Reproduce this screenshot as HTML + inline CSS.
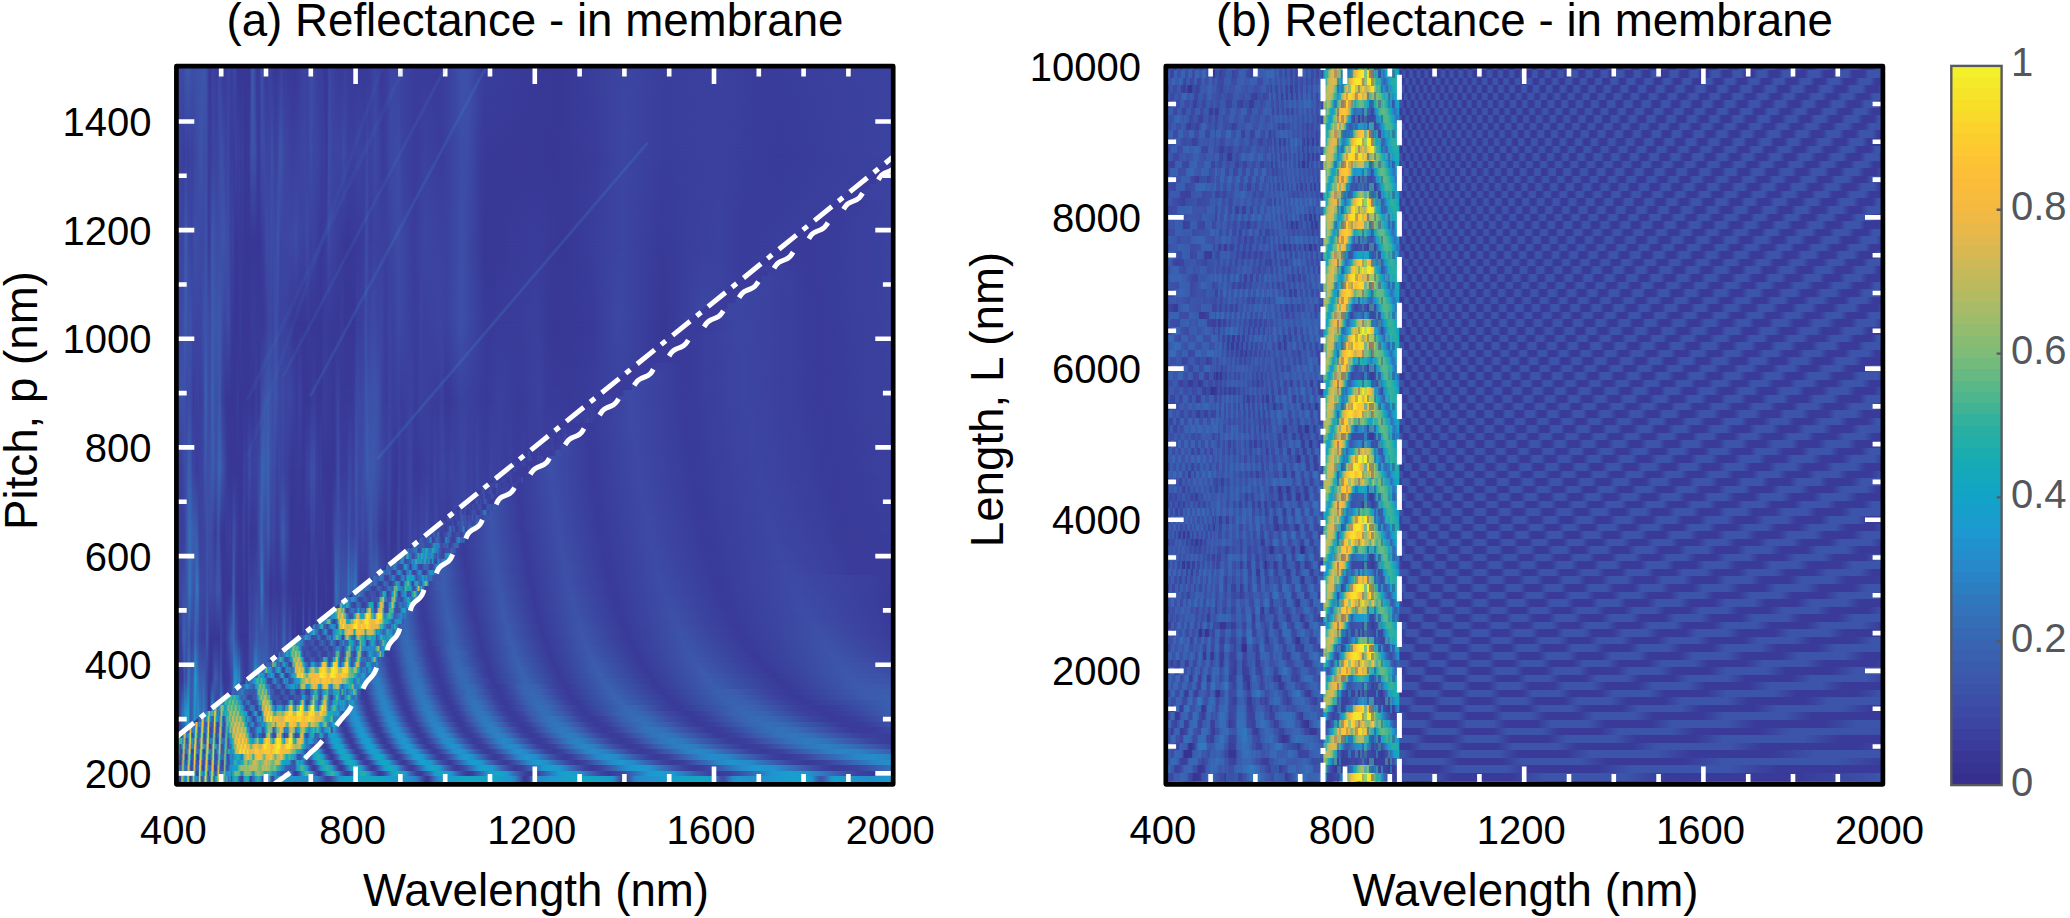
<!DOCTYPE html>
<html lang="en"><head><meta charset="utf-8"><title>Reflectance - in membrane</title>
<style>
html,body{margin:0;padding:0;background:#fff}
body{width:2070px;height:918px;position:relative;overflow:hidden;font-family:"Liberation Sans",Arial,sans-serif}
.hm{position:absolute;overflow:hidden}
.hm i{position:absolute;left:0;width:100%;display:block}
.hm b,.ov{position:absolute;left:0;top:0;display:block}
.ov{width:100%;height:100%}
svg{position:absolute;left:0;top:0}
text{font-family:"Liberation Sans",Arial,sans-serif;fill:#000}
.tk{font-size:40px}
.ti{font-size:45.7px}
.cb{font-size:40px;fill:#53575c}
</style></head>
<body>
<div class="hm" style="left:176.4px;top:66.2px;width:716.8px;height:718.1px;background:#3b3b9a">
<i style="top:0px;height:4.29px;background:linear-gradient(90deg,#3a3c9b 0%,#3a3c9b 100%)"></i>
<i style="top:3.69px;height:6.03px;background:linear-gradient(90deg,#3a3c9b 0%,#3a3c9b 100%)"></i>
<i style="top:9.12px;height:6.03px;background:linear-gradient(90deg,#3a3c9b 0%,#3a3c9b 100%)"></i>
<i style="top:14.56px;height:6.03px;background:linear-gradient(90deg,#3a3c9b 0%,#3a3c9b 100%)"></i>
<i style="top:19.99px;height:6.03px;background:linear-gradient(90deg,#3a3c9b 0%,#3a3c9b 100%)"></i>
<i style="top:25.42px;height:6.03px;background:linear-gradient(90deg,#3a3c9b 0%,#3a3c9b 100%)"></i>
<i style="top:30.85px;height:6.03px;background:linear-gradient(90deg,#3a3c9b 0%,#3a3c9b 100%)"></i>
<i style="top:36.29px;height:6.03px;background:linear-gradient(90deg,#3a3c9b 0%,#3a3c9b 100%)"></i>
<i style="top:41.72px;height:6.03px;background:linear-gradient(90deg,#3a3c9b 0%,#3a3c9b 100%)"></i>
<i style="top:47.15px;height:6.03px;background:linear-gradient(90deg,#3a3c9b 0%,#3a3c9b 100%)"></i>
<i style="top:52.58px;height:6.03px;background:linear-gradient(90deg,#3a3c9b 0%,#3a3c9b 100%)"></i>
<i style="top:58.02px;height:6.03px;background:linear-gradient(90deg,#3a3c9b 0%,#3a3c9b 100%)"></i>
<i style="top:63.45px;height:6.03px;background:linear-gradient(90deg,#3a3c9b 0%,#3a3c9b 100%)"></i>
<i style="top:68.88px;height:6.03px;background:linear-gradient(90deg,#3a3c9b 0%,#3a3c9b 100%)"></i>
<i style="top:74.31px;height:6.03px;background:linear-gradient(90deg,#3a3c9b 0%,#3a3c9b 100%)"></i>
<i style="top:79.75px;height:6.03px;background:linear-gradient(90deg,#3a3c9b 0%,#3a3c9b 100%)"></i>
<i style="top:85.18px;height:6.03px;background:linear-gradient(90deg,#3a3c9b 0%,#3a3c9b 100%)"></i>
<i style="top:90.61px;height:6.03px;background:linear-gradient(90deg,#3a3c9b 0%,#3a3b9a 100%)"></i>
<i style="top:96.04px;height:6.03px;background:linear-gradient(90deg,#3a3c9b 0%,#3a3b9a 100%)"></i>
<i style="top:101.48px;height:6.03px;background:linear-gradient(90deg,#3a3c9b 0%,#3a3b9a 99.4%,#3b43a0 99.6%,#3b43a0 100%)"></i>
<i style="top:106.91px;height:6.03px;background:linear-gradient(90deg,#3a3c9b 0%,#3a3b9a 98.5%,#3b43a0 98.6%,#3b43a0 100%)"></i>
<i style="top:112.34px;height:6.03px;background:linear-gradient(90deg,#3a3c9b 0%,#3a3b9a 97.6%,#3b42a0 97.8%,#3b43a0 100%)"></i>
<i style="top:117.77px;height:6.03px;background:linear-gradient(90deg,#3a3c9b 0%,#3a3b9a 96.7%,#3b429f 96.8%,#3b43a0 100%)"></i>
<i style="top:123.21px;height:6.03px;background:linear-gradient(90deg,#3a3c9b 0%,#3a3b9a 95.7%,#3b419f 96%,#3b43a0 100%)"></i>
<i style="top:128.64px;height:6.03px;background:linear-gradient(90deg,#3a3c9b 0%,#3a3b9a 95%,#3b409e 95.1%,#3b43a0 100%)"></i>
<i style="top:134.07px;height:6.03px;background:linear-gradient(90deg,#3a3c9b 0%,#3a3b9a 94%,#3b43a0 100%)"></i>
<i style="top:139.5px;height:6.03px;background:linear-gradient(90deg,#3a3c9b 0%,#3a3b9a 93.2%,#3b42a0 100%)"></i>
<i style="top:144.94px;height:6.03px;background:linear-gradient(90deg,#3a3c9b 0%,#3a3b9a 92.2%,#3b42a0 100%)"></i>
<i style="top:150.37px;height:6.03px;background:linear-gradient(90deg,#3a3c9b 0%,#3a3b9a 91.2%,#3b42a0 100%)"></i>
<i style="top:155.8px;height:6.03px;background:linear-gradient(90deg,#3a3c9b 0%,#3a3b9a 90.5%,#3b42a0 100%)"></i>
<i style="top:161.23px;height:6.03px;background:linear-gradient(90deg,#3a3c9b 0%,#393a99 89.7%,#3b42a0 100%)"></i>
<i style="top:166.67px;height:6.03px;background:linear-gradient(90deg,#3a3c9b 0%,#393a99 88.8%,#3b42a0 100%)"></i>
<i style="top:172.1px;height:6.03px;background:linear-gradient(90deg,#3a3c9b 0%,#393a99 88.6%,#3b42a0 100%)"></i>
<i style="top:177.53px;height:6.03px;background:linear-gradient(90deg,#3a3c9b 0%,#393a99 88.7%,#3b42a0 100%)"></i>
<i style="top:182.96px;height:6.03px;background:linear-gradient(90deg,#3a3c9b 0%,#393a99 88.7%,#3b42a0 100%)"></i>
<i style="top:188.4px;height:6.03px;background:linear-gradient(90deg,#3a3c9b 0%,#393a99 88.8%,#3b42a0 100%)"></i>
<i style="top:193.83px;height:6.03px;background:linear-gradient(90deg,#3a3c9b 0%,#393a99 88.8%,#3b429f 100%)"></i>
<i style="top:199.26px;height:6.03px;background:linear-gradient(90deg,#3a3c9b 0%,#3b3f9d 83.4%,#393a99 88.8%,#3b429f 100%)"></i>
<i style="top:204.69px;height:6.03px;background:linear-gradient(90deg,#3a3c9b 0%,#3a3b9a 82.4%,#3b419f 82.6%,#393a99 89%,#3b429f 100%)"></i>
<i style="top:210.13px;height:6.03px;background:linear-gradient(90deg,#3a3c9b 0%,#3a3b9a 81.6%,#3b43a0 81.7%,#393a99 89%,#3b429f 100%)"></i>
<i style="top:215.56px;height:6.03px;background:linear-gradient(90deg,#3a3c9b 0%,#3a3b9a 80.6%,#3c44a1 80.8%,#393a99 89.1%,#3b429f 100%)"></i>
<i style="top:220.99px;height:6.03px;background:linear-gradient(90deg,#3a3c9b 0%,#3a3b9a 79.8%,#3c45a2 79.9%,#393a99 89.1%,#3b429f 100%)"></i>
<i style="top:226.42px;height:6.03px;background:linear-gradient(90deg,#3a3c9b 0%,#3a3b9a 78.8%,#3c46a2 78.9%,#393a99 89.3%,#3b429f 100%)"></i>
<i style="top:231.86px;height:6.03px;background:linear-gradient(90deg,#3a3c9b 0%,#3a3b9a 78%,#3c46a3 78.1%,#3c46a3 78.4%,#393a99 89.4%,#3b429f 100%)"></i>
<i style="top:237.29px;height:6.03px;background:linear-gradient(90deg,#3a3c9b 0%,#3a3b9a 76.8%,#3c46a2 77.1%,#3c46a2 78.4%,#393a99 89.4%,#3b429f 100%)"></i>
<i style="top:242.72px;height:6.03px;background:linear-gradient(90deg,#3a3c9b 0%,#3a3b9a 76.2%,#3c44a1 76.3%,#3c46a2 78.5%,#393a99 89.5%,#3b429f 100%)"></i>
<i style="top:248.15px;height:6.03px;background:linear-gradient(90deg,#3a3c9b 0%,#3a3b9a 75.2%,#3b43a0 75.3%,#3c46a2 78.5%,#393a99 89.5%,#3b429f 100%)"></i>
<i style="top:253.59px;height:6.03px;background:linear-gradient(90deg,#3a3c9b 0%,#3a3b9a 74.1%,#3c46a2 78.7%,#393a99 89.7%,#3b429f 100%)"></i>
<i style="top:259.02px;height:6.03px;background:linear-gradient(90deg,#3a3c9b 0%,#3a3b9a 73.4%,#3c46a2 78.7%,#393a99 89.7%,#3b429f 100%)"></i>
<i style="top:264.45px;height:6.03px;background:linear-gradient(90deg,#3a3c9b 0%,#3a3b9a 71.8%,#3c46a2 78.8%,#393a99 89.8%,#3b429f 100%)"></i>
<i style="top:269.88px;height:6.03px;background:linear-gradient(90deg,#3a3c9b 0%,#3a3b9a 71.7%,#3c46a2 78.8%,#393a99 90%,#3b429f 100%)"></i>
<i style="top:275.32px;height:6.03px;background:linear-gradient(90deg,#3a3c9b 0%,#393a99 70.7%,#3c46a2 78.9%,#393a99 90%,#3b429f 100%)"></i>
<i style="top:280.75px;height:6.03px;background:linear-gradient(90deg,#3a3c9b 0%,#393a99 70.7%,#3c45a2 78.9%,#393a99 90.1%,#3b419f 100%)"></i>
<i style="top:286.18px;height:6.03px;background:linear-gradient(90deg,#3a3c9b 0%,#393a99 70.7%,#3c45a2 79.1%,#393a99 90.2%,#3b419f 100%)"></i>
<i style="top:291.61px;height:6.03px;background:linear-gradient(90deg,#3a3c9b 0%,#393a99 70.9%,#3c45a2 79.2%,#393a99 90.2%,#3b419f 100%)"></i>
<i style="top:297.05px;height:6.03px;background:linear-gradient(90deg,#3a3c9b 0%,#3a3b9a 66.1%,#3b409e 67.2%,#393a99 70.9%,#3c45a2 79.2%,#393a99 90.4%,#3b419f 100%)"></i>
<i style="top:302.48px;height:6.03px;background:linear-gradient(90deg,#3a3c9b 0%,#3a3b9a 65.3%,#3a3b9a 66%,#3c44a1 66.2%,#393a99 71%,#3c45a2 79.4%,#393a99 90.5%,#3b419f 100%)"></i>
<i style="top:307.91px;height:6.03px;background:linear-gradient(90deg,#3a3c9b 0%,#3a3b9a 64.3%,#3a3b9a 65.3%,#3c47a3 65.4%,#393a99 70.7%,#3c45a2 78.9%,#393a99 89.8%,#3b419f 100%)"></i>
<i style="top:313.34px;height:6.03px;background:linear-gradient(90deg,#3a3c9b 0%,#3a3b9a 64%,#3b3f9d 64.3%,#3d49a5 64.4%,#393a99 70.7%,#3c45a2 79.1%,#393a99 90%,#3b419f 100%)"></i>
<i style="top:318.78px;height:6.03px;background:linear-gradient(90deg,#3a3c9b 0%,#3a3b9a 63.5%,#3d4aa6 63.6%,#393a99 70.7%,#3c45a2 79.2%,#393a99 90%,#3b419f 100%)"></i>
<i style="top:324.21px;height:6.03px;background:linear-gradient(90deg,#3a3c9b 0%,#3a3b9a 61.5%,#3a3c9b 62.3%,#3d4aa5 62.6%,#3d4aa6 63.3%,#393a99 70.9%,#3c45a2 79.2%,#393a99 90.1%,#3b419f 100%)"></i>
<i style="top:329.64px;height:6.03px;background:linear-gradient(90deg,#3a3c9b 0%,#3a3b9a 59%,#3b409e 60%,#3a3b9a 61.6%,#3c48a4 61.8%,#3d4aa5 63.5%,#393a99 71%,#3c45a2 79.4%,#393a99 90.2%,#3b419f 100%)"></i>
<i style="top:335.07px;height:6.03px;background:linear-gradient(90deg,#3a3c9b 0%,#3a3b9a 58%,#3b429f 58.4%,#3a3b9a 59.6%,#3d4aa5 63.5%,#393a99 71%,#3c45a2 79.5%,#393a99 90.2%,#3b419f 100%)"></i>
<i style="top:340.51px;height:6.03px;background:linear-gradient(90deg,#3a3c9b 0%,#3a3b9a 56.5%,#3b429f 56.6%,#3a3b9a 57%,#3b42a0 57.7%,#3a3b9a 58.7%,#3d4aa5 63.6%,#393a99 71.1%,#3c45a2 79.6%,#393a99 90.4%,#3b419f 100%)"></i>
<i style="top:345.94px;height:6.03px;background:linear-gradient(90deg,#3a3c9b 0%,#3b409e 57.5%,#3a3b9a 57.6%,#3b42a0 57.9%,#3a3c9b 59%,#3d4aa5 63.6%,#393a99 71.1%,#3c45a2 79.8%,#393a99 90.5%,#3b419f 100%)"></i>
<i style="top:351.37px;height:6.03px;background:linear-gradient(90deg,#3a3c9b 0%,#3a3b9a 54.7%,#3b43a0 54.8%,#3a3b9a 55.2%,#3b43a0 56.2%,#3a3b9a 56.3%,#3a3b9a 56.6%,#3c46a2 57.5%,#3a3d9b 57.7%,#3b43a0 58%,#3a3b9a 58.3%,#3d4aa5 63.7%,#393a99 71.3%,#3c45a2 79.8%,#393a99 90.7%,#3b419e 100%)"></i>
<i style="top:356.8px;height:6.03px;background:linear-gradient(90deg,#3a3c9b 0%,#393a99 57.7%,#3d4aa5 63.7%,#393a99 71.4%,#3c45a2 79.9%,#393a99 90.8%,#3b419e 100%)"></i>
<i style="top:362.24px;height:6.03px;background:linear-gradient(90deg,#3a3c9b 0%,#3a3c9b 52.6%,#3c44a1 52.7%,#3a3b9a 53.7%,#3b43a0 54%,#3a3c9b 54.1%,#3c44a1 54.3%,#3a3b9a 54.4%,#3a3b9a 55%,#3a3d9c 56.2%,#3c44a1 56.3%,#3a3c9b 56.5%,#393a99 57.7%,#3d4aa5 63.9%,#393a99 71.4%,#3c45a2 80.1%,#393a99 90.8%,#3b419e 100%)"></i>
<i style="top:367.67px;height:6.03px;background:linear-gradient(90deg,#3a3c9b 0%,#3a3c9b 52.3%,#3b43a0 52.4%,#3a3b9a 52.7%,#3a3c9b 53.3%,#3c44a1 53.4%,#3a3b9a 53.6%,#3a3b9a 53.8%,#3c48a4 54.4%,#3a3e9d 54.5%,#3a3d9c 54.8%,#3c45a2 55%,#3a3d9c 55.1%,#393a99 57.9%,#3d49a5 63.9%,#393a99 71.5%,#3c45a2 80.2%,#393a99 90.9%,#3b409e 100%)"></i>
<i style="top:373.1px;height:6.03px;background:linear-gradient(90deg,#3a3c9b 0%,#3a3c9b 50.8%,#3c47a3 50.9%,#3a3e9c 51%,#3a3c9b 51.3%,#3a3c9b 52.3%,#3c44a1 52.4%,#3a3b9a 52.6%,#3a3b9a 53%,#3a3e9d 53.6%,#3c48a4 53.7%,#3a3c9b 53.8%,#3c45a2 54.3%,#3a3d9c 54.4%,#3c44a1 54.8%,#393a99 57.9%,#3d49a5 64%,#393a99 71.7%,#3c45a2 80.3%,#393a99 91.1%,#3b409e 100%)"></i>
<i style="top:378.53px;height:6.03px;background:linear-gradient(90deg,#3a3c9b 0%,#3a3c9b 49.8%,#3d4aa5 49.9%,#3a3e9d 50.1%,#3d4aa5 50.2%,#3a3c9b 50.3%,#3a3b9a 50.8%,#3c44a1 50.9%,#3a3c9b 51.2%,#3c45a2 51.3%,#3a3c9b 51.5%,#3c44a1 51.7%,#3a3b9a 51.9%,#3b43a0 52%,#3a3b9a 52.2%,#3c45a2 52.3%,#3a3c9b 52.4%,#3c48a4 52.6%,#3a3e9c 52.7%,#3a3c9b 53.1%,#3c45a2 53.3%,#3a3c9b 53.4%,#3a3e9d 53.6%,#3d4ba6 53.7%,#393a99 57.7%,#3d49a5 64%,#393a99 71.7%,#3c45a2 80.5%,#393a99 91.2%,#3b409e 100%)"></i>
<i style="top:383.97px;height:6.03px;background:linear-gradient(90deg,#3a3c9b 0%,#3a3c9b 49%,#3d4ca6 49.1%,#3d4ca6 49.2%,#3a3c9b 49.5%,#3a3d9c 50.5%,#3c45a1 50.6%,#3a3b9a 50.8%,#3a3b9a 51.2%,#3a3c9b 52.4%,#3b43a0 52.9%,#3d4ea7 53%,#393a99 57.9%,#3d49a5 64.2%,#393a99 71.8%,#3c45a2 80.6%,#393a99 91.4%,#3b409e 100%)"></i>
<i style="top:389.4px;height:6.03px;background:linear-gradient(90deg,#3a3c9b 0%,#3a3c9b 48%,#3b42a0 48.4%,#3a3c9b 48.7%,#3a3c9b 49%,#3d4aa5 49.1%,#3b3f9d 49.2%,#3d4aa5 49.4%,#3a3d9b 49.7%,#3a3b9a 50.2%,#3c48a4 50.6%,#3a3c9b 50.8%,#3c47a3 51%,#3a3c9b 51.2%,#3a3c9b 51.5%,#3b43a0 52%,#3d4fa8 52.2%,#393a99 57.9%,#3d49a5 64.3%,#393a99 72%,#3c45a2 80.8%,#393a99 91.5%,#3b409e 100%)"></i>
<i style="top:394.83px;height:6.03px;background:linear-gradient(90deg,#3a3c9b 0%,#3a3c9b 47%,#3d52a9 47.1%,#3b409e 47.3%,#3a3c9b 47.6%,#3b3f9d 48.3%,#3d4ca7 48.4%,#3a3d9c 48.5%,#3d4aa5 48.7%,#3a3c9b 48.8%,#3a3b9a 49.1%,#3a3b9a 50.5%,#3b3f9d 50.8%,#3d4da7 50.9%,#3b429f 51%,#3d4da7 51.2%,#3d4fa8 52.3%,#393a99 58%,#3d49a5 64.3%,#393a99 72%,#3c45a2 80.9%,#393a99 91.6%,#3b409e 100%)"></i>
<i style="top:400.26px;height:6.03px;background:linear-gradient(90deg,#3a3c9b 0%,#3a3c9b 46%,#3c54aa 46.2%,#3b429f 46.3%,#3b3f9d 46.4%,#3d49a5 46.6%,#3a3d9c 46.7%,#3a3c9b 47%,#3d4aa5 47.1%,#3b419e 47.4%,#3a3b9a 48.3%,#3a3c9b 49.1%,#3d49a4 49.2%,#3a3c9b 49.4%,#3a3b9a 49.7%,#3b409e 50.2%,#3c48a4 50.3%,#3d4fa8 52.3%,#393a99 58%,#3d49a5 64.4%,#393a99 72.1%,#3c45a2 81%,#393a99 91.6%,#3b409e 100%)"></i>
<i style="top:405.7px;height:6.03px;background:linear-gradient(90deg,#3a3c9b 0%,#3a3c9b 45.2%,#3c44a1 45.6%,#3a3c9b 45.7%,#3a3e9c 46%,#3d4ba6 46.2%,#3b43a0 46.3%,#3b42a0 46.9%,#3a3c9b 47%,#3a3b9a 48.7%,#3d4fa8 52.4%,#393a99 58.2%,#3d49a5 64.6%,#393a99 72.2%,#3c45a2 81.2%,#393a99 91.8%,#3b409e 100%)"></i>
<i style="top:411.13px;height:6.03px;background:linear-gradient(90deg,#3a3c9b 0%,#3a3c9b 44.2%,#3c47a3 44.4%,#3a3c9b 44.8%,#3c45a2 45.6%,#3a3b9a 46.4%,#3a3e9d 46.6%,#3d4ea7 46.7%,#3a3d9c 46.9%,#3a3c9b 47.6%,#3d4aa5 47.7%,#3b3f9d 47.8%,#3b3f9d 48.1%,#3c52aa 48.3%,#3b409e 48.4%,#3a3c9b 48.5%,#3d4ea8 52.4%,#393a99 58.2%,#3d49a5 64.7%,#393a99 72.4%,#3c45a2 81.3%,#393a99 91.9%,#3b3f9e 100%)"></i>
<i style="top:416.56px;height:6.03px;background:linear-gradient(90deg,#3a3c9b 0%,#3a3c9b 43.2%,#3c56ac 43.4%,#3c46a2 43.5%,#3a3d9c 43.8%,#3d4da7 43.9%,#3a3e9d 44.1%,#3d4fa8 44.2%,#3a3d9c 44.4%,#3b43a0 44.5%,#3c57ac 44.6%,#3c56ac 44.8%,#3a3d9c 45%,#3d4da7 45.2%,#3a3c9b 45.3%,#3c44a1 46%,#3a3b9a 46.7%,#3d4ba6 46.9%,#3b3f9d 47%,#3c44a1 47.4%,#393a99 47.6%,#393a99 47.7%,#3d4ea8 52.6%,#393a99 58.3%,#3d49a5 64.7%,#393a99 72.5%,#3c46a2 81.5%,#393a99 92.1%,#3b3f9d 100%)"></i>
<i style="top:421.99px;height:6.03px;background:linear-gradient(90deg,#3a3c9b 0%,#3a3c9b 42.4%,#3d4fa8 42.8%,#3d4fa8 43%,#3a3d9b 43.1%,#3a3e9d 43.4%,#3c48a4 43.5%,#3c44a1 43.8%,#3c58ac 43.9%,#3a3d9c 44.1%,#3a3c9b 44.6%,#3c53aa 44.8%,#3b409e 44.9%,#3c45a2 45.2%,#3b409e 45.6%,#3d4da7 45.7%,#3a3c9b 45.9%,#3d51a9 46%,#3b3f9d 46.2%,#3c46a2 46.3%,#3a3d9c 46.6%,#393a99 47.7%,#3d4ea8 52.6%,#393a99 58.4%,#3d49a5 64.9%,#393a99 72.7%,#3c46a2 81.7%,#393a99 92.2%,#3b3f9d 100%)"></i>
<i style="top:427.43px;height:6.03px;background:linear-gradient(90deg,#3a3c9b 0%,#3a3c9b 41.4%,#3c46a2 41.8%,#3a3d9c 42.1%,#3d51a9 42.3%,#3a3e9c 42.4%,#3c47a3 42.7%,#3b409e 42.8%,#3c59ad 43%,#3a3c9b 43.2%,#3b42a0 43.9%,#3b5cae 44.1%,#3c44a1 44.2%,#3a3c9b 44.8%,#3c48a4 45.6%,#393a99 47.8%,#3d4ea8 52.7%,#393a99 58.4%,#3d49a5 65%,#393a99 72.7%,#3c46a2 81.9%,#393a99 92.3%,#3b3f9d 100%)"></i>
<i style="top:432.86px;height:6.03px;background:linear-gradient(90deg,#3a3c9b 0%,#3a3c9b 40.4%,#3b419e 40.6%,#3b5bae 40.7%,#3c44a1 40.9%,#3a3d9c 41%,#3a3d9c 41.6%,#3c46a2 41.7%,#3b43a0 41.8%,#3b5bae 42%,#3a3d9c 42.3%,#3a3e9c 42.4%,#3d50a9 42.5%,#3a3c9b 42.7%,#3b429f 42.8%,#3c5aad 43%,#3c44a1 43.1%,#3962b1 43.2%,#3c45a2 43.4%,#3a3c9b 43.8%,#3a3d9c 44.4%,#3d4aa5 44.6%,#3960b0 44.8%,#3c47a3 44.9%,#3d4da7 45%,#393a99 47.8%,#3d4ea8 52.9%,#393a99 58.6%,#3d49a5 65.1%,#393a99 72.8%,#3c46a2 82%,#393a99 92.5%,#3b3f9d 100%)"></i>
<i style="top:438.29px;height:6.03px;background:linear-gradient(90deg,#3a3c9b 0%,#3a3c9b 39.5%,#3c59ad 39.6%,#3c46a2 39.7%,#3b409e 40%,#3b409e 40.3%,#3c55ab 40.4%,#3a3e9c 40.6%,#3c47a3 40.9%,#3a3d9c 41.3%,#3c54ab 41.4%,#3a3e9c 41.6%,#3d51a9 42.4%,#3a3c9b 42.8%,#3a3c9b 43%,#3b3f9d 43.2%,#3c55ab 43.4%,#3d50a8 43.7%,#3c57ac 43.9%,#3b42a0 44.1%,#3b5cae 44.2%,#3c52aa 44.4%,#393a99 48%,#3d4ea8 52.9%,#393a99 58.7%,#3d49a5 65.3%,#393a99 72.9%,#3c46a2 82.3%,#393a99 92.6%,#3b3f9d 100%)"></i>
<i style="top:443.72px;height:6.03px;background:linear-gradient(90deg,#3a3c9b 0%,#3a3c9b 38.6%,#3d4aa5 38.8%,#3a3e9d 39.5%,#3c57ac 39.6%,#3a5eaf 39.7%,#3c45a2 39.9%,#3c46a2 40.2%,#3a5fb0 40.3%,#3a3e9c 40.4%,#3a3c9b 40.9%,#3c46a2 41%,#3b429f 41.1%,#3d50a9 41.4%,#3d4da7 41.8%,#3b3f9d 42%,#3a3e9d 42.3%,#3b3f9d 42.4%,#3d4ea7 42.5%,#3d50a8 42.7%,#3b5daf 42.8%,#2e7abf 43%,#2f7abf 43.1%,#346db7 43.2%,#3d4fa8 43.4%,#3a3e9d 43.5%,#3c54ab 43.7%,#393a99 48.1%,#3d4ea8 53%,#393a99 58.9%,#3d49a5 65.4%,#393a99 73.1%,#3c46a2 82.4%,#393a99 92.7%,#3a3e9d 100%)"></i>
<i style="top:449.16px;height:6.03px;background:linear-gradient(90deg,#3a3c9b 0%,#3a3c9b 37.7%,#3d4da7 37.9%,#3b42a0 38.4%,#3c5aad 38.5%,#3a3e9d 38.6%,#3c45a2 39.2%,#3a3e9c 39.5%,#3c59ad 39.6%,#3d4aa5 39.7%,#3865b2 39.9%,#3d51a9 40%,#3d51a9 40.3%,#3b43a0 40.7%,#3c57ac 41%,#3a3d9c 41.1%,#3b5bae 41.3%,#3b5bae 41.4%,#3a3e9d 41.6%,#3c56ab 41.8%,#3c58ad 42.1%,#3d49a5 42.4%,#3d4fa8 42.5%,#3c45a1 42.8%,#3c52aa 43%,#3c54ab 43.9%,#393a99 48.1%,#3d4ea8 53.1%,#393a99 58.9%,#3d4aa5 65.6%,#393a99 73.2%,#3c46a3 82.6%,#393a99 93%,#3a3e9d 100%)"></i>
<i style="top:454.59px;height:6.03px;background:linear-gradient(90deg,#3a3c9b 0%,#3a3c9b 36.7%,#3c46a3 36.8%,#3d4ba6 37.4%,#3b419e 37.5%,#3c44a1 38.2%,#3a3e9c 38.5%,#3b5bae 38.6%,#3a3d9c 38.8%,#3a3d9c 39.1%,#3b419f 39.2%,#3961b1 39.3%,#3c48a3 39.5%,#3c47a3 39.6%,#3c58ac 39.7%,#3c58ad 39.9%,#356bb6 40%,#3d4da7 40.2%,#3d4ca6 40.3%,#3a5eaf 40.4%,#3b3f9d 40.6%,#3d51a9 40.7%,#3c53aa 41.1%,#3c44a1 41.3%,#3c52aa 41.8%,#2c7ec2 42%,#3d50a9 42.1%,#3d4ca7 42.3%,#3c54aa 44.2%,#393a99 48.1%,#3d4ea8 53.3%,#393a99 59%,#3d4aa5 65.7%,#393a99 73.4%,#3c47a3 82.8%,#393a99 93.2%,#3a3e9c 100%)"></i>
<i style="top:460.02px;height:6.03px;background:linear-gradient(90deg,#3a3c9b 0%,#3a3c9b 35.8%,#3d4ea7 36.1%,#3a3e9c 37.8%,#3d4ca6 37.9%,#3d4ca7 38.1%,#2b80c4 38.2%,#3b5cae 38.4%,#3c47a3 38.5%,#3d49a4 38.6%,#3865b2 38.8%,#3c45a2 38.9%,#3a3e9c 39.3%,#3c52aa 39.5%,#3d50a9 39.9%,#2d7dc1 40%,#2e7bc0 40.2%,#3c52aa 40.3%,#3c46a2 40.4%,#3b43a0 40.6%,#3767b3 40.7%,#3c48a4 40.9%,#2191cd 41%,#3865b2 41.1%,#346db7 41.3%,#3960b0 41.4%,#3c44a1 41.6%,#3c54ab 44.1%,#393a99 48.1%,#3d4ea8 53.3%,#393a99 59.1%,#3d4aa5 65.8%,#393a99 73.6%,#3c47a3 83.1%,#393a99 93.3%,#3a3e9c 100%)"></i>
<i style="top:465.45px;height:6.03px;background:linear-gradient(90deg,#3a3c9b 0%,#3a3c9b 34.9%,#3d52a9 35%,#3c55ab 35.3%,#3d4ca7 35.4%,#3c48a4 35.8%,#3176bc 36%,#3d4da7 36.1%,#3d4da7 36.4%,#3370b9 36.5%,#3962b1 36.7%,#3b409e 36.8%,#3a3e9c 37.1%,#3d4ca6 37.5%,#3d4ca6 37.8%,#3864b2 37.9%,#366ab5 38.1%,#3b5daf 38.2%,#3b5daf 38.4%,#3b409e 38.5%,#3b3f9d 38.6%,#3d52a9 39.3%,#3b42a0 39.5%,#3767b3 39.6%,#3b3f9d 39.7%,#3b3f9d 39.9%,#3c58ad 40%,#3d4ea7 40.2%,#2a82c5 40.3%,#2c7ec2 40.6%,#3864b2 40.7%,#3a60b0 40.9%,#3a3e9c 41%,#3c54ab 43.9%,#393a99 48.4%,#3d4ea8 53.4%,#393a99 59.3%,#3d4aa5 66%,#393a99 73.8%,#3c47a3 83.3%,#3a3a99 93.4%,#3a3d9c 100%)"></i>
<i style="top:470.89px;height:6.03px;background:linear-gradient(90deg,#3a3c9b 0%,#3a3c9b 33.9%,#3864b2 34%,#3d49a4 34.7%,#3d4ea8 35%,#3b5cae 35.1%,#3d4ea8 35.3%,#2a82c4 35.4%,#2a82c4 35.6%,#3b429f 35.7%,#3d4ea7 36.1%,#3768b4 36.3%,#356bb5 36.5%,#3c53aa 36.7%,#3c53aa 36.8%,#3b429f 37%,#3a3e9d 37.4%,#3a5faf 37.5%,#238ecc 37.7%,#3962b1 37.8%,#356bb6 37.9%,#3669b5 38.1%,#3d4ca7 38.2%,#3b429f 38.5%,#3a3e9d 38.9%,#3864b2 39.1%,#3273ba 39.2%,#3273bb 39.3%,#16a0cb 39.5%,#3669b4 39.6%,#3b5cae 39.7%,#3370b9 39.9%,#3d4ea7 40%,#2f78be 40.2%,#393a99 40.3%,#3c54ab 44.1%,#393a99 48.5%,#3d4fa8 53.6%,#393a99 59.4%,#3d4aa5 66.1%,#393a99 73.9%,#3c47a3 83.5%,#3a3a99 93.6%,#3a3d9c 100%)"></i>
<i style="top:476.32px;height:6.03px;background:linear-gradient(90deg,#3a3c9b 0%,#3a3c9b 32.9%,#2b80c4 33.1%,#3c58ac 33.3%,#2290cd 33.5%,#3d52a9 33.6%,#3c57ac 34.2%,#3a5fb0 34.3%,#3d52a9 34.4%,#3a5eaf 34.6%,#3d4ca6 34.7%,#3d4ba6 35.6%,#3865b2 35.7%,#3865b2 35.8%,#17abb3 36%,#2a83c6 36.1%,#2c7ec2 36.5%,#2788c9 36.7%,#3c59ad 36.8%,#3d4aa5 37%,#3c46a3 37.1%,#3c58ad 37.2%,#3c59ad 37.8%,#356bb6 37.9%,#3b419f 38.1%,#3b43a0 38.2%,#3d4ca7 38.5%,#3766b3 38.8%,#3669b5 39.3%,#3d4aa6 39.5%,#3a3c9b 39.6%,#393a99 40%,#3c55ab 44.1%,#393a99 48.7%,#3d4fa8 53.7%,#393a99 59.6%,#3d4aa6 66.2%,#393a99 74.1%,#3c48a3 83.8%,#3a3b9a 93.7%,#3a3d9b 100%)"></i>
<i style="top:481.75px;height:6.03px;background:linear-gradient(90deg,#3a3c9b 0%,#3a3c9b 32.1%,#3b5cae 32.2%,#2f78be 32.4%,#3c54aa 32.6%,#3864b2 32.8%,#3a5daf 32.9%,#3961b1 33.1%,#2985c7 33.2%,#3766b3 33.3%,#2d7cc1 33.5%,#366ab5 33.6%,#3d49a5 33.8%,#3c47a3 34%,#3a5faf 34.2%,#3a60b0 34.3%,#16abb5 34.4%,#2c7fc2 34.6%,#258bca 34.7%,#1fadab 34.9%,#13a6c1 35%,#13a6c1 35.1%,#3272ba 35.3%,#2e7bc0 35.4%,#2e7bc0 35.6%,#248dcb 35.7%,#26afa5 35.8%,#2290cd 36%,#1f96d0 36.1%,#2d7dc1 36.3%,#2c7ec2 36.5%,#3960b0 36.7%,#3b43a0 37.2%,#3b429f 37.4%,#3d4fa8 37.5%,#3d4ca6 38.1%,#3d52a9 38.2%,#3865b2 38.4%,#3c54ab 38.8%,#3960b0 38.9%,#3b42a0 39.1%,#393a99 40.2%,#3c55ab 44.2%,#393a99 48.7%,#3d4fa8 53.8%,#393a99 59.7%,#3d4ba6 66.5%,#393a99 74.2%,#3c48a4 84.1%,#3a3b9a 93.9%,#3a3c9b 100%)"></i>
<i style="top:487.18px;height:6.03px;background:linear-gradient(90deg,#3a3c9b 0%,#3a3c9b 31.1%,#248ccb 31.2%,#2b81c4 31.5%,#14a1ca 31.7%,#3767b3 31.8%,#3a60b0 32.1%,#4cb58f 32.2%,#1c99d1 32.4%,#2886c8 32.5%,#3767b3 32.6%,#2a82c5 32.8%,#3d4aa5 32.9%,#3d4aa6 33.1%,#3c59ad 33.2%,#3b5bae 33.3%,#3371b9 33.5%,#356bb5 33.6%,#2eb09e 33.8%,#2984c6 33.9%,#2985c7 34%,#1c9ad0 34.2%,#49b590 34.3%,#1e96d0 34.4%,#248dcc 34.7%,#33b19b 34.9%,#2a82c4 35%,#2789c9 35.1%,#2983c6 35.6%,#22aea8 35.7%,#2a83c6 35.8%,#366ab5 36%,#3767b3 36.1%,#3d4da7 36.3%,#3d4aa5 36.4%,#2b81c4 36.5%,#3c54ab 36.7%,#3c47a3 37.2%,#3d4ca6 37.4%,#336fb8 37.5%,#13a6c2 37.7%,#3c57ac 37.8%,#18acb2 37.9%,#1cacaf 38.1%,#3c54aa 38.2%,#3c44a1 39.1%,#393a99 40.2%,#3c55ab 44.4%,#393a99 48.8%,#3d4fa8 54%,#393a99 59.8%,#3d4ba6 66.7%,#393a99 74.5%,#3c48a4 84.2%,#3a3b9a 94.1%,#3a3c9b 100%)"></i>
<i style="top:492.62px;height:6.03px;background:linear-gradient(90deg,#3a3c9b 0%,#3a3c9b 30.1%,#3077bd 30.3%,#3669b4 30.4%,#23aea7 30.5%,#14a8bc 30.7%,#3c58ac 30.8%,#3c5aad 31%,#3669b4 31.1%,#3767b3 31.2%,#2788c9 31.4%,#258bcb 31.5%,#2788c9 31.7%,#346db7 31.8%,#3d49a4 31.9%,#3c54ab 32.2%,#3c54aa 32.5%,#356bb6 32.6%,#3c58ac 32.8%,#15a1ca 32.9%,#2e7bc0 33.1%,#258aca 33.2%,#2787c8 33.3%,#45b492 33.5%,#2094cf 33.6%,#1f95d0 33.8%,#258bca 34%,#1dadae 34.2%,#3273bb 34.3%,#2886c8 34.4%,#2788c9 34.6%,#30b19d 34.7%,#2984c6 34.9%,#3174bb 35%,#3078be 35.1%,#16abb4 35.3%,#3b5bae 35.4%,#3b5cae 35.7%,#13a5c4 35.8%,#3d4ea7 36%,#3c44a1 36.4%,#2c7fc2 36.5%,#2093cf 36.7%,#3c55ab 36.8%,#346db7 37%,#346db7 37.1%,#268aca 37.2%,#2b80c3 37.4%,#1f96d0 37.5%,#3d50a8 37.7%,#3c56ac 37.8%,#393a99 40.3%,#3c55ab 44.4%,#393a99 49%,#3d4fa8 54.1%,#393a99 60%,#3d4ba6 66.8%,#393a99 74.6%,#3c48a4 84.7%,#3a3b9a 94.3%,#3a3c9b 100%)"></i>
<i style="top:498.05px;height:6.03px;background:linear-gradient(90deg,#3a3c9b 0%,#3a3c9b 29.3%,#2a82c5 29.4%,#3c58ad 29.7%,#3962b1 29.8%,#3a5eaf 30.1%,#3766b2 30.3%,#2094cf 30.4%,#2d7dc1 30.5%,#3766b3 30.8%,#3d4ba6 31%,#3d50a9 31.1%,#3c45a1 31.5%,#3865b2 31.7%,#3767b3 31.8%,#18abb2 31.9%,#1e96d0 32.1%,#2b80c3 32.2%,#3766b3 32.5%,#3b43a0 32.6%,#3b43a0 32.8%,#3077bd 32.9%,#2f79be 33.1%,#1d97d1 33.3%,#2d7cc0 33.6%,#3d4ca7 33.8%,#3d50a8 34%,#3b419e 34.2%,#3b419e 34.3%,#3c59ad 34.4%,#3b5bae 34.6%,#346eb8 34.7%,#3961b0 35%,#356bb6 35.1%,#3c44a1 35.4%,#3c47a3 35.8%,#3a60b0 36%,#258bca 36.3%,#2689ca 36.4%,#2f79be 36.5%,#3076bc 36.7%,#2788c9 36.8%,#3d51a9 37%,#3b5cae 37.1%,#3b5bae 37.4%,#393a99 40.4%,#3c55ab 44.5%,#393a99 49.1%,#3d50a8 54.3%,#393a99 60.1%,#3d4ba6 67.1%,#393a99 74.9%,#3d49a4 84.9%,#3a3b9a 94.4%,#3a3b9a 100%)"></i>
<i style="top:503.48px;height:6.03px;background:linear-gradient(90deg,#3a3c9b 0%,#3a3c9b 28.3%,#346db7 28.5%,#3174bb 28.6%,#3669b4 28.7%,#3077bd 28.9%,#3b5cae 29.3%,#3271b9 29.4%,#3766b3 29.6%,#2e7abf 29.8%,#3d49a4 30.1%,#3b429f 30.5%,#3766b3 30.8%,#2290cd 31%,#3370b9 31.1%,#189dcd 31.2%,#3767b3 31.4%,#3272ba 31.5%,#3b43a0 31.7%,#3b42a0 31.8%,#3d4ba6 31.9%,#3c48a4 32.1%,#2192ce 32.2%,#3768b4 32.4%,#1a9bce 32.5%,#189ecd 32.6%,#258bca 32.8%,#3d4ea8 32.9%,#3c53aa 33.1%,#3b419f 33.2%,#3b419f 33.3%,#3b5bae 33.5%,#3c56ab 33.6%,#1b9ad0 33.9%,#2a82c4 34%,#2b80c3 34.2%,#346db7 34.3%,#3c45a2 34.4%,#3c44a1 34.9%,#3865b2 35%,#3961b0 35.1%,#2c7ec2 35.3%,#2887c8 35.4%,#13a6c3 35.6%,#356cb6 35.7%,#12a3c8 35.8%,#356cb6 36%,#3077bd 36.1%,#3c53aa 36.3%,#3b5bae 36.7%,#3b5bae 37.5%,#393a99 40.6%,#3c55ab 44.6%,#393a99 49.2%,#3d50a8 54.4%,#393a99 60.3%,#3d4ca6 67.2%,#393a99 75%,#3d49a5 85.2%,#3a3b9a 94.7%,#3a3b9a 100%)"></i>
<i style="top:508.91px;height:6.03px;background:linear-gradient(90deg,#3a3c9b 0%,#3a3c9b 27.3%,#3864b2 27.5%,#336fb8 27.6%,#3b5bae 28.2%,#3176bc 28.5%,#2e7abf 28.6%,#356cb6 28.7%,#3174bb 28.9%,#3c56ac 29%,#3c48a4 29.1%,#3b429f 29.6%,#3767b3 29.8%,#3c57ac 30%,#3176bc 30.1%,#2788c9 30.3%,#3c59ad 30.4%,#2f78be 30.5%,#3b43a0 30.7%,#3d4ca7 31%,#3d49a5 31.2%,#3371b9 31.4%,#3076bd 31.5%,#248ccb 31.7%,#268aca 31.8%,#3a5eaf 31.9%,#3a5eaf 32.1%,#1dadad 32.2%,#14a8bc 32.4%,#15a9b9 32.5%,#189ecd 32.6%,#12a4c7 32.8%,#1a9cce 32.9%,#12a5c6 33.1%,#2886c8 33.2%,#2b80c3 33.3%,#3c53aa 33.5%,#3c58ac 33.6%,#356db6 33.8%,#3768b3 34%,#2b80c4 34.2%,#2e7bc0 34.3%,#179ecc 34.4%,#189dcd 34.6%,#356cb6 34.7%,#1e97d1 34.9%,#258bca 35%,#346eb8 35.1%,#3768b3 35.6%,#2a82c5 35.7%,#3d51a9 35.8%,#3b5bae 37.5%,#393a99 40.6%,#3c56ab 44.8%,#393a99 49.4%,#3d50a9 54.5%,#393a99 60.4%,#3d4ca7 67.5%,#393a99 75.3%,#3d4aa5 85.5%,#3a3b9a 100%)"></i>
<i style="top:514.35px;height:6.03px;background:linear-gradient(90deg,#3a3c9b 0%,#3a3c9b 26.4%,#3864b2 26.5%,#3c56ac 26.6%,#3b5daf 26.8%,#2885c7 27.1%,#346db7 27.2%,#3b5bae 27.5%,#356bb6 27.6%,#346fb8 27.8%,#3962b1 28%,#3c47a3 28.2%,#3b429f 28.7%,#3b5bae 28.9%,#3d50a8 29%,#3273bb 29.1%,#3b5cae 29.4%,#3864b2 29.6%,#3b43a0 29.7%,#3b43a0 30%,#3d4ba6 30.3%,#3370b9 30.4%,#3a60b0 30.5%,#15a8bb 30.7%,#1bacaf 30.8%,#2787c9 31%,#2789c9 31.1%,#2a83c5 31.2%,#3b429f 31.4%,#3b429f 31.5%,#3864b2 31.7%,#3c57ac 31.8%,#15a1ca 31.9%,#26afa5 32.1%,#38b299 32.2%,#61b885 32.4%,#5db886 32.5%,#2887c8 32.6%,#2886c8 32.8%,#3c45a2 32.9%,#3c46a2 33.1%,#2f7abf 33.2%,#1f95cf 33.3%,#1a9bcf 33.5%,#2ab0a1 33.6%,#2985c7 33.8%,#3961b0 33.9%,#2e7abf 34%,#3c54ab 34.2%,#3963b1 34.3%,#15a1cb 34.4%,#12a5c6 34.6%,#59b788 34.7%,#96bc6e 34.9%,#20adaa 35%,#19acb1 35.1%,#3c46a3 35.3%,#3c58ac 36.4%,#3b5cae 37.4%,#393a99 40.7%,#3c56ab 44.9%,#393a99 49.5%,#3d50a9 54.7%,#393a99 60.7%,#3d4da7 67.6%,#393a99 75.5%,#3d4aa5 85.8%,#3a3b9a 100%)"></i>
<i style="top:519.78px;height:6.03px;background:linear-gradient(90deg,#3a3c9b 0%,#3a3c9b 25.5%,#3b5bae 25.7%,#3077bd 25.9%,#3b5cae 26.1%,#3a5fb0 26.2%,#3866b2 26.4%,#2984c6 26.5%,#3b5bae 26.6%,#3174bb 26.8%,#3d51a9 26.9%,#3b5daf 27.1%,#3c47a3 27.2%,#3b42a0 27.8%,#3d50a8 27.9%,#3d50a9 28%,#3669b4 28.2%,#366ab5 28.3%,#3c58ad 28.5%,#3d52a9 28.6%,#3c56ab 28.7%,#3b43a0 28.9%,#3b42a0 29%,#3d50a9 29.1%,#3d50a9 29.3%,#3272ba 29.6%,#3273ba 29.8%,#3c5aad 30.3%,#65b982 30.4%,#65b983 30.5%,#4eb68d 30.7%,#6fba7e 30.8%,#1a9bcf 31%,#3078bd 31.1%,#1a9cce 31.2%,#3370b8 31.4%,#238fcc 31.5%,#3962b1 31.7%,#3a5fb0 31.8%,#37b29a 31.9%,#4db68e 32.1%,#13a7c1 32.2%,#18abb2 32.6%,#16aab6 32.8%,#3767b3 32.9%,#3d50a8 33.2%,#3d4ea8 33.3%,#2886c8 33.5%,#258bcb 33.6%,#e7b849 33.8%,#ccb957 33.9%,#16a0cb 34%,#1d98d1 34.2%,#81bc76 34.3%,#3c58ad 34.4%,#3077bd 34.6%,#3a3d9c 34.7%,#3c57ac 36.4%,#3b5daf 37.4%,#393a99 41%,#3c56ac 45%,#393a99 49.7%,#3d51a9 54.8%,#393a99 60.8%,#3d4da7 67.9%,#393a99 75.7%,#3d4ba6 86.2%,#3a3a99 100%)"></i>
<i style="top:525.21px;height:6.03px;background:linear-gradient(90deg,#3a3c9b 0%,#3a3c9b 24.5%,#3a5faf 24.7%,#3076bd 24.8%,#3a5fb0 25%,#3963b1 25.1%,#3273ba 25.2%,#346db7 25.4%,#2788c9 25.5%,#3a5eaf 25.7%,#2b81c4 25.8%,#3961b0 25.9%,#3960b0 26.2%,#3c48a4 26.4%,#3b42a0 26.8%,#3d4ca7 26.9%,#3d4aa5 27.1%,#3b5aae 27.2%,#3d50a9 27.3%,#3c52aa 27.8%,#3b43a0 27.9%,#3b43a0 28%,#3c45a1 28.3%,#3961b1 28.5%,#3a5fb0 28.7%,#21aea9 28.9%,#22aea8 29%,#13a5c5 29.1%,#13a3c9 29.3%,#3b429f 29.4%,#3b429f 29.6%,#3c56ac 29.7%,#3d50a8 30%,#14a1ca 30.1%,#199cce 30.3%,#9abc6c 30.4%,#a0bc6a 30.5%,#14a8bc 30.7%,#1cacae 30.8%,#3c45a2 31%,#3c44a1 31.2%,#3a5fb0 31.4%,#2b80c3 31.5%,#2c7ec2 31.7%,#1d98d1 31.9%,#1d98d1 32.1%,#3d51a9 32.2%,#3d4fa8 32.5%,#3b5cae 32.6%,#3c55ab 32.8%,#13a6c2 32.9%,#14a8bc 33.1%,#66b982 33.2%,#6dba7f 33.3%,#13a6c2 33.5%,#2a82c5 33.6%,#3863b1 33.8%,#3c58ac 33.9%,#3b5daf 34%,#393a99 34.2%,#3a5daf 37.4%,#393a99 41.1%,#3c57ac 45.2%,#393a99 49.8%,#3d51a9 55.1%,#393a99 60.9%,#3d4da7 68.2%,#393a99 76%,#3d4ba6 86.5%,#393a99 100%)"></i>
<i style="top:530.64px;height:6.03px;background:linear-gradient(90deg,#3a3c9b 0%,#3a3c9b 23.6%,#2886c8 23.7%,#3174bb 23.8%,#2789c9 24%,#2885c7 24.1%,#3b5cae 24.3%,#2093ce 24.4%,#2689ca 24.8%,#3273ba 25.1%,#3273ba 25.2%,#3d4ca7 25.4%,#3b42a0 25.7%,#3c59ad 26.4%,#3c59ad 26.5%,#3d4ca7 26.6%,#3c53aa 26.8%,#3b43a0 26.9%,#3b43a0 27.1%,#3c57ac 27.2%,#3c59ad 27.3%,#3d4ea7 27.8%,#3b5daf 27.9%,#3c54aa 28%,#3c52aa 28.3%,#60b885 28.5%,#56b789 28.6%,#7cbc78 28.7%,#b6bb61 28.9%,#c3ba5c 29%,#2d7cc1 29.1%,#2f79be 29.3%,#3d4fa8 29.6%,#3a5faf 29.7%,#3b5cae 30%,#90bc70 30.1%,#6cba80 30.3%,#adbb65 30.4%,#a8bb67 30.5%,#3272ba 30.7%,#3370b8 30.8%,#3d4fa8 31%,#3a5fb0 31.1%,#3c59ad 31.2%,#3c48a4 31.4%,#3d49a5 31.5%,#3767b3 31.7%,#3767b3 31.8%,#2c7fc2 31.9%,#2192ce 32.2%,#1fadac 32.4%,#16aab6 32.5%,#2788c9 32.6%,#2a82c5 32.8%,#3865b2 32.9%,#248dcc 33.1%,#2e7abf 33.3%,#7bbc79 33.5%,#35b19b 33.6%,#3a3d9c 33.8%,#393a99 34.3%,#3a5eaf 37.5%,#393a99 41.1%,#3c57ac 45.3%,#393a99 49.9%,#3d52a9 55.2%,#393a99 61.2%,#3d4ea7 68.5%,#393a99 76.3%,#3d4ca6 86.9%,#393a99 100%)"></i>
<i style="top:536.08px;height:6.03px;background:linear-gradient(90deg,#3a3c9b 0%,#3a3c9b 22.7%,#1d98d1 22.9%,#a8bb67 23%,#2093cf 23.2%,#2885c7 23.3%,#199dce 23.4%,#238ecc 23.6%,#3078bd 23.7%,#2fb09e 23.8%,#18abb2 24%,#2a82c5 24.1%,#3174bb 24.3%,#3c52aa 24.4%,#3b43a0 25%,#3a5eaf 25.1%,#3a5eaf 25.2%,#3175bc 25.4%,#3865b2 25.5%,#3b5cae 25.8%,#3b43a0 25.9%,#3b43a0 26.2%,#3c45a1 26.5%,#3c59ad 26.6%,#3c59ad 26.8%,#1dadad 26.9%,#25aea6 27.1%,#16abb5 27.2%,#15aab8 27.5%,#3c48a4 27.6%,#3c45a2 27.8%,#3d4ca6 28%,#179ecc 28.2%,#14a1ca 28.3%,#d7b852 28.5%,#ecb846 28.6%,#f5b940 28.7%,#82bc76 28.9%,#49b590 29%,#3c47a3 29.1%,#3c54aa 29.6%,#1b9acf 29.7%,#14a2c9 30%,#cbb958 30.1%,#cdb957 30.3%,#14a7c0 30.4%,#14a8be 30.5%,#3c47a3 30.7%,#3d4da7 30.8%,#3864b2 31%,#3b5cae 31.1%,#3175bc 31.2%,#2f78be 31.4%,#3b5cae 31.7%,#3961b1 31.8%,#2b81c4 31.9%,#3863b1 32.1%,#268aca 32.2%,#13a6c4 32.4%,#12a4c8 32.5%,#43b493 32.6%,#74bb7c 32.8%,#1e97d0 32.9%,#3768b4 33.1%,#3d4aa5 33.2%,#393a99 34.3%,#3a5eaf 37.7%,#393a99 41.3%,#3c58ac 45.5%,#393a99 50.1%,#3c52aa 55.4%,#393a99 61.4%,#3d4ea8 68.8%,#393a99 76.6%,#3d4ca7 87.3%,#393a99 100%)"></i>
<i style="top:541.51px;height:6.03px;background:linear-gradient(90deg,#3a3c9b 0%,#3a3c9b 21.8%,#179fcc 21.9%,#2f7abf 22%,#15a1ca 22.2%,#a2bc69 22.3%,#50b68c 22.5%,#7bbc78 22.6%,#d9b851 22.7%,#dbb850 22.9%,#80bc76 23%,#50b68d 23.2%,#a4bc68 23.3%,#91bc6f 23.4%,#3962b1 23.6%,#366ab5 23.7%,#3c44a1 23.8%,#3b43a0 24%,#3a5eaf 24.1%,#3c5aae 24.3%,#2b81c4 24.4%,#346fb8 24.5%,#2f78be 24.7%,#3c5aae 25%,#3863b1 25.2%,#12a5c6 25.4%,#189dcd 25.5%,#3b5bae 25.7%,#2e7bc0 26.1%,#3076bd 26.2%,#3d51a9 26.4%,#3d4ea7 26.5%,#67b982 26.6%,#70ba7e 26.8%,#fbbc3a 26.9%,#fdbf37 27.1%,#1f95cf 27.2%,#189ecd 27.3%,#1f95cf 27.5%,#3b5cae 27.6%,#3c53aa 27.8%,#3c55ab 28%,#baba60 28.2%,#acbb65 28.3%,#f3b842 28.5%,#f6ba3f 28.6%,#f4b841 28.7%,#179ecc 28.9%,#1a9cce 29%,#3c48a4 29.1%,#3d4fa8 29.6%,#36b29a 29.7%,#4db68e 29.8%,#2db09e 30%,#66b982 30.1%,#4cb68e 30.3%,#3a5eaf 30.4%,#3a5eaf 30.5%,#3d4ba6 30.7%,#3c54aa 31.1%,#3d4fa8 31.2%,#2b81c4 31.4%,#2689ca 31.5%,#16aab6 31.7%,#2192ce 31.8%,#14a2ca 31.9%,#2886c8 32.1%,#3c59ad 32.2%,#356bb5 32.5%,#3c59ad 32.6%,#3c56ab 32.8%,#393a99 34.4%,#3a5faf 37.8%,#393a99 41.4%,#3c58ad 45.6%,#393a99 50.2%,#3c53aa 55.6%,#393a99 61.6%,#3d4fa8 69%,#393a99 77%,#3d4da7 87.7%,#393a99 100%)"></i>
<i style="top:546.94px;height:6.03px;background:linear-gradient(90deg,#3a3c9b 0%,#3a3c9b 20.8%,#12a5c6 20.9%,#346db7 21.1%,#3077bd 21.2%,#356cb6 21.3%,#1f96d0 21.8%,#14a1ca 21.9%,#258ccb 22%,#27afa4 22.2%,#199cce 22.3%,#4fb68d 22.5%,#f6b93f 22.6%,#dbb850 22.7%,#8bbc72 22.9%,#dfb84e 23%,#fbbc3a 23.2%,#d4b853 23.3%,#85bc74 23.4%,#4bb58f 23.6%,#6cba7f 23.7%,#3273ba 23.8%,#2886c8 24%,#3c53aa 24.1%,#3c55ab 24.7%,#13a6c3 24.8%,#16a0cb 25%,#aebb64 25.1%,#acbb65 25.2%,#f3b842 25.4%,#d2b955 25.5%,#16abb5 25.7%,#21adaa 25.8%,#199dcd 25.9%,#1a9bcf 26.2%,#ddb84f 26.4%,#bfba5e 26.5%,#f4ec2b 26.6%,#f3ef2b 26.8%,#fdc930 26.9%,#fccf2d 27.1%,#50b68c 27.2%,#5cb887 27.3%,#4ab590 27.5%,#1e97d0 27.6%,#1f95cf 27.8%,#d9b851 27.9%,#dfb84e 28%,#f3ee2b 28.2%,#f3ef2b 28.3%,#f9d62b 28.5%,#fbd02d 28.6%,#f6e028 28.7%,#1eadac 28.9%,#1cacae 29%,#2886c8 29.1%,#2a82c5 29.3%,#23aea7 29.4%,#2cb09f 29.6%,#54b78a 29.8%,#31b19c 30%,#1b9bcf 30.1%,#2192ce 30.3%,#3c57ac 30.4%,#3c55ab 30.5%,#356bb5 30.7%,#3962b1 30.8%,#3176bc 31%,#2c7ec2 31.1%,#3078bd 31.2%,#238ecc 31.4%,#2787c9 31.5%,#3962b1 31.7%,#2b81c4 31.9%,#3963b1 32.2%,#3b409e 33.9%,#393a99 34.6%,#3a5fb0 37.9%,#393a99 41.6%,#3c59ad 45.7%,#393a99 50.5%,#3c53aa 55.8%,#393a99 61.9%,#3d50a8 69.3%,#393a99 77.3%,#3d4da7 88.1%,#393a99 100%)"></i>
<i style="top:552.37px;height:6.03px;background:linear-gradient(90deg,#3a3c9b 0%,#3a3c9b 19.8%,#13a5c5 19.9%,#2d7ec2 20.1%,#1d98d1 20.2%,#346db7 20.4%,#3669b4 20.5%,#258ccb 20.6%,#2a82c5 20.8%,#1b9acf 20.9%,#47b591 21.1%,#8dbc71 21.2%,#5cb887 21.3%,#6dba7f 21.5%,#3864b2 21.6%,#3962b1 21.8%,#3c46a2 21.9%,#3c45a2 22.2%,#3a5eaf 22.3%,#3962b1 22.5%,#85bc75 22.6%,#50b68d 22.7%,#fdc533 22.9%,#fbd02d 23%,#deb84f 23.2%,#d4b853 23.3%,#fccf2d 23.4%,#f9bb3c 23.6%,#a7bc67 23.7%,#12a3c8 23.8%,#12a5c6 24%,#19acb1 24.1%,#1eadad 24.3%,#8abc72 24.4%,#8bbc72 24.5%,#6dba7f 24.7%,#fdc135 24.8%,#f7ba3e 25%,#fdcc2f 25.1%,#f4e92a 25.2%,#fdbd38 25.4%,#fdbe38 25.5%,#cdb957 25.8%,#dfb84e 25.9%,#fabc3b 26.1%,#fabc3b 26.2%,#f3ef2b 26.4%,#f7de28 26.5%,#f3ef2b 26.8%,#fdc036 26.9%,#fdc036 27.1%,#d3b954 27.2%,#f4b841 27.3%,#edb846 27.5%,#fbbc3a 27.8%,#fbd02d 28%,#fbd22d 28.2%,#fdc632 28.3%,#e0b84d 28.5%,#e0b84d 28.7%,#44b493 28.9%,#52b78b 29%,#15a8bb 29.1%,#16abb4 29.3%,#12a4c8 29.4%,#179fcc 29.6%,#2b80c3 29.7%,#3176bc 30%,#3b5daf 30.1%,#3a5eaf 30.4%,#2c7fc3 30.5%,#1f94cf 30.7%,#2788c9 30.8%,#14a7bf 31%,#248dcb 31.1%,#2092ce 31.4%,#356cb6 31.5%,#3d4fa8 31.7%,#3768b3 31.8%,#3766b3 32.1%,#3b409e 34%,#393a99 34.7%,#3a60b0 38.1%,#393a99 41.8%,#3c59ad 45.9%,#393a99 50.6%,#3c54ab 56.1%,#393a99 62.2%,#3d50a9 69.6%,#393a99 77.7%,#3d4ea8 88.6%,#393a99 100%)"></i>
<i style="top:557.81px;height:6.03px;background:linear-gradient(90deg,#3a3c9b 0%,#3a3c9b 19%,#2c7ec2 19.1%,#248dcc 19.2%,#3a5fb0 19.5%,#3962b1 19.7%,#2d7cc0 19.8%,#3864b2 19.9%,#15a0cb 20.1%,#12a5c7 20.2%,#47b591 20.4%,#199cce 20.5%,#3b5cae 20.6%,#3b5cae 20.9%,#3c47a3 21.1%,#3c44a1 21.2%,#366ab5 21.3%,#3175bb 21.5%,#1f95d0 21.6%,#248ecc 21.8%,#1f94cf 21.9%,#2788c9 22%,#1e96d0 22.2%,#3d4fa8 22.3%,#3d50a8 22.5%,#13a5c4 22.6%,#29afa2 22.7%,#fdc632 22.9%,#bdba5e 23%,#fdc036 23.2%,#f3ee2b 23.3%,#fdcc2e 23.4%,#c4ba5b 23.6%,#fdc831 23.7%,#ccb957 23.8%,#b5bb62 24%,#e5b84a 24.1%,#dbb850 24.3%,#f8bb3d 24.4%,#efb844 24.5%,#fdbd38 24.7%,#f5e629 24.8%,#f6e229 25%,#f4eb2a 25.1%,#f6e429 25.2%,#fdc533 25.4%,#f6b93f 25.5%,#ecb846 25.7%,#fdc334 25.8%,#f8db29 25.9%,#fdbd38 26.1%,#fdbd38 26.2%,#fdc831 26.4%,#fdc334 26.5%,#f6e429 26.6%,#fdcb2f 26.9%,#f9bb3c 27.1%,#f5b940 27.2%,#deb84e 27.3%,#f2b843 27.6%,#d6b852 27.9%,#f3b842 28%,#c7b95a 28.2%,#d9b851 28.3%,#2fb19d 28.5%,#4db68e 28.7%,#16a0cb 28.9%,#12a4c8 29%,#2e7bc0 29.1%,#2a82c5 29.3%,#3b5cae 29.4%,#3a5eaf 29.6%,#3370b9 29.7%,#3c58ad 29.8%,#3961b0 30%,#13a6c3 30.1%,#3272ba 30.3%,#16a0cb 30.4%,#2bb0a0 30.5%,#248dcc 30.7%,#3c56ab 31.1%,#3865b2 31.4%,#3768b3 32.1%,#3b409e 34.2%,#393a99 34.9%,#3961b0 38.2%,#393a99 42%,#3c5aad 46.2%,#393a99 50.9%,#3c55ab 56.3%,#393a99 62.5%,#3d51a9 69.9%,#393a99 78%,#3d4fa8 89%,#3a3b9a 100%)"></i>
<i style="top:563.24px;height:6.03px;background:linear-gradient(90deg,#3a3c9b 0%,#3a3c9b 18%,#346eb8 18.1%,#3a5fb0 18.4%,#2e7abf 18.7%,#1d98d1 18.8%,#2192ce 19%,#16a0cb 19.1%,#3db397 19.2%,#2093cf 19.4%,#3271ba 19.5%,#2a83c5 19.7%,#3a5eaf 19.8%,#3c47a3 20.1%,#3c46a2 20.2%,#3b5bae 20.4%,#3962b1 20.5%,#3176bc 20.6%,#2094cf 20.8%,#199cce 20.9%,#3864b2 21.1%,#3b5cae 21.2%,#3c45a2 21.3%,#3c45a2 21.5%,#3d4ea7 21.8%,#2290cd 21.9%,#2a82c5 22%,#238fcc 22.2%,#13a6c2 22.3%,#19acb1 22.5%,#21adaa 22.7%,#5ab887 22.9%,#50b68d 23%,#1d98d1 23.2%,#1e96d0 23.3%,#179fcc 23.4%,#dbb850 23.6%,#aebb64 23.7%,#d8b851 23.8%,#fabb3b 24.1%,#f3b842 24.3%,#bfba5e 24.4%,#d9b851 24.5%,#d9b851 24.7%,#14a7bf 24.8%,#19acb1 25%,#dcb84f 25.1%,#f4b941 25.2%,#f3b842 25.4%,#fdbf36 25.5%,#f5b940 25.8%,#cbb958 25.9%,#edb845 26.1%,#f0b844 26.2%,#14a7bf 26.4%,#15aab8 26.5%,#dab851 26.6%,#bfba5e 26.8%,#e4b84b 26.9%,#e1b84d 27.1%,#c2ba5c 27.2%,#dfb84e 27.3%,#c8b959 27.5%,#78bc7a 27.6%,#4cb58f 27.8%,#2d7cc1 27.9%,#228fcd 28%,#13a5c4 28.3%,#2b81c4 28.5%,#2886c7 28.7%,#3960b0 28.9%,#3077bd 29.3%,#14a7bf 29.4%,#29afa2 29.6%,#2984c6 29.7%,#1e96d0 30%,#2b80c4 30.1%,#3865b2 30.4%,#2093ce 30.7%,#1e96d0 30.8%,#3b5bae 31%,#3669b4 32.2%,#3b409e 34.3%,#393a99 35%,#3961b1 38.4%,#393a99 42.1%,#3b5bae 46.3%,#393a99 51%,#3c56ab 56.5%,#393a99 62.8%,#3d52a9 70.3%,#393a99 78.4%,#3d50a8 89.4%,#3a3b9a 100%)"></i>
<i style="top:568.67px;height:6.03px;background:linear-gradient(90deg,#3a3c9b 0%,#3a3c9b 17%,#3c58ad 17.2%,#3b5bae 17.3%,#346eb7 17.4%,#3960b0 17.6%,#356bb5 17.7%,#2788c9 18%,#14a2ca 18.1%,#2a83c5 18.3%,#14a2ca 18.4%,#346db7 18.5%,#1d98d1 18.7%,#3c54ab 18.8%,#3d4aa5 19.1%,#3d4fa8 19.4%,#3961b1 19.8%,#2985c7 19.9%,#3b5bae 20.1%,#3c56ac 20.2%,#3c44a1 20.4%,#3c44a1 20.5%,#3d4ca6 20.9%,#2c7fc2 21.1%,#3669b4 21.2%,#366ab5 21.3%,#189ecd 21.5%,#3a5eaf 21.6%,#3c56ab 21.8%,#2093cf 21.9%,#1d98d1 22%,#2290cd 22.2%,#4eb68d 22.3%,#6aba80 22.5%,#1dadad 22.6%,#28afa3 22.7%,#248ecc 22.9%,#199cce 23%,#3c48a4 23.2%,#3d4aa5 23.4%,#47b591 23.6%,#28afa3 23.7%,#c0ba5d 23.8%,#ccb957 24%,#34b19b 24.1%,#34b19b 24.3%,#2c7ec2 24.4%,#3370b9 24.7%,#3c57ac 24.8%,#3c57ac 25%,#55b78a 25.1%,#3fb395 25.2%,#d6b852 25.4%,#a7bb67 25.5%,#4cb58f 25.7%,#68b981 25.8%,#22aea9 25.9%,#1cacae 26.1%,#2ab0a1 26.2%,#346db7 26.4%,#356ab5 26.5%,#15a9ba 26.6%,#15a9b9 26.8%,#3bb397 26.9%,#3eb396 27.1%,#1a9cce 27.2%,#1a9cce 27.5%,#13a5c5 27.6%,#16abb4 27.8%,#3c55ab 27.9%,#3c5aad 28%,#2d7dc1 28.2%,#3174bb 28.3%,#199cce 28.5%,#5cb887 28.6%,#2bb0a0 28.7%,#238ecc 28.9%,#2192ce 29%,#1f94cf 29.1%,#3076bc 29.3%,#16aab6 29.4%,#2b80c3 29.6%,#35b29a 29.7%,#1c99d0 29.8%,#3cb397 30%,#2985c7 30.1%,#16a0cb 30.3%,#3b5daf 30.4%,#3d4da7 30.5%,#3865b2 31.5%,#366ab5 32.2%,#3b409e 34.4%,#393a99 35.1%,#3962b1 38.5%,#393a99 42.3%,#3b5cae 46.4%,#393a99 51.3%,#3c56ac 56.8%,#393a99 63%,#3c53aa 70.6%,#393a99 78.8%,#3d51a9 90%,#3a3c9b 100%)"></i>
<i style="top:574.1px;height:6.03px;background:linear-gradient(90deg,#3a3c9b 0%,#3a3c9b 16.2%,#3961b0 16.3%,#48b590 16.5%,#4eb68d 16.6%,#16abb4 16.7%,#2985c7 16.9%,#1a9bcf 17%,#1a9bcf 17.2%,#3175bc 17.4%,#2a83c6 17.6%,#3175bc 17.7%,#3c58ad 17.9%,#3a5daf 18%,#3d49a4 18.1%,#3d4aa5 18.4%,#3c52aa 18.5%,#3d4ca7 18.7%,#3c59ad 19%,#3d4ea7 19.1%,#3c56ab 19.2%,#3b43a0 19.4%,#3c45a1 19.9%,#3767b3 20.1%,#3c52aa 20.2%,#356cb6 20.4%,#3078bd 20.5%,#3d4ba6 20.6%,#3c54ab 20.8%,#3d51a9 20.9%,#3b429f 21.1%,#3b429f 21.2%,#3c55ab 21.3%,#3d51a9 21.5%,#268aca 21.6%,#3078bd 21.8%,#2e7abf 21.9%,#3b5bae 22%,#3865b2 22.2%,#3c48a4 22.3%,#3c44a1 22.7%,#2d7dc1 22.9%,#3962b1 23%,#346eb7 23.2%,#2093ce 23.3%,#2a83c5 23.4%,#3c55ab 23.6%,#3669b4 23.7%,#3c5aae 24%,#15aab7 24.1%,#28afa3 24.3%,#13a3c9 24.4%,#15a1ca 24.5%,#14a1ca 24.7%,#3371b9 24.8%,#2c7ec2 25%,#3d4ca6 25.1%,#3c53aa 25.2%,#3175bc 25.4%,#3371b9 25.5%,#6fba7e 25.7%,#70ba7e 25.8%,#14a8bc 25.9%,#29afa2 26.1%,#16abb5 26.2%,#248dcc 26.4%,#2e7bc0 26.5%,#3c44a1 26.6%,#3c45a2 26.8%,#346fb8 26.9%,#3371b9 27.1%,#12a5c6 27.2%,#16aab6 27.3%,#15a1ca 27.6%,#2d7dc1 27.8%,#3a5eaf 27.9%,#3c53aa 28.2%,#3078be 28.5%,#2a83c6 28.7%,#91bc70 28.9%,#15a9bb 29%,#2ab0a1 29.1%,#1b9acf 29.3%,#248dcb 29.4%,#356cb6 29.6%,#3c56ac 29.7%,#3c53aa 29.8%,#3a3d9c 30%,#3863b1 31.5%,#356bb6 32.2%,#3865b2 32.9%,#3d4ca7 34%,#393a99 35.3%,#3863b1 38.6%,#393a99 42.5%,#3b5daf 46.7%,#393a99 51.6%,#3c57ac 57%,#393a99 63.3%,#3c54aa 71%,#393a99 79.4%,#3d52a9 90.4%,#3a3e9c 100%)"></i>
<i style="top:579.54px;height:6.03px;background:linear-gradient(90deg,#3a3c9b 0%,#3a3c9b 15.2%,#3864b2 15.3%,#3271b9 15.5%,#356bb6 15.6%,#179ecc 15.8%,#169fcb 15.9%,#22aea8 16%,#27afa4 16.2%,#8fbc70 16.3%,#80bc76 16.5%,#23aea7 16.6%,#4cb58f 16.7%,#5fb885 16.9%,#3bb397 17%,#13a5c4 17.2%,#3078bd 17.3%,#2a83c5 17.4%,#3d4fa8 17.6%,#3c54aa 17.7%,#3d4ba6 18.1%,#3d51a9 18.4%,#3b43a0 18.5%,#3c44a1 19%,#3d51a9 19.1%,#3d4ca6 19.2%,#3c59ad 19.4%,#3c55ab 19.7%,#3c47a3 19.8%,#3d4ba6 19.9%,#3b429f 20.2%,#3c47a3 20.5%,#3b5bae 20.8%,#3d51a9 20.9%,#3960b0 21.1%,#3c46a3 21.3%,#3b43a0 21.8%,#3a5fb0 21.9%,#3962b1 22%,#3c58ad 22.2%,#3176bc 22.3%,#2985c7 22.6%,#2a83c6 22.7%,#356cb6 22.9%,#366ab5 23%,#3d4fa8 23.2%,#3d4aa5 23.4%,#3078bd 23.6%,#3a5daf 23.7%,#13a6c1 23.8%,#14a8bc 24%,#8fbc70 24.1%,#7cbc78 24.3%,#268aca 24.4%,#2788c9 24.7%,#3961b1 24.8%,#3b5daf 25%,#268aca 25.1%,#14a8be 25.2%,#20adaa 25.4%,#1aacb1 25.5%,#a8bb67 25.7%,#78bb7a 25.8%,#2290cd 25.9%,#2887c8 26.1%,#268aca 26.2%,#3076bd 26.4%,#1e96d0 26.5%,#2d7dc1 26.6%,#2093ce 26.8%,#2a83c5 27.1%,#248ccb 27.3%,#2b81c4 27.8%,#86bc74 27.9%,#2bb0a0 28%,#bdba5e 28.2%,#9bbc6c 28.3%,#3668b4 28.5%,#3175bc 28.6%,#1e97d1 28.7%,#2985c7 28.9%,#1f94cf 29%,#28afa3 29.1%,#16a0cb 29.3%,#30b19d 29.4%,#393a99 29.6%,#393a99 29.7%,#3d4ea7 30.8%,#3864b2 31.7%,#356cb6 32.4%,#3864b2 33.2%,#3b3f9d 34.9%,#393a99 35.6%,#3b3f9d 36.3%,#3a5fb0 38.1%,#3864b2 38.9%,#393a99 42.7%,#3a5daf 47%,#393a99 51.9%,#3c58ad 57.3%,#393a99 63.7%,#3c55ab 71.4%,#393a99 79.9%,#3c53aa 90.9%,#3b3f9d 100%)"></i>
<i style="top:584.97px;height:6.03px;background:linear-gradient(90deg,#3a3c9b 0%,#3a3c9b 14.2%,#258bca 14.4%,#3a60b0 14.5%,#3a60b0 14.8%,#366ab5 14.9%,#2b80c3 15.1%,#2f78be 15.2%,#248dcb 15.3%,#12a5c6 15.5%,#12a5c6 15.6%,#3078be 15.8%,#1f95d0 15.9%,#29afa2 16%,#89bc73 16.3%,#31b19c 16.5%,#9dbc6b 16.6%,#c0ba5d 16.7%,#72bb7d 16.9%,#3eb396 17%,#a3bc68 17.2%,#3cb397 17.3%,#14a8bd 17.4%,#3c55ab 17.6%,#3a5eaf 17.7%,#3c44a1 17.9%,#3b43a0 18%,#3c55ab 18.1%,#3d4fa8 18.4%,#3c56ac 18.5%,#3c48a4 18.8%,#3b429f 19.2%,#3c48a4 19.7%,#3b5cae 19.9%,#3c45a1 20.4%,#3b43a0 20.9%,#3c53aa 21.1%,#3d4da7 21.2%,#3960b0 21.3%,#3d4ba6 21.6%,#3d49a5 21.8%,#3b5bae 21.9%,#3b5daf 22.2%,#4cb58f 22.3%,#41b494 22.6%,#58b788 22.7%,#3b5bae 22.9%,#3d49a5 23.2%,#3c47a3 23.4%,#3176bc 23.6%,#3371b9 23.7%,#a5bc68 23.8%,#88bc73 24.1%,#69ba81 24.3%,#3865b2 24.4%,#3c5aad 24.7%,#3c44a1 24.8%,#3c44a1 25%,#3175bc 25.1%,#2f78be 25.2%,#89bc73 25.4%,#aebb64 25.5%,#6cba80 25.7%,#67b982 25.8%,#3c58ad 25.9%,#3b5cae 26.1%,#3b43a0 26.4%,#3c44a1 26.5%,#3766b3 26.6%,#3a5eaf 26.8%,#1b9ad0 26.9%,#15a1ca 27.1%,#18abb3 27.2%,#2a82c5 27.3%,#268aca 27.5%,#346eb8 27.6%,#2d7cc1 27.8%,#3767b3 27.9%,#2886c8 28%,#12a4c8 28.2%,#2689ca 28.3%,#bcba5f 28.5%,#1c99d1 28.6%,#1d98d1 28.7%,#258bca 28.9%,#1a9bcf 29%,#3b43a0 29.1%,#393a99 29.8%,#3b409e 30.4%,#3767b3 31.9%,#346db7 32.6%,#3865b2 33.3%,#3b3f9d 35%,#393a99 35.7%,#3b3f9d 36.4%,#3a5fb0 38.2%,#3865b2 39.1%,#3a5eaf 40%,#3a3e9d 42.1%,#393a99 43%,#3a5eaf 47.1%,#393a99 52.2%,#3c59ad 57.7%,#393a99 64.2%,#3c56ab 71.8%,#393a99 80.5%,#3c54aa 91.4%,#3b429f 100%)"></i>
<i style="top:590.4px;height:6.03px;background:linear-gradient(90deg,#3a3c9b 0%,#3a3c9b 13.4%,#1f95cf 13.5%,#2192ce 13.7%,#3b5bae 13.8%,#3c57ac 13.9%,#2788c9 14.1%,#3768b3 14.2%,#2886c8 14.4%,#50b68d 14.5%,#3ab298 14.6%,#2789c9 14.8%,#1bacaf 14.9%,#3962b1 15.1%,#3d51a9 15.3%,#3d52a9 15.6%,#3272ba 15.8%,#3b5bae 15.9%,#15a1ca 16%,#1b9acf 16.2%,#57b789 16.3%,#b5bb62 16.5%,#d9b851 16.6%,#7cbc78 16.7%,#95bc6e 16.9%,#e3b84c 17%,#cdb957 17.2%,#48b590 17.3%,#8abc72 17.4%,#14a8bd 17.6%,#15a1ca 17.7%,#3d51a9 17.9%,#3d52a9 18%,#3b429f 18.1%,#3b429f 18.4%,#3d4fa8 18.5%,#3d4aa5 18.7%,#3961b0 18.8%,#3d50a9 19.1%,#3961b0 19.2%,#3c45a2 19.4%,#3c44a1 19.7%,#3b42a0 19.9%,#3c56ab 20.1%,#3c5aad 20.5%,#38b299 20.6%,#1cacae 20.8%,#36b29a 20.9%,#2b81c4 21.1%,#2885c7 21.2%,#3c47a3 21.3%,#3c46a3 21.5%,#3c55ab 21.6%,#3c52aa 21.8%,#15a9ba 21.9%,#1bacaf 22%,#15a9b9 22.2%,#ceb956 22.3%,#d4b853 22.5%,#1cacae 22.6%,#15a9b9 22.7%,#3d4ea7 22.9%,#3d4ca7 23%,#3a60b0 23.2%,#3c54aa 23.3%,#3c55ab 23.4%,#1fadab 23.6%,#3fb395 23.7%,#d6b853 23.8%,#dcb84f 24%,#15a9ba 24.1%,#14a8bd 24.3%,#3c54ab 24.4%,#3963b1 24.8%,#3c56ab 25%,#26afa5 25.1%,#1bacaf 25.2%,#b6bb61 25.4%,#9dbc6b 25.5%,#1b9bcf 25.7%,#238fcc 25.8%,#3961b1 25.9%,#2f79be 26.1%,#3a5fb0 26.2%,#2c7ec2 26.4%,#3b5cae 26.6%,#3960b0 26.8%,#2e7bc0 26.9%,#3b5daf 27.1%,#248ccb 27.2%,#14a8be 27.3%,#15a8bb 27.5%,#9bbc6c 27.6%,#6aba80 27.8%,#2887c8 27.9%,#2b80c3 28%,#3c55ab 28.2%,#3865b2 28.5%,#3c55ab 28.6%,#393a99 30%,#3b3f9d 30.5%,#366ab5 32.2%,#346fb8 32.8%,#3c57ac 34.2%,#3b409e 35.1%,#393a99 35.8%,#3b409e 36.7%,#3961b1 38.5%,#3766b3 39.3%,#393a99 43.1%,#3a60b0 47.4%,#393a99 52.4%,#3b5bae 58%,#393a99 64.6%,#3c57ac 72.2%,#393a99 81%,#3c55ab 91.9%,#3c44a1 100%)"></i>
<i style="top:595.83px;height:6.03px;background:linear-gradient(90deg,#3a3c9b 0%,#3a3c9b 12.4%,#3766b3 12.6%,#3175bc 12.7%,#3864b2 12.8%,#3768b3 13.4%,#c5ba5b 13.5%,#1c99d0 13.7%,#81bc76 13.8%,#32b19c 13.9%,#3a5faf 14.1%,#2e7abf 14.4%,#3c54ab 14.5%,#3d4fa8 14.6%,#3176bc 14.8%,#2a82c5 14.9%,#1aacb0 15.1%,#199cce 15.2%,#356db7 15.3%,#3077bd 15.5%,#356cb6 15.6%,#3c45a2 15.8%,#3c46a2 15.9%,#3c58ad 16.2%,#79bc79 16.3%,#50b68c 16.5%,#76bb7b 16.6%,#d1b955 16.7%,#fcbc39 16.9%,#d3b954 17%,#8abc73 17.2%,#e8b849 17.3%,#f9bb3c 17.4%,#6bba80 17.6%,#47b591 17.7%,#1e96d0 17.9%,#2b81c4 18%,#2f79be 18.1%,#3b5bae 18.3%,#3176bc 18.4%,#3c47a3 18.5%,#3c48a3 18.7%,#238fcc 18.8%,#1d98d1 19%,#1bacaf 19.1%,#15aab7 19.2%,#3370b9 19.4%,#3175bc 19.5%,#346fb8 19.7%,#3d51a9 19.8%,#3b5bae 19.9%,#2a83c6 20.1%,#2789c9 20.2%,#e3b84b 20.4%,#fdc334 20.6%,#f9bb3c 20.8%,#fdc434 20.9%,#179ecc 21.1%,#1c9ad0 21.2%,#3c55ab 21.3%,#3c53aa 21.5%,#14a2c9 21.6%,#1b9ad0 21.8%,#f9d72b 21.9%,#fdcc2f 22%,#f8db29 22.2%,#fcce2e 22.3%,#fbd12d 22.5%,#14a2c9 22.6%,#199cce 22.7%,#3c53aa 22.9%,#3c56ac 23%,#1e97d1 23.2%,#1a9bcf 23.4%,#fdbe37 23.6%,#fbd22c 23.7%,#fdc831 23.8%,#f8dc29 24%,#189ecd 24.1%,#199dcd 24.3%,#3d51a9 24.4%,#3c52aa 24.7%,#258bca 24.8%,#238ecc 25%,#d4b954 25.1%,#e7b849 25.2%,#abbb65 25.4%,#b0bb63 25.5%,#356bb5 25.7%,#366ab5 25.8%,#3c57ac 25.9%,#3a5daf 26.1%,#3c55ab 26.2%,#3864b2 26.4%,#3962b1 26.5%,#14a8bd 26.6%,#1bacb0 26.8%,#2a83c5 26.9%,#15a9b9 27.1%,#3961b0 27.2%,#346fb8 27.3%,#3370b8 27.9%,#1f95d0 28%,#346db7 28.2%,#3b419f 29.6%,#393a99 30.1%,#3b3f9d 30.7%,#3c56ab 31.5%,#356bb5 32.4%,#3370b9 32.9%,#3669b4 33.6%,#3b3f9d 35.4%,#393a99 36.1%,#3b3f9e 36.8%,#3961b1 38.6%,#3767b3 39.5%,#393a99 43.4%,#3961b0 47.7%,#393a99 52.7%,#3b5cae 58.4%,#393a99 65%,#3c58ad 72.7%,#393a99 81.7%,#3c56ab 92.5%,#3c48a4 100%)"></i>
<i style="top:601.27px;height:6.03px;background:linear-gradient(90deg,#3a3c9b 0%,#3a3c9b 11.4%,#3078be 11.6%,#2984c6 11.7%,#199dcd 11.9%,#3766b3 12%,#3b5cae 12.1%,#248ccb 12.3%,#2291cd 12.4%,#a1bc69 12.6%,#3ab298 12.7%,#1e97d0 12.8%,#13a5c5 13%,#15aab7 13.1%,#258bcb 13.2%,#268aca 13.4%,#3c5aae 13.5%,#3c56ab 13.7%,#3a5eaf 13.8%,#2a82c4 13.9%,#248dcc 14.1%,#1cacae 14.2%,#27afa4 14.4%,#346db7 14.5%,#2290cd 14.6%,#3c47a3 14.8%,#3c45a2 14.9%,#3d4ea8 15.2%,#2b80c3 15.3%,#2191ce 15.5%,#2d7ec2 15.6%,#3077bd 15.8%,#34b19b 15.9%,#366ab5 16%,#3767b3 16.2%,#2689ca 16.3%,#2c7fc3 16.5%,#dab851 16.6%,#e4b84b 16.7%,#cdb957 16.9%,#cbb958 17%,#fdc731 17.2%,#fdc334 17.3%,#bbba5f 17.4%,#d0b955 17.6%,#fdc234 17.7%,#58b789 17.9%,#15a9b9 18%,#2e7abf 18.1%,#3175bc 18.3%,#2e7bc0 18.4%,#22aea8 18.5%,#3eb396 18.7%,#b9ba60 18.8%,#b7ba61 19%,#dab851 19.1%,#e0b84d 19.2%,#44b493 19.4%,#63b984 19.5%,#42b494 19.7%,#4cb58f 19.8%,#76bb7b 19.9%,#fbd22d 20.1%,#fdc831 20.2%,#fad52b 20.4%,#f3ef2b 20.5%,#f5e429 20.6%,#fccf2e 20.8%,#fdc930 20.9%,#b3bb62 21.1%,#aebb64 21.2%,#8abc72 21.3%,#8ebc71 21.5%,#fdca30 21.6%,#f7df28 21.8%,#f3ef2b 21.9%,#f3ef2b 22%,#fbd32c 22.3%,#f9d62b 22.5%,#a1bc69 22.6%,#b9ba60 22.7%,#aabb66 22.9%,#81bc76 23%,#fdc135 23.2%,#fad52b 23.3%,#f6e028 23.7%,#fcce2e 23.8%,#f9d72b 24%,#72bb7d 24.1%,#84bc75 24.3%,#29afa2 24.4%,#52b78b 24.5%,#37b299 24.7%,#93bc6f 24.8%,#c1ba5d 25%,#90bc70 25.1%,#70ba7e 25.2%,#16abb4 25.4%,#1fadab 25.5%,#3370b9 25.7%,#3272ba 25.8%,#3865b2 25.9%,#248ccb 26.1%,#346eb8 26.2%,#1f94cf 26.4%,#356cb6 26.5%,#3865b2 26.6%,#3273ba 26.8%,#15a1cb 26.9%,#1d98d1 27.1%,#2886c8 27.2%,#248dcb 27.3%,#3865b2 27.5%,#3b5cae 27.6%,#2e7bc0 27.8%,#2e7abf 27.9%,#3c59ad 29%,#3b429f 29.7%,#393a99 30.3%,#3a3e9d 30.8%,#3768b3 32.4%,#3371b9 33.1%,#346db7 33.6%,#3c57ac 34.6%,#3b409e 35.6%,#393a99 36.3%,#3b419e 37.1%,#3963b1 38.9%,#3669b4 39.7%,#3961b0 40.7%,#3b3f9d 42.8%,#393a99 43.7%,#3962b1 48%,#393a99 53.1%,#3b5daf 58.7%,#393a99 65.6%,#3c59ad 73.2%,#393a99 82.4%,#3c57ac 93%,#3d4ba6 100%)"></i>
<i style="top:606.7px;height:6.03px;background:linear-gradient(90deg,#3a3c9b 0%,#3a3c9b 10.5%,#346db7 10.6%,#3865b2 10.7%,#346fb8 10.9%,#346db7 11.2%,#3963b1 11.3%,#2789c9 11.4%,#5db886 11.6%,#258bca 11.7%,#228fcd 11.9%,#14a7c0 12%,#179ecc 12.1%,#248dcc 12.3%,#3a5eaf 12.4%,#3c5aae 12.6%,#3a5daf 12.7%,#258ccb 12.8%,#2985c7 13%,#3767b3 13.1%,#14a8be 13.2%,#1c99d0 13.4%,#248ccb 13.5%,#258ccb 13.7%,#3c46a2 13.8%,#3c44a1 13.9%,#3d4da7 14.1%,#3d4da7 14.4%,#179fcc 14.5%,#2e7cc0 14.6%,#2cb09f 14.8%,#17abb4 14.9%,#3766b3 15.1%,#3960b0 15.2%,#3b429f 15.3%,#3b429f 15.6%,#356ab5 15.8%,#3c56ab 15.9%,#2d7dc1 16%,#1b9acf 16.2%,#12a5c6 16.5%,#5cb887 16.6%,#15aab7 16.7%,#f4b941 16.9%,#fad62b 17%,#fabb3b 17.2%,#c2ba5c 17.3%,#fdc831 17.4%,#f5e629 17.6%,#fabc3b 17.7%,#9cbc6b 17.9%,#f6ba3f 18%,#5eb886 18.1%,#5eb886 18.3%,#65b982 18.4%,#d3b954 18.5%,#f4b941 18.7%,#fdbf37 18.8%,#f4b941 19%,#f8bb3d 19.9%,#f6e229 20.1%,#f3ef2b 20.2%,#f5e72a 20.4%,#f3ef2b 20.5%,#fad42c 20.6%,#f7dd29 20.9%,#f9bb3c 21.1%,#f4b941 21.2%,#fcbc39 21.5%,#f3ef2b 21.6%,#f3ef2b 21.8%,#f3ed2b 21.9%,#f8db29 22%,#f5e82a 22.2%,#fbbc3a 22.3%,#fdc831 22.5%,#deb84e 22.6%,#f6ba3f 22.7%,#fcbc39 22.9%,#f4b941 23%,#fad62b 23.2%,#fdc533 23.3%,#fdc036 23.4%,#fdca30 23.6%,#fbbc3a 23.7%,#e5b84a 24%,#62b984 24.1%,#9cbc6b 24.3%,#52b68c 24.4%,#58b789 24.5%,#73bb7c 24.7%,#2cb09f 24.8%,#27afa4 25%,#179ecc 25.1%,#189ecd 25.2%,#2c7ec2 25.4%,#3076bd 25.5%,#2985c7 25.7%,#346fb8 25.8%,#16a0cb 25.9%,#1d98d1 26.1%,#13a5c4 26.2%,#3078bd 26.4%,#13a3c9 26.5%,#3b5daf 26.6%,#346eb7 26.8%,#3c54ab 27.1%,#3273bb 27.3%,#2d7cc0 28%,#3b5bae 29.1%,#3b43a0 29.8%,#393a99 30.5%,#3b409e 31.1%,#3c58ac 31.9%,#346db7 32.8%,#3272ba 33.3%,#356bb5 34%,#3b3f9d 35.8%,#393a99 36.5%,#3b3f9d 37.2%,#3864b2 39.2%,#366ab5 40%,#3962b1 41%,#3b3f9d 43.1%,#393a99 43.9%,#3863b1 48.4%,#393a99 53.4%,#3a5eaf 59.1%,#393a99 66%,#3b5bae 73.8%,#393a99 83.3%,#3c58ac 93.6%,#3d4fa8 100%)"></i>
<i style="top:612.13px;height:6.03px;background:linear-gradient(90deg,#3a3c9b 0%,#3a3c9b 9.6%,#3078bd 9.8%,#3961b0 9.9%,#3c56ac 10.2%,#2e7cc0 10.3%,#356cb6 10.5%,#2984c6 10.6%,#2b81c4 10.7%,#179fcc 11%,#24aea7 11.2%,#46b591 11.3%,#4db68e 11.4%,#16aab6 11.6%,#17abb3 11.7%,#57b789 11.9%,#43b493 12%,#14a7c0 12.1%,#13a3c9 12.3%,#1dadad 12.4%,#3767b3 12.6%,#3076bc 12.7%,#3c45a2 12.8%,#3c48a4 13.4%,#2d7cc0 13.5%,#3272ba 13.7%,#189dcd 13.8%,#3a5eaf 14.1%,#3c57ac 14.4%,#3b429f 14.5%,#3b429f 14.6%,#3c56ab 14.8%,#3d51a9 14.9%,#1a9bce 15.1%,#16abb5 15.2%,#356bb5 15.3%,#2093ce 15.5%,#3d4ea8 15.8%,#3d4ea8 15.9%,#3b5daf 16%,#3c5aad 16.2%,#2e7bc0 16.5%,#12a4c7 16.6%,#2094cf 16.7%,#189ecd 17.2%,#3bb397 17.3%,#47b591 17.4%,#8bbc72 17.6%,#88bc73 17.7%,#9bbc6c 17.9%,#9fbc6a 18%,#f5b940 18.1%,#e6b849 18.3%,#fbbc3a 18.4%,#a0bc6a 18.5%,#a1bc69 18.7%,#e9b848 18.8%,#fbbc3a 19%,#f9bb3c 19.2%,#efb845 19.4%,#fdc234 19.5%,#f4b941 19.7%,#fdca30 19.8%,#fdbf37 19.9%,#d6b852 20.1%,#f6ba3f 20.4%,#fad42c 20.5%,#fdc632 20.6%,#fdc732 20.9%,#f4b841 21.1%,#fdc135 21.2%,#fdca30 21.5%,#bbba5f 21.6%,#ceb956 21.8%,#f6b93f 21.9%,#fabc3b 22.2%,#eeb845 22.7%,#fbbc3a 23%,#9abc6c 23.2%,#91bc70 23.3%,#a7bb67 23.4%,#95bc6e 23.6%,#bcba5f 23.7%,#59b888 23.8%,#6dba7f 24%,#1cacae 24.1%,#28afa3 24.3%,#13a5c5 24.4%,#15a1ca 24.7%,#3273bb 24.8%,#3273ba 25%,#12a4c7 25.1%,#2886c8 25.2%,#29afa2 25.4%,#2eb09e 25.5%,#3176bc 25.7%,#1e97d0 25.8%,#2984c6 25.9%,#2689ca 26.2%,#366ab5 26.4%,#2291cd 26.5%,#3c57ac 26.8%,#3077bd 27.6%,#2c7ec2 28.2%,#3272ba 28.7%,#3c58ac 29.4%,#3b419f 30.1%,#393a99 30.7%,#3b3f9d 31.2%,#3c56ac 32.1%,#346db7 32.9%,#3174bb 33.5%,#346eb7 34.2%,#3b419f 36%,#393a99 36.8%,#3b409e 37.5%,#3863b1 39.3%,#356bb6 40.3%,#3d4da7 42.5%,#393a99 44.2%,#3864b2 48.7%,#393a99 53.8%,#3a5fb0 59.7%,#393a99 66.5%,#3b5cae 74.3%,#393a99 84.1%,#3c59ad 94.3%,#3c53aa 100%)"></i>
<i style="top:617.56px;height:6.03px;background:linear-gradient(90deg,#3a3c9b 0%,#3a3c9b 8.6%,#3c56ac 8.8%,#3a5daf 8.9%,#3c58ac 9.1%,#3669b4 9.2%,#3962b1 9.3%,#3669b4 9.5%,#3077bd 9.6%,#2093ce 9.8%,#179fcc 9.9%,#2f78be 10.2%,#2b81c4 10.3%,#3863b1 10.5%,#2e7abf 10.6%,#3961b0 10.7%,#3c53aa 10.9%,#2984c6 11%,#1f95d0 11.2%,#43b493 11.3%,#13a6c1 11.4%,#53b78b 11.6%,#8dbc71 11.7%,#58b789 11.9%,#17abb3 12%,#66b982 12.1%,#7abc79 12.3%,#32b19c 12.4%,#238fcc 12.6%,#12a5c7 12.7%,#356db7 12.8%,#3175bc 13%,#3272ba 13.1%,#3d4fa8 13.2%,#3c58ac 13.4%,#3b429f 13.5%,#3b429f 13.7%,#3c55ab 13.8%,#3c52aa 13.9%,#3766b2 14.1%,#2e7abf 14.4%,#3961b0 14.5%,#3865b2 14.6%,#3d4aa5 14.8%,#3c44a1 15.2%,#3077bd 15.3%,#3076bc 15.6%,#2093cf 15.8%,#3272ba 15.9%,#1b9acf 16%,#2290cd 16.2%,#14a8bd 16.3%,#13a6c2 16.5%,#3272ba 16.6%,#2d7cc1 16.7%,#1d97d1 16.9%,#356cb6 17%,#3767b3 17.2%,#4eb68d 17.3%,#5bb887 17.4%,#cfb956 17.6%,#beba5e 17.7%,#bbba5f 17.9%,#d1b955 18%,#1c9ad0 18.1%,#1e96d0 18.3%,#15a1cb 18.4%,#14a7c0 18.7%,#96bc6e 18.8%,#a5bc68 19%,#f5b940 19.1%,#f0b844 19.4%,#ceb956 19.5%,#f3b842 19.7%,#13a3c9 19.8%,#13a3c8 19.9%,#1f95cf 20.1%,#2e7bc0 20.2%,#8dbc71 20.4%,#a5bc67 20.5%,#f3b842 20.6%,#fdbd38 20.9%,#f4b841 21.1%,#d8b851 21.2%,#13a3c9 21.3%,#1c99d0 21.5%,#2d7cc0 21.6%,#2b81c4 21.8%,#83bc75 21.9%,#85bc74 22%,#95bc6e 22.2%,#c2ba5c 22.3%,#dab851 22.5%,#beba5e 22.6%,#beba5e 22.7%,#248dcb 22.9%,#1d98d1 23%,#3962b1 23.2%,#3175bc 23.3%,#2e7cc0 23.4%,#15a1cb 23.6%,#12a4c8 23.7%,#179ecc 24%,#38b299 24.1%,#35b29a 24.3%,#13a6c4 24.4%,#51b68c 24.5%,#b3bb62 24.7%,#1f94cf 24.8%,#2a82c5 25%,#3865b2 25.1%,#268aca 25.2%,#2e7bc0 25.5%,#13a6c1 25.7%,#26afa5 25.8%,#14a2c9 25.9%,#356cb6 26.1%,#3175bc 26.2%,#3b409e 26.4%,#3b5bae 27.1%,#3077bd 27.8%,#2c7fc3 28.3%,#3175bc 28.9%,#3c56ab 29.7%,#3b409e 30.4%,#393a99 31%,#3b409e 31.5%,#3c59ad 32.4%,#336fb8 33.2%,#3175bc 33.8%,#3371b9 34.3%,#3c59ad 35.3%,#3b419f 36.3%,#393a99 37%,#3a3e9c 37.7%,#3864b2 39.6%,#346db7 40.6%,#3864b2 41.6%,#3b409e 43.7%,#393a99 44.6%,#3b3f9d 45.6%,#3a60b0 48%,#3766b2 49.1%,#3a60b0 50.3%,#3b3f9d 53.1%,#393a99 54.4%,#3961b0 60.1%,#393a99 67.2%,#3a5daf 74.9%,#393a99 84.9%,#3c5aad 94.8%,#3c58ac 100%)"></i>
<i style="top:623px;height:6.03px;background:linear-gradient(90deg,#3a3c9b 0%,#3a3c9b 7.7%,#3371b9 7.8%,#3b5daf 8.1%,#3865b2 8.4%,#3a5fb0 8.5%,#3962b1 8.6%,#3370b9 8.8%,#3669b4 8.9%,#2c7fc3 9.2%,#2c7ec2 9.3%,#3a60b0 9.5%,#3a60b0 9.8%,#3d52a9 9.9%,#3a5fb0 10%,#3c53aa 10.2%,#3c58ad 10.3%,#3c53aa 10.5%,#3b5bae 10.6%,#3d4ea8 10.9%,#3960b0 11%,#3c59ad 11.2%,#179ecc 11.3%,#21adaa 11.4%,#a4bc68 11.6%,#50b68c 11.7%,#3eb396 11.9%,#a9bb66 12%,#a8bb67 12.1%,#46b492 12.3%,#7ebc77 12.6%,#67b982 12.7%,#3077bd 12.8%,#2093cf 13.1%,#3c59ad 13.2%,#3a5fb0 13.5%,#3c46a2 13.8%,#3b43a0 14.4%,#3a5eaf 14.8%,#3c5aad 15.1%,#3b42a0 15.3%,#3b42a0 15.6%,#3d4ba6 15.9%,#3272ba 16%,#3865b2 16.2%,#3370b9 16.5%,#3d4ba6 16.6%,#3d50a8 16.7%,#3b42a0 16.9%,#3b42a0 17.2%,#3b5bae 17.3%,#3c57ac 17.4%,#2a82c5 17.6%,#3864b2 18%,#3c46a2 18.1%,#3c45a2 18.7%,#258ccb 18.8%,#3767b3 19%,#1f94cf 19.1%,#1e96d0 19.2%,#35b19b 19.4%,#39b298 19.5%,#1cacae 19.7%,#346eb7 19.8%,#336fb8 19.9%,#3c53aa 20.2%,#2984c6 20.4%,#2d7cc1 20.5%,#15a9ba 20.6%,#1fadac 20.8%,#1eadad 20.9%,#4cb58f 21.1%,#45b492 21.2%,#3371b9 21.3%,#3077bd 21.6%,#366ab5 21.8%,#2a83c5 21.9%,#20adaa 22%,#1c99d0 22.2%,#15a9b9 22.3%,#13a5c4 22.5%,#41b494 22.6%,#22aea8 22.7%,#3766b2 22.9%,#3669b4 23%,#5ab888 23.2%,#14a2ca 23.3%,#2c7ec2 23.4%,#2191cd 23.6%,#199cce 23.7%,#3768b3 23.8%,#3865b2 24%,#2094cf 24.1%,#3175bc 24.3%,#4bb58f 24.4%,#238fcc 24.5%,#169fcb 24.7%,#cab958 24.8%,#14a7c0 25%,#6cba80 25.1%,#238fcd 25.2%,#3c57ac 25.4%,#3a5eaf 25.5%,#3c57ac 25.7%,#3a3d9c 25.8%,#393a99 26.1%,#3b3f9d 26.5%,#3c59ad 27.2%,#3076bd 27.9%,#2b81c4 28.5%,#2f79be 29%,#3c5aad 29.8%,#3b429f 30.5%,#393a99 31.1%,#3a3e9d 31.7%,#3c56ab 32.5%,#3371b9 33.5%,#3077bd 34%,#336fb8 34.7%,#3b419f 36.5%,#393a99 37.4%,#3b409e 38.1%,#3c57ac 39.2%,#346eb8 40.9%,#3766b3 41.8%,#3b409e 44.1%,#393a99 45%,#3b409e 46%,#3961b1 48.4%,#3767b3 49.5%,#3961b0 50.8%,#3b409e 53.6%,#393a99 54.8%,#3962b1 60.7%,#393a99 67.9%,#3a5fb0 75.6%,#3b5cae 78%,#3b409e 83.3%,#393a99 85.9%,#3b5aae 95.5%,#3b5cae 100%)"></i>
<i style="top:628.43px;height:6.03px;background:linear-gradient(90deg,#3a3c9b 0%,#3a3c9b 6.8%,#3961b0 7%,#56b789 7.1%,#26afa5 7.3%,#13a6c1 7.4%,#42b493 7.5%,#5bb887 7.7%,#1cacae 7.8%,#15a9ba 7.9%,#4eb68e 8.1%,#40b395 8.2%,#14a7bf 8.4%,#179fcc 8.5%,#19acb1 8.6%,#2788c9 8.8%,#3273ba 8.9%,#3864b2 9.3%,#3174bb 9.5%,#3c53aa 9.8%,#3a5eaf 9.9%,#3c45a2 10%,#3c44a1 10.6%,#3c56ab 10.7%,#3c5aae 11%,#3d50a9 11.2%,#2192ce 11.3%,#238ecc 11.4%,#27afa4 11.6%,#59b888 11.7%,#9fbc6a 11.9%,#b1bb63 12%,#4cb58f 12.1%,#abbb65 12.3%,#dbb850 12.4%,#98bc6d 12.6%,#4bb58f 12.7%,#46b492 12.8%,#64b983 13%,#22aea9 13.1%,#3a5eaf 13.2%,#366ab5 13.4%,#3d4ca6 13.5%,#3c54ab 13.8%,#3d50a8 14.4%,#3b42a0 14.5%,#3b42a0 14.6%,#3c44a1 14.9%,#3b5cae 15.1%,#3c54aa 15.2%,#3c59ad 15.6%,#3c46a2 15.8%,#3d4fa8 16.5%,#3766b2 16.6%,#3d50a8 16.9%,#3b5cae 17.2%,#3d4da7 17.3%,#3d4ca7 17.4%,#1b9bcf 17.6%,#2192ce 17.7%,#1f95d0 18%,#3961b0 18.1%,#3865b2 18.4%,#3d50a8 18.5%,#3d4fa8 18.7%,#2a83c5 18.8%,#2c7fc3 19%,#93bc6f 19.1%,#8abc72 19.2%,#2ab0a1 19.4%,#45b492 19.7%,#2f78be 19.8%,#356cb6 19.9%,#3c48a4 20.1%,#3d49a4 20.2%,#2a83c5 20.4%,#2a83c5 20.5%,#92bc6f 20.6%,#7fbc77 20.8%,#b4bb62 20.9%,#46b492 21.1%,#39b298 21.2%,#3a5eaf 21.3%,#3c57ac 21.5%,#3c44a1 21.6%,#3b43a0 21.8%,#3076bd 21.9%,#2d7dc1 22.2%,#3fb395 22.3%,#6cba7f 22.5%,#1d98d1 22.6%,#16a0cb 22.7%,#2b81c4 22.9%,#3960b0 23%,#3b5cae 23.2%,#3766b3 23.3%,#3b5bae 23.4%,#16a0cb 23.6%,#2a82c5 23.7%,#14a7be 23.8%,#21aea9 24%,#66b982 24.1%,#2ab0a1 24.3%,#2c7fc3 24.4%,#366ab5 24.7%,#3176bc 25%,#2191ce 25.1%,#2d7cc0 25.2%,#3c56ab 25.4%,#3b3f9d 25.9%,#393a99 26.4%,#3b419e 26.8%,#3c56ac 27.3%,#2f7abf 28.2%,#2a83c5 28.7%,#2f79bf 29.3%,#3c59ad 30.1%,#3b419f 30.8%,#393a99 31.4%,#3b3f9d 31.9%,#3c57ac 32.8%,#3370b9 33.6%,#2f79be 34.3%,#3371b9 35%,#3c57ac 36%,#3b3f9d 37%,#393a99 37.7%,#3b429f 38.5%,#366ab5 40.4%,#3370b9 41.3%,#3c58ac 43.1%,#3b419f 44.4%,#393a99 45.3%,#3b3f9d 46.3%,#3961b0 48.7%,#3669b4 49.9%,#3962b1 51.3%,#3b3f9d 54.1%,#393a99 55.4%,#3864b2 61.2%,#393a99 68.6%,#3961b0 76.4%,#3a5eaf 78.8%,#3b3f9e 84.4%,#393a99 87%,#3b5bae 96.4%,#3a5fb0 100%)"></i>
<i style="top:633.86px;height:6.03px;background:linear-gradient(90deg,#3a3c9b 0%,#3a3c9b 5.9%,#2e7bc0 6%,#238fcc 6.1%,#2b80c3 6.3%,#12a5c6 6.4%,#3076bc 6.6%,#1b9bcf 6.7%,#17abb3 6.8%,#5ab888 7%,#17abb3 7.1%,#26afa5 7.3%,#77bb7b 7.4%,#6bba80 7.5%,#1aacb0 7.7%,#38b299 7.8%,#80bc76 7.9%,#5cb887 8.1%,#15a9b9 8.2%,#46b492 8.4%,#5cb887 8.5%,#29afa2 8.6%,#2290cd 8.8%,#13a6c4 8.9%,#2e7cc0 9.1%,#3767b3 9.3%,#3d4aa5 9.5%,#3d4aa5 9.6%,#336fb8 9.8%,#366ab5 10%,#2788c9 10.2%,#3c53aa 10.3%,#3b429f 10.9%,#3d4ea7 11%,#3d4fa8 11.2%,#356cb6 11.3%,#3b5cae 11.4%,#25aea6 11.6%,#3eb396 11.7%,#15aab7 11.9%,#70ba7e 12%,#d2b954 12.1%,#f1b843 12.3%,#9fbc6a 12.4%,#9cbc6b 12.6%,#f0b844 12.7%,#cbb958 12.8%,#69ba81 13%,#91bc6f 13.1%,#21adaa 13.2%,#15aab7 13.4%,#3c46a2 13.5%,#3c46a2 13.9%,#3960b0 14.1%,#3c52aa 14.2%,#3a5eaf 14.6%,#3d49a4 14.8%,#3b429f 15.1%,#3d4ea8 15.6%,#2789c9 15.8%,#258bcb 15.9%,#58b788 16%,#4fb68d 16.2%,#3866b2 16.3%,#3863b1 16.5%,#3b43a0 16.6%,#3c44a1 16.7%,#3c56ac 16.9%,#3c56ab 17.2%,#16aab6 17.3%,#15a9bb 17.4%,#d0b955 17.6%,#d4b954 17.7%,#1d98d1 17.9%,#1f95d0 18%,#3c47a3 18.1%,#3c47a3 18.4%,#3a60b0 18.7%,#31b19d 18.8%,#39b298 19%,#d4b853 19.1%,#ecb846 19.2%,#1d97d1 19.4%,#169fcb 19.7%,#3c54aa 19.8%,#3c54aa 19.9%,#3865b2 20.1%,#356bb5 20.2%,#61b984 20.4%,#37b299 20.5%,#eab847 20.6%,#d2b955 20.9%,#199dce 21.1%,#1d98d1 21.2%,#336fb8 21.3%,#3c58ad 21.6%,#3668b4 21.8%,#12a3c8 21.9%,#14a7bf 22%,#13a5c4 22.2%,#25aea5 22.3%,#2eb09e 22.5%,#2689ca 22.6%,#2788c9 22.7%,#13a6c2 22.9%,#15a1ca 23%,#2886c7 23.2%,#27afa4 23.3%,#13a6c1 23.4%,#2b81c4 23.6%,#3176bc 23.7%,#2f78be 23.8%,#3961b0 24%,#15aab8 24.1%,#2b80c3 24.3%,#13a6c3 24.4%,#1d98d1 24.5%,#14a8bc 24.7%,#2a82c5 24.8%,#3b5bae 25.5%,#3c47a3 25.9%,#393a99 26.5%,#3a3e9d 26.9%,#3c59ad 27.6%,#2d7cc1 28.5%,#2985c7 29%,#2e7abf 29.6%,#3c59ad 30.4%,#3b419f 31.1%,#393a99 31.7%,#3b3f9d 32.2%,#3c57ac 33.1%,#3371b9 33.9%,#2e7bc0 34.6%,#3174bb 35.3%,#3c59ad 36.3%,#3b419e 37.2%,#393a99 37.9%,#3b3f9d 38.6%,#3c56ab 39.7%,#356db6 40.9%,#3272ba 41.6%,#346db7 42.4%,#3c59ad 43.5%,#3b419f 44.8%,#393a99 45.7%,#3b3f9d 46.7%,#3962b1 49.1%,#356bb6 50.5%,#3963b1 51.9%,#3b3f9d 54.7%,#393a99 55.9%,#3766b3 61.9%,#393a99 69.3%,#3963b1 77.3%,#3a5fb0 79.8%,#3b409e 85.4%,#393a99 88.1%,#3961b1 100%)"></i>
<i style="top:639.29px;height:6.03px;background:linear-gradient(90deg,#3a3c9b 0%,#3a3c9b 4.9%,#16a0cb 5%,#2094cf 5.2%,#2a83c5 5.3%,#9dbc6b 5.4%,#baba5f 5.6%,#3371b9 5.7%,#3076bd 5.9%,#1a9bcf 6%,#238ecc 6.1%,#9cbc6b 6.3%,#97bc6d 6.4%,#76bb7b 6.6%,#13a3c8 6.7%,#199dcd 6.8%,#13a5c4 7%,#28afa3 7.1%,#93bc6f 7.3%,#5fb885 7.4%,#44b493 7.5%,#79bc79 7.7%,#9fbc6a 7.8%,#59b788 7.9%,#28afa3 8.1%,#89bc73 8.2%,#99bc6c 8.4%,#37b29a 8.5%,#2cb09f 8.6%,#53b78b 8.8%,#4eb68e 8.9%,#199cce 9.1%,#1b9ad0 9.2%,#12a4c7 9.3%,#3864b2 9.5%,#3766b2 9.6%,#3b429f 9.8%,#3b429f 9.9%,#3c53aa 10%,#3d52a9 10.2%,#3370b9 10.3%,#3077bd 10.5%,#14a2c9 10.6%,#3962b1 10.7%,#2887c8 10.9%,#3d4ca6 11%,#3b43a0 11.4%,#2886c7 11.6%,#3272ba 11.7%,#3078be 11.9%,#beba5e 12%,#a5bc68 12.1%,#95bc6e 12.3%,#dab850 12.4%,#fdc434 12.6%,#ecb846 12.7%,#8dbc71 12.8%,#ecb846 13%,#fdc135 13.1%,#8ebc71 13.2%,#4fb68d 13.4%,#238ecc 13.5%,#2093cf 13.7%,#3a5eaf 13.8%,#3a5daf 13.9%,#1d98d1 14.1%,#1a9bcf 14.4%,#1fadac 14.5%,#19acb2 14.6%,#2a82c5 14.8%,#2b80c3 14.9%,#3963b1 15.1%,#3864b2 15.2%,#20adaa 15.3%,#19acb1 15.6%,#f0b844 15.8%,#fcbd39 15.9%,#fcbd39 16%,#fbd12d 16.2%,#16aab6 16.3%,#1cacaf 16.5%,#2f7abf 16.6%,#2e7bc0 16.7%,#92bc6f 16.9%,#67b982 17%,#7cbc78 17.2%,#f3ef2b 17.3%,#f3ee2b 17.4%,#fbd02d 17.6%,#fad42c 17.7%,#26afa5 17.9%,#16abb5 18%,#3175bc 18.1%,#2c7fc3 18.3%,#2d7cc0 18.4%,#82bc76 18.5%,#8cbc71 18.7%,#fad52b 18.8%,#f3ef2b 19%,#f3ef2b 19.1%,#f6e129 19.2%,#1dadad 19.4%,#22aea9 19.7%,#3076bd 19.8%,#2e7abf 19.9%,#90bc70 20.1%,#7bbc78 20.2%,#f4ea2a 20.4%,#fad42c 20.5%,#f9bb3c 20.6%,#f7ba3e 20.8%,#fdc433 20.9%,#13a5c5 21.1%,#15a1ca 21.2%,#356cb6 21.3%,#3766b3 21.5%,#15a9b9 21.6%,#12a4c7 21.8%,#57b789 21.9%,#58b788 22%,#58b789 22.2%,#14a7c0 22.3%,#14a7bf 22.5%,#346eb7 22.6%,#346fb8 22.7%,#1e97d0 22.9%,#2689ca 23.2%,#16a0cb 23.4%,#2e7abf 23.6%,#356cb6 24%,#3d4aa6 24.1%,#238ecc 24.3%,#2191ce 24.5%,#2788c9 25%,#3c5aad 25.8%,#3b419e 26.4%,#393a99 26.8%,#3b3f9d 27.2%,#3c5aad 27.9%,#2c7fc2 28.7%,#2787c8 29.3%,#2d7cc1 29.8%,#3c5aae 30.7%,#3b429f 31.4%,#393a99 31.9%,#3b3f9d 32.5%,#3c57ac 33.3%,#3175bc 34.3%,#2d7dc1 35%,#3174bb 35.7%,#3c58ad 36.7%,#3b409e 37.7%,#393a99 38.4%,#3b3f9d 39.1%,#3c57ac 40.2%,#346fb8 41.3%,#3175bb 42%,#336fb8 42.8%,#3c57ac 44.1%,#3b409e 45.3%,#393a99 46.3%,#3d4ca7 48.1%,#3864b2 49.7%,#346eb7 50.9%,#3669b4 52%,#3d4ca6 54.3%,#393a99 56.5%,#3668b4 62.6%,#3863b1 64.3%,#3b419f 68.2%,#393a99 70.2%,#3865b2 78.4%,#3962b1 80.8%,#3b419e 86.5%,#393a99 89.3%,#3a3e9d 91.9%,#3961b1 100%)"></i>
<i style="top:644.73px;height:6.03px;background:linear-gradient(90deg,#3a3c9b 0%,#3a3c9b 3.9%,#12a4c7 4%,#3174bb 4.2%,#1e97d0 4.3%,#16a0cb 4.5%,#f4ea2a 4.6%,#5eb886 4.7%,#2689ca 4.9%,#8cbc72 5%,#179fcc 5.2%,#4eb68e 5.3%,#fcd02d 5.4%,#99bc6c 5.6%,#3864b2 5.7%,#179fcc 5.9%,#3371b9 6%,#3766b3 6.1%,#d6b852 6.3%,#8fbc70 6.4%,#1d98d1 6.6%,#28afa3 6.7%,#14a7be 6.8%,#22aea9 7%,#3eb396 7.3%,#2cb09f 7.4%,#aabb66 7.5%,#a9bb66 7.7%,#49b590 7.8%,#66b982 7.9%,#b8ba60 8.1%,#a3bc69 8.2%,#3cb397 8.4%,#79bc79 8.5%,#b9ba60 8.6%,#78bb7a 8.8%,#20adaa 8.9%,#28afa3 9.1%,#51b68c 9.2%,#20adaa 9.3%,#15a9b9 9.5%,#179fcc 9.6%,#15a1ca 9.8%,#1c99d1 9.9%,#3d51a9 10%,#3b43a0 10.3%,#3c45a2 10.6%,#3174bb 10.7%,#3175bc 10.9%,#1e97d0 11%,#24aea6 11.2%,#3a60b0 11.3%,#3865b2 11.4%,#3c44a1 11.6%,#3d4da7 11.9%,#16aab6 12%,#169fcc 12.1%,#f3b842 12.3%,#fdbd38 12.4%,#cbb958 12.7%,#fdcc2f 12.8%,#fccf2d 13%,#d3b954 13.1%,#ceb956 13.2%,#fdc732 13.4%,#7fbc77 13.5%,#23aea8 13.7%,#46b492 13.8%,#33b19b 13.9%,#a9bb66 14.1%,#85bc74 14.2%,#95bc6e 14.4%,#b2bb63 14.5%,#afbb64 14.6%,#5cb887 14.8%,#80bc76 14.9%,#97bc6d 15.1%,#bfba5e 15.2%,#f9bb3c 15.3%,#fdc036 15.5%,#f8bb3d 15.6%,#f4e92a 15.8%,#f9d62b 15.9%,#fad42c 16%,#f6e329 16.2%,#b9ba60 16.3%,#cfb956 16.5%,#c1ba5d 16.7%,#f5e82a 16.9%,#f8dc29 17%,#f3ef2b 17.3%,#fdca30 17.7%,#c0ba5d 17.9%,#cfb956 18%,#bfba5d 18.1%,#bdba5f 18.3%,#bfba5d 18.4%,#fcce2e 18.5%,#fad42c 18.7%,#f3ef2b 18.8%,#fdc831 19.1%,#f5e529 19.2%,#c9b959 19.4%,#dbb850 19.5%,#bbba5f 19.7%,#dbb850 19.8%,#b2bb62 19.9%,#fdca30 20.1%,#fdcc2f 20.2%,#f5b940 20.4%,#f6b93f 20.5%,#c9b959 20.6%,#e0b84d 20.8%,#b7ba61 20.9%,#3bb397 21.1%,#15a9ba 21.3%,#14a8bc 21.5%,#15a9bb 21.6%,#22aea8 21.8%,#16a0cb 21.9%,#1a9bcf 22%,#15a1ca 22.2%,#2291cd 22.3%,#14a7be 22.5%,#16a0cb 22.6%,#14a2c9 22.7%,#3766b3 22.9%,#3961b1 23%,#3c52aa 23.2%,#3b5cae 23.3%,#3c56ab 23.4%,#248dcc 24.4%,#2093cf 24.8%,#2689ca 25.2%,#3c5aad 26.1%,#3b419e 26.6%,#393a99 27.1%,#3b3f9d 27.5%,#3b5bae 28.2%,#2b80c4 29%,#2689ca 29.6%,#2b80c3 30.1%,#3c57ac 31.1%,#3b409e 31.8%,#393a99 32.4%,#3b409e 32.9%,#3c5aad 33.8%,#3175bc 34.6%,#2b80c3 35.3%,#2f78be 36%,#3c58ad 37.1%,#3b409e 38.1%,#393a99 38.8%,#3b3f9e 39.5%,#3c58ad 40.6%,#3370b9 41.7%,#3077bd 42.5%,#346eb7 43.5%,#3b429f 45.7%,#393a99 46.9%,#3b409e 47.8%,#3c59ad 49.4%,#3370b9 51.6%,#3c58ac 54.1%,#3b409e 55.9%,#393a99 57.2%,#3d4ca6 59.7%,#3963b1 61.8%,#356bb6 63.5%,#3864b2 65.3%,#3d4ca6 67.9%,#393a99 71%,#3a3e9d 72.8%,#3a5fb0 77.3%,#3768b3 79.5%,#3863b1 82%,#3b419f 87.7%,#393a99 90.5%,#3b3f9d 93.4%,#3a5fb0 100%)"></i>
<i style="top:650.16px;height:6.03px;background:linear-gradient(90deg,#3a3c9b 0%,#3a3c9b 3.1%,#3370b8 3.2%,#3c59ad 3.5%,#95bc6e 3.6%,#f6e129 3.8%,#258bca 3.9%,#3962b1 4%,#2789c9 4.2%,#22aea9 4.3%,#6fba7e 4.5%,#f5e82a 4.6%,#1a9cce 4.7%,#356bb5 4.9%,#336fb8 5%,#3c55ab 5.2%,#1fadac 5.3%,#f6e229 5.4%,#15aab7 5.6%,#12a4c7 5.7%,#3371b9 5.9%,#238ecc 6%,#2093ce 6.1%,#f9bb3c 6.3%,#1aacb0 6.4%,#3d4aa5 6.6%,#3962b1 6.8%,#15a1ca 7%,#6cba7f 7.1%,#3ab298 7.3%,#80bc76 7.4%,#9dbc6b 7.5%,#37b299 7.7%,#93bc6f 7.8%,#d5b853 7.9%,#9dbc6b 8.1%,#51b68c 8.2%,#b8ba61 8.4%,#d4b853 8.5%,#8abc73 8.6%,#5bb887 8.8%,#bdba5e 8.9%,#9ebc6a 9.1%,#42b494 9.2%,#47b591 9.3%,#2ab0a1 9.5%,#24aea7 9.6%,#366ab5 9.8%,#2a83c6 9.9%,#22aea9 10%,#2c7ec2 10.2%,#2886c7 10.3%,#3960b0 10.5%,#2985c7 10.6%,#3b43a0 10.7%,#3b43a0 10.9%,#3c57ac 11%,#3c53aa 11.2%,#2093cf 11.3%,#1c99d0 11.4%,#2f7abf 11.6%,#1cacae 11.7%,#238fcc 11.9%,#3669b4 12%,#3078bd 12.1%,#bdba5e 12.3%,#59b888 12.4%,#f7ba3e 12.6%,#f6e429 12.7%,#fbd32c 12.8%,#ceb956 13%,#fdc632 13.1%,#f3ee2b 13.2%,#fdc533 13.4%,#9cbc6b 13.5%,#f6ba3f 13.7%,#dab850 13.8%,#f7ba3e 14.1%,#f4b841 14.2%,#d0b956 14.5%,#e2b84c 14.6%,#ceb956 14.9%,#f6ba3f 15.1%,#fdc930 15.2%,#fccd2e 15.3%,#f7e028 15.5%,#fdca30 15.6%,#fcce2e 15.8%,#f5e82a 15.9%,#fabb3b 16%,#fad52b 16.2%,#fdc235 16.3%,#fdc632 16.5%,#fdbe37 16.7%,#f9d82a 16.9%,#fad32c 17.2%,#f8da2a 17.3%,#f9d92a 17.4%,#fdbf37 17.6%,#fdc036 17.7%,#efb844 17.9%,#f9bb3c 18%,#fbd32c 18.1%,#fdc036 18.3%,#fdc135 18.4%,#f5e72a 18.5%,#fdc831 18.7%,#fdc235 19.2%,#eeb845 19.4%,#d9b851 19.5%,#e6b84a 19.7%,#ddb84f 19.8%,#e8b849 19.9%,#d0b955 20.1%,#cbb958 20.2%,#97bc6d 20.4%,#b8ba60 20.5%,#60b885 20.6%,#37b299 20.8%,#34b19b 20.9%,#12a4c8 21.1%,#12a4c7 21.3%,#25aea6 21.5%,#51b68c 21.6%,#62b984 21.8%,#248dcc 21.9%,#356cb6 22%,#2985c7 22.2%,#2f79be 22.3%,#2c7ec2 22.6%,#336fb8 22.7%,#258bcb 22.9%,#346eb7 23%,#3a3c9b 23.2%,#3b5daf 23.8%,#268aca 24.5%,#1e96d0 25.1%,#258ccb 25.5%,#3b5bae 26.4%,#3b419f 26.9%,#393a99 27.3%,#3a3e9d 27.8%,#3c5aad 28.5%,#2b81c4 29.3%,#258ccb 29.8%,#2984c6 30.4%,#3b5bae 31.4%,#3b42a0 32.1%,#393a99 32.6%,#3b3f9d 33.2%,#3c57ac 34%,#3078be 35%,#2a82c5 35.7%,#2e7bc0 36.4%,#3c5aad 37.5%,#3b419e 38.5%,#393a99 39.2%,#3b3f9d 39.9%,#3c58ac 41%,#3371b9 42.1%,#2f7abf 43%,#3174bb 43.8%,#3c58ad 45.2%,#3b409e 46.4%,#393a99 47.4%,#3b409e 48.4%,#3c59ad 49.9%,#346eb7 51.3%,#3273bb 52.3%,#346eb7 53.3%,#3c57ac 55%,#3b419e 56.6%,#393a99 57.9%,#3b3f9d 59.3%,#3863b1 62.5%,#346eb7 64.3%,#3669b4 65.8%,#3d4fa8 68.6%,#393a99 72%,#3a3e9c 73.8%,#3961b0 78.4%,#356bb5 80.9%,#3865b2 83.4%,#3b43a0 89%,#393a99 91.6%,#3a3e9d 94.7%,#3c59ad 100%)"></i>
<i style="top:655.59px;height:6.03px;background:linear-gradient(90deg,#3a3c9b 0%,#3a3c9b 2.1%,#3271b9 2.2%,#3c59ad 2.4%,#3961b1 2.6%,#f3b842 2.8%,#f9bb3c 2.9%,#3273ba 3.1%,#2788c9 3.2%,#248ccb 3.3%,#2983c6 3.5%,#fabb3b 3.6%,#f6ba3f 3.8%,#2d7dc1 3.9%,#3a5fb0 4%,#3a5eaf 4.3%,#edb845 4.5%,#fdc135 4.6%,#356bb6 4.7%,#3c54ab 5%,#3c58ad 5.2%,#aebb64 5.3%,#fdcc2f 5.4%,#2c7fc2 5.6%,#3c48a4 5.7%,#3c46a3 5.9%,#3c55ab 6%,#33b19c 6.1%,#f9bb3c 6.3%,#2787c9 6.4%,#3d4da7 6.7%,#3d4ba6 6.8%,#2192ce 7%,#7abc79 7.1%,#41b494 7.3%,#16aab6 7.4%,#45b492 7.5%,#a9bb66 7.7%,#b6bb61 7.8%,#89bc73 7.9%,#86bc74 8.1%,#e4b84b 8.2%,#ddb84f 8.4%,#7ebc77 8.5%,#a4bc68 8.6%,#e9b848 8.8%,#ceb956 8.9%,#58b789 9.1%,#a6bc67 9.2%,#deb84e 9.3%,#6cba80 9.5%,#1fadab 9.6%,#12a5c6 9.8%,#15aab7 9.9%,#3a5fb0 10%,#3c5aad 10.2%,#3077bd 10.3%,#3370b8 10.5%,#238fcc 10.6%,#1f94cf 10.7%,#3865b2 10.9%,#3d4da7 11%,#3d4da7 11.2%,#3961b0 11.3%,#3a60b0 11.4%,#3174bb 11.6%,#2d7cc1 11.7%,#3076bd 11.9%,#2290cd 12%,#14a7bf 12.1%,#2886c8 12.3%,#2984c6 12.4%,#3bb397 12.6%,#29afa2 12.7%,#97bc6d 12.8%,#79bc79 13%,#6eba7e 13.1%,#c6b95a 13.5%,#d4b853 13.7%,#47b591 13.8%,#37b299 13.9%,#f8ba3d 14.1%,#e0b84d 14.2%,#f7ba3e 14.4%,#fdbd38 14.5%,#e0b84d 14.6%,#f4b841 14.8%,#efb845 15.1%,#fdc433 15.2%,#66b982 15.3%,#5ab888 15.5%,#3cb397 15.6%,#ebb847 15.8%,#fdbd38 15.9%,#fdc930 16.2%,#f5b940 16.3%,#f5b940 16.7%,#74bb7c 16.9%,#48b590 17%,#59b888 17.2%,#e5b84a 17.3%,#f0b843 17.4%,#ebb847 17.6%,#fdc334 17.7%,#f8bb3d 17.9%,#e7b849 18%,#f3b842 18.1%,#dfb84e 18.3%,#ebb847 18.4%,#5ab888 18.5%,#2eb09e 18.7%,#dbb850 18.8%,#eab847 19%,#a9bb66 19.1%,#d9b851 19.2%,#9fbc6a 19.4%,#8ebc71 19.5%,#9abc6c 19.7%,#68b981 19.8%,#58b789 19.9%,#2094cf 20.1%,#228fcd 20.2%,#14a2ca 20.4%,#46b492 20.5%,#7bbc79 20.8%,#a8bb67 20.9%,#2a83c5 21.1%,#13a6c4 21.2%,#2f7abf 21.3%,#3a5faf 21.5%,#2c7ec2 21.6%,#2192ce 21.8%,#13a3c9 21.9%,#1eadad 22%,#15a9ba 22.2%,#2f7abf 22.3%,#1d98d1 22.5%,#3d50a9 22.6%,#3a3d9c 23%,#393a99 23.3%,#3c45a2 23.7%,#3b5daf 24.1%,#258bca 24.8%,#1d98d1 25.4%,#2689ca 25.9%,#3c57ac 26.8%,#3b3f9d 27.3%,#393a99 27.8%,#3b419e 28.2%,#3c57ac 28.7%,#2885c7 29.7%,#238fcc 30.3%,#2885c7 30.8%,#3b5bae 31.8%,#3b429f 32.5%,#393a99 33.1%,#3b3f9d 33.6%,#3c58ad 34.4%,#2d7dc2 35.6%,#2885c7 36.3%,#2e7bc0 37%,#3c59ad 38.1%,#3b409e 39.1%,#393a99 39.7%,#3b409e 40.4%,#3c59ad 41.6%,#3076bd 42.8%,#2d7dc1 43.7%,#3175bc 44.5%,#3c57ac 45.9%,#3b429f 47%,#393a99 48%,#3b3f9d 49%,#3c58ad 50.5%,#346fb8 51.9%,#3076bc 53%,#3370b9 54.1%,#3c58ad 55.8%,#3b419f 57.5%,#393a99 58.7%,#3b3f9d 60.1%,#3c58ac 62.2%,#3271b9 65.4%,#3c59ad 68.9%,#3b419f 71.4%,#393a99 73.1%,#3b3f9d 75%,#3864b2 79.8%,#346eb7 82.3%,#3669b4 84.7%,#3a3b9a 92.9%,#3a3d9c 96%,#3d51a9 100%)"></i>
<i style="top:661.02px;height:6.03px;background:linear-gradient(90deg,#3a3c9b 0%,#3a3c9b 1.1%,#fabb3b 1.3%,#356cb6 1.4%,#3c55ab 1.7%,#3961b0 1.8%,#fbbc3a 2%,#d4b853 2.1%,#3371b9 2.2%,#238fcc 2.5%,#2b81c4 2.6%,#f7de28 2.8%,#94bc6e 2.9%,#3a60b0 3.1%,#3961b0 3.2%,#3c54ab 3.3%,#238ecc 3.5%,#f6e429 3.6%,#87bc74 3.8%,#3a5faf 3.9%,#3272ba 4%,#3b5daf 4.2%,#2985c7 4.3%,#f8db29 4.5%,#afbb64 4.6%,#3d51a9 4.7%,#3c44a1 4.9%,#3d50a8 5%,#346eb7 5.2%,#fdbe37 5.3%,#dcb850 5.4%,#3b5cae 5.6%,#3c46a3 5.7%,#3c59ad 6%,#b6bb61 6.1%,#d1b955 6.3%,#3a60b0 6.4%,#3c46a3 6.6%,#3c58ac 6.8%,#1dadad 7%,#53b78b 7.1%,#248ccb 7.3%,#2094cf 7.4%,#97bc6d 7.5%,#7dbc78 7.7%,#21aea9 7.8%,#b0bb63 7.9%,#eab847 8.1%,#d7b852 8.2%,#79bc79 8.4%,#ddb84f 8.5%,#f9bb3c 8.6%,#c7b95a 8.8%,#8abc72 8.9%,#e6b849 9.1%,#f6b93f 9.2%,#aebb64 9.3%,#79bc79 9.5%,#d6b852 9.6%,#76bb7b 9.8%,#22aea9 9.9%,#2887c8 10%,#1b9acf 10.2%,#3c52aa 10.3%,#3d4ba6 10.5%,#3c58ac 10.9%,#3077bd 11.2%,#1a9cce 11.3%,#1f95cf 11.4%,#16a0cb 11.7%,#179fcc 11.9%,#3d4fa8 12%,#3d4fa8 12.1%,#3174bb 12.4%,#25aea5 12.6%,#19acb1 12.7%,#93bc6f 12.8%,#92bc6f 13%,#b7ba61 13.1%,#71bb7d 13.2%,#8ebc71 13.4%,#3b5cae 13.5%,#3b5cae 13.7%,#2a82c5 13.8%,#2886c8 13.9%,#7dbc77 14.1%,#7cbc78 14.4%,#efb845 14.5%,#e8b849 14.6%,#b6bb61 14.8%,#c4ba5b 14.9%,#2e7cc0 15.1%,#3962b1 15.2%,#248ccb 15.3%,#2e7abf 15.6%,#6fba7e 15.8%,#84bc75 15.9%,#dbb850 16%,#e6b84a 16.2%,#8dbc71 16.3%,#b9ba60 16.5%,#268aca 16.6%,#2d7dc1 16.7%,#2f7abf 16.9%,#15a9bb 17%,#179ecc 17.2%,#66b982 17.3%,#73bb7c 17.4%,#cbb958 17.6%,#c7b95a 17.7%,#8ebc71 17.9%,#90bc70 18%,#29afa2 18.1%,#12a4c7 18.3%,#1fadab 18.4%,#2b80c3 18.5%,#258ccb 18.7%,#14a7c0 18.8%,#18acb2 19%,#21adaa 19.1%,#49b590 19.2%,#179fcc 19.4%,#179fcc 19.5%,#31b19c 19.7%,#89bc73 19.8%,#179ecc 19.9%,#14a8bc 20.1%,#2d7ec2 20.2%,#3961b0 20.4%,#3864b2 20.5%,#2a83c5 20.6%,#2689ca 20.8%,#179fcc 20.9%,#13a5c4 21.1%,#1bacaf 21.2%,#16a0cb 21.3%,#55b78a 21.5%,#3c54ab 21.6%,#3d51a9 21.8%,#1a9cce 21.9%,#258bcb 22.2%,#3b5cae 22.7%,#3b43a0 23.2%,#393a99 23.6%,#3c44a1 24%,#3b5bae 24.4%,#268aca 25.1%,#1b9acf 25.7%,#238fcc 26.2%,#3b5cae 27.1%,#3b429f 27.6%,#393a99 28%,#3a3e9c 28.5%,#3c59ad 29.1%,#2788c9 30.1%,#2191ce 30.7%,#2788c9 31.2%,#3c57ac 32.4%,#3b43a0 32.9%,#393a99 33.5%,#3a3e9d 34%,#3c57ac 34.9%,#2c7ec2 36%,#2788c9 36.7%,#2b81c4 37.4%,#3c59ad 38.6%,#3b409e 39.6%,#393a99 40.3%,#3b409e 41%,#3c5aad 42.1%,#2f78be 43.4%,#2b80c4 44.2%,#2f7abf 45%,#3c58ad 46.6%,#3b429f 47.7%,#393a99 48.7%,#3b3f9d 49.7%,#3c58ad 51.2%,#3272ba 52.7%,#2f7abf 53.8%,#3273bb 55%,#3c58ad 56.8%,#3b419e 58.4%,#393a99 59.7%,#3b409e 61.1%,#3c59ad 63.2%,#346fb8 65.1%,#3175bc 66.5%,#346fb8 68.1%,#3c59ad 70.3%,#393a99 74.2%,#3a3e9d 76.3%,#3669b5 81.7%,#3272ba 84.1%,#356cb6 86.5%,#3c58ad 89.4%,#3a3c9b 94.1%,#3a3b9a 97.1%,#3c46a2 100%)"></i>
<i style="top:666.46px;height:6.03px;background:linear-gradient(90deg,#3a3c9b 0%,#3a3c9b .3%,#b1bb63 .4%,#346db7 .6%,#3d4da7 .7%,#3b5bae 1%,#cfb956 1.1%,#b7ba61 1.3%,#2e7abf 1.4%,#258ccb 1.7%,#16abb4 1.8%,#f7df28 2%,#48b590 2.1%,#3d4fa8 2.2%,#3d52a9 2.4%,#3a5fb0 2.5%,#19acb1 2.6%,#f3ee2b 2.8%,#14a8bd 2.9%,#346db7 3.1%,#3a60b0 3.2%,#3962b1 3.3%,#33b19c 3.5%,#f3ee2b 3.6%,#13a6c4 3.8%,#3c48a4 3.9%,#3c48a4 4%,#3b5cae 4.2%,#1fadac 4.3%,#f3ee2b 4.5%,#1eadad 4.6%,#3d51a9 4.7%,#3c52aa 4.9%,#3b429f 5%,#189ecd 5.2%,#f6e129 5.3%,#57b789 5.4%,#3c48a4 5.6%,#2e7bc0 6%,#f7ba3e 6.1%,#68b981 6.3%,#3d4ba6 6.4%,#3b43a0 6.7%,#3b5daf 6.8%,#6eba7e 7%,#16aab6 7.1%,#3273bb 7.3%,#2d7cc1 7.4%,#1dadad 7.5%,#13a3c9 7.7%,#2db09e 7.8%,#d8b852 7.9%,#8bbc72 8.1%,#a3bc69 8.2%,#f7ba3e 8.4%,#fdbe37 8.5%,#b8ba60 8.6%,#c4ba5b 8.8%,#fdc135 8.9%,#f9bb3c 9.1%,#a4bc68 9.2%,#d8b851 9.3%,#fdbd38 9.5%,#e9b848 9.6%,#54b78b 9.8%,#adbb65 9.9%,#52b78b 10%,#23aea8 10.2%,#3767b3 10.3%,#2f79be 10.5%,#2c7fc3 10.6%,#3b43a0 10.7%,#3b43a0 10.9%,#3865b2 11%,#3766b3 11.2%,#1f96d0 11.3%,#2093cf 11.4%,#3b5cae 11.6%,#3b5bae 11.9%,#3c48a4 12%,#3c46a2 12.4%,#57b789 12.6%,#54b78b 12.7%,#d0b955 12.8%,#e4b84b 13%,#c3ba5c 13.1%,#2d7cc1 13.2%,#2b81c4 13.4%,#3c46a2 13.5%,#3d4da7 13.9%,#cfb956 14.1%,#dcb84f 14.2%,#aebb64 14.4%,#f3b842 14.5%,#f8bb3d 14.6%,#2886c7 14.8%,#2983c6 14.9%,#3b42a0 15.1%,#3b42a0 15.2%,#3c56ab 15.3%,#3d52a9 15.6%,#bcba5f 15.8%,#baba60 15.9%,#fdc632 16%,#fcce2e 16.2%,#2a81c4 16.3%,#2689ca 16.5%,#3b42a0 16.6%,#3b42a0 16.7%,#3c56ac 16.9%,#3d51a9 17%,#3b5cae 17.2%,#9abc6c 17.3%,#afbb64 17.4%,#f0b844 17.6%,#edb846 17.7%,#2e7bc0 17.9%,#2e7bc0 18%,#3d4aa5 18.1%,#3d4ea8 18.4%,#356cb6 18.5%,#2093ce 18.7%,#15aab7 18.8%,#19acb1 19.2%,#3c57ac 19.4%,#3767b3 19.7%,#3960b0 19.8%,#3865b2 19.9%,#15a9b9 20.1%,#16aab6 20.2%,#2689ca 20.4%,#15a8bb 20.5%,#3c59ad 20.6%,#3b5cae 20.8%,#3d4da7 21.1%,#2788c9 21.2%,#1a9cce 21.5%,#12a4c8 21.9%,#2191ce 22.5%,#3c58ac 23.2%,#3b409e 23.6%,#393a99 23.8%,#3b419e 24.3%,#3c56ac 24.7%,#238fcc 25.5%,#199dce 26.1%,#2290cd 26.6%,#3b5cae 27.5%,#3b429f 28%,#393a99 28.5%,#3a3e9c 28.9%,#3c59ad 29.6%,#268aca 30.5%,#1f94cf 31.1%,#2788c9 31.8%,#3b5bae 32.8%,#3b429f 33.5%,#393a99 34%,#3b3f9d 34.6%,#3c59ad 35.4%,#2b81c4 36.5%,#258ccb 37.2%,#2b81c4 38.1%,#3c58ac 39.3%,#3b419f 40.2%,#393a99 40.9%,#3b419e 41.7%,#3c58ac 42.7%,#2e7bc0 44.1%,#2984c6 44.9%,#2e7bc0 45.9%,#3c58ad 47.4%,#3b429f 48.5%,#393a99 49.5%,#3b3f9d 50.5%,#3c59ad 52%,#3174bb 53.6%,#2d7ec2 54.8%,#3175bc 56.1%,#3c58ac 57.9%,#3b429f 59.4%,#393a99 60.7%,#3b3f9d 62.1%,#3c58ac 64.2%,#3371b9 66.2%,#2f79be 67.8%,#3272ba 69.5%,#3c59ad 71.8%,#3a3a99 75.6%,#3b3f9d 77.8%,#3c59ad 81%,#346eb7 83.5%,#3076bc 86.1%,#346fb8 88.4%,#3c58ad 91.6%,#3b3f9d 95.7%,#3a3d9b 100%)"></i>
<i style="top:671.89px;height:6.03px;background:linear-gradient(90deg,#3c57ac 0%,#3766b2 .1%,#21adaa .3%,#78bc7a .4%,#2cb09f .6%,#5cb887 .7%,#35b29a .8%,#3174bb 1%,#fcbc39 1.1%,#2eb09e 1.3%,#3c54aa 1.4%,#3d4ba6 1.5%,#3864b2 1.7%,#28afa3 1.8%,#f6e229 2%,#1e97d0 2.1%,#1b9ad0 2.2%,#268aca 2.4%,#3d4da7 2.5%,#a8bb66 2.6%,#f9d72b 2.8%,#2f7abf 2.9%,#3c48a4 3.1%,#2192ce 3.2%,#2e7abf 3.3%,#c8b959 3.5%,#fccf2d 3.6%,#3176bc 3.8%,#3c52aa 4%,#3d51a9 4.2%,#b1bb63 4.3%,#f8da29 4.5%,#2984c6 4.6%,#3272ba 4.7%,#189dcd 4.9%,#3960b0 5%,#66b982 5.2%,#f6e128 5.3%,#1b9bcf 5.4%,#3d4ba6 5.6%,#3c44a1 5.9%,#14a7bf 6%,#fdc334 6.1%,#13a3c8 6.3%,#2c7fc3 6.4%,#3864b2 6.7%,#2b80c3 6.8%,#9abc6c 7%,#238ecc 7.1%,#3c56ab 7.3%,#3d4ea8 7.4%,#248dcb 7.5%,#15a0cb 7.7%,#189ecd 7.8%,#32b19c 7.9%,#5fb885 8.1%,#fbbc3a 8.2%,#e9b848 8.4%,#a8bb67 8.5%,#f4b841 8.6%,#fad42c 8.8%,#f6ba3f 8.9%,#acbb65 9.1%,#fdbd38 9.2%,#fbd22c 9.3%,#e7b849 9.5%,#baba60 9.6%,#f8bb3d 9.8%,#fdbe37 9.9%,#6dba7f 10%,#66b982 10.2%,#16abb4 10.3%,#15aab7 10.5%,#1c99d0 10.6%,#1d98d1 10.9%,#53b78b 11%,#55b78a 11.2%,#b2bb63 11.3%,#baba5f 11.4%,#15a9b9 11.6%,#16aab6 11.7%,#12a4c7 11.9%,#2093cf 12%,#1a9cce 12.1%,#e3b84c 12.3%,#c1ba5d 12.4%,#f9d72b 12.6%,#f5e629 12.7%,#fdc632 12.8%,#fdc036 13%,#fdcc2f 13.1%,#62b984 13.2%,#6eba7e 13.4%,#14a8bd 13.5%,#15a9ba 13.7%,#f5b940 13.8%,#eeb845 13.9%,#f6e429 14.1%,#f3ef2b 14.2%,#fbd12d 14.5%,#f8dc29 14.6%,#47b591 14.8%,#6cba7f 14.9%,#13a5c4 15.1%,#12a4c8 15.2%,#dcb84f 15.3%,#f4b941 15.5%,#e0b84d 15.6%,#f3ef2b 15.8%,#f7e028 16.2%,#41b494 16.3%,#3db396 16.5%,#16a0cb 16.6%,#15a1ca 16.7%,#c6b95a 16.9%,#c6b95a 17%,#f4b941 17.3%,#f9bb3c 17.4%,#baba60 17.6%,#e4b84b 17.7%,#12a5c6 17.9%,#15a1ca 18%,#3274bb 18.1%,#2f7abf 18.3%,#3370b9 18.4%,#15a1cb 18.5%,#189dcd 18.8%,#1c99d0 19%,#2b80c4 19.1%,#3962b1 19.4%,#3175bc 19.5%,#3a5daf 19.7%,#3d4da7 19.9%,#3d4ba6 20.2%,#3b5bae 20.4%,#3a3b9a 20.5%,#3b5cae 21.1%,#2290cd 21.6%,#16a0cb 21.9%,#13a5c4 22.2%,#12a4c8 22.5%,#2290cd 22.9%,#356bb6 23.3%,#3d4da7 23.7%,#393a99 24.3%,#3b419f 24.7%,#3c58ac 25.1%,#2191ce 25.9%,#179fcc 26.5%,#1f94cf 27.1%,#3c58ac 28%,#3b3f9e 28.6%,#393a99 29%,#3b409e 29.4%,#3c57ac 30%,#2689ca 31%,#1d98d1 31.7%,#268aca 32.4%,#3b5cae 33.3%,#3b42a0 34%,#393a99 34.6%,#3b3f9d 35.1%,#3c58ad 36%,#2886c8 37.2%,#228fcd 37.9%,#2887c8 38.6%,#3c59ad 40%,#3b429f 40.9%,#393a99 41.6%,#3b409e 42.4%,#3c57ac 43.4%,#2d7dc1 44.8%,#2788c9 45.7%,#2c7fc3 46.7%,#3c57ac 48.4%,#3b419f 49.5%,#393a99 50.3%,#3b409e 51.5%,#3c58ac 52.9%,#2f79bf 54.7%,#2a82c5 55.9%,#2e7abf 57%,#3c58ac 59.1%,#3b429f 60.7%,#393a99 61.9%,#3b3f9d 63.3%,#3c59ad 65.4%,#3175bc 67.6%,#2d7dc1 69.3%,#3175bc 71%,#3c59ad 73.5%,#3a3b9a 77.3%,#3b3f9d 79.6%,#3c59ad 82.7%,#3371b9 85.5%,#2e7bc0 88.1%,#3273bb 90.5%,#3c58ad 94.1%,#3b429f 97.5%,#393a99 100%)"></i>
<i style="top:677.32px;height:6.03px;background:linear-gradient(90deg,#3768b4 0%,#3865b2 .1%,#73bb7c .3%,#1bacaf .4%,#3d4ba6 .6%,#2b80c3 .8%,#50b68d 1%,#fdc235 1.1%,#1c99d0 1.3%,#3766b3 1.4%,#2b81c4 1.5%,#3d4fa8 1.7%,#baba60 1.8%,#fdc136 2%,#3767b3 2.1%,#12a4c8 2.2%,#3175bc 2.4%,#14a1ca 2.5%,#fdbf37 2.6%,#e5b84a 2.8%,#3b5bae 2.9%,#3272ba 3.1%,#3b429f 3.2%,#3370b9 3.3%,#fdca30 3.5%,#d5b853 3.6%,#2bb0a0 3.8%,#19acb1 3.9%,#2983c6 4%,#2c7ec2 4.2%,#fdc235 4.3%,#ecb846 4.5%,#3b5daf 4.6%,#3c45a1 4.7%,#3c44a1 4.9%,#2984c6 5%,#e6b84a 5.2%,#fdbd38 5.3%,#16abb5 5.4%,#14a7c0 5.6%,#2d7dc1 5.7%,#356cb6 5.9%,#84bc75 6%,#f7ba3e 6.1%,#3176bc 6.3%,#3d4aa6 6.4%,#3c54aa 6.6%,#3176bc 6.7%,#13a6c1 6.8%,#92bc6f 7%,#2c7fc3 7.1%,#3c55ab 7.3%,#3b5bae 7.4%,#3174bb 7.5%,#3272ba 7.7%,#2094cf 7.8%,#26afa5 7.9%,#46b492 8.1%,#aebb64 8.2%,#76bb7b 8.4%,#fdc434 8.5%,#fccf2d 8.6%,#ebb847 8.8%,#deb84e 8.9%,#f8da29 9.1%,#f9d82a 9.2%,#dab850 9.3%,#f2b843 9.5%,#f6e128 9.6%,#fdc831 9.8%,#c0ba5d 9.9%,#dab851 10%,#fdc135 10.2%,#77bb7a 10.3%,#5db886 10.5%,#78bb7a 10.6%,#ccb957 10.7%,#dbb850 10.9%,#f7ba3e 11%,#fdc036 11.2%,#f2b843 11.3%,#f6b93f 11.4%,#bbba5f 11.6%,#b1bb63 11.7%,#c5ba5b 11.9%,#f3b842 12%,#f4b941 12.1%,#f4ec2a 12.3%,#f8dc29 12.4%,#f8da29 12.7%,#fdc533 12.8%,#fdbf37 13%,#f7df28 13.1%,#f5b940 13.2%,#f1b843 13.4%,#fdc433 13.7%,#f3ef2b 13.8%,#fdcb2f 13.9%,#f3ef2b 14.1%,#f3ef2b 14.4%,#f7de28 14.5%,#fdc930 14.6%,#ceb956 14.8%,#f3b842 14.9%,#ebb847 15.1%,#f9bb3c 15.2%,#f8da29 15.3%,#f4e92a 15.9%,#fdc731 16%,#fdc334 16.2%,#c8b959 16.3%,#b2bb63 16.5%,#cbb958 16.6%,#93bc6f 16.7%,#c6b95a 16.9%,#a9bb66 17%,#dfb84d 17.2%,#b5bb62 17.3%,#a5bc68 17.4%,#31b19c 17.6%,#2eb09e 17.7%,#1b9ad0 17.9%,#1b9ad0 18%,#2c7fc2 18.1%,#3076bc 18.3%,#2f79bf 18.4%,#366ab5 18.7%,#3c59ad 18.8%,#3c55ab 19%,#3c48a4 19.1%,#3d52a9 19.4%,#3d4aa5 19.5%,#258bcb 19.7%,#3d50a9 20.2%,#3b3f9d 20.5%,#393a99 20.8%,#3b419f 21.1%,#3a5faf 21.5%,#2094cf 22%,#13a3c9 22.3%,#14a7c0 22.6%,#14a2c9 23%,#2094cf 23.3%,#3c58ad 24%,#3b419e 24.4%,#393a99 24.7%,#3c46a2 25.2%,#3768b4 25.8%,#1d98d1 26.5%,#14a2ca 27.1%,#1f95cf 27.6%,#3c57ac 28.6%,#3b3f9d 29.1%,#393a99 29.6%,#3b419e 30%,#3c58ac 30.5%,#258ccb 31.5%,#1b9bcf 32.2%,#228fcd 32.9%,#3b5bae 34%,#3b419f 34.7%,#393a99 35.3%,#3b3f9d 35.8%,#3c5aad 36.7%,#2885c7 37.8%,#2093cf 38.6%,#2789c9 39.5%,#3c58ad 40.9%,#3b429f 41.7%,#393a99 42.4%,#3b409e 43.2%,#3c58ac 44.2%,#2a82c5 45.7%,#248ccb 46.7%,#2a83c5 47.7%,#3c59ad 49.4%,#3b42a0 50.5%,#393a99 51.5%,#3b409e 52.6%,#3c59ad 54%,#2d7cc1 55.8%,#2887c8 57%,#2c7ec2 58.3%,#3c58ad 60.5%,#3b429f 62.1%,#393a99 63.3%,#3b409e 64.9%,#3c59ad 66.8%,#2e7abf 69.3%,#2a82c5 71%,#2e7abf 72.7%,#3c58ad 75.6%,#3a3b9a 79.2%,#3b409e 81.7%,#3c59ad 84.7%,#3174bb 87.6%,#2b80c3 90.4%,#3077bd 93%,#3c59ad 97.1%,#3c44a1 100%)"></i>
<i style="top:682.75px;height:6.03px;background:linear-gradient(90deg,#2689ca 0%,#2c7ec2 .1%,#9cbc6b .3%,#238ecc .4%,#3c44a1 .7%,#3c46a3 .8%,#62b984 1%,#efb844 1.1%,#3864b2 1.3%,#3077bd 1.5%,#2290cd 1.7%,#fdc135 1.8%,#b5bb62 2%,#3a60b0 2.1%,#3b429f 2.2%,#3b429f 2.4%,#2291cd 2.5%,#f5e72a 2.6%,#60b885 2.8%,#3273ba 2.9%,#336fb8 3.2%,#15a1ca 3.3%,#f4ec2b 3.5%,#45b492 3.6%,#3c47a3 3.8%,#3c44a1 4%,#1a9bce 4.2%,#f4e92a 4.3%,#6dba7f 4.5%,#14a8bc 4.6%,#2b81c4 4.7%,#3370b9 4.9%,#2984c6 5%,#fad42c 5.2%,#a9bb66 5.3%,#3d51a9 5.4%,#3d51a9 5.6%,#2e7bc0 5.7%,#1f95d0 5.9%,#e9b848 6%,#b6bb61 6.1%,#3b5daf 6.3%,#3a5eaf 6.6%,#3c52aa 6.7%,#5ab887 6.8%,#55b78a 7%,#3a5fb0 7.1%,#26afa5 7.3%,#2ab0a1 7.4%,#238fcd 7.5%,#2886c7 7.8%,#12a5c6 7.9%,#2290cd 8.1%,#72bb7d 8.2%,#c4ba5b 8.4%,#fdc036 8.5%,#b2bb63 8.6%,#fcbc39 8.8%,#f4ea2a 8.9%,#fcce2e 9.1%,#cab958 9.2%,#fdca30 9.3%,#f3ef2b 9.5%,#fdc234 9.6%,#d0b955 9.8%,#fad52b 9.9%,#f9d82a 10%,#eab847 10.2%,#e8b848 10.3%,#f5b940 10.7%,#ecb846 10.9%,#fdc732 11%,#fbd22d 11.2%,#f7ba3e 11.3%,#fdcb2f 11.4%,#fcbd39 11.6%,#eeb845 11.7%,#f0b844 11.9%,#f8dc29 12%,#fabc3b 12.1%,#fdc036 12.3%,#fad42c 12.4%,#fdc235 12.6%,#fcce2e 12.7%,#fdc533 13%,#fbd12d 13.1%,#eab848 13.2%,#fbbc3a 13.4%,#fbd22c 13.5%,#fccd2e 13.8%,#f6e229 13.9%,#f5e92a 14.1%,#f9d72b 14.2%,#fad62b 14.4%,#fabb3b 14.6%,#f9bb3c 15.3%,#e9b848 15.5%,#fdc731 15.6%,#d9b851 15.8%,#f5b940 15.9%,#b7ba61 16%,#a0bc6a 16.2%,#60b885 16.3%,#88bc73 16.5%,#44b493 16.7%,#14a8bc 16.9%,#17abb3 17.2%,#1d98d1 17.3%,#1e96d0 17.4%,#2c7ec2 17.6%,#2e7bc0 17.7%,#3b5aae 17.9%,#3a5eaf 18%,#3d4ca7 18.1%,#3d4ea8 18.4%,#3b5cae 18.5%,#3c56ab 18.7%,#2b80c3 18.8%,#13a5c4 19%,#1aacb0 19.2%,#1cacae 19.4%,#15a9ba 19.7%,#12a5c6 19.8%,#1a9bcf 19.9%,#248dcc 20.1%,#3d52a9 20.6%,#3b409e 20.9%,#393a99 21.2%,#3b409e 21.5%,#3d52a9 21.8%,#2093ce 22.5%,#13a3c9 22.7%,#15a9bb 23.2%,#14a2ca 23.6%,#2191cd 23.8%,#356ab5 24.3%,#3d4da7 24.7%,#393a99 25.2%,#3c48a4 25.8%,#3961b0 26.2%,#1f94cf 26.9%,#12a4c7 27.6%,#2192ce 28.3%,#3963b1 29%,#3d4ca7 29.4%,#393a99 30.1%,#3b3f9d 30.5%,#3b5bae 31.2%,#2290cd 32.2%,#189ecd 32.9%,#2093cf 33.6%,#3c57ac 34.9%,#3b409e 35.6%,#393a99 36.1%,#3b419f 36.7%,#3c57ac 37.4%,#2689ca 38.6%,#1d98d1 39.5%,#268aca 40.4%,#3c58ac 41.8%,#3b419f 42.7%,#393a99 43.4%,#3b419e 44.2%,#3c58ad 45.2%,#2788c9 46.9%,#2191cd 47.8%,#2887c8 48.8%,#3c59ad 50.6%,#3b429f 51.7%,#393a99 52.7%,#3b419e 53.8%,#3c5aad 55.2%,#2b81c4 57.2%,#258bcb 58.4%,#2a82c5 59.8%,#3c58ac 62.2%,#3b419f 63.7%,#393a99 65%,#3b409e 66.5%,#3c59ad 68.5%,#2c7ec2 71.1%,#2788c9 72.8%,#2b80c3 74.6%,#3c59ad 77.8%,#3b429f 80.1%,#393a99 81.7%,#3b429f 84.4%,#3c59ad 87%,#2f79bf 90.4%,#2985c7 92.6%,#2c7fc3 95.5%,#3b5daf 100%)"></i>
<i style="top:688.19px;height:6.03px;background:linear-gradient(90deg,#3c44a1 0%,#2291cd .1%,#90bc70 .3%,#3865b2 .4%,#3d51a9 .6%,#3c58ad .8%,#ceb956 1%,#99bc6c 1.1%,#3d4da7 1.3%,#3b429f 1.4%,#3b429f 1.5%,#1f95d0 1.7%,#f6e028 1.8%,#24aea7 2%,#3960b0 2.1%,#3c54ab 2.2%,#3c57ac 2.4%,#3ab298 2.5%,#f4eb2a 2.6%,#199cce 2.8%,#3b42a0 2.9%,#3b42a0 3.1%,#3d4da7 3.2%,#73bb7c 3.3%,#f5e72a 3.5%,#1f94cf 3.6%,#3c55ab 3.8%,#3c58ad 4%,#5eb886 4.2%,#f4eb2a 4.3%,#169fcc 4.5%,#3d4aa5 4.6%,#346eb8 4.9%,#1eadad 5%,#f5e92a 5.2%,#1bacaf 5.3%,#3d4ba6 5.4%,#3d51a9 5.6%,#3b429f 5.7%,#1f95d0 5.9%,#fdc632 6%,#33b19c 6.1%,#3766b3 6.3%,#346db7 6.7%,#a5bc68 6.8%,#14a7be 7%,#3d49a4 7.1%,#3d50a8 7.4%,#346fb8 7.5%,#189ecd 7.7%,#336fb8 7.8%,#2f78be 7.9%,#179ecc 8.2%,#15a1ca 8.4%,#27afa4 8.5%,#23aea8 8.6%,#15aab7 8.8%,#16abb4 8.9%,#2b81c4 9.1%,#2887c8 9.3%,#78bb7a 9.5%,#abbb65 9.6%,#c9b959 9.8%,#c8b959 9.9%,#fabb3b 10%,#edb845 10.2%,#a5bc67 10.3%,#c7b95a 10.5%,#bcba5f 10.6%,#1aacb0 10.7%,#3db396 10.9%,#e5b84a 11%,#e6b84a 11.2%,#fcbd39 11.3%,#fdc533 11.6%,#f3b842 11.7%,#fdc434 11.9%,#afbb64 12%,#acbb65 12.1%,#57b789 12.3%,#73bb7c 12.4%,#f0b844 12.6%,#d2b954 12.7%,#f5b940 12.8%,#f1b843 13.1%,#fdc632 13.2%,#fdc334 13.4%,#b5bb61 13.5%,#acbb65 13.7%,#46b492 13.8%,#5db886 13.9%,#c1ba5c 14.1%,#cfb956 14.2%,#bcba5f 14.4%,#e5b84a 14.5%,#f0b844 14.6%,#e9b848 14.8%,#b9ba60 14.9%,#65b983 15.1%,#6cba7f 15.2%,#1cacae 15.3%,#15a9ba 15.5%,#1bacaf 15.6%,#4bb58f 15.8%,#4db68e 15.9%,#1dadad 16%,#15aab8 16.2%,#26afa5 16.3%,#1d98d1 16.5%,#248ccb 16.6%,#1a9bcf 16.7%,#3c53aa 16.9%,#3d4fa8 17.3%,#3c52aa 17.4%,#2f78be 17.6%,#3864b2 17.7%,#179fcc 17.9%,#15a9b9 18%,#356bb5 18.1%,#3a3b9a 18.3%,#3c59ad 18.7%,#248ccb 19.1%,#1a9bce 19.2%,#13a5c4 19.4%,#1dadad 19.7%,#22aea9 19.8%,#20adaa 19.9%,#14a8bc 20.2%,#14a2c9 20.4%,#1e97d0 20.5%,#3766b2 20.9%,#3d4ea7 21.2%,#3a3e9c 21.5%,#393a99 21.8%,#3b43a0 22%,#3961b0 22.5%,#1d98d1 23%,#13a6c3 23.3%,#16aab6 23.7%,#12a4c7 24.1%,#1f95cf 24.4%,#3c58ac 25.1%,#3b419e 25.5%,#393a99 25.8%,#3a3c9b 26.1%,#3d4da7 26.5%,#3768b3 26.9%,#2093ce 27.5%,#12a4c8 27.9%,#13a6c2 28.2%,#12a4c8 28.6%,#1f94cf 29%,#3b5cae 29.8%,#3b429f 30.4%,#393a99 30.8%,#3b429f 31.4%,#3c5aad 31.9%,#1e96d0 33.1%,#15a1ca 33.8%,#1e97d0 34.4%,#3c59ad 35.7%,#3b419e 36.4%,#393a99 37%,#3b409e 37.5%,#3c5aae 38.4%,#238ecc 39.6%,#1a9bcf 40.4%,#228fcd 41.4%,#3c58ac 43%,#3b419f 43.8%,#393a99 44.5%,#3b419e 45.3%,#3c58ad 46.3%,#2887c8 47.8%,#1e96d0 49%,#268aca 50.2%,#3c5aad 52%,#3b419e 53.3%,#393a99 54.3%,#3b409e 55.2%,#3c58ad 56.6%,#2985c7 58.7%,#2191cd 60.1%,#2788c9 61.5%,#3c5aad 64%,#3b419f 65.7%,#393a99 67.1%,#3b409e 68.5%,#3c59ad 70.4%,#2a82c5 73.2%,#248dcc 74.9%,#2885c7 77%,#3c58ad 80.6%,#3b419e 83%,#393a99 84.8%,#3b409e 86.9%,#3c59ad 89.8%,#2788c9 95%,#258bca 97.5%,#2c7fc3 100%)"></i>
<i style="top:693.62px;height:6.03px;background:linear-gradient(90deg,#3d4ca7 0%,#17abb3 .1%,#50b68c .3%,#3d4ea7 .4%,#3b429f .6%,#3c47a3 .7%,#3077bd .8%,#f8bb3d 1%,#1aacb0 1.1%,#3c57ac 1.3%,#3d51a9 1.4%,#3a5eaf 1.5%,#43b493 1.7%,#f8da29 1.8%,#2788c9 2%,#3b43a0 2.1%,#3c52aa 2.4%,#ccb957 2.5%,#fdc731 2.6%,#356cb6 2.8%,#3d50a8 2.9%,#3d50a9 3.1%,#3b5cae 3.2%,#efb844 3.3%,#fdbd38 3.5%,#3766b2 3.6%,#3d51a9 3.8%,#3d4ba6 3.9%,#3c5aad 4%,#e4b84b 4.2%,#fdc633 4.3%,#346fb8 4.5%,#3c47a3 4.6%,#3b429f 4.7%,#3d51a9 4.9%,#aebb64 5%,#fad42c 5.2%,#2a83c6 5.3%,#3d50a9 5.4%,#3c59ad 5.6%,#3d51a9 5.7%,#3fb395 5.9%,#fdc732 6%,#2093ce 6.1%,#3c45a1 6.3%,#3c44a1 6.6%,#1c99d0 6.7%,#baba60 6.8%,#2984c7 7%,#3a5fb0 7.1%,#3d4ba6 7.3%,#3d49a4 7.4%,#3669b4 7.5%,#13a3c9 7.7%,#3c5aad 7.8%,#248dcb 7.9%,#2094cf 8.1%,#40b395 8.2%,#28afa3 8.4%,#13a3c9 8.5%,#12a3c8 8.6%,#1d98d1 8.8%,#258bcb 8.9%,#22aea9 9.1%,#21aea9 9.2%,#16abb5 9.3%,#5cb887 9.5%,#87bc74 9.6%,#8ebc71 9.8%,#beba5e 9.9%,#2cb09f 10%,#3fb395 10.2%,#80bc76 10.3%,#69ba81 10.5%,#60b885 10.6%,#c0ba5d 10.7%,#d4b853 11%,#a1bc69 11.4%,#82bc76 11.6%,#4bb58f 11.7%,#76bb7b 11.9%,#8abc72 12%,#71bb7d 12.1%,#bdba5e 12.3%,#bdba5e 12.4%,#dab851 12.6%,#d7b852 12.7%,#9bbc6b 12.8%,#bdba5e 13%,#c5ba5b 13.1%,#7cbc78 13.2%,#80bc77 13.4%,#5eb886 13.5%,#65b983 13.7%,#c7b95a 13.8%,#c4ba5b 14.1%,#d1b955 14.4%,#5fb885 14.5%,#6eba7e 14.6%,#14a7c0 14.8%,#13a6c1 15.1%,#1a9bce 15.3%,#179fcc 15.6%,#1f95d0 15.9%,#3963b1 16%,#3669b4 16.2%,#3d4aa5 16.3%,#3d4ca7 16.5%,#3077bd 16.6%,#3961b1 16.7%,#2db09f 16.9%,#15a9b9 17%,#15a1ca 17.2%,#3078be 17.3%,#16abb5 17.4%,#13a3c9 17.6%,#2093ce 17.7%,#3669b4 18%,#3d4ba6 18.3%,#393a99 18.7%,#3d50a9 19.1%,#346eb7 19.4%,#2092ce 19.7%,#16a0cb 19.8%,#14a8bd 19.9%,#24aea7 20.2%,#28afa3 20.4%,#1eadac 20.6%,#12a4c7 20.9%,#1b9ad0 21.1%,#3669b4 21.5%,#3d50a8 21.8%,#3b3f9d 22%,#393a99 22.3%,#3b419f 22.6%,#3c53aa 22.9%,#366ab5 23.2%,#1f95d0 23.6%,#13a5c4 23.8%,#1aacb0 24.3%,#16abb4 24.5%,#13a5c5 24.8%,#1f95d0 25.1%,#346eb7 25.5%,#3d4fa8 25.9%,#3a3c9b 26.4%,#393a99 26.6%,#3c45a2 27.1%,#3a5daf 27.5%,#2093ce 28.2%,#12a5c6 28.6%,#14a8bc 29%,#13a5c5 29.4%,#1f95d0 29.8%,#3b5cae 30.7%,#3b429f 31.2%,#393a99 31.7%,#3a3e9c 32.1%,#3d4ca6 32.5%,#3767b3 33.1%,#1d97d1 33.9%,#12a4c7 34.6%,#1f95d0 35.6%,#3669b4 36.4%,#3d4ba6 37.1%,#393a99 38.1%,#3b419f 38.6%,#3c57ac 39.3%,#1e96d0 40.9%,#169fcb 41.7%,#1e96d0 42.5%,#3c59ad 44.2%,#3b409e 45.2%,#393a99 45.9%,#3b429f 46.7%,#3c5aad 47.7%,#248dcc 49.4%,#1b9bcf 50.5%,#238fcd 51.7%,#3b5aae 53.7%,#3b419f 55%,#393a99 55.9%,#3b419e 57%,#3c5aad 58.4%,#2788c9 60.5%,#1e97d0 62.1%,#258bca 63.7%,#3c58ad 66.4%,#3b419e 68.1%,#393a99 69.5%,#3b409e 70.9%,#3c59ad 72.8%,#2886c8 75.7%,#2093ce 77.4%,#258bca 79.9%,#3c59ad 83.8%,#3b409e 86.3%,#393a99 88.3%,#3b409e 90.4%,#3c58ad 93.2%,#2985c7 97.5%,#2191ce 100%)"></i>
<i style="top:699.05px;height:6.03px;background:linear-gradient(90deg,#3273bb 0%,#57b789 .1%,#13a6c1 .3%,#3174bb .4%,#3767b3 .6%,#3d4ea8 .7%,#12a4c8 .8%,#fabb3b 1%,#2985c7 1.1%,#3271b9 1.3%,#3272ba 1.4%,#3865b2 1.5%,#cdb957 1.7%,#f7ba3e 1.8%,#3a5fb0 2%,#3a5eaf 2.1%,#3b43a0 2.2%,#346eb7 2.4%,#fdcb2f 2.5%,#c2ba5c 2.6%,#3d51a9 2.8%,#3a5fb0 2.9%,#3c5aad 3.1%,#2b81c4 3.2%,#f8dc29 3.3%,#a4bc68 3.5%,#3d4ea8 3.6%,#3b429f 3.8%,#3b429f 3.9%,#2c7ec2 4%,#f9d72b 4.2%,#bcba5f 4.3%,#2c7ec2 4.5%,#3766b2 4.7%,#356cb6 4.9%,#fdc036 5%,#e6b84a 5.2%,#3b5daf 5.3%,#3c45a2 5.4%,#3c44a1 5.6%,#3a5eaf 5.7%,#c5b95a 5.9%,#edb845 6%,#3766b3 6.1%,#3c52aa 6.3%,#3d49a5 6.4%,#3d50a8 6.6%,#33b19b 6.7%,#9dbc6b 6.8%,#3960b0 7%,#3d4aa5 7.1%,#3a5fb0 7.3%,#3a5eaf 7.4%,#2788c9 7.5%,#189dcd 7.7%,#3077bd 7.8%,#179fcc 7.9%,#12a4c7 8.4%,#16abb5 8.6%,#6fba7e 8.8%,#6aba80 8.9%,#9fbc6a 9.1%,#8cbc72 9.2%,#9abc6c 9.3%,#90bc70 9.5%,#96bc6e 9.6%,#a6bc67 9.8%,#83bc75 10%,#98bc6d 10.2%,#bdba5e 10.3%,#aabb66 10.6%,#cfb956 10.7%,#aabb66 10.9%,#acbb65 11%,#d6b852 11.2%,#82bc76 11.3%,#9bbc6c 11.4%,#6dba7f 11.6%,#77bb7a 11.9%,#c4ba5b 12.1%,#a8bb67 12.3%,#a9bb66 12.4%,#b7ba61 12.6%,#d4b954 12.7%,#94bc6e 12.8%,#acbb65 13%,#94bc6e 13.1%,#69ba81 13.2%,#56b78a 13.4%,#64b983 13.5%,#8dbc71 13.7%,#70ba7e 13.8%,#64b983 13.9%,#24aea6 14.2%,#21aea9 14.4%,#13a5c4 14.5%,#12a4c7 14.6%,#2a82c4 14.8%,#2887c8 14.9%,#3272ba 15.1%,#3371b9 15.2%,#3c59ad 15.3%,#3a5faf 15.5%,#3c54ab 15.9%,#3b5bae 16.3%,#3c57ac 16.5%,#3b43a0 16.6%,#2f79bf 16.7%,#2291cd 16.9%,#13a3c9 17%,#17abb3 17.2%,#41b494 17.4%,#4ab590 17.6%,#44b493 17.7%,#1bacaf 18%,#13a5c4 18.1%,#1d98d1 18.3%,#346db7 18.5%,#3d4ea8 18.8%,#393a99 19.2%,#3b42a0 19.5%,#3c59ad 19.8%,#248dcb 20.2%,#199dce 20.4%,#13a6c1 20.5%,#25aea5 20.8%,#30b19d 21.1%,#16aab6 21.5%,#12a5c6 21.6%,#1b9ad0 21.8%,#3669b4 22.2%,#3d50a8 22.5%,#3b3f9d 22.7%,#393a99 23%,#3b419e 23.3%,#3d52a9 23.6%,#3669b4 23.8%,#1f94cf 24.3%,#13a6c3 24.5%,#1bacb0 24.8%,#21aea9 25.1%,#19acb1 25.4%,#13a5c4 25.7%,#1f95cf 25.9%,#346db7 26.4%,#3d4ea8 26.8%,#3a3c9b 27.2%,#393a99 27.5%,#3c45a2 27.9%,#3b5daf 28.3%,#2093ce 29%,#14a2ca 29.3%,#16aab5 29.8%,#15aab7 30.1%,#12a4c8 30.5%,#1d98d1 30.8%,#3766b2 31.5%,#3d4fa8 31.9%,#3b3f9d 32.4%,#393a99 32.8%,#3b409e 33.2%,#3a5daf 33.9%,#1e96d0 34.9%,#13a3c9 35.3%,#14a7bf 35.8%,#14a2c9 36.4%,#1f95d0 36.8%,#3b5bae 37.9%,#3b42a0 38.6%,#393a99 39.2%,#3d49a4 40.2%,#3768b3 41%,#1d97d1 42.1%,#12a4c8 43.1%,#1f95cf 44.2%,#3c5aae 45.7%,#3b419e 46.7%,#393a99 47.4%,#3b419e 48.3%,#3c58ac 49.2%,#1e97d0 51.3%,#169fcc 52.3%,#1e96d0 53.6%,#3c59ad 55.8%,#3b419e 57%,#393a99 58%,#3b419e 59.1%,#3c59ad 60.5%,#238fcc 62.9%,#199cce 64.4%,#2291cd 66.2%,#3c58ad 69.2%,#3b419f 70.9%,#393a99 72.1%,#3b3f9d 73.6%,#3c59ad 75.7%,#268aca 78.8%,#1c99d0 80.9%,#2191ce 83.4%,#3c5aad 87.7%,#3b43a0 90%,#3a3a99 91.8%,#3b43a0 95%,#3c59ad 97.5%,#3174bb 100%)"></i>
<i style="top:704.48px;height:6.03px;background:linear-gradient(90deg,#3768b3 0%,#7cbc78 .1%,#2a82c5 .3%,#2689c9 .4%,#3962b1 .6%,#1a9cce .7%,#64b983 .8%,#dab851 1%,#258bcb 1.1%,#3b43a0 1.3%,#3c44a1 1.4%,#346db7 1.5%,#fdc632 1.7%,#93bc6f 1.8%,#13a7c1 2%,#2290cd 2.1%,#2a83c5 2.2%,#16abb5 2.4%,#f4eb2a 2.5%,#2bb0a0 2.6%,#3c55ab 2.8%,#3b42a0 2.9%,#3b43a0 3.1%,#19acb1 3.2%,#f3ef2b 3.3%,#19acb1 3.5%,#14a8bc 3.6%,#2f79be 3.8%,#346eb7 3.9%,#16aab6 4%,#f3ef2b 4.2%,#26afa4 4.3%,#3c48a4 4.5%,#3c47a3 4.6%,#1c99d0 4.7%,#199dce 4.9%,#f5e529 5%,#66b982 5.2%,#14a8be 5.3%,#3c58ad 5.4%,#3c54ab 5.6%,#2d7cc1 5.7%,#fdbf36 5.9%,#8cbc72 6%,#3c56ac 6.1%,#189dcd 6.3%,#3370b8 6.4%,#238ecc 6.6%,#9cbc6b 6.7%,#49b590 6.8%,#238ecc 7%,#1d98d1 7.3%,#2093cf 7.4%,#15a0cb 7.5%,#258bcb 7.7%,#346eb8 7.8%,#24aea7 7.9%,#1aacb0 8.1%,#73bb7c 8.2%,#6fba7e 8.4%,#82bc76 8.5%,#5fb885 8.6%,#6eba7f 8.8%,#3bb397 8.9%,#268aca 9.1%,#238fcc 9.2%,#2689ca 9.3%,#6dba7f 9.5%,#93bc6f 9.8%,#75bb7b 9.9%,#88bc73 10%,#88bc73 10.2%,#4db68e 10.5%,#44b493 10.6%,#2093cf 10.7%,#2192ce 10.9%,#74bb7c 11%,#6eba7f 11.2%,#93bc6f 11.3%,#9dbc6b 11.4%,#75bb7b 11.9%,#5cb887 12%,#66b982 12.1%,#38b299 12.3%,#18acb2 12.4%,#23aea8 12.6%,#42b494 12.7%,#27afa4 13%,#77bb7a 13.1%,#1eadac 13.2%,#15a9bb 13.4%,#238ecc 13.5%,#2191cd 13.8%,#15a1ca 13.9%,#346db7 14.1%,#346db7 14.4%,#3c59ad 14.5%,#3d4ea7 14.9%,#3d50a9 15.1%,#3863b1 15.2%,#3d4fa8 15.3%,#3d4ba6 15.5%,#3d4ea7 15.6%,#12a4c8 15.8%,#238fcc 15.9%,#3a5faf 16.2%,#3d4ea7 16.3%,#3a3b9a 16.6%,#3a3b9a 16.7%,#3b409e 16.9%,#3b5bae 17.2%,#1a9bcf 17.6%,#14a8bd 17.7%,#23aea7 17.9%,#3db396 18%,#51b68c 18.1%,#56b78a 18.3%,#4cb68e 18.4%,#1eadac 18.7%,#13a6c2 18.8%,#1c99d0 19%,#346fb8 19.2%,#3d50a8 19.5%,#393a99 19.9%,#3b419e 20.2%,#3c56ac 20.5%,#1b9ad0 21.1%,#13a5c5 21.2%,#17abb3 21.3%,#3db396 21.8%,#30b19d 22%,#16abb5 22.3%,#12a5c6 22.5%,#1c9ad0 22.6%,#3668b4 23%,#3d50a8 23.3%,#3b3f9d 23.6%,#393a99 23.8%,#3b409e 24.1%,#3d50a9 24.4%,#3767b3 24.7%,#2093ce 25.1%,#13a6c4 25.4%,#24aea6 25.8%,#28afa3 26.1%,#1eadad 26.4%,#13a6c1 26.6%,#1e97d0 26.9%,#346fb8 27.3%,#3d50a8 27.8%,#3a3d9c 28.2%,#393a99 28.5%,#3b43a0 28.9%,#3c5aad 29.3%,#1c99d0 30.1%,#13a5c4 30.4%,#1aacb1 30.8%,#1cacae 31.1%,#13a3c9 31.8%,#1f95cf 32.1%,#356cb6 32.6%,#3c53aa 33.1%,#3b429f 33.5%,#393a99 33.9%,#3a3d9c 34.3%,#3d4ba6 34.7%,#3865b2 35.3%,#1d98d1 36.1%,#12a5c6 36.5%,#15aab8 37.2%,#13a3c9 37.9%,#1f94cf 38.4%,#3c54ab 39.6%,#3b429f 40.2%,#393a99 40.7%,#3a3e9c 41.3%,#3d4da7 41.8%,#3767b3 42.5%,#1d98d1 43.7%,#12a4c8 44.2%,#14a7c0 44.8%,#12a4c8 45.5%,#1f94cf 46.2%,#3767b3 47.3%,#3d51a9 48%,#3b409e 48.7%,#393a99 49.4%,#3b409e 50.2%,#3b5bae 51.3%,#1d98d1 53.3%,#12a4c7 54.5%,#1e97d1 56.1%,#3c59ad 58.3%,#3b43a0 59.4%,#393a99 60.4%,#3c48a3 62.2%,#3766b3 63.7%,#1d98d1 66%,#14a1ca 67.6%,#1d98d1 69.3%,#3c5aad 72.5%,#3a3b9a 75.3%,#3b3f9d 77.1%,#3c59ad 79.4%,#2093cf 83.1%,#16a0cb 85.6%,#1d98d1 87.9%,#3c59ad 92.7%,#3b429f 95.3%,#393a99 97.6%,#3b419f 100%)"></i>
<i style="top:709.92px;height:6.03px;background:linear-gradient(90deg,#258bcb 0%,#6aba80 .1%,#346eb7 .3%,#3b43a0 .4%,#3b43a0 .6%,#3c58ad .7%,#c9b959 .8%,#77bb7a 1%,#248dcc 1.1%,#248dcb 1.3%,#3768b3 1.4%,#179ecc 1.5%,#f7de28 1.7%,#15a8bb 1.8%,#3b429f 2%,#3b429f 2.1%,#3668b4 2.2%,#68b981 2.4%,#f6e429 2.5%,#2092ce 2.6%,#1f95cf 2.9%,#3863b1 3.1%,#a9bb66 3.2%,#f8da29 3.3%,#2c7fc3 3.5%,#3c46a2 3.6%,#336fb8 3.8%,#3766b3 3.9%,#a1bc69 4%,#f7df28 4.2%,#258ccb 4.3%,#3767b3 4.5%,#3a5fb0 4.6%,#3d49a5 4.7%,#62b984 4.9%,#f5e629 5%,#189ecd 5.2%,#3d50a9 5.3%,#2e7abf 5.4%,#2cb09f 5.6%,#15a9bb 5.7%,#fbd22d 5.9%,#15a9ba 6%,#3d50a9 6.1%,#2d7cc1 6.3%,#3273ba 6.4%,#2985c7 6.6%,#cdb957 6.7%,#14a2c9 6.8%,#1a9bcf 7%,#5cb887 7.1%,#366ab5 7.3%,#2c7ec2 7.4%,#15a9b9 7.5%,#3370b9 7.7%,#3b43a0 7.8%,#14a1ca 7.9%,#1c99d0 8.1%,#2ab0a1 8.2%,#26afa5 8.4%,#12a4c8 8.5%,#14a7bf 8.6%,#3a5eaf 8.8%,#3b429f 9.1%,#3b429f 9.3%,#14a2ca 9.5%,#12a4c8 9.6%,#28afa3 9.8%,#33b19b 9.9%,#14a8be 10%,#13a3c9 10.2%,#3c46a2 10.3%,#3d49a5 10.6%,#2c7fc3 10.7%,#3a60b0 10.9%,#16a0cb 11%,#199cce 11.2%,#31b19c 11.3%,#28afa3 11.4%,#30b19d 11.6%,#1b9acf 11.7%,#2092ce 11.9%,#3b43a0 12%,#3767b3 12.1%,#71bb7d 12.3%,#1f94cf 12.4%,#3273ba 12.6%,#2788c9 12.7%,#3274bb 12.8%,#16a0cb 13%,#60b885 13.1%,#3a60b0 13.2%,#3c44a1 13.5%,#3d51a9 13.7%,#13a6c3 13.8%,#238fcc 13.9%,#346db7 14.1%,#14a2ca 14.2%,#15a9bb 14.4%,#3766b3 14.5%,#346db7 14.6%,#1b9acf 14.8%,#248dcb 19.1%,#2c7fc3 19.8%,#3c5aad 20.5%,#3c45a1 20.9%,#3b409e 21.2%,#3c46a2 21.5%,#3a5daf 21.9%,#248dcb 22.6%,#1a9bce 23%,#12a4c8 23.8%,#14a7c0 26.5%,#12a4c8 28.5%,#1d98d1 31%,#248ccb 32.9%,#2c7fc3 33.5%,#3c59ad 34.2%,#3b419e 34.6%,#393897 35%,#3b3f9d 35.3%,#3c58ac 35.7%,#2984c6 36.4%,#2192ce 36.8%,#199cce 37.8%,#13a6c3 40.3%,#14a7c0 42.1%,#12a4c8 44.1%,#1e96d0 46.6%,#2a83c5 47.3%,#3c58ac 48%,#3b3f9d 48.4%,#393897 48.7%,#3b409e 49.1%,#3c58ad 49.5%,#2f79be 50.1%,#258aca 50.6%,#1d98d1 52.6%,#13a5c5 55.6%,#14a7c0 58%,#189dcd 60.5%,#248ccb 61.1%,#3b5daf 61.8%,#3c45a2 62.2%,#3b3f9d 62.5%,#3c44a1 62.8%,#3c58ad 63.2%,#2c7ec2 63.9%,#258bca 64.4%,#1d98d1 68.2%,#12a4c8 70.9%,#14a7c0 73.1%,#13a3c9 74.3%,#2094cf 74.9%,#3b5bae 75.7%,#3d4aa5 76.3%,#3a5eaf 76.8%,#258bca 77.7%,#1f94cf 78.4%,#238fcd 81.7%,#1d98d1 84%,#12a4c7 88%,#1f94cf 88.7%,#3a5eaf 89.5%,#3c52aa 90%,#3b5cae 90.4%,#1f94cf 91.4%,#189ecd 91.9%,#238ecc 96.5%,#1b9ad0 100%)"></i>
<i style="top:715.35px;height:3.35px;background:linear-gradient(90deg,#14a7be 0%,#29afa2 .1%,#3b5bae .3%,#3d4fa8 .4%,#3c52aa .6%,#2f79be .7%,#f4b841 .8%,#13a6c1 1%,#3b429f 1.1%,#3d4ca6 1.3%,#3d4ba6 1.4%,#5db886 1.5%,#fccf2e 1.7%,#2e7bc0 1.8%,#3d4da7 2%,#3c5aad 2.1%,#3c58ac 2.2%,#e9b848 2.4%,#fbbc3a 2.5%,#3961b0 2.6%,#3c44a1 2.8%,#3766b2 3.1%,#fdbf37 3.2%,#ebb847 3.3%,#3b5bae 3.5%,#3c55ab 3.6%,#3b429f 3.8%,#3766b3 3.9%,#fdbd38 4%,#f4b941 4.2%,#3a5fb0 4.3%,#3766b3 4.6%,#3076bc 4.7%,#e5b84a 4.9%,#fdc235 5%,#346eb7 5.2%,#3c47a3 5.3%,#3b43a0 5.4%,#3d4fa8 5.6%,#90bc70 5.7%,#fdc334 5.9%,#2a82c5 6%,#3d52a9 6.4%,#16aab6 6.6%,#ccb957 6.7%,#2f78be 6.8%,#3d4da7 7%,#3d49a4 7.1%,#3a5eaf 7.3%,#2d7dc1 7.4%,#15aab7 7.5%,#2b80c4 7.7%,#1b9acf 7.8%,#3c56ab 7.9%,#3d52a9 8.2%,#3a5eaf 8.4%,#3766b3 8.6%,#14a7bf 8.8%,#258bca 8.9%,#3767b3 9.1%,#3963b1 9.2%,#3669b4 9.3%,#3c45a2 9.5%,#3c45a2 9.9%,#336fb8 10%,#2788c9 10.2%,#169fcb 10.3%,#2f79bf 10.5%,#3076bd 10.6%,#2c7ec2 10.7%,#3a5fb0 10.9%,#3b429f 11%,#3b429f 11.2%,#3c5aad 11.3%,#23aea8 11.4%,#13a5c5 11.6%,#14a8bd 11.7%,#2a83c6 11.9%,#2f79be 12%,#2788c9 12.1%,#79bc79 12.3%,#3370b9 12.4%,#3c44a1 12.6%,#3c44a1 12.7%,#2d7ec2 12.8%,#27afa4 13%,#23aea7 13.1%,#179fcc 13.2%,#2eb09e 13.4%,#2b80c3 13.5%,#336fb8 13.7%,#3c59ad 15.3%,#3c53aa 16.5%,#3c56ab 17.2%,#13a6c3 17.3%,#18abb2 18.4%,#3bb298 19.8%,#4cb68e 20.8%,#47b591 21.6%,#16abb5 23.7%,#12a4c8 25.4%,#13a5c5 26.2%,#16abb4 27.3%,#3cb397 28.9%,#4cb68e 29.8%,#47b591 30.7%,#29afa2 31.8%,#356cb6 31.9%,#3c53aa 34.4%,#3c58ad 35.6%,#14a7bf 35.7%,#17abb3 36.4%,#38b299 37.8%,#4cb58f 38.8%,#46b492 39.7%,#16abb4 41.7%,#12a4c8 43.4%,#13a5c4 44.4%,#17abb3 45.5%,#3db396 47%,#4db68e 48%,#45b492 48.8%,#1fadac 50.3%,#3865b2 50.5%,#3c53aa 52.6%,#3a5daf 54.1%,#15aab7 54.3%,#4bb58f 56.8%,#47b591 57.7%,#16abb5 59.8%,#12a4c8 61.4%,#13a5c5 62.3%,#16abb4 63.5%,#46b492 65.4%,#4db68e 66.1%,#44b493 66.9%,#17abb3 68.8%,#3960b0 68.9%,#3c53aa 70.6%,#3962b1 72.5%,#19acb1 72.7%,#46b492 74.5%,#4ab58f 75.6%,#16abb4 77.8%,#13a5c4 78.9%,#12a4c8 79.8%,#17abb3 81.6%,#47b591 83.5%,#4cb68e 84.4%,#3bb397 85.4%,#2ab0a1 85.9%,#15a9b9 87.2%,#3b5cae 87.3%,#3c53aa 88.7%,#3766b3 90.9%,#21adaa 91.1%,#45b492 92.5%,#4db68e 93.3%,#3ab298 94.4%,#16abb5 96%,#12a4c8 97.5%,#13a6c3 98.6%,#16abb4 99.6%,#1fadac 100%)"></i>
<div class="ov" style="clip-path:polygon(0 0,716.8px 0,716.8px 89.1px,0 669.3px)">
<b style="top:1.0px;height:87.4px;width:716.8px;background:linear-gradient(90deg,#3d49a5 0%,#3d4fa8 .1%,#3d49a5 .3%,#3d4da7 .4%,#3d49a4 1%,#3d50a9 1.1%,#3b5cae 1.8%,#3d4da7 2.1%,#3c52aa 2.2%,#3d4ea7 2.4%,#3c57ac 4%,#3d4ea7 4.3%,#3b3f9d 4.5%,#393897 4.7%,#393998 4.9%,#3c45a2 5%,#3a3c9b 5.7%,#3d4aa5 6%,#3c47a3 6.3%,#393a99 6.4%,#3a3c9b 7.1%,#3c45a2 7.3%,#3a3c9b 7.7%,#3c47a3 8.2%,#383796 8.6%,#383796 10.3%,#3c5aad 10.6%,#3b5bae 10.7%,#3d4ea8 10.9%,#3d4ba6 11%,#393a99 11.2%,#3a3c9b 11.7%,#3d52a9 11.9%,#3c53aa 12%,#3a3c9b 12.4%,#393a99 12.6%,#3b42a0 13.1%,#383796 13.7%,#3a3c9b 13.8%,#393796 13.9%,#3a3b9a 14.4%,#3c45a2 14.8%,#3a3d9b 14.9%,#393897 16.7%,#3c44a1 18%,#3b419f 18.5%,#3d4ca7 18.8%,#3d4aa5 19.2%,#3b42a0 19.4%,#3a3d9c 20.1%,#3b419f 20.2%,#383796 20.8%,#393897 21.1%,#3c46a2 21.3%,#3c48a4 21.6%,#3b3f9d 21.8%,#3c44a1 21.9%,#3a3e9c 22.2%,#3a3a99 23.2%,#3b409e 23.7%,#3a3b9a 24%,#393a99 26.8%,#3c46a2 27.8%,#393998 28.6%,#3b3f9d 29.6%,#3c48a4 30%,#3a3d9c 33.2%,#3a3b9a 36.4%,#3b3f9d 37.7%,#3c52aa 39.9%,#3d50a9 40.9%,#3a3e9d 42.8%,#383796 53.4%,#3c46a2 62.8%,#3a3e9c 67.9%,#3b419f 76%,#3a3c9b 80.9%,#3b43a0 100%)"></b>
<b style="top:1.0px;height:174.3px;width:716.8px;background:linear-gradient(90deg,#3d52a9 0%,#3c56ac .1%,#3c48a4 .3%,#3c45a1 .4%,#3a3d9b 1.1%,#3b43a0 1.4%,#3a3d9c 1.8%,#3c47a3 2%,#3b3f9d 2.1%,#3c55ab 3.6%,#3d4aa5 3.9%,#3d51a9 4.2%,#3b3f9d 4.5%,#3a3b9a 4.7%,#3c47a3 5.3%,#3b429f 5.6%,#3d52a9 6.4%,#3c45a2 6.8%,#3c44a1 7.1%,#3d49a5 7.3%,#3b429f 7.4%,#3a3c9b 7.8%,#3a3c9b 8.2%,#3c45a2 8.5%,#3a3d9c 8.6%,#3b409e 8.9%,#393897 9.2%,#3c44a1 9.3%,#383796 9.5%,#383796 9.6%,#393998 10.2%,#3d51a9 10.5%,#3c55ab 10.6%,#3d50a9 10.7%,#3c53aa 11%,#3a3b9a 11.4%,#3a3c9b 11.7%,#3d4aa5 11.9%,#3d4ba6 12.4%,#3b419e 12.7%,#3c47a3 12.8%,#3b419f 13%,#3d51a9 13.4%,#3b43a0 13.7%,#3b42a0 14.1%,#3d52a9 14.4%,#3c55ab 14.6%,#3c54ab 14.8%,#3d49a4 14.9%,#3b3f9d 16.3%,#3c47a3 18%,#3b429f 18.4%,#3d4fa8 18.8%,#3c47a3 19.1%,#3c44a1 19.9%,#3a3c9b 20.4%,#3b409e 20.6%,#393998 20.9%,#393a99 21.1%,#3d4fa8 21.3%,#3c44a1 21.9%,#3c44a1 23%,#3d4ca7 23.4%,#3b409e 24%,#3b3f9d 24.7%,#3c44a1 25.4%,#3b409e 26.4%,#3d4aa5 26.6%,#3b429f 26.9%,#3b43a0 27.3%,#3d49a5 27.8%,#3a3b9a 28.9%,#3b3f9d 29.4%,#3c47a3 29.7%,#3d4ca7 31.1%,#3b43a0 31.5%,#3a3b9a 33.5%,#3b42a0 34.7%,#3a3c9b 37.1%,#3d4da7 39.9%,#3d4ba6 40.9%,#3a3d9b 42.3%,#393998 43.2%,#383796 52.7%,#3a3b9a 58.3%,#3c46a3 62.3%,#3a3d9c 68.1%,#3b409e 75.7%,#393a99 84%,#3b43a0 100%);-webkit-mask-image:linear-gradient(180deg,transparent,#000 49.9%);mask-image:linear-gradient(180deg,transparent,#000 49.9%)"></b>
<b style="top:87.9px;height:168.9px;width:716.8px;background:linear-gradient(90deg,#3b409e 0%,#3d4aa5 .1%,#3c44a1 1%,#3b5bae 1.3%,#3c58ac 1.5%,#3c45a1 1.8%,#3d4aa6 2%,#3b3f9d 2.1%,#3d50a8 2.6%,#3c47a3 3.8%,#3c53aa 4.2%,#3d4fa8 4.3%,#3a3b9a 4.5%,#3a3c9b 4.6%,#3c47a3 4.9%,#3b5cae 5%,#3d4ca7 5.6%,#3d4fa8 6.3%,#3c56ac 6.6%,#3d4ea7 6.7%,#3c56ab 6.8%,#3d4ca7 7%,#3d50a8 7.3%,#3b429f 7.4%,#3c46a2 7.5%,#3a3e9c 7.8%,#3c45a2 7.9%,#3a3b9a 8.1%,#383796 8.4%,#3a3b9a 8.9%,#383796 9.2%,#3a3b9a 9.3%,#383796 9.5%,#383796 11.7%,#3b409e 12.3%,#3d4ca7 12.6%,#3c47a3 12.7%,#3d4ea8 12.8%,#3c47a3 13%,#3d50a9 13.4%,#3c48a4 13.5%,#3d4ea8 13.8%,#3c47a3 13.9%,#3c57ac 14.2%,#3c45a1 14.6%,#3d49a5 16.6%,#3d4fa8 16.7%,#3c45a2 17.2%,#3b429f 17.9%,#3d4ca6 18.3%,#3b409e 18.7%,#3b43a0 19.2%,#393897 20.2%,#3a3b9a 20.9%,#3d4ba6 21.3%,#3c44a1 21.6%,#383796 23.7%,#3a3c9b 26.2%,#3d50a8 26.6%,#3b3f9d 26.9%,#3a3c9b 27.2%,#3b429f 27.5%,#3b3f9d 29.4%,#3d4ca6 31%,#3a3c9b 33.2%,#3c46a2 34.6%,#3b419f 37.7%,#3d4fa8 39.9%,#383796 43.1%,#3a3c9b 50.3%,#383796 54%,#3c45a2 62.3%,#393a99 67.6%,#3b429f 75.7%,#3a3c9b 78.8%,#3b419f 92.1%,#3a3d9c 100%);-webkit-mask-image:linear-gradient(180deg,transparent,#000 51.5%);mask-image:linear-gradient(180deg,transparent,#000 51.5%)"></b>
<b style="top:174.8px;height:158.0px;width:617.8px;background:linear-gradient(90deg,#3c59ad 0%,#3c56ac .2%,#3d49a4 .3%,#3d4ba6 1.1%,#3a5eaf 1.5%,#3c52aa 1.8%,#3c55ab 1.9%,#3d4ea7 2.1%,#3c53aa 2.3%,#3c46a2 2.8%,#3c45a1 4%,#3c52aa 4.5%,#3c54aa 5%,#3d4aa5 5.2%,#3d50a9 5.3%,#3d4aa5 5.5%,#3d50a8 5.7%,#3960b0 5.8%,#3c57ac 6%,#3b5cae 6.1%,#3c55ab 6.3%,#3c56ac 7%,#3b5daf 7.1%,#3d52a9 7.3%,#3c45a2 7.8%,#3d4da7 8.6%,#3a3c9b 8.9%,#383796 9.4%,#383796 10.2%,#3a3e9d 10.4%,#383796 10.7%,#383796 12%,#3a3c9b 12.1%,#383796 14.2%,#3d49a4 15.2%,#3b43a0 15.7%,#3d50a9 16%,#3d4aa6 16.2%,#3d51a9 16.3%,#3b43a0 16.7%,#3b429f 17.8%,#383796 19.1%,#383796 21.2%,#3a3c9b 21.4%,#383796 21.7%,#383796 23.6%,#3a3c9b 23.9%,#383796 26.2%,#3a3d9b 26.9%,#383796 27.3%,#383796 29%,#3b43a0 29.3%,#3a3e9d 29.4%,#3b409e 30.3%,#3d4fa8 30.7%,#3c44a1 31.1%,#3d4ba6 32%,#3c44a1 32.7%,#3c46a2 33.3%,#3a3d9c 33.8%,#3a3d9c 34.1%,#3c45a2 34.5%,#3b409e 35.1%,#3d4aa5 36.1%,#3a3d9c 38.5%,#3a3d9c 39.3%,#3c44a1 39.6%,#3b3f9d 40.1%,#3c45a2 42.7%,#3b419e 43.7%,#3d50a9 46.1%,#393a99 50.2%,#3b3f9d 58.4%,#383796 61%,#393a99 67.3%,#3c48a4 71.5%,#383796 79%,#3c47a3 85%,#3a3e9d 91.6%,#3b409e 100%);-webkit-mask-image:linear-gradient(180deg,transparent,#000 51.6%);mask-image:linear-gradient(180deg,transparent,#000 51.6%)"></b>
<b style="top:256.3px;height:147.2px;width:516.9px;background:linear-gradient(90deg,#3c56ac 0%,#3d51a9 .2%,#3d51a9 1.7%,#3c47a3 2.1%,#3d4ea8 2.5%,#3d49a5 2.9%,#3a3c9b 3.3%,#3a3c9b 3.5%,#3c44a1 3.7%,#3a3b9a 3.9%,#3c47a3 4.3%,#3a3d9b 4.4%,#3b43a0 5.2%,#3d4aa5 5.4%,#3668b4 5.8%,#3c56ab 6%,#3d4ba6 6.2%,#3d4ca6 6.6%,#3d52a9 6.8%,#3865b2 7%,#3d4ca7 7.7%,#3c59ad 8.5%,#3b419f 8.9%,#383796 9.7%,#383796 11.6%,#3a3e9c 12%,#383796 12.2%,#383796 15.1%,#3b419e 15.5%,#383796 15.9%,#3a3b9a 16.2%,#3d4fa8 16.6%,#3c48a4 16.8%,#3c59ad 17%,#3d51a9 17.4%,#3b5cae 17.6%,#3d4da7 18.8%,#3d4da7 19%,#3c58ac 19.1%,#3c45a1 20.1%,#3d4ba6 20.7%,#3c44a1 21.1%,#3c47a3 22.1%,#393a99 23.4%,#3c44a1 23.8%,#3a3c9b 24%,#3c45a1 24.2%,#393897 24.4%,#383796 24.6%,#383796 25.7%,#3a3e9d 26.7%,#383796 27.3%,#383796 28.2%,#3a3e9c 28.6%,#383796 30.6%,#3c45a2 31.3%,#393998 31.9%,#393998 34%,#3a3b9a 34.4%,#3d4da7 35%,#3c45a2 35.2%,#3d4ba6 35.4%,#3c46a2 35.8%,#3d4aa5 36.4%,#3c59ad 36.8%,#3d50a9 37.3%,#3c54ab 38.7%,#3d4ba6 39.5%,#3b43a0 39.7%,#3a3c9b 40.6%,#3a3d9c 41%,#3c44a1 41.2%,#3a3e9c 42%,#3b43a0 43.1%,#3a3c9b 43.5%,#3b429f 45.5%,#393a99 46.4%,#3b429f 47.2%,#3a3b9a 50.7%,#3b429f 51.5%,#393897 52%,#393897 52.8%,#3b43a0 55.1%,#393a99 60%,#3b409e 62.7%,#3a3a99 66.5%,#3b429f 70.4%,#3a3c9b 71.6%,#393998 76.4%,#3b43a0 86.8%,#383796 93.6%,#3a3e9c 100%);-webkit-mask-image:linear-gradient(180deg,transparent,#000 51.7%);mask-image:linear-gradient(180deg,transparent,#000 51.7%)"></b>
<b style="top:332.4px;height:136.3px;width:422.9px;background:linear-gradient(90deg,#3a3c9b 0%,#3b43a0 1.7%,#3d4fa8 1.9%,#3d49a5 2.1%,#3c52aa 2.6%,#3766b2 3.1%,#3b5bae 3.3%,#3c59ad 3.5%,#3b419f 4%,#3c46a2 4.3%,#3a3c9b 4.7%,#3c45a2 6.4%,#3c58ac 6.9%,#3c57ac 7.1%,#3d4da7 7.3%,#3d52a9 8.3%,#3a5faf 8.5%,#3a5fb0 8.7%,#3d51a9 9.2%,#3d51a9 9.7%,#366ab5 10.2%,#3961b1 10.4%,#3962b1 10.6%,#3d4ba6 11.1%,#3d51a9 11.3%,#3b43a0 11.6%,#383796 12.5%,#393796 15.8%,#3c47a3 16.1%,#3a3d9c 16.3%,#3b419f 17%,#3d4fa8 17.3%,#3b419f 18%,#3b42a0 19.1%,#3d4fa8 19.9%,#3c57ac 20.1%,#3768b3 20.3%,#3b5bae 21.3%,#3865b2 21.7%,#3c55ab 22.2%,#3d4aa5 22.9%,#3d4fa8 23.2%,#3b409e 23.9%,#3d4aa5 24.6%,#3b419e 24.8%,#3c47a3 25.3%,#3a3d9c 26%,#3c44a1 26.2%,#393a99 26.5%,#3b3f9d 26.7%,#383796 27.2%,#3a3b9a 29.1%,#383796 30.3%,#3b429f 30.7%,#3a3e9c 31%,#3c48a3 31.2%,#3b419e 31.4%,#3c46a2 31.7%,#3c54ab 31.9%,#3d4ba6 32.2%,#3c54aa 32.6%,#3c47a3 32.9%,#3a3b9a 33.8%,#3b43a0 34.3%,#393897 34.5%,#383796 37.6%,#3d50a8 38.3%,#3a3b9a 39%,#3a3d9c 40.4%,#3d4ba6 41.1%,#3b3f9d 41.8%,#3b419e 42.1%,#3d4da7 42.3%,#3c59ad 42.8%,#3d49a5 43%,#3c48a4 43.5%,#3d4ea8 44.4%,#3962b1 45.4%,#3c56ac 45.6%,#3c58ad 46.8%,#3b419f 49.6%,#3c48a3 50.6%,#3a3b9a 51.1%,#383796 52%,#393998 52.5%,#3b43a0 52.7%,#393a99 53.9%,#3c46a2 55.3%,#393998 56.3%,#393998 57.4%,#3b409e 59.6%,#3a3b9a 60.5%,#3c45a1 61.2%,#3a3e9c 61.9%,#3c48a4 62.9%,#3b3f9d 64.3%,#3c45a2 65%,#3b419f 66.2%,#3c48a4 68.1%,#3b3f9d 69%,#3b43a0 70%,#3a3d9c 70.4%,#3c48a4 71.2%,#3b419f 71.6%,#3a3d9c 73%,#3a3e9c 74%,#3c44a1 74.2%,#3b3f9d 76.1%,#3c45a2 76.4%,#3b3f9d 76.6%,#3a3c9b 78%,#3b419f 79.2%,#3a3c9b 79.7%,#3a3c9b 81.3%,#3b419e 81.8%,#3a3b9a 83.2%,#3b43a0 83.7%,#3a3c9b 83.9%,#3b42a0 92%,#3a3d9c 93.6%,#3a3e9c 100%);-webkit-mask-image:linear-gradient(180deg,transparent,#000 51.8%);mask-image:linear-gradient(180deg,transparent,#000 51.8%)"></b>
<b style="top:403.0px;height:120.0px;width:335.9px;background:linear-gradient(90deg,#3d52a9 0%,#3b409e .6%,#3c47a3 .9%,#3a3e9c 1.2%,#3a3e9c 2.1%,#3c44a1 2.7%,#3b5bae 3.3%,#3a5fb0 3.6%,#336fb8 3.9%,#3b5bae 5.4%,#3a5eaf 6%,#3c54aa 6.5%,#3c44a1 6.8%,#3b429f 7.1%,#3c44a1 8.6%,#3c48a4 8.9%,#3c56ac 9.2%,#3d4ea7 9.5%,#3d4da7 10.4%,#393998 11.9%,#3d49a4 12.2%,#3d50a8 12.5%,#3d4fa8 12.8%,#383796 13.4%,#383796 14.6%,#3a3e9d 15.2%,#3a3b9a 15.8%,#3c45a1 16.1%,#383796 16.4%,#3a3d9c 16.7%,#3d4fa8 17%,#3d4ca6 17.6%,#3a3d9c 17.9%,#3b419f 18.2%,#393897 18.5%,#383796 19.6%,#3c47a3 20.2%,#393998 20.5%,#393897 21.4%,#3c45a2 21.7%,#383796 22%,#393897 23.5%,#3b3f9d 24.4%,#3c55ab 24.7%,#3d4da7 25%,#3767b3 25.3%,#3d4da7 26.2%,#3d4da7 26.8%,#3b5bae 27.4%,#3b5bae 27.7%,#3b409e 28.3%,#3d4aa5 28.6%,#3c44a1 29.2%,#3c48a4 29.5%,#3a3b9a 29.8%,#3b419e 30.7%,#3a5eaf 31.8%,#3d50a8 32.4%,#383796 34.2%,#383796 38.4%,#3a3c9b 38.7%,#383796 39%,#393796 39.9%,#3c48a4 40.2%,#3b419f 40.5%,#3c46a2 41.1%,#3a3b9a 41.4%,#3a3b9a 43.8%,#3c45a1 44%,#393897 44.3%,#383796 46.1%,#3d50a9 47.6%,#3d4ca7 47.9%,#3c53aa 48.5%,#3d4aa5 48.8%,#3b43a0 50.9%,#3c53aa 51.2%,#3c58ad 51.5%,#3d49a5 51.8%,#3c46a2 52.1%,#3c45a1 53%,#3c55ab 53.9%,#3c47a3 54.2%,#3c44a1 55.1%,#3d4da7 55.4%,#3d4ea7 55.7%,#3b43a0 56.2%,#3c44a1 56.8%,#3c5aad 58%,#3c48a3 58.9%,#3d4da7 59.5%,#3c46a2 59.8%,#3c48a4 60.1%,#3a3d9b 60.4%,#383796 62.5%,#3c45a1 63.1%,#3b43a0 63.7%,#383796 64%,#383796 65.5%,#3a3c9b 65.8%,#3d4aa5 66.1%,#3c48a4 66.4%,#383796 67%,#393a99 67.6%,#3b42a0 67.9%,#3a3c9b 68.2%,#3b43a0 69.3%,#3d50a9 69.6%,#3c46a3 69.9%,#3b429f 70.8%,#3c47a3 71.4%,#3b419e 71.7%,#3b429f 72.6%,#3d4ca6 72.9%,#3c44a1 73.2%,#3d49a5 73.5%,#3c44a1 73.8%,#3c46a3 74.1%,#3d52a9 74.4%,#3d4ba6 74.7%,#3d4ea7 75%,#3b429f 75.3%,#3a3e9d 76.8%,#3c48a3 77.1%,#3c48a4 77.4%,#3a3b9a 78.6%,#3a3b9a 82.1%,#3c47a3 83%,#3c44a1 87.5%,#3d4da7 88.1%,#3b3f9d 88.7%,#3b3f9d 89.3%,#3c48a4 89.9%,#3a3e9d 92.6%,#3b43a0 95.5%,#3a3e9c 100%);-webkit-mask-image:linear-gradient(180deg,transparent,#000 54.3%);mask-image:linear-gradient(180deg,transparent,#000 54.3%)"></b>
<b style="top:468.2px;height:103.7px;width:254.9px;background:linear-gradient(90deg,#3b5cae 0%,#3d4da7 .4%,#3c53aa .8%,#3c48a4 1.2%,#3c47a3 1.6%,#3d52a9 3.9%,#3a5eaf 4.7%,#3272ba 5.1%,#2f7abf 5.5%,#3865b2 5.9%,#3d51a9 7.1%,#3b5bae 7.5%,#3371b9 7.8%,#3371b9 8.2%,#2e7bc0 8.6%,#3c56ac 9%,#3d49a4 9.4%,#3c46a3 11.4%,#3d4ba6 11.8%,#3c58ad 12.2%,#3c48a4 12.5%,#3d4da7 13.7%,#3c48a4 15.3%,#3d4da7 15.7%,#3c5aad 16.1%,#3d52a9 16.5%,#3b5aae 16.9%,#3d4ca6 17.3%,#3d51a9 17.6%,#383796 18%,#383796 21.6%,#3b429f 22%,#3962b1 22.4%,#3b5cae 22.7%,#3d4ba6 23.1%,#383796 23.5%,#383796 26.3%,#3b419f 26.7%,#383796 27.1%,#383796 28.2%,#3c48a4 28.6%,#3b409e 29.4%,#3d4aa5 32.9%,#356bb5 33.3%,#2c7ec2 33.7%,#3669b5 34.1%,#3d4ca6 34.5%,#3b3f9e 35.7%,#3c44a1 36.1%,#383796 36.9%,#3a3b9a 38.8%,#383796 40.4%,#3b409e 40.8%,#383796 41.2%,#3c47a3 42%,#383796 44.3%,#383796 49.4%,#3b42a0 50.2%,#383796 50.6%,#383796 52.5%,#3b419e 52.9%,#383796 53.3%,#3a3c9b 54.1%,#383796 54.5%,#3d4ea7 54.9%,#383796 55.7%,#383796 58.4%,#3b409e 58.8%,#383796 59.2%,#383796 61.6%,#3b5cae 62.4%,#3078be 62.7%,#3766b2 63.1%,#3961b1 63.9%,#3d4ea7 64.7%,#3b5bae 65.1%,#3c53aa 65.5%,#3c57ac 67.1%,#3077bd 67.5%,#2c7fc3 67.8%,#3b5cae 68.2%,#3174bb 69%,#3b5bae 69.4%,#3176bc 69.8%,#2e7bc0 70.2%,#3962b1 71%,#3c44a1 71.4%,#393a99 72.9%,#3b42a0 75.3%,#3c53aa 75.7%,#3d4fa8 76.1%,#3a5faf 76.9%,#3a5eaf 77.6%,#3864b2 78.4%,#336fb8 78.8%,#3766b3 79.2%,#3c54aa 79.6%,#3d4ca6 81.2%,#393998 83.1%,#3b3f9d 83.5%,#383796 83.9%,#383796 85.1%,#3d4ba6 85.5%,#3a3b9a 86.3%,#3d4ba6 87.1%,#3b3f9d 87.5%,#3d4aa5 87.8%,#393897 88.6%,#3c47a3 89%,#393a99 89.4%,#3a3e9d 91%,#3d52a9 91.8%,#3b419e 92.5%,#3d4da7 92.9%,#3b3f9d 93.3%,#3c46a2 94.1%,#3a3e9d 94.9%,#3c48a4 95.3%,#3b409e 95.7%,#3b3f9d 96.5%,#3b429f 97.3%,#3c55ab 98%,#3c58ad 98.4%,#3c58ad 98.8%,#3c45a2 99.2%,#3d4ba6 99.6%,#3a3c9b 100%);-webkit-mask-image:linear-gradient(180deg,transparent,#000 52.4%);mask-image:linear-gradient(180deg,transparent,#000 52.4%)"></b>
<b style="top:522.5px;height:90.1px;width:187.9px;background:linear-gradient(90deg,#3c57ac 0%,#3a3e9d .5%,#393a99 2.1%,#3a3c9b 2.7%,#3c46a2 3.2%,#3c5aae 3.7%,#3865b2 4.3%,#3d4ca6 5.9%,#3865b2 6.9%,#3b43a0 8%,#3d4aa5 9.6%,#3370b9 10.1%,#3d50a8 11.2%,#3b5bae 11.7%,#3b419f 12.2%,#3c48a3 12.8%,#3b409e 13.3%,#3a3e9c 15.4%,#3a5eaf 16.5%,#3d52a9 17%,#3a3b9a 17.6%,#383796 18.1%,#383796 23.4%,#3c48a4 23.9%,#3a3b9a 24.5%,#383796 26.1%,#3c53aa 28.7%,#3863b1 29.3%,#3b5bae 29.8%,#356db6 30.3%,#3767b3 30.9%,#3c54aa 31.4%,#3d49a5 31.9%,#3d4ca7 32.4%,#3a3e9d 33%,#383796 34%,#383796 37.8%,#393a99 38.3%,#3d50a8 39.4%,#3c48a4 39.9%,#3d4fa8 42%,#3b5daf 42.6%,#3b5daf 43.1%,#3c52aa 43.6%,#3c55ab 47.9%,#3b5bae 48.4%,#3d51a9 48.9%,#3b43a0 50.5%,#3c54aa 51.6%,#3c44a1 52.1%,#3d4ea7 52.7%,#3c45a1 53.2%,#3a5eaf 53.7%,#3b409e 54.3%,#3d4aa5 56.4%,#3768b3 56.9%,#3a5eaf 57.4%,#3a60b0 58%,#3d4aa5 58.5%,#3b42a0 59.6%,#3c52aa 60.1%,#3d4fa8 61.2%,#3a3a99 61.7%,#383796 62.8%,#3c48a4 63.3%,#383796 63.8%,#383796 67%,#366ab5 67.6%,#3b409e 68.1%,#383796 68.6%,#383796 70.2%,#3d51a9 70.7%,#3c48a4 71.3%,#383796 71.8%,#383796 73.4%,#3a3c9b 73.9%,#3c54ab 74.5%,#3d51a9 75%,#383796 75.5%,#383796 76.6%,#3c48a4 77.1%,#383796 77.7%,#383796 83%,#3c53aa 83.5%,#3c53aa 84%,#3c48a4 84.6%,#3766b3 85.1%,#366ab5 85.6%,#3a5fb0 86.2%,#3766b3 86.7%,#3d4fa8 87.2%,#3b419f 87.8%,#3c57ac 88.3%,#3d49a4 88.8%,#3d4ba6 89.4%,#3d51a9 89.9%,#3961b1 90.4%,#3863b1 91%,#3d50a9 92%,#3962b1 92.6%,#3d4ea7 93.1%,#3669b4 93.6%,#3b5cae 94.1%,#366ab5 95.2%,#3c54aa 95.7%,#3a5fb0 96.3%,#3c47a3 96.8%,#3c47a3 99.5%,#3c53aa 100%);-webkit-mask-image:linear-gradient(180deg,transparent,#000 54.2%);mask-image:linear-gradient(180deg,transparent,#000 54.2%)"></b>
<b style="top:571.4px;height:76.6px;width:128.0px;background:linear-gradient(90deg,#383796 0%,#383796 5.5%,#3c53aa 6.2%,#3a5eaf 7%,#3b3f9d 7.8%,#3c55ab 8.6%,#2f7abf 9.4%,#3768b4 10.2%,#356db6 10.9%,#3c56ab 11.7%,#3c59ad 13.3%,#3076bd 14.1%,#15a1ca 14.8%,#1f95cf 15.6%,#3a5faf 18%,#3c5aae 21.1%,#3865b2 21.9%,#3d52a9 22.7%,#3c53aa 23.4%,#3a3d9c 25%,#383796 26.6%,#383796 28.1%,#3c48a4 28.9%,#3b5daf 30.5%,#3c57ac 32%,#3c45a2 33.6%,#3a5daf 35.2%,#3c46a2 35.9%,#383796 36.7%,#393a99 41.4%,#3c56ab 44.5%,#248dcb 45.3%,#1f94cf 46.9%,#258bca 47.7%,#3175bc 48.4%,#2788c9 49.2%,#2c7fc3 50%,#3c47a3 50.8%,#3c59ad 51.6%,#3a3d9c 52.3%,#3b409e 53.9%,#393897 54.7%,#393a99 55.5%,#3c48a4 57%,#3b5bae 60.2%,#2c7ec2 60.9%,#14a1ca 61.7%,#1f94cf 62.5%,#2984c6 63.3%,#3669b4 64.1%,#2b81c4 64.8%,#3768b4 65.6%,#3767b3 69.5%,#3b5bae 71.9%,#3b5daf 74.2%,#3d4ba6 75%,#3c45a1 76.6%,#3d51a9 80.5%,#3d50a8 82.8%,#3865b2 83.6%,#3d4da7 84.4%,#3c59ad 85.2%,#3a3d9c 86.7%,#393998 87.5%,#3a3b9a 89.1%,#3b5bae 89.8%,#3a3a99 90.6%,#393897 91.4%,#383796 96.1%,#3b3f9e 97.7%,#383796 98.4%,#3d4fa8 99.2%,#393998 100%);-webkit-mask-image:linear-gradient(180deg,transparent,#000 53.2%);mask-image:linear-gradient(180deg,transparent,#000 53.2%)"></b>
<b style="top:612.1px;height:65.7px;width:77.0px;background:linear-gradient(90deg,#3b409e 0%,#393998 1.3%,#3b409e 3.9%,#3d4da7 5.2%,#3d4da7 6.5%,#3175bc 7.8%,#3078bd 10.4%,#13a6c4 11.7%,#1d98d1 13%,#199cce 14.3%,#15aab7 15.6%,#1a9bcf 16.9%,#3c53aa 18.2%,#3766b2 22.1%,#248dcb 23.4%,#189ecd 24.7%,#3272ba 26%,#2d7dc1 27.3%,#2094cf 28.6%,#3077bd 29.9%,#2d7cc1 31.2%,#346db7 32.5%,#3866b2 33.8%,#2b81c4 35.1%,#3370b8 37.7%,#3c56ab 39%,#3768b4 40.3%,#383796 41.6%,#383796 42.9%,#3a3b9a 44.2%,#2b81c4 45.5%,#1b9bcf 46.8%,#2887c8 48.1%,#3a5faf 49.4%,#383796 51.9%,#3a3e9c 53.2%,#3c53aa 54.5%,#383796 55.8%,#356bb5 57.1%,#2a83c6 58.4%,#3076bc 59.7%,#2b80c3 61%,#3b3f9d 62.3%,#3b409e 63.6%,#3b5bae 72.7%,#2192ce 74%,#7abc79 75.3%,#16a0cb 76.6%,#13a5c5 77.9%,#2983c6 79.2%,#3c44a1 80.5%,#2f7abf 81.8%,#3a5faf 83.1%,#393897 84.4%,#3b43a0 85.7%,#383796 87%,#393998 96.1%,#3a5daf 97.4%,#3d4ba6 98.7%,#3c57ac 100%);-webkit-mask-image:linear-gradient(180deg,transparent,#000 53.8%);mask-image:linear-gradient(180deg,transparent,#000 53.8%)"></b>
<b style="top:647.4px;height:71.1px;width:34.0px;background:linear-gradient(90deg,#383796 0%,#383796 26.5%,#3c52aa 29.4%,#258bcb 32.4%,#14a2c9 35.3%,#2689c9 38.2%,#3c56ab 41.2%,#3c58ad 44.1%,#2a82c5 47.1%,#248dcb 50%,#12a5c6 52.9%,#2cb09f 55.9%,#2cb09f 58.8%,#199cce 61.8%,#1fadab 64.7%,#2f79bf 67.6%,#366ab5 76.5%,#268aca 79.4%,#366ab5 82.4%,#3669b4 85.3%,#3272ba 88.2%,#268aca 91.2%,#1f95d0 94.1%,#2290cd 97.1%,#2093cf 100%);-webkit-mask-image:linear-gradient(180deg,transparent,#000 42.0%);mask-image:linear-gradient(180deg,transparent,#000 42.0%)"></b>
<b style="top:677.3px;height:41.2px;width:7.0px;background:linear-gradient(90deg,#3d50a8 0%,#268aca 14.3%,#3c52aa 28.6%,#383796 42.9%,#383796 100%);-webkit-mask-image:linear-gradient(180deg,transparent,#000 98.8%);mask-image:linear-gradient(180deg,transparent,#000 98.8%)"></b>
</div>
</div>
<div class="hm" style="left:1165.8px;top:66.2px;width:717.1px;height:718.1px;background:#3b3b9a">
<i style="top:0px;height:4.38px;background:repeating-linear-gradient(90deg,transparent 0 3.4px,rgba(52,118,190,.31) 3.4px 6.8px,transparent 6.8px 6.8px) 0px 0/49.3px 100% no-repeat,repeating-linear-gradient(90deg,rgba(52,118,190,.49) 0 5px,transparent 5px 12.3px,rgba(52,118,190,.49) 12.3px 14.6px) 49.3px 0/53.8px 100% no-repeat,repeating-linear-gradient(90deg,transparent 0 1.6px,rgba(52,118,190,.31) 1.6px 4.3px,transparent 4.3px 5.3px) 103px 0/52.9px 100% no-repeat,linear-gradient(90deg,#3c47a3 0%,#3b409e .4%,#3b419f 1.3%,#3c59ad 3.2%,#3d4aa5 4.3%,#3c47a3 6.3%,#3c53aa 7.4%,#3d4fa8 8.6%,#3c57ac 9.9%,#3c46a2 11.7%,#3c58ad 15.1%,#3d4ea7 16.3%,#3c54ab 18%,#3c45a2 21.9%,#43b493 22%,#20adaa 22.2%,#13a5c4 22.3%,#1d98d1 22.5%,#13a6c2 22.6%,#24aea7 22.7%,#85bc74 23%,#c9b959 23.3%,#ecb846 23.6%,#f7ba3e 24%,#f0b844 24.3%,#ddb84f 24.4%,#bbba5f 24.5%,#8abc73 24.7%,#46b492 24.8%,#15a9b9 25%,#1e96d0 25.1%,#3863b1 25.4%,#3a5fb0 25.5%,#1c99d0 26.2%,#12a4c8 26.4%,#15aab7 26.5%,#24aea6 26.6%,#56b78a 26.9%,#67b982 27.1%,#6fba7e 27.2%,#66b982 27.3%,#41b494 27.5%,#30b19d 27.6%,#60b885 27.8%,#6eba7e 27.9%,#6aba80 28%,#5bb887 28.2%,#29afa2 28.5%,#17abb3 28.6%,#13a5c4 28.7%,#199cce 28.9%,#2290cd 29%,#3865b2 29.1%,#3d52a9 29.7%,#346db7 30%,#2093ce 30.3%,#14a2ca 30.4%,#15a9b8 30.5%,#31b19d 30.8%,#43b493 31.1%,#34b19b 31.5%,#15aab7 31.9%,#199dce 32.2%,#2191cd 32.4%,#2a83c6 32.5%,#3c55ab 32.6%,#3c55ab 32.9%,#3b409e 33.1%,#393a99 33.2%,#3b409e 33.5%,#3c55ab 33.6%,#3c55ab 33.9%,#393a99 34.2%,#393a99 34.4%,#3c53aa 34.6%,#3c55ab 34.9%,#3d4ea8 35%,#393a99 35.1%,#393a99 35.4%,#3c55ab 35.7%,#3c55ab 36%,#393a99 36.3%,#393a99 36.5%,#3c55ab 36.8%,#3c55ab 37.1%,#393a99 37.4%,#393a99 37.7%,#3c55ab 37.9%,#3c55ab 38.2%,#393a99 38.5%,#393a99 38.8%,#3b419f 38.9%,#3c55ab 39.1%,#3c54ab 39.5%,#3b3f9d 39.6%,#393a99 39.7%,#393a99 40%,#3c55ab 40.3%,#3d51a9 40.7%,#3a3c9b 40.9%,#393a99 41%,#393a99 41.3%,#3c55ab 41.6%,#3c55ab 42%,#3b419f 42.1%,#393a99 42.3%,#393a99 42.5%,#3b409e 42.7%,#3c53aa 42.8%,#3c55ab 43%,#3c55ab 43.2%,#393a99 43.5%,#393a99 43.9%,#3c55ab 44.2%,#3c55ab 44.6%,#393a99 44.9%,#393a99 45.3%,#3b429f 45.5%,#3c54aa 45.6%,#3c55ab 46%,#3d52a9 46.2%,#3b409e 46.3%,#393a99 46.6%,#393a99 46.9%,#3c55ab 47.1%,#3c55ab 47.6%,#3d4ea8 47.7%,#3a3d9c 47.8%,#393a99 48%,#393a99 48.4%,#3c55ab 48.7%,#3c55ab 49.1%,#3c52aa 49.2%,#393a99 49.5%,#393a99 49.9%,#3c55ab 50.3%,#3c55ab 50.8%,#3b3f9d 51%,#393a99 51.3%,#393a99 51.6%,#3c55ab 52%,#3c53aa 52.6%,#393a99 52.9%,#393a99 53.1%,#393a99 53.4%,#3c54ab 53.7%,#3c55ab 54.3%,#393a99 54.7%,#393a99 55.2%,#3d52a9 55.5%,#3c55ab 56.2%,#3a3c9b 56.5%,#393a99 56.6%,#393a99 57.2%,#3c54aa 57.5%,#3c55ab 57.6%,#3c55ab 58.2%,#3a3e9c 58.4%,#393a99 58.6%,#393a99 59.1%,#3c55ab 59.6%,#3c55ab 59.7%,#3c55ab 60.3%,#3a3c9b 60.5%,#393a99 60.7%,#393a99 61.2%,#3a3e9c 61.4%,#3c55ab 61.6%,#3c55ab 62.3%,#393a99 62.8%,#393a99 63.5%,#3c55ab 63.9%,#3c55ab 64%,#3c54aa 64.7%,#393a99 65.1%,#393a99 65.7%,#3b419e 66%,#3c55ab 66.2%,#3c55ab 67.1%,#393a99 67.5%,#393a99 67.8%,#393a99 68.3%,#3c55ab 68.8%,#3c55ab 69.6%,#3a3b9a 70%,#393a99 70.4%,#3a3c9b 71%,#3c55ab 71.4%,#3c55ab 72.2%,#3a3e9c 72.7%,#393a99 73.2%,#393a99 73.6%,#3c55ab 74.2%,#3c54aa 75.2%,#393a99 75.6%,#393a99 75.7%,#393a99 76.6%,#3c55ab 77.1%,#3c55ab 78.1%,#393a99 78.7%,#393a99 78.9%,#393a99 79.6%,#3c55ab 80.2%,#3c55ab 80.3%,#3c55ab 81.3%,#393a99 81.9%,#393a99 82.8%,#393a99 83%,#3c55ab 83.5%,#3c55ab 84.7%,#3a3c9b 85.2%,#393a99 85.6%,#393a99 86.5%,#3c55ab 87.2%,#3c55ab 88.3%,#393a99 89%,#393a99 90.2%,#3c55ab 90.9%,#3c55ab 92.2%,#393a99 92.9%,#3a3b9a 94.3%,#3c54aa 94.8%,#3c55ab 95.3%,#3c55ab 96.4%,#393a99 97.1%,#393a99 98.5%,#3c54aa 99.2%,#3c55ab 100%)"></i>
<i style="top:3.78px;height:8.16px;background:repeating-linear-gradient(90deg,transparent 0 .9px,rgba(52,118,190,.5) .9px 4.4px,transparent 4.4px 7.1px) 0px 0/49.3px 100% no-repeat,repeating-linear-gradient(90deg,rgba(52,118,190,.38) 0 3.7px,transparent 3.7px 10.6px,rgba(52,118,190,.38) 10.6px 13.8px) 49.3px 0/53.8px 100% no-repeat,repeating-linear-gradient(90deg,transparent 0 2.3px,rgba(52,118,190,.42) 2.3px 4.9px,transparent 4.9px 5.3px) 103px 0/52.9px 100% no-repeat,linear-gradient(90deg,#3d50a8 0%,#3c44a1 .6%,#3d51a9 1.8%,#3d4ba6 3.8%,#3b5bae 5.3%,#383493 6.8%,#3d4ca6 8.1%,#3b42a0 9.3%,#3c55ab 10.3%,#3b43a0 11.9%,#3c56ac 12.8%,#3766b2 14.5%,#3c44a1 16.5%,#3c45a2 18.1%,#3d4fa8 19.1%,#3b43a0 21.9%,#12a5c6 22%,#1b9acf 22.2%,#14a7bf 22.3%,#27afa3 22.5%,#86bc74 22.7%,#c4ba5b 23%,#e3b84b 23.3%,#f0b844 23.7%,#ddb84f 24%,#c3ba5c 24.1%,#9bbc6b 24.3%,#62b984 24.4%,#23aea8 24.5%,#14a1ca 24.7%,#2789c9 24.8%,#346fb8 25%,#3371b9 25.1%,#2290cd 25.4%,#16a0cb 25.5%,#15aab7 25.7%,#32b19c 25.8%,#96bc6e 26.1%,#beba5e 26.2%,#dfb84e 26.4%,#f6b93f 26.5%,#fdc036 26.6%,#f9d72a 26.9%,#f4ed2b 27.5%,#f6e229 28%,#fdc334 28.5%,#f8ba3d 28.6%,#e6b84a 28.7%,#a1bc69 29%,#16a0cb 29.1%,#1e96d0 29.3%,#3766b3 29.8%,#3c58ad 30.1%,#1b9ad0 30.7%,#13a5c5 30.8%,#16abb4 31%,#2cb09f 31.2%,#35b19b 31.5%,#25aea6 31.9%,#15aab8 32.2%,#189dcd 32.5%,#393a99 32.6%,#393a99 32.8%,#3c55ab 33.1%,#3c55ab 33.3%,#3a3e9d 33.5%,#393a99 33.6%,#3b419e 33.9%,#3c55ab 34%,#3c55ab 34.3%,#393a99 34.6%,#393a99 34.9%,#3d4fa8 35%,#3c55ab 35.1%,#3c54ab 35.4%,#3a3c9b 35.6%,#393a99 35.7%,#3a3d9c 36%,#3c55ab 36.1%,#3c55ab 36.3%,#3d51a9 36.5%,#393a99 36.7%,#3a3e9c 37.1%,#3c55ab 37.2%,#3c55ab 37.4%,#3c53aa 37.7%,#3a3d9c 37.8%,#393a99 37.9%,#393a99 38.2%,#3d4ea8 38.4%,#3c55ab 38.5%,#3c55ab 38.8%,#393a99 39.1%,#393a99 39.3%,#3b419f 39.5%,#3c55ab 39.6%,#3c55ab 40%,#3b42a0 40.2%,#393a99 40.3%,#393a99 40.6%,#3b42a0 40.7%,#3c55ab 40.9%,#3c55ab 41.3%,#393a99 41.6%,#3a3d9c 42%,#3d51a9 42.1%,#3c55ab 42.3%,#3c55ab 42.5%,#3d4ea8 42.7%,#3a3b9a 42.8%,#393a99 43%,#393a99 43.2%,#3c55ab 43.5%,#3c55ab 43.9%,#393a99 44.2%,#393a99 44.6%,#3c55ab 44.9%,#3c55ab 45%,#3d50a8 45.5%,#3a3e9c 45.6%,#393a99 45.7%,#3a3b9a 46.2%,#3c55ab 46.4%,#3c55ab 46.9%,#393a99 47.1%,#3a3c9b 47.7%,#3c55ab 48%,#3c55ab 48.4%,#3a3c9b 48.7%,#393a99 48.8%,#393a99 49.2%,#3c55ab 49.5%,#3c55ab 50.1%,#393a99 50.3%,#393a99 50.9%,#3c55ab 51.2%,#3c55ab 51.7%,#3a3b9a 52%,#393a99 52.2%,#393a99 52.6%,#3c55ab 53%,#3c55ab 53.6%,#393a99 53.8%,#393a99 54.4%,#3c55ab 54.8%,#3c55ab 55.4%,#3a3e9c 55.6%,#393a99 55.8%,#393a99 56.3%,#3c52aa 56.6%,#3c55ab 56.8%,#3c55ab 57.3%,#393a99 57.7%,#393a99 58.3%,#3c55ab 58.7%,#3c54aa 59.4%,#3a3b9a 59.7%,#393a99 59.8%,#393a99 60.4%,#3c55ab 60.8%,#3c55ab 61.5%,#393a99 61.9%,#393a99 62.6%,#3c55ab 63%,#3c55ab 63.7%,#393a99 64.2%,#3a3b9a 65%,#3c55ab 65.4%,#3c55ab 66.1%,#3a3b9a 66.5%,#393a99 66.7%,#393a99 67.4%,#3c55ab 67.8%,#3c55ab 67.9%,#3c55ab 68.6%,#393a99 69.2%,#3a3b9a 70%,#3c55ab 70.4%,#3c55ab 71.3%,#393a99 71.8%,#393a99 72.7%,#3c55ab 73.2%,#3c55ab 74.1%,#393a99 74.6%,#393a99 75.6%,#3c55ab 76.2%,#3c55ab 77.1%,#393a99 77.7%,#393a99 78.7%,#3c55ab 79.2%,#3c55ab 80.2%,#393a99 80.9%,#393a99 81.9%,#3c55ab 82.6%,#3c53aa 83.7%,#393a99 84.2%,#393a99 85.4%,#3c55ab 86.1%,#3c55ab 87.2%,#393a99 87.9%,#3a3b9a 89.1%,#3c55ab 89.7%,#3c54ab 91.1%,#393a99 91.8%,#393a99 93%,#3c55ab 93.7%,#3c55ab 95.1%,#393a99 95.8%,#3a3c9b 97.4%,#3c55ab 98%,#3c55ab 99.4%,#3b43a0 100%)"></i>
<i style="top:11.34px;height:8.16px;background:repeating-linear-gradient(90deg,rgba(52,118,190,.46) 0 1.9px,transparent 1.9px 5.6px,rgba(52,118,190,.46) 5.6px 7.4px) 0px 0/49.3px 100% no-repeat,repeating-linear-gradient(90deg,rgba(52,118,190,.39) 0 2.4px,transparent 2.4px 9px,rgba(52,118,190,.39) 9px 13.1px) 49.3px 0/53.8px 100% no-repeat,repeating-linear-gradient(90deg,rgba(52,118,190,.33) 0 .3px,transparent .3px 2.9px,rgba(52,118,190,.33) 2.9px 5.2px) 103px 0/52.9px 100% no-repeat,linear-gradient(90deg,#3c54aa 0%,#3b5bae 1.7%,#3b419f 2.9%,#3d4ba6 3.8%,#3c44a1 5%,#3c54ab 5.9%,#3c47a3 7.8%,#3d4fa8 10.3%,#3c5aae 11.2%,#3d4aa6 13.2%,#3c55ab 14.8%,#3d4ea7 15.6%,#3d52a9 16.9%,#3c46a3 17.9%,#3d4da7 18.8%,#3c45a2 20.1%,#3c58ad 21.9%,#14a8bd 22%,#28afa3 22.2%,#82bc76 22.5%,#bcba5f 22.7%,#d8b851 23%,#e3b84b 23.3%,#dab850 23.6%,#c8b959 23.7%,#aabb66 23.8%,#7ebc77 24%,#40b395 24.1%,#15a9b9 24.3%,#1d99d1 24.4%,#2c7ec2 24.5%,#2d7dc2 24.7%,#2290cd 24.8%,#15a0cb 25%,#17abb3 25.1%,#3eb396 25.2%,#a9bb66 25.5%,#f2b843 25.8%,#fdbe37 25.9%,#f9d92a 26.2%,#f5e82a 26.5%,#f4eb2a 26.8%,#f6e429 27.1%,#fdc334 27.3%,#ebb846 27.5%,#dfb84e 27.6%,#fdbe37 27.8%,#f6e129 28%,#f4eb2a 28.3%,#f6e429 28.7%,#fccf2e 29%,#59b888 29.1%,#25aea6 29.4%,#15aab7 29.6%,#12a4c8 29.7%,#1c99d0 29.8%,#3370b9 30.3%,#3960b0 30.5%,#2192ce 31%,#169fcb 31.1%,#14a7be 31.2%,#23aea8 31.5%,#2aafa1 31.8%,#20adab 32.2%,#15a9bb 32.5%,#3c55ab 32.6%,#3c52aa 32.8%,#393a99 32.9%,#393a99 33.2%,#3c55ab 33.5%,#3c55ab 33.8%,#3b3f9d 33.9%,#393a99 34.2%,#3a3e9d 34.3%,#3c55ab 34.4%,#3c55ab 34.7%,#393a99 35%,#393a99 35.3%,#3c55ab 35.6%,#3c55ab 35.8%,#393a99 36.1%,#393a99 36.4%,#3c55ab 36.7%,#3c55ab 37%,#393a99 37.2%,#393a99 37.5%,#3c55ab 37.8%,#3d4fa8 38.2%,#393a99 38.4%,#393a99 38.8%,#3d4fa8 38.9%,#3c55ab 39.3%,#393a99 39.6%,#3a3d9c 40%,#3c52aa 40.2%,#3c55ab 40.3%,#3c55ab 40.6%,#393a99 40.9%,#393a99 41.3%,#3d4ea8 41.4%,#3c55ab 41.6%,#3d50a9 42%,#3a3c9b 42.1%,#393a99 42.5%,#3c55ab 42.8%,#3c55ab 43.2%,#393a99 43.5%,#393a99 43.9%,#3c55ab 44.2%,#3c55ab 44.6%,#3d4ea8 44.8%,#3a3c9b 44.9%,#393a99 45%,#3a3d9c 45.5%,#3d4fa8 45.6%,#3c55ab 45.7%,#3c55ab 46.2%,#393a99 46.4%,#393a99 46.9%,#3b419e 47%,#3d52a9 47.1%,#3c55ab 47.3%,#3c55ab 47.7%,#393a99 48%,#3a3c9b 48.5%,#3c55ab 48.8%,#3c55ab 49.2%,#3d50a9 49.4%,#3b409e 49.5%,#393a99 49.8%,#393a99 50.1%,#3c55ab 50.5%,#3d51a9 51%,#393a99 51.3%,#3a3b9a 51.9%,#3c55ab 52.2%,#3c55ab 52.6%,#3c55ab 52.7%,#3a3c9b 53%,#393a99 53.1%,#3a3d9c 53.7%,#3c55ab 54%,#3c55ab 54.1%,#3c55ab 54.5%,#393a99 55%,#393a99 55.5%,#3d51a9 55.8%,#3c55ab 55.9%,#3c55ab 56.5%,#393a99 56.9%,#393a99 57.5%,#3c55ab 57.9%,#3c55ab 58.2%,#3c52aa 58.6%,#393a99 58.9%,#393a99 59.6%,#3c55ab 60%,#3c55ab 60.7%,#3a3d9c 60.9%,#393a99 61.2%,#3a3b9a 61.8%,#3c52aa 62.1%,#3c55ab 62.2%,#3c55ab 62.9%,#393a99 63.3%,#393a99 64%,#3c55ab 64.4%,#3c54ab 65.3%,#3b3f9d 65.6%,#393a99 66%,#3a3d9c 66.5%,#3c55ab 66.9%,#3c55ab 67.5%,#3c52aa 67.8%,#393a99 68.2%,#393a99 69%,#3c55ab 69.5%,#3c55ab 70.3%,#393a99 70.9%,#393a99 71.7%,#3c55ab 72.2%,#3c55ab 73.1%,#393a99 73.6%,#3a3b9a 74.6%,#3c55ab 75%,#3c55ab 75.5%,#3c55ab 76%,#393a99 76.6%,#393a99 77.5%,#3c55ab 78.1%,#3c55ab 79.2%,#393a99 79.8%,#3a3c9b 80.9%,#3c55ab 81.5%,#3c54ab 82.6%,#393a99 83.1%,#393a99 84.2%,#3c55ab 84.9%,#3c55ab 86.1%,#3a3b9a 86.6%,#393a99 87.2%,#3a3c9b 88%,#3c55ab 88.6%,#3c55ab 89.8%,#393a99 90.5%,#393a99 91.4%,#3a3c9b 91.9%,#3c55ab 92.5%,#3c55ab 93.9%,#393a99 94.6%,#393a99 96%,#3c55ab 96.8%,#3c55ab 98.2%,#393a99 99%,#393a99 100%)"></i>
<i style="top:18.9px;height:8.16px;background:repeating-linear-gradient(90deg,transparent 0 2.9px,rgba(52,118,190,.3) 2.9px 6.8px,transparent 6.8px 7.8px) 0px 0/49.3px 100% no-repeat,repeating-linear-gradient(90deg,rgba(52,118,190,.27) 0 1.3px,transparent 1.3px 7.6px,rgba(52,118,190,.27) 7.6px 12.5px) 49.3px 0/53.8px 100% no-repeat,repeating-linear-gradient(90deg,rgba(52,118,190,.45) 0 .9px,transparent .9px 3.5px,rgba(52,118,190,.45) 3.5px 5.1px) 103px 0/52.9px 100% no-repeat,linear-gradient(90deg,#3d49a4 0%,#3d4aa5 1.8%,#383493 2.9%,#373291 3.5%,#3c5aae 5.7%,#3c58ac 6.6%,#3b43a0 7.8%,#3d51a9 8.9%,#3c56ab 10.6%,#3d4ba6 12%,#3c52aa 13.8%,#3b43a0 14.9%,#3d4fa8 16.2%,#3a3d9b 17.4%,#3d4ba6 18.7%,#3d4aa6 20.1%,#3c5aad 21.2%,#3c59ad 21.9%,#52b78b 22%,#7cbc78 22.2%,#b2bb63 22.5%,#ccb957 22.7%,#d6b852 23%,#c9b959 23.3%,#b4bb62 23.4%,#93bc6f 23.6%,#62b984 23.7%,#27afa3 23.8%,#13a5c5 24%,#2290cd 24.1%,#2984c6 24.3%,#1e97d0 24.4%,#13a6c3 24.5%,#25aea6 24.7%,#5bb887 24.8%,#c0ba5d 25.1%,#e4b84b 25.2%,#f9bb3c 25.4%,#f8db29 25.8%,#f6e429 26.2%,#f6e129 26.4%,#fdc036 26.8%,#fcce2e 27.2%,#fdbe37 27.6%,#f6ba3f 27.8%,#e5b84a 27.9%,#c8b959 28%,#b9ba60 28.2%,#f0b843 28.3%,#fdc334 28.5%,#f7df28 28.7%,#f6e429 29%,#86bc74 29.1%,#75bb7b 29.4%,#64b983 29.6%,#31b19d 29.8%,#1dadae 30%,#14a7bf 30.1%,#179ecc 30.3%,#2192ce 30.4%,#3669b4 30.8%,#366ab5 31%,#1b9acf 31.4%,#12a4c7 31.5%,#21adaa 31.9%,#1aacb0 32.5%,#393a99 32.6%,#3d4fa8 32.8%,#3c55ab 32.9%,#3d51a9 33.2%,#393a99 33.3%,#393a99 33.6%,#3c55ab 33.9%,#3c55ab 34.2%,#3b429f 34.3%,#393a99 34.4%,#393a99 34.7%,#3d52a9 34.9%,#3c55ab 35%,#3c53aa 35.3%,#3a3b9a 35.4%,#393a99 35.6%,#3a3e9c 35.8%,#3c55ab 36%,#3c55ab 36.1%,#3d52a9 36.4%,#3a3b9a 36.5%,#393a99 36.7%,#3a3b9a 37%,#3c52aa 37.1%,#3c55ab 37.2%,#3c55ab 37.5%,#3b419f 37.7%,#393a99 37.8%,#393a99 38.1%,#3c55ab 38.4%,#3d4fa8 38.8%,#393a99 38.9%,#393a99 39.3%,#3d4ea7 39.5%,#3c55ab 39.6%,#3c55ab 39.9%,#3d4da7 40%,#393a99 40.2%,#393a99 40.6%,#3c55ab 40.9%,#3d52a9 41.3%,#3a3e9d 41.4%,#393a99 41.6%,#393a99 41.8%,#3b429f 42%,#3c55ab 42.1%,#3c55ab 42.3%,#3c55ab 42.5%,#393a99 42.8%,#393a99 43.2%,#3c55ab 43.5%,#3c55ab 43.9%,#393a99 44.2%,#393a99 44.4%,#393a99 44.6%,#3b409e 44.8%,#3d52a9 44.9%,#3c55ab 45%,#3c54ab 45.5%,#393a99 45.7%,#393a99 46.2%,#3c55ab 46.4%,#3c53aa 47%,#393a99 47.3%,#393a99 47.7%,#3c53aa 48%,#3c55ab 48.1%,#3c55ab 48.5%,#393a99 48.8%,#393a99 49.4%,#3c55ab 49.7%,#3c55ab 50.2%,#393a99 50.5%,#393a99 51%,#3c53aa 51.3%,#3c55ab 51.5%,#3c55ab 51.9%,#393a99 52.3%,#393a99 52.9%,#3c55ab 53.1%,#3c55ab 53.7%,#393a99 54.1%,#393a99 54.7%,#3c55ab 55.1%,#3c55ab 55.6%,#393a99 56.1%,#393a99 56.6%,#3c55ab 57%,#3c55ab 57.6%,#393a99 58%,#393a99 58.7%,#3d52a9 59%,#3c55ab 59.1%,#3c52aa 59.8%,#393a99 60.1%,#393a99 60.3%,#393a99 60.8%,#3c55ab 61.2%,#3c55ab 61.9%,#393a99 62.3%,#393a99 62.5%,#3a3c9b 63.2%,#3c52aa 63.5%,#3c55ab 63.6%,#3c55ab 64.3%,#393a99 64.7%,#393a99 65.6%,#3c55ab 66%,#3c54ab 66.8%,#393a99 67.2%,#393a99 68.1%,#3c55ab 68.5%,#3c55ab 69.3%,#393a99 69.9%,#393a99 70.7%,#3c55ab 71.3%,#3c55ab 72.1%,#393a99 72.7%,#393a99 73.5%,#3c55ab 74.1%,#3c55ab 75%,#393a99 75.6%,#393a99 76.6%,#3c55ab 77.1%,#3c55ab 78.1%,#393a99 78.7%,#393a99 79.8%,#3c55ab 80.3%,#3c55ab 81.5%,#393a99 82%,#393a99 83.1%,#3c55ab 83.8%,#3c55ab 84.9%,#393a99 85.5%,#393a99 85.6%,#393a99 86.8%,#3c55ab 87.4%,#3c55ab 88.7%,#393a99 89.4%,#393a99 90.7%,#3c55ab 91.4%,#3c54ab 92.7%,#393a99 93.4%,#393a99 94.8%,#3c55ab 95.5%,#3c54aa 97.1%,#393a99 97.8%,#393a99 99.3%,#3c55ab 100%)"></i>
<i style="top:26.46px;height:8.16px;background:repeating-linear-gradient(90deg,transparent 0 0px,rgba(52,118,190,.37) 0px 4.1px,transparent 4.1px 8.1px) 0px 0/49.3px 100% no-repeat,repeating-linear-gradient(90deg,rgba(52,118,190,.29) 0 .4px,transparent .4px 6.3px,rgba(52,118,190,.29) 6.3px 12px) 49.3px 0/53.8px 100% no-repeat,repeating-linear-gradient(90deg,rgba(52,118,190,.49) 0 1.6px,transparent 1.6px 4.1px,rgba(52,118,190,.49) 4.1px 5px) 103px 0/52.9px 100% no-repeat,linear-gradient(90deg,#3d52a9 0%,#3c44a1 1.3%,#3962b1 2.6%,#3b429f 4.3%,#3c57ac 6.4%,#3c44a1 8.1%,#3d52a9 10.5%,#3a3b9a 12.7%,#3d50a8 14.5%,#3a3e9c 16.3%,#3b419f 18%,#3c55ab 19.5%,#3c46a3 20.8%,#3c44a1 21.9%,#91bc70 22%,#b5bb61 22.3%,#c8b959 22.7%,#b8ba60 23%,#a2bc69 23.2%,#7ebc77 23.3%,#1bacaf 23.6%,#16a0cb 23.7%,#2689ca 23.8%,#1e97d1 24%,#13a6c2 24.1%,#26afa5 24.3%,#94bc6e 24.5%,#c1ba5c 24.7%,#e4b84a 24.8%,#f8bb3d 25%,#fdcc2f 25.2%,#f8db29 25.7%,#fad42c 25.9%,#f8bb3d 26.2%,#d8b851 26.4%,#fdbd38 26.8%,#fdca30 27.2%,#fcbc39 27.6%,#f4b941 27.8%,#c3ba5c 28%,#a0bc69 28.2%,#47b591 28.5%,#86bc74 28.6%,#cab958 28.7%,#f5b940 28.9%,#fdc334 29%,#71bb7d 29.1%,#7fbc77 29.4%,#6eba7e 29.8%,#4bb58f 30.1%,#1dadad 30.4%,#14a7bf 30.5%,#179fcc 30.7%,#2192ce 30.8%,#3669b4 31.2%,#1f95d0 31.7%,#13a6c1 31.9%,#19acb1 32.2%,#1bacaf 32.5%,#3d49a5 32.6%,#393a99 32.8%,#393a99 33.1%,#3d50a8 33.2%,#3c55ab 33.3%,#3d51a9 33.6%,#393a99 33.8%,#393a99 34%,#3c55ab 34.3%,#3c55ab 34.6%,#393a99 34.9%,#393a99 35%,#393a99 35.1%,#3c55ab 35.4%,#3c55ab 35.7%,#393a99 36%,#393a99 36.3%,#3c55ab 36.5%,#3c55ab 36.8%,#393a99 37.1%,#393a99 37.4%,#3b419f 37.5%,#3c55ab 37.7%,#3c55ab 37.8%,#3c54ab 38.1%,#3b3f9d 38.2%,#393a99 38.4%,#393a99 38.6%,#3c55ab 38.9%,#3d51a9 39.3%,#3a3c9b 39.5%,#393a99 39.9%,#3c55ab 40.2%,#3c54aa 40.6%,#3b409e 40.7%,#393a99 40.9%,#393a99 41.1%,#3b419e 41.3%,#3c54ab 41.4%,#3c55ab 41.8%,#393a99 42.1%,#393a99 42.4%,#393a99 42.5%,#3c55ab 42.8%,#3c55ab 43.2%,#393a99 43.5%,#393a99 43.9%,#3c55ab 44.2%,#3c55ab 44.4%,#3d51a9 44.8%,#3b3f9d 44.9%,#393a99 45%,#393a99 45.5%,#3c55ab 45.7%,#3c55ab 46.2%,#3a3c9b 46.4%,#393a99 47%,#3c55ab 47.3%,#3c52aa 47.8%,#393a99 48.1%,#393a99 48.5%,#3c55ab 49%,#3c55ab 49.4%,#393a99 49.8%,#393a99 50.2%,#3c55ab 50.6%,#3c54aa 51.2%,#393a99 51.5%,#393a99 52%,#3c53aa 52.3%,#3c55ab 52.4%,#3c53aa 53%,#393a99 53.3%,#393a99 53.7%,#393a99 53.8%,#3c55ab 54.3%,#3c55ab 54.8%,#393a99 55.2%,#393a99 55.8%,#3c55ab 56.2%,#3c55ab 56.8%,#393a99 57.2%,#3a3b9a 57.9%,#3c54ab 58.2%,#3c55ab 58.3%,#3c55ab 58.9%,#393a99 59.3%,#393a99 59.7%,#393a99 60%,#3c55ab 60.4%,#3c55ab 61.1%,#393a99 61.5%,#393a99 62.2%,#3c55ab 62.6%,#3c55ab 63.3%,#393a99 63.9%,#393a99 64.6%,#3c55ab 65%,#3c55ab 65.8%,#393a99 66.2%,#393a99 67.1%,#3c55ab 67.5%,#3c55ab 68.3%,#393a99 68.9%,#393a99 69.7%,#3c54ab 70.2%,#3c55ab 71.1%,#3a3b9a 71.5%,#393a99 71.7%,#393a99 72.5%,#3c55ab 73.1%,#3c53aa 74.1%,#393a99 74.5%,#393a99 75.5%,#3c55ab 76%,#3c53aa 77.1%,#3a3b9a 77.5%,#393a99 77.7%,#393a99 78.7%,#3c55ab 79.2%,#3c55ab 80.3%,#393a99 80.9%,#393a99 81.2%,#393a99 82%,#3c55ab 82.7%,#3c55ab 83.8%,#393a99 84.4%,#393a99 85.6%,#3c55ab 86.3%,#3c55ab 87.4%,#393a99 88.1%,#393a99 88.6%,#3a3c9b 89.5%,#3c55ab 90.1%,#3c55ab 91.5%,#393a99 92.2%,#393a99 93.6%,#3c55ab 94.3%,#3c55ab 95.7%,#3a3c9b 96.4%,#393a99 96.7%,#3a3b9a 98%,#3c55ab 98.7%,#3c55ab 100%)"></i>
<i style="top:34.02px;height:8.16px;background:repeating-linear-gradient(90deg,rgba(52,118,190,.32) 0 1.1px,transparent 1.1px 5.3px,rgba(52,118,190,.32) 5.3px 8.6px) 0px 0/49.3px 100% no-repeat,repeating-linear-gradient(90deg,transparent 0 5.2px,rgba(52,118,190,.36) 5.2px 10.9px,transparent 10.9px 11.4px) 49.3px 0/53.8px 100% no-repeat,repeating-linear-gradient(90deg,rgba(52,118,190,.33) 0 2.2px,transparent 2.2px 4.7px,rgba(52,118,190,.33) 4.7px 5px) 103px 0/52.9px 100% no-repeat,linear-gradient(90deg,#3c46a2 0%,#3d4fa8 2.6%,#3a3e9d 3.9%,#3d52a9 6.8%,#3b43a0 8.4%,#3c47a3 9.8%,#3a3b9a 11%,#3a3b9a 12%,#3c53aa 13.8%,#3d4ca6 16%,#3b5bae 17.3%,#3c58ac 18.5%,#3668b4 19.8%,#3d4aa5 21.2%,#3c48a4 21.9%,#a9bb66 22%,#baba60 22.5%,#a8bb66 22.7%,#90bc70 22.9%,#6aba80 23%,#37b299 23.2%,#15aab8 23.3%,#1a9bcf 23.4%,#2192ce 23.6%,#12a4c8 23.7%,#1eadac 23.8%,#87bc74 24.1%,#b5bb61 24.3%,#dab850 24.4%,#f4b841 24.5%,#fcbd39 24.7%,#fbd12d 25.2%,#fdbe38 25.7%,#efb844 25.8%,#c3ba5b 25.9%,#83bc75 26.1%,#2bb0a0 26.2%,#1eadad 26.4%,#55b78a 26.8%,#6bba80 27.1%,#6dba7f 27.2%,#6aba80 27.3%,#53b78b 27.6%,#2ab0a1 27.9%,#14a8bd 28.2%,#1c99d1 28.5%,#248dcc 28.6%,#1b9ad0 28.7%,#1fadac 28.9%,#6fba7e 29%,#16aab6 29.1%,#2bb0a0 29.3%,#4cb68e 29.4%,#62b984 29.6%,#72bb7d 29.8%,#62b984 30.3%,#40b395 30.5%,#18abb2 30.8%,#13a6c3 31%,#199cce 31.1%,#238fcc 31.2%,#3272ba 31.5%,#3272ba 31.7%,#2290cd 31.9%,#199cce 32.1%,#12a4c7 32.2%,#15aab7 32.5%,#3c55ab 32.6%,#3c55ab 32.9%,#393a99 33.2%,#393a99 33.5%,#3d4ea8 33.6%,#3c55ab 33.8%,#3c55ab 34%,#3a3c9b 34.2%,#393a99 34.3%,#3a3e9c 34.6%,#3c55ab 34.7%,#3c55ab 34.9%,#3d50a9 35.1%,#393a99 35.3%,#3b3f9d 35.7%,#3c55ab 35.8%,#3c52aa 36.3%,#3a3b9a 36.4%,#393a99 36.8%,#3d50a9 37%,#3c55ab 37.1%,#3c55ab 37.4%,#393a99 37.7%,#393a99 37.9%,#3c55ab 38.2%,#3c55ab 38.4%,#3c54ab 38.6%,#3b409e 38.8%,#393a99 38.9%,#393a99 39.2%,#3c55ab 39.5%,#3c55ab 39.9%,#3b429f 40%,#393a99 40.2%,#393a99 40.4%,#3b409e 40.6%,#3c54aa 40.7%,#3c55ab 40.9%,#3c55ab 41.1%,#393a99 41.4%,#393a99 41.8%,#3c55ab 42.1%,#3c55ab 42.5%,#393a99 42.8%,#393a99 43.2%,#3c55ab 43.5%,#3c55ab 43.9%,#3a3b9a 44.2%,#393a99 44.4%,#3a3d9c 44.8%,#3d4fa8 44.9%,#3c55ab 45%,#3c55ab 45.5%,#393a99 45.7%,#3a3e9d 46.3%,#3d4fa8 46.4%,#3c55ab 46.6%,#3c55ab 47%,#3a3b9a 47.3%,#393a99 47.8%,#3c55ab 48.1%,#3c55ab 48.4%,#3c55ab 48.7%,#393a99 49%,#393a99 49.5%,#3c55ab 49.8%,#3c55ab 49.9%,#3c55ab 50.3%,#3a3b9a 50.6%,#393a99 51.2%,#3c55ab 51.6%,#3c55ab 52%,#3c55ab 52.2%,#393a99 52.4%,#393a99 53%,#3c55ab 53.4%,#3c55ab 54%,#393a99 54.4%,#393a99 55%,#3d51a9 55.2%,#3c55ab 55.5%,#3c55ab 55.9%,#393a99 56.3%,#393a99 56.9%,#3a3d9c 57%,#3c55ab 57.3%,#3c55ab 57.6%,#3c55ab 58%,#393a99 58.4%,#3a3c9b 59.1%,#3c54aa 59.4%,#3c55ab 59.6%,#3c52aa 60.3%,#3a3b9a 60.5%,#393a99 61.2%,#3a3c9b 61.4%,#3c53aa 61.6%,#3c55ab 61.9%,#3c55ab 62.5%,#393a99 62.9%,#393a99 63.6%,#3c54aa 64%,#3c55ab 64.3%,#3c55ab 64.9%,#393a99 65.3%,#393a99 65.4%,#393a99 66.1%,#3c55ab 66.5%,#3c55ab 66.7%,#3c55ab 67.4%,#393a99 67.9%,#393a99 68.8%,#3c55ab 69.2%,#3c54ab 70.2%,#393a99 70.6%,#393a99 70.9%,#393a99 71.5%,#3c55ab 72%,#3c55ab 72.1%,#3c55ab 72.9%,#393a99 73.5%,#393a99 74.5%,#3c55ab 75%,#3c55ab 76%,#393a99 76.6%,#393a99 77.5%,#3c55ab 78.1%,#3c55ab 79.2%,#393a99 79.8%,#393a99 80.2%,#393a99 80.9%,#3c55ab 81.5%,#3c55ab 81.6%,#3c54ab 82.7%,#3b3f9d 83.1%,#393a99 83.4%,#3a3b9a 84.5%,#3c55ab 85.1%,#3c55ab 86.3%,#3a3c9b 86.9%,#393a99 87.6%,#393a99 88.3%,#3c55ab 89%,#3c55ab 90.2%,#393a99 90.9%,#393a99 91.6%,#393a99 92.3%,#3c55ab 93%,#3c55ab 94.4%,#3a3c9b 95.1%,#393a99 95.8%,#3a3c9b 96.8%,#3c55ab 97.5%,#3c55ab 99%,#3a3b9a 99.7%,#393a99 100%)"></i>
<i style="top:41.57px;height:8.16px;background:repeating-linear-gradient(90deg,transparent 0 2.3px,rgba(52,118,190,.42) 2.3px 6.8px,transparent 6.8px 9px) 0px 0/49.3px 100% no-repeat,repeating-linear-gradient(90deg,transparent 0 4.1px,rgba(52,118,190,.41) 4.1px 9.6px,transparent 9.6px 11px) 49.3px 0/53.8px 100% no-repeat,repeating-linear-gradient(90deg,transparent 0 .3px,rgba(52,118,190,.41) .3px 2.8px,transparent 2.8px 4.9px) 103px 0/52.9px 100% no-repeat,linear-gradient(90deg,#3c57ac 0%,#3c46a3 1.3%,#3b43a0 2.2%,#3d4ba6 5.2%,#393a99 6.4%,#393a99 7%,#3d4ea8 8.2%,#3d4ba6 9.3%,#3c56ab 10.6%,#3c45a1 11.9%,#3c54aa 13.9%,#3c44a1 15.2%,#3d4aa5 16.5%,#3c46a2 17.4%,#3c58ad 18.8%,#3c46a2 21.9%,#abbb66 22%,#acbb65 22.2%,#9abc6c 22.5%,#81bc76 22.6%,#5ab888 22.7%,#2aafa1 22.9%,#14a7be 23%,#1d98d1 23.2%,#199dce 23.3%,#15a9b9 23.4%,#34b19b 23.6%,#a0bc6a 23.8%,#e4b84b 24.1%,#f6b93f 24.3%,#fcbd39 24.4%,#fdc831 24.8%,#fdc235 25.1%,#f9bb3c 25.2%,#e7b849 25.4%,#bcba5f 25.5%,#7fbc77 25.7%,#2cb09f 25.8%,#14a2c9 25.9%,#2985c7 26.1%,#3668b4 26.2%,#2f79be 26.9%,#2e7abf 27.3%,#3c57ac 28.7%,#3863b1 28.9%,#2d7dc1 29%,#3176bc 29.1%,#258ccb 29.3%,#179fcc 29.4%,#15a9b9 29.6%,#42b494 29.8%,#57b789 30%,#65b983 30.3%,#53b78b 30.7%,#2fb09e 31%,#15a9bb 31.2%,#14a2ca 31.4%,#1e97d0 31.5%,#346fb8 31.9%,#1c99d0 32.4%,#15a1ca 32.5%,#393a99 32.6%,#3b3f9e 32.9%,#3c55ab 33.1%,#3c55ab 33.2%,#3c55ab 33.3%,#393a99 33.6%,#393a99 33.9%,#3c55ab 34.2%,#3c55ab 34.4%,#393a99 34.7%,#393a99 35%,#3d4da7 35.1%,#3c55ab 35.3%,#3c55ab 35.6%,#393a99 35.8%,#393a99 36.1%,#3c55ab 36.4%,#3c55ab 36.5%,#3c55ab 36.7%,#393a99 37%,#3a3e9c 37.4%,#3c54aa 37.5%,#3c55ab 37.7%,#3c55ab 37.9%,#393a99 38.2%,#393a99 38.5%,#3b429f 38.6%,#3c55ab 38.8%,#3c55ab 39.2%,#393a99 39.5%,#3b3f9d 39.9%,#3c53aa 40%,#3c55ab 40.2%,#3c55ab 40.4%,#393a99 40.7%,#393a99 41.1%,#3c55ab 41.4%,#3c55ab 41.8%,#393a99 42.1%,#393a99 42.5%,#3c55ab 42.8%,#3c55ab 43.2%,#393a99 43.5%,#393a99 43.9%,#3c53aa 44.2%,#3c55ab 44.4%,#3c53aa 44.8%,#393a99 45%,#393a99 45.5%,#3c55ab 45.7%,#3c54aa 46.3%,#393a99 46.6%,#393a99 47%,#3c55ab 47.4%,#3c55ab 47.8%,#3a3d9c 48.1%,#393a99 48.3%,#393a99 48.7%,#3c52aa 49%,#3c55ab 49.5%,#393a99 49.9%,#393a99 50.3%,#3a3d9c 50.5%,#3c55ab 50.8%,#3c55ab 50.9%,#3c55ab 51.3%,#3a3b9a 51.6%,#393a99 51.7%,#3a3e9c 52.3%,#3c55ab 52.6%,#3c55ab 53.1%,#393a99 53.6%,#393a99 54.1%,#3d51a9 54.4%,#3c55ab 54.5%,#3c55ab 55.1%,#393a99 55.5%,#393a99 56.1%,#3c55ab 56.5%,#3c54ab 57.2%,#3a3b9a 57.5%,#393a99 58.2%,#3c55ab 58.6%,#3c55ab 58.7%,#3c55ab 59.3%,#393a99 59.7%,#393a99 60.4%,#3c55ab 60.8%,#3c55ab 61.5%,#393a99 61.9%,#3a3b9a 62.8%,#3c55ab 63.2%,#3c55ab 63.7%,#3d51a9 64%,#3a3c9b 64.3%,#393a99 64.4%,#393a99 65.1%,#3c54aa 65.6%,#3c55ab 66.2%,#3d52a9 66.5%,#393a99 66.9%,#393a99 67.8%,#3c55ab 68.2%,#3c53aa 69.2%,#393a99 69.6%,#3a3c9b 70.6%,#3c55ab 71%,#3c55ab 72%,#3a3b9a 72.4%,#393a99 73.4%,#3c55ab 73.9%,#3c55ab 74.6%,#3d51a9 75%,#393a99 75.5%,#3a3c9b 76.6%,#3c54ab 77%,#3c55ab 77.1%,#3c55ab 78.1%,#393a99 78.7%,#393a99 79.8%,#3c55ab 80.3%,#3c55ab 80.5%,#3c54aa 81.6%,#393a99 82.1%,#393a99 83.3%,#3c55ab 84%,#3c55ab 84.5%,#3c54ab 85.2%,#393a99 85.8%,#393a99 87%,#3c55ab 87.9%,#3c54aa 89.1%,#393a99 89.7%,#393a99 91.1%,#3c55ab 91.8%,#3c55ab 93.2%,#3a3b9a 93.9%,#393a99 94.4%,#393a99 95.4%,#3c55ab 96.2%,#3c55ab 97.6%,#393a99 98.5%,#393a99 100%)"></i>
<i style="top:49.13px;height:8.16px;background:repeating-linear-gradient(90deg,rgba(52,118,190,.32) 0 3.6px,transparent 3.6px 8.3px,rgba(52,118,190,.32) 8.3px 9.5px) 0px 0/49.3px 100% no-repeat,repeating-linear-gradient(90deg,transparent 0 3.1px,rgba(52,118,190,.33) 3.1px 8.4px,transparent 8.4px 10.5px) 49.3px 0/53.8px 100% no-repeat,repeating-linear-gradient(90deg,transparent 0 .9px,rgba(52,118,190,.32) .9px 3.4px,transparent 3.4px 4.9px) 103px 0/52.9px 100% no-repeat,linear-gradient(90deg,#3b43a0 0%,#3863b1 1.8%,#3c48a4 3.2%,#3b419f 5%,#3d4aa5 6%,#3c46a2 7.1%,#3c54ab 9.2%,#3d49a5 12%,#3d50a9 12.7%,#3d4ca6 13.9%,#3b5daf 15.6%,#3d4ea7 19.1%,#3c54ab 20.2%,#3c44a1 21.3%,#3c45a2 21.9%,#9abc6c 22%,#8cbc72 22.2%,#73bb7c 22.3%,#23aea8 22.6%,#13a6c3 22.7%,#1f95d0 22.9%,#13a3c8 23%,#1dadad 23.2%,#80bc76 23.4%,#acbb65 23.6%,#e6b849 23.8%,#f5b940 24%,#fdbf36 24.4%,#f7ba3e 24.8%,#e4b84b 25%,#beba5e 25.1%,#86bc74 25.2%,#3ab298 25.4%,#13a6c2 25.5%,#248dcc 25.7%,#3b5cae 25.9%,#3c48a3 26.2%,#3c48a4 28.9%,#3d4ea7 29.1%,#3c59ad 29.3%,#2290cd 29.7%,#15a0cb 29.8%,#15aab8 30%,#3cb397 30.3%,#4eb68e 30.4%,#57b789 30.7%,#40b395 31.1%,#16aab6 31.5%,#12a5c6 31.7%,#1a9bcf 31.8%,#3272ba 32.2%,#268aca 32.5%,#3c55ab 32.6%,#3c55ab 32.8%,#3a3e9d 32.9%,#393a99 33.1%,#3a3d9c 33.3%,#3c55ab 33.5%,#3c55ab 33.8%,#3d4ea8 33.9%,#393a99 34%,#393a99 34.3%,#3c55ab 34.6%,#3c55ab 34.9%,#3d4da7 35%,#393a99 35.1%,#393a99 35.4%,#3b419f 35.6%,#3c55ab 35.7%,#3d52a9 36.1%,#3a3b9a 36.3%,#393a99 36.5%,#393a99 36.7%,#3d4fa8 36.8%,#3c55ab 37%,#3c55ab 37.2%,#393a99 37.5%,#393a99 37.8%,#3b3f9d 37.9%,#3c54aa 38.1%,#3c55ab 38.2%,#3c55ab 38.5%,#393a99 38.8%,#3a3e9c 39.2%,#3c52aa 39.3%,#3c55ab 39.5%,#3c55ab 39.7%,#393a99 40%,#393a99 40.4%,#3c55ab 40.7%,#3c55ab 41.1%,#393a99 41.4%,#393a99 41.8%,#3c55ab 42.1%,#3c55ab 42.5%,#393a99 42.8%,#393a99 43%,#393a99 43.2%,#3c55ab 43.5%,#3c55ab 43.9%,#3d4ea8 44.1%,#3a3c9b 44.2%,#393a99 44.6%,#3a3b9a 44.8%,#3c55ab 45%,#3c55ab 45.5%,#3a3c9b 45.7%,#393a99 45.9%,#393a99 46.3%,#3c55ab 46.6%,#3c54aa 47.1%,#393a99 47.4%,#3a3d9c 48%,#3c55ab 48.3%,#3c53aa 48.8%,#393a99 49.1%,#393a99 49.7%,#3c55ab 49.9%,#3c55ab 50.1%,#3c55ab 50.5%,#3a3d9c 50.8%,#393a99 50.9%,#3a3d9b 51.5%,#3c55ab 51.7%,#3c55ab 52.3%,#393a99 52.7%,#393a99 53.3%,#3d52a9 53.6%,#3c55ab 53.7%,#3c55ab 54.3%,#3a3d9c 54.5%,#393a99 54.7%,#393a99 55.2%,#3c55ab 55.6%,#3c55ab 56.2%,#393a99 56.6%,#393a99 56.9%,#393a99 57.3%,#3c55ab 57.7%,#3c54aa 58.4%,#3a3c9b 58.7%,#393a99 58.9%,#3a3d9b 59.6%,#3c54aa 59.8%,#3c55ab 60%,#3c54aa 60.7%,#3a3d9c 60.9%,#393a99 61.1%,#393a99 61.8%,#3c55ab 62.2%,#3c55ab 62.3%,#3c53aa 63%,#393a99 63.5%,#393a99 64.2%,#3c55ab 64.7%,#3c55ab 65.4%,#393a99 66%,#393a99 66.7%,#3a3a99 66.8%,#3c55ab 67.2%,#3c55ab 68.1%,#393a99 68.6%,#393a99 69.5%,#3c55ab 70%,#3c55ab 70.9%,#393a99 71.4%,#393a99 72.4%,#3c53aa 72.8%,#3c55ab 73.8%,#393a99 74.5%,#393a99 75.5%,#3c52aa 75.9%,#3c55ab 76.4%,#3c55ab 77%,#393a99 77.5%,#393a99 78.7%,#3c55ab 79.2%,#3c55ab 80.3%,#393a99 81%,#393a99 82.1%,#3c54ab 82.7%,#3c55ab 84%,#3a3c9b 84.5%,#393a99 84.9%,#393a99 85.9%,#3c55ab 86.6%,#3c55ab 87.9%,#3a3c9b 88.4%,#393a99 88.8%,#393a99 89.8%,#3c55ab 90.5%,#3c55ab 91.9%,#3a3b9a 92.6%,#393a99 93.2%,#393a99 94.1%,#3c55ab 94.8%,#3c55ab 96.4%,#393a99 97.2%,#393a99 98.7%,#3c53aa 99.4%,#3c55ab 100%)"></i>
<i style="top:56.69px;height:8.16px;background:repeating-linear-gradient(90deg,transparent 0 5px,rgba(52,118,190,.34) 5px 10.1px,transparent 10.1px 10.1px) 0px 0/49.3px 100% no-repeat,repeating-linear-gradient(90deg,transparent 0 2.2px,rgba(52,118,190,.29) 2.2px 7.2px,transparent 7.2px 10.1px) 49.3px 0/53.8px 100% no-repeat,repeating-linear-gradient(90deg,transparent 0 1.5px,rgba(52,118,190,.29) 1.5px 3.9px,transparent 3.9px 4.8px) 103px 0/52.9px 100% no-repeat,linear-gradient(90deg,#3c53aa 0%,#3d4da7 .6%,#3d50a8 2.1%,#383695 3.8%,#393a99 4.2%,#3c54ab 4.9%,#3b5daf 5.4%,#3b419f 6.7%,#3c54ab 7.9%,#3a3b9a 9.1%,#3c59ad 11.2%,#3d50a8 12.6%,#3c57ac 14.8%,#3b419e 16%,#3c55ab 17.9%,#3c45a1 19.9%,#3d4fa8 20.9%,#3d4ca7 21.9%,#66b982 22%,#1eadac 22.3%,#12a4c7 22.5%,#1d98d1 22.6%,#13a6c1 22.7%,#26afa5 22.9%,#89bc73 23.2%,#ceb956 23.4%,#f1b843 23.7%,#fabb3b 24.1%,#f4b941 24.4%,#e3b84b 24.5%,#c3ba5c 24.7%,#93bc6f 24.8%,#50b68c 25%,#16abb5 25.1%,#1d99d1 25.2%,#3864b2 25.5%,#3c55ab 25.7%,#1b9acf 26.9%,#1c99d0 27.2%,#2290cd 27.3%,#2e7cc0 27.5%,#3174bb 27.6%,#248ccb 27.8%,#1a9bce 28%,#2290cd 28.5%,#356cb6 29%,#3c55ab 29.1%,#3d4da7 29.4%,#3a5faf 29.7%,#1f95d0 30.1%,#12a4c8 30.3%,#16abb5 30.4%,#44b492 30.8%,#47b591 31.1%,#39b298 31.4%,#16abb5 31.8%,#189dcd 32.1%,#2192ce 32.2%,#3076bc 32.5%,#393a99 32.6%,#3c55ab 32.9%,#3c55ab 33.2%,#3b419f 33.3%,#393a99 33.5%,#393a99 33.8%,#3d51a9 33.9%,#3c55ab 34%,#3c55ab 34.3%,#3a3e9c 34.4%,#393a99 34.6%,#393a99 34.9%,#3d51a9 35%,#3c55ab 35.1%,#3c55ab 35.4%,#3b419f 35.6%,#393a99 35.7%,#393a99 36%,#3c55ab 36.3%,#3c55ab 36.5%,#393a99 36.8%,#3a3c9b 37.2%,#3d51a9 37.4%,#3c55ab 37.5%,#3c55ab 37.8%,#393a99 38.1%,#3a3d9b 38.5%,#3d51a9 38.6%,#3c55ab 38.8%,#3c55ab 39.1%,#393a99 39.3%,#393a99 39.7%,#3c55ab 40%,#3c55ab 40.4%,#3b429f 40.6%,#393a99 40.7%,#3a3c9b 41.1%,#3d4fa8 41.3%,#3c55ab 41.4%,#3c53aa 41.8%,#3b419f 42%,#393a99 42.1%,#393a99 42.5%,#3c55ab 42.8%,#3c55ab 43.2%,#393a99 43.5%,#393a99 43.9%,#3b419f 44.1%,#3c52aa 44.2%,#3c55ab 44.4%,#3c55ab 44.8%,#393a99 45%,#393a99 45.5%,#3c55ab 45.9%,#3c55ab 46.3%,#3a3b9a 46.6%,#393a99 46.7%,#393a99 47.1%,#3c55ab 47.4%,#3c55ab 48%,#393a99 48.3%,#393a99 48.8%,#3c54ab 49.1%,#3c55ab 49.2%,#3c55ab 49.7%,#393a99 50.1%,#3a3b9a 50.6%,#3c55ab 50.9%,#3c55ab 51.5%,#393a99 51.9%,#393a99 52.4%,#3c53aa 52.7%,#3c55ab 52.9%,#3c55ab 53.4%,#3a3c9b 53.7%,#393a99 53.8%,#393a99 54.4%,#3c52aa 54.7%,#3c55ab 54.8%,#3c55ab 55.4%,#393a99 55.8%,#3a3c9b 56.5%,#3c55ab 56.8%,#3c55ab 56.9%,#3c55ab 57.5%,#393a99 57.9%,#393a99 58.6%,#3c55ab 59%,#3c55ab 59.7%,#393a99 60.1%,#393a99 60.8%,#3c55ab 61.2%,#3c55ab 61.4%,#3c55ab 62.1%,#393a99 62.5%,#3a3d9c 63.3%,#3c55ab 63.7%,#3c55ab 64.4%,#393a99 65%,#3a3b9a 65.8%,#3c55ab 66.2%,#3c55ab 67.1%,#393a99 67.6%,#393a99 68.5%,#3c55ab 68.9%,#3c55ab 69%,#3c55ab 69.9%,#393a99 70.4%,#393a99 71.3%,#3c55ab 71.8%,#3c55ab 72.8%,#393a99 73.4%,#393a99 74.3%,#3c55ab 74.9%,#3c55ab 75.9%,#393a99 76.6%,#393a99 77.5%,#3c55ab 78.1%,#3c55ab 79.2%,#393a99 79.9%,#393a99 81%,#3c55ab 81.6%,#3c55ab 82.8%,#393a99 83.4%,#393a99 84.7%,#3c55ab 85.4%,#3c55ab 86.6%,#393a99 87.3%,#3a3c9b 88.7%,#3c55ab 89.4%,#3c55ab 90.7%,#393a99 91.5%,#393a99 92.9%,#3c55ab 93.6%,#3c55ab 95.1%,#393a99 96%,#3a3b9a 97.5%,#3c55ab 98.2%,#3d51a9 100%)"></i>
<i style="top:64.25px;height:8.16px;background:repeating-linear-gradient(90deg,transparent 0 1.3px,rgba(52,118,190,.51) 1.3px 6.7px,transparent 6.7px 10.7px) 0px 0/49.3px 100% no-repeat,repeating-linear-gradient(90deg,transparent 0 1.3px,rgba(52,118,190,.51) 1.3px 6.2px,transparent 6.2px 9.7px) 49.3px 0/53.8px 100% no-repeat,repeating-linear-gradient(90deg,transparent 0 2.1px,rgba(52,118,190,.3) 2.1px 4.5px,transparent 4.5px 4.7px) 103px 0/52.9px 100% no-repeat,linear-gradient(90deg,#3d4fa8 0%,#3d4aa5 1.3%,#3c54ab 2.5%,#3c46a3 6.1%,#3c58ac 8.8%,#3a3d9b 11.3%,#3d51a9 13.2%,#3b3f9d 14.5%,#3b5bae 15.8%,#3a5fb0 16.5%,#3d4ca7 18.5%,#3d49a5 20.5%,#3a3e9c 21.8%,#3b3f9d 21.9%,#1aacb0 22%,#13a3c8 22.2%,#1a9bce 22.3%,#14a8bc 22.5%,#2ab0a1 22.6%,#8cbc72 22.9%,#cab958 23.2%,#e8b848 23.4%,#f4b841 23.8%,#e2b84c 24.1%,#c9b959 24.3%,#a2bc69 24.4%,#6aba80 24.5%,#27afa4 24.7%,#13a3c9 24.8%,#268aca 25%,#3370b8 25.1%,#3766b3 25.2%,#2290cd 25.7%,#179fcc 25.8%,#15a9bb 25.9%,#28afa3 26.1%,#a7bb67 26.5%,#e1b84d 26.8%,#f4b841 26.9%,#fdc533 27.3%,#fdc235 27.9%,#f5b940 28.2%,#ceb956 28.5%,#8bbc72 28.7%,#31b19d 29%,#2887c8 29.1%,#3c58ac 29.8%,#3c59ad 30%,#3766b3 30.1%,#1a9bcf 30.5%,#13a6c2 30.7%,#27afa4 31%,#3ab298 31.2%,#3ab298 31.4%,#28afa3 31.8%,#13a6c3 32.2%,#2094cf 32.5%,#3d4ca7 32.6%,#393a99 32.8%,#393a99 33.1%,#3c55ab 33.3%,#3c55ab 33.6%,#393a99 33.9%,#393a99 34.2%,#3c55ab 34.4%,#3c55ab 34.7%,#393a99 35%,#393a99 35.3%,#3c55ab 35.6%,#3d50a9 36%,#393a99 36.1%,#393a99 36.5%,#3d4ea8 36.7%,#3c55ab 37%,#3c55ab 37.1%,#393a99 37.4%,#3a3c9b 37.8%,#3d51a9 37.9%,#3c55ab 38.1%,#3c55ab 38.4%,#393a99 38.6%,#393a99 38.8%,#393a99 39.1%,#3c55ab 39.3%,#3c53aa 39.7%,#3b409e 39.9%,#393a99 40%,#3b3f9d 40.4%,#3d52a9 40.6%,#3c55ab 41%,#3d50a8 41.1%,#3a3d9c 41.3%,#393a99 41.4%,#3a3e9d 41.8%,#3d51a9 42%,#3c55ab 42.1%,#3c54aa 42.5%,#3b429f 42.7%,#393a99 43%,#393a99 43.2%,#3c55ab 43.5%,#3c55ab 43.9%,#3d4fa8 44.1%,#3a3d9c 44.2%,#393a99 44.8%,#3c55ab 45%,#3d52a9 45.6%,#393a99 45.9%,#393a99 46.3%,#3d51a9 46.6%,#3c55ab 46.7%,#3c55ab 47.1%,#3a3d9c 47.4%,#393a99 48%,#3d51a9 48.3%,#3c55ab 48.7%,#3d51a9 49%,#393a99 49.2%,#393a99 49.8%,#3c55ab 50.1%,#3c55ab 50.3%,#3c55ab 50.6%,#393a99 51%,#393a99 51.6%,#3c53aa 51.9%,#3c55ab 52%,#3c55ab 52.6%,#393a99 52.9%,#3a3b9a 53.6%,#3c55ab 53.8%,#3c55ab 54.5%,#3a3d9c 54.8%,#393a99 55.5%,#3c55ab 55.9%,#3c55ab 56.2%,#3c55ab 56.6%,#3a3d9c 56.9%,#393a99 57%,#3a3d9c 57.7%,#3c55ab 58%,#3c55ab 58.7%,#3d52a9 58.9%,#3a3b9a 59.1%,#393a99 59.3%,#3a3c9b 60%,#3c52aa 60.3%,#3c55ab 60.7%,#3c55ab 61.1%,#393a99 61.5%,#3a3c9b 62.3%,#3c55ab 62.8%,#3c55ab 63.5%,#393a99 64%,#393a99 64.7%,#3a3c9b 64.9%,#3c55ab 65.3%,#3c55ab 65.7%,#3c55ab 66.1%,#393a99 66.5%,#393a99 66.7%,#3a3b9a 67.5%,#3c55ab 67.9%,#3c55ab 68.3%,#3c54aa 68.9%,#393a99 69.3%,#393a99 70.3%,#3c54ab 70.7%,#3c55ab 71.5%,#3c52aa 71.8%,#393a99 72.2%,#393a99 73.2%,#3c55ab 73.8%,#3c55ab 73.9%,#3c54aa 74.9%,#3a3b9a 75.3%,#393a99 75.5%,#393a99 76.4%,#3c55ab 77%,#3c55ab 77.3%,#3c55ab 78.1%,#393a99 78.7%,#393a99 79.8%,#3c55ab 80.5%,#3c55ab 81.6%,#393a99 82.3%,#393a99 83.4%,#3c55ab 84.1%,#3c55ab 84.5%,#3c55ab 85.4%,#393a99 86.1%,#3a3b9a 87.4%,#3c55ab 88.1%,#3c55ab 89.4%,#3a3a99 90.1%,#393a99 90.5%,#3a3b9a 91.6%,#3c55ab 92.3%,#3c54ab 93.9%,#393a99 94.6%,#393a99 96.1%,#3c54aa 96.8%,#3c55ab 98.5%,#393a99 99.3%,#393a99 100%)"></i>
<i style="top:71.81px;height:8.16px;background:repeating-linear-gradient(90deg,rgba(52,118,190,.26) 0 2.9px,transparent 2.9px 8.6px,rgba(52,118,190,.26) 8.6px 11.5px) 0px 0/49.3px 100% no-repeat,repeating-linear-gradient(90deg,transparent 0 .6px,rgba(52,118,190,.31) .6px 5.3px,transparent 5.3px 9.4px) 49.3px 0/53.8px 100% no-repeat,repeating-linear-gradient(90deg,rgba(52,118,190,.44) 0 .3px,transparent .3px 2.7px,rgba(52,118,190,.44) 2.7px 4.7px) 103px 0/52.9px 100% no-repeat,linear-gradient(90deg,#3c57ac 0%,#3d50a8 .7%,#3c56ac 1.8%,#3b43a0 3.1%,#3b3f9d 4%,#3c57ac 5.4%,#3c47a3 7.4%,#3c57ac 9.6%,#3b43a0 13.7%,#3d4ba6 14.5%,#3a3e9c 15.8%,#3b43a0 16.6%,#3962b1 18%,#3c5aad 18.5%,#3a3d9c 19.4%,#393897 20.2%,#3d4ea8 21.9%,#189dcd 22%,#15a9ba 22.2%,#2cb09f 22.3%,#89bc73 22.6%,#c3ba5c 22.9%,#deb84e 23.2%,#e8b848 23.4%,#e0b84d 23.7%,#ceb957 23.8%,#afbb64 24%,#83bc75 24.1%,#44b492 24.3%,#15aab7 24.4%,#1c99d0 24.5%,#2c7fc2 24.7%,#3174bb 24.8%,#1e97d0 25.1%,#13a5c5 25.2%,#21adaa 25.4%,#86bc74 25.7%,#dab850 25.9%,#f5b940 26.1%,#fdc036 26.2%,#f8db29 26.5%,#f4ea2a 26.8%,#f3ed2b 27.2%,#f6e128 27.6%,#f3ee2b 28%,#f5e629 28.5%,#fbd12d 28.7%,#f7ba3e 29%,#29afa2 29.1%,#17abb3 29.3%,#13a5c4 29.4%,#199cce 29.6%,#2290cd 29.7%,#3669b4 30.1%,#3960b0 30.4%,#2093cf 30.8%,#15a0cb 31%,#14a8bc 31.1%,#26afa5 31.4%,#2db09e 31.7%,#23aea8 32.1%,#15aab8 32.4%,#13a6c4 32.5%,#3c55ab 32.6%,#3d4fa8 33.1%,#393a99 33.2%,#393a99 33.5%,#3b419f 33.6%,#3c55ab 33.8%,#3d4fa8 34.2%,#393a99 34.3%,#3b3f9d 34.7%,#3c55ab 34.9%,#3c55ab 35%,#3c54ab 35.3%,#3a3e9d 35.4%,#393a99 35.6%,#393a99 35.8%,#3c55ab 36.1%,#3c55ab 36.4%,#393a99 36.7%,#3a3b9a 37.1%,#3d50a8 37.2%,#3c55ab 37.4%,#3c55ab 37.7%,#393a99 37.9%,#393a99 38.4%,#3c55ab 38.6%,#3d51a9 39.1%,#3a3d9c 39.2%,#393a99 39.3%,#393a99 39.6%,#3b429f 39.7%,#3c55ab 39.9%,#3c55ab 40%,#3c55ab 40.3%,#393a99 40.6%,#393a99 41%,#3c55ab 41.3%,#3c55ab 41.7%,#3d4ea8 41.8%,#3a3c9b 42%,#393a99 42.1%,#3a3d9c 42.5%,#3d4fa8 42.7%,#3c55ab 42.8%,#3c55ab 43.2%,#393a99 43.5%,#393a99 43.9%,#3c55ab 44.4%,#3c55ab 44.8%,#393a99 45%,#3a3b9a 45.6%,#3c55ab 45.9%,#3d52a9 46.4%,#393a99 46.7%,#3a3e9c 47.3%,#3c55ab 47.6%,#3c53aa 48.1%,#393a99 48.4%,#393a99 49%,#3c55ab 49.2%,#3c55ab 49.4%,#3c55ab 49.8%,#393a99 50.2%,#393a99 50.8%,#3c54ab 51%,#3c55ab 51.2%,#3c53aa 51.7%,#393a99 52%,#3a3d9c 52.7%,#3c55ab 53%,#3c53aa 53.7%,#393a99 54%,#393a99 54.7%,#3d52a9 55%,#3c55ab 55.1%,#3c55ab 55.6%,#393a99 56.1%,#393a99 56.8%,#3c55ab 57.2%,#3c55ab 57.9%,#393a99 58.3%,#393a99 59%,#3c55ab 59.4%,#3c55ab 60.1%,#393a99 60.5%,#3a3b9a 61.4%,#3c55ab 61.8%,#3c52aa 62.6%,#393a99 63%,#3a3c9b 63.9%,#3c55ab 64.3%,#3c55ab 65.1%,#393a99 65.6%,#393a99 66.4%,#3c55ab 66.9%,#3c55ab 67.8%,#393a99 68.3%,#393a99 69.2%,#3c55ab 69.7%,#3c55ab 70.7%,#3a3b9a 71.1%,#393a99 71.3%,#3a3c9b 72.2%,#3c55ab 72.7%,#3c55ab 72.8%,#3c54ab 73.8%,#393a99 74.3%,#393a99 75.3%,#3c55ab 75.9%,#3c55ab 77%,#393a99 77.5%,#393a99 78.7%,#3c55ab 79.4%,#3c55ab 80.5%,#393a99 81%,#393a99 81.2%,#393a99 82.3%,#3c55ab 83%,#3c55ab 84.2%,#393a99 84.8%,#393a99 84.9%,#393a99 86.2%,#3c55ab 86.9%,#3c55ab 88.1%,#393a99 88.8%,#3a3c9b 90.4%,#3c55ab 91.1%,#3c55ab 92.5%,#393a99 93.3%,#3a3b9a 94.8%,#3c55ab 95.5%,#3c55ab 97.1%,#393a99 97.9%,#393a99 99.6%,#3c48a4 100%)"></i>
<i style="top:79.37px;height:8.16px;background:repeating-linear-gradient(90deg,transparent 0 4.6px,rgba(52,118,190,.46) 4.6px 10.8px,transparent 10.8px 12.3px) 0px 0/49.3px 100% no-repeat,repeating-linear-gradient(90deg,rgba(52,118,190,.26) 0 4.4px,transparent 4.4px 8.9px,rgba(52,118,190,.26) 8.9px 9.1px) 49.3px 0/53.8px 100% no-repeat,repeating-linear-gradient(90deg,rgba(52,118,190,.41) 0 .9px,transparent .9px 3.2px,rgba(52,118,190,.41) 3.2px 4.6px) 103px 0/52.9px 100% no-repeat,linear-gradient(90deg,#3d50a9 0%,#3d4da7 2%,#3a60b0 3.8%,#3c44a1 5.2%,#3c48a3 6.7%,#3a3d9c 7.9%,#3d4da7 9.8%,#3c47a3 11%,#3c57ac 12.3%,#3d4ba6 13.4%,#3d4fa8 14.6%,#3d49a4 15.9%,#3c59ad 17.9%,#3b409e 19.4%,#3d52a9 20.4%,#3c58ad 21.9%,#2bb0a0 22%,#84bc75 22.3%,#b9ba60 22.6%,#d2b954 22.9%,#dcb84f 23.2%,#ceb956 23.4%,#b9ba60 23.6%,#97bc6d 23.7%,#65b982 23.8%,#28afa2 24%,#13a5c5 24.1%,#2290cd 24.3%,#2d7cc1 24.4%,#238fcd 24.5%,#15a0cb 24.7%,#17abb3 24.8%,#41b494 25%,#adbb65 25.2%,#d6b853 25.4%,#f4b841 25.5%,#fdbf36 25.7%,#f9d92a 25.9%,#f5e72a 26.4%,#f6e329 26.6%,#fdc632 26.9%,#f3b842 27.1%,#e9b848 27.5%,#ddb84f 27.6%,#b2bb63 27.9%,#e9b848 28%,#fdc136 28.2%,#f6e128 28.5%,#f5e629 28.6%,#f6e229 29%,#7ebc77 29.1%,#5cb887 29.4%,#27afa4 29.7%,#16aab5 29.8%,#12a4c7 30%,#1c99d0 30.1%,#3865b2 30.7%,#3669b5 30.8%,#1a9bcf 31.2%,#12a5c6 31.4%,#23aea7 31.8%,#25aea6 32.1%,#17abb3 32.5%,#393a99 32.6%,#393a99 32.9%,#3d51a9 33.1%,#3c55ab 33.2%,#3c55ab 33.5%,#3a3e9c 33.6%,#393a99 34%,#3d50a9 34.2%,#3c55ab 34.3%,#3c55ab 34.6%,#3b42a0 34.7%,#393a99 34.9%,#393a99 35.1%,#3c55ab 35.4%,#3c55ab 35.7%,#3d4ea7 35.8%,#393a99 36%,#393a99 36.4%,#3d4fa8 36.5%,#3c55ab 36.7%,#3c55ab 37%,#393a99 37.2%,#393a99 37.7%,#3d4ea7 37.8%,#3c55ab 37.9%,#3c55ab 38.2%,#3d4fa8 38.4%,#3a3b9a 38.5%,#393a99 38.6%,#393a99 38.9%,#3c55ab 39.2%,#3c55ab 39.6%,#393a99 39.9%,#393a99 40.3%,#3c55ab 40.6%,#3c55ab 41%,#393a99 41.3%,#393a99 41.7%,#3c55ab 42%,#3c55ab 42.1%,#3d51a9 42.5%,#3b3f9d 42.7%,#393a99 42.8%,#393a99 43.2%,#3c55ab 43.5%,#3c55ab 43.7%,#3c55ab 43.9%,#393a99 44.4%,#393a99 44.8%,#3c55ab 45%,#3c55ab 45.6%,#393a99 45.9%,#393a99 46.3%,#393a99 46.4%,#3c55ab 46.7%,#3c55ab 47.3%,#393a99 47.6%,#393a99 48.1%,#3c54ab 48.4%,#3c55ab 49%,#3b419e 49.2%,#393a99 49.5%,#393a99 49.9%,#3c55ab 50.2%,#3c55ab 50.3%,#3d52a9 50.9%,#393a99 51.2%,#393a99 51.7%,#3c55ab 52.2%,#3c55ab 52.7%,#393a99 53.1%,#393a99 53.4%,#3a3d9c 53.8%,#3c55ab 54.1%,#3c55ab 54.8%,#3a3e9c 55.1%,#393a99 55.2%,#3a3d9c 55.9%,#3c55ab 56.2%,#3c55ab 56.9%,#393a99 57.3%,#393a99 58%,#3c55ab 58.4%,#3c55ab 59.1%,#3a3b9a 59.6%,#393a99 59.7%,#393a99 60.4%,#3c55ab 60.8%,#3c55ab 61.5%,#3c53aa 61.6%,#3a3d9c 61.9%,#393a99 62.3%,#3a3d9c 62.9%,#3c55ab 63.3%,#3c54aa 64.2%,#393a99 64.6%,#393a99 65%,#393a99 65.4%,#3c54ab 65.8%,#3c55ab 66%,#3c55ab 66.8%,#393a99 67.2%,#393a99 67.4%,#393a99 68.2%,#3c55ab 68.6%,#3c55ab 69.6%,#3a3e9c 70%,#393a99 70.3%,#393a99 71.1%,#3c55ab 71.7%,#3c55ab 72.7%,#393a99 73.2%,#393a99 74.2%,#3c55ab 74.8%,#3c55ab 75%,#3c55ab 75.9%,#393a99 76.4%,#393a99 77.5%,#3c55ab 78.1%,#3c54aa 79.4%,#3a3e9c 79.8%,#393a99 80.2%,#3a3b9a 81.2%,#3c55ab 81.7%,#3c55ab 83%,#3a3c9b 83.5%,#393a99 83.8%,#393a99 84.9%,#3c53aa 85.5%,#3c55ab 86.6%,#3c53aa 87%,#393a99 87.6%,#393a99 89%,#3c55ab 89.8%,#3c55ab 91.2%,#393a99 91.9%,#393a99 93.4%,#3c55ab 94.3%,#3c55ab 95.8%,#393a99 96.5%,#393a99 98.2%,#3c55ab 99%,#3c55ab 100%)"></i>
<i style="top:86.93px;height:8.16px;background:repeating-linear-gradient(90deg,transparent 0 0px,rgba(52,118,190,.25) 0px 6.6px,transparent 6.6px 13.3px) 0px 0/49.3px 100% no-repeat,repeating-linear-gradient(90deg,rgba(52,118,190,.39) 0 3.5px,transparent 3.5px 7.9px,rgba(52,118,190,.39) 7.9px 8.8px) 49.3px 0/53.8px 100% no-repeat,repeating-linear-gradient(90deg,rgba(52,118,190,.42) 0 1.5px,transparent 1.5px 3.8px,rgba(52,118,190,.42) 3.8px 4.6px) 103px 0/52.9px 100% no-repeat,linear-gradient(90deg,#3c55ab 0%,#3c47a3 1.3%,#3c59ad 4.2%,#3d4ea8 5.6%,#3c55ab 6.8%,#393796 8.9%,#3b419e 9.6%,#3c58ac 10.5%,#3b5daf 11.3%,#3c46a2 16.5%,#3c53aa 17.7%,#3c44a1 19%,#3a3d9c 20.6%,#3d49a4 21.9%,#7cbc78 22%,#99bc6c 22.2%,#bdba5f 22.5%,#ceb956 22.9%,#bdba5e 23.2%,#a5bc68 23.3%,#81bc76 23.4%,#1bacaf 23.7%,#169fcb 23.8%,#2788c9 24%,#13a3c9 24.3%,#1dadad 24.4%,#87bc74 24.7%,#b6ba61 24.8%,#ddb84f 25%,#f6b93f 25.1%,#fdc136 25.2%,#fad62b 25.5%,#f7df28 25.9%,#f8dc29 26.1%,#fdc235 26.4%,#f5b940 26.5%,#fdc036 26.6%,#fad62b 26.9%,#f7de28 27.2%,#fad42c 27.5%,#fdbe37 27.8%,#f4b941 27.9%,#dbb850 28%,#8fbc70 28.3%,#aebb64 28.5%,#e7b849 28.6%,#fdbe38 28.7%,#f8da2a 29%,#83bc75 29.1%,#80bc76 29.4%,#6eba7e 29.7%,#5db886 29.8%,#2ab0a0 30.1%,#19acb2 30.3%,#13a6c3 30.4%,#1a9cce 30.5%,#238ecc 30.7%,#3766b3 31.1%,#1f95d0 31.5%,#15a1cb 31.7%,#1cacaf 32.1%,#1cacaf 32.5%,#3c55ab 32.6%,#3c55ab 32.8%,#393a99 33.1%,#393a99 33.3%,#3c55ab 33.6%,#3c55ab 33.9%,#393a99 34.2%,#393a99 34.4%,#3c55ab 34.7%,#3d50a9 35.1%,#393a99 35.3%,#393a99 35.4%,#393a99 35.7%,#3d4ea7 35.8%,#3c55ab 36%,#3c55ab 36.3%,#393a99 36.5%,#393a99 37%,#3d4fa8 37.1%,#3c55ab 37.2%,#3c55ab 37.5%,#3d4da7 37.7%,#393a99 37.8%,#393a99 38.2%,#3c55ab 38.5%,#3c55ab 38.9%,#393a99 39.2%,#3a3b9a 39.6%,#3d4ea7 39.7%,#3c55ab 39.9%,#3c54ab 40.3%,#3b42a0 40.4%,#393a99 40.6%,#393a99 41%,#3c55ab 41.3%,#3c55ab 41.7%,#393a99 42%,#393a99 42.4%,#3b409e 42.5%,#3d52a9 42.7%,#3c55ab 42.8%,#3c55ab 43.2%,#393a99 43.5%,#393a99 43.9%,#3c55ab 44.4%,#3c55ab 44.8%,#3a3b9a 45%,#393a99 45.2%,#393a99 45.6%,#3c55ab 45.9%,#3c55ab 46.4%,#393a99 46.7%,#393a99 46.9%,#393a99 47.3%,#3c53aa 47.6%,#3c55ab 47.7%,#3c55ab 48.1%,#393a99 48.5%,#393a99 49.1%,#3c55ab 49.4%,#3c55ab 49.9%,#393a99 50.3%,#393a99 50.9%,#3c55ab 51.3%,#3c55ab 51.9%,#393a99 52.3%,#393a99 52.9%,#3c55ab 53.3%,#3d52a9 54%,#393a99 54.3%,#393a99 55%,#3c55ab 55.4%,#3c54aa 56.1%,#3a3c9b 56.3%,#393a99 56.5%,#3a3d9b 57.2%,#3c54aa 57.5%,#3c55ab 57.6%,#3c54aa 58.3%,#3a3d9c 58.6%,#393a99 58.7%,#393a99 59.4%,#3c55ab 59.8%,#3c53aa 60.7%,#393a99 61.1%,#393a99 61.8%,#3c55ab 62.3%,#3c55ab 63%,#393a99 63.6%,#393a99 64.4%,#3c55ab 64.9%,#3c55ab 65.7%,#393a99 66.2%,#393a99 67.1%,#3c55ab 67.6%,#3c53aa 68.6%,#393a99 69%,#393a99 70%,#3c55ab 70.6%,#3c55ab 71.5%,#393a99 72.1%,#393a99 73.1%,#3c55ab 73.6%,#3c55ab 74.8%,#393a99 75.3%,#393a99 76.4%,#3c55ab 77%,#3c55ab 78.1%,#393a99 78.8%,#393a99 79.9%,#3c55ab 80.6%,#3c55ab 81.7%,#393a99 82.4%,#393a99 83.7%,#3c55ab 84.4%,#3c55ab 85.6%,#393a99 86.3%,#393a99 87.7%,#3c55ab 88.4%,#3c55ab 89.8%,#393a99 90.7%,#393a99 92.1%,#3c55ab 92.9%,#3c55ab 94.4%,#3a3b9a 95.1%,#393a99 95.4%,#393a99 96.8%,#3c55ab 97.6%,#3c55ab 99.3%,#3a3e9d 100%)"></i>
<i style="top:94.49px;height:8.16px;background:repeating-linear-gradient(90deg,rgba(52,118,190,.52) 0 1.8px,transparent 1.8px 9px,rgba(52,118,190,.52) 9px 14.4px) 0px 0/49.3px 100% no-repeat,repeating-linear-gradient(90deg,rgba(52,118,190,.32) 0 2.7px,transparent 2.7px 7px,rgba(52,118,190,.32) 7px 8.5px) 49.3px 0/53.8px 100% no-repeat,repeating-linear-gradient(90deg,rgba(52,118,190,.47) 0 2px,transparent 2px 4.3px,rgba(52,118,190,.47) 4.3px 4.5px) 103px 0/52.9px 100% no-repeat,linear-gradient(90deg,#3d4ea8 0%,#3b409e .7%,#3d49a4 2%,#3c46a2 3.2%,#3c56ac 4.6%,#3c44a1 6.6%,#3d4ea8 8.5%,#3b419e 10.3%,#3d4da7 12.6%,#3a3b9a 14.4%,#3c53aa 16.2%,#3d51a9 17.9%,#383594 19.1%,#393796 19.5%,#3c53aa 20.6%,#3d4ea8 21.9%,#a3bc69 22%,#b8ba60 22.3%,#c0ba5d 22.6%,#acbb65 22.9%,#93bc6f 23%,#6cba7f 23.2%,#37b29a 23.3%,#15a9b9 23.4%,#1b9acf 23.6%,#238fcd 23.7%,#15a1ca 23.8%,#19acb1 24%,#45b492 24.1%,#80bc77 24.3%,#afbb64 24.4%,#d6b852 24.5%,#f3b842 24.7%,#fcbd39 24.8%,#fad52b 25.4%,#fad52b 25.5%,#fdc533 25.8%,#f8ba3d 25.9%,#d9b851 26.1%,#9fbc6a 26.2%,#74bb7c 26.4%,#92bc6f 26.5%,#bcba5f 26.8%,#d0b955 27.1%,#d0b955 27.3%,#baba60 27.6%,#8ebc71 27.9%,#28afa3 28.3%,#15aab7 28.5%,#13a2c9 28.6%,#34b19b 28.7%,#8dbc71 28.9%,#cdb957 29%,#3cb397 29.1%,#5ab888 29.3%,#6dba7f 29.4%,#76bb7b 29.6%,#75bb7b 29.8%,#64b983 30.1%,#55b78a 30.3%,#16abb4 30.7%,#12a5c6 30.8%,#1b9acf 31%,#3370b9 31.4%,#3371b9 31.5%,#2290cd 31.8%,#199dce 31.9%,#12a5c6 32.1%,#18abb2 32.5%,#393a99 32.6%,#3c55ab 32.9%,#3c55ab 33.2%,#393a99 33.5%,#393a99 33.8%,#3b429f 33.9%,#3c55ab 34%,#3c52aa 34.4%,#3a3c9b 34.6%,#393a99 34.7%,#393a99 35%,#3d4da7 35.1%,#3c55ab 35.4%,#3c55ab 35.6%,#393a99 35.8%,#3a3b9a 36.3%,#3d50a9 36.4%,#3c55ab 36.5%,#3c55ab 36.8%,#393a99 37.1%,#393a99 37.5%,#3c55ab 37.8%,#3c53aa 38.2%,#3b3f9d 38.4%,#393a99 38.5%,#393a99 38.8%,#3b409e 38.9%,#3c53aa 39.1%,#3c55ab 39.2%,#3c55ab 39.5%,#3d4fa8 39.6%,#3a3c9b 39.7%,#393a99 39.9%,#393a99 40.2%,#3b3f9d 40.3%,#3d52a9 40.4%,#3c55ab 40.7%,#3c53aa 41%,#3b419f 41.1%,#393a99 41.3%,#393a99 41.7%,#3c55ab 42%,#3c55ab 42.1%,#3c55ab 42.4%,#3a3c9b 42.7%,#393a99 42.8%,#393a99 43.2%,#3c55ab 43.5%,#3c55ab 43.9%,#393a99 44.4%,#393a99 44.8%,#3c52aa 45%,#3c55ab 45.3%,#3c55ab 45.6%,#3a3c9b 45.9%,#393a99 46%,#393a99 46.4%,#3d52a9 46.7%,#3c55ab 47.3%,#393a99 47.7%,#393a99 48.3%,#3c55ab 48.5%,#3c55ab 48.7%,#3c55ab 49.1%,#393a99 49.5%,#393a99 50.1%,#3c53aa 50.3%,#3c55ab 50.5%,#3c55ab 51%,#3a3b9a 51.3%,#393a99 51.5%,#393a99 52%,#3c53aa 52.3%,#3c55ab 52.4%,#3c55ab 53%,#393a99 53.4%,#393a99 54%,#3a3e9c 54.1%,#3c55ab 54.4%,#3c55ab 55.1%,#393a99 55.5%,#393a99 56.2%,#3d51a9 56.5%,#3c55ab 56.9%,#3c55ab 57.3%,#393a99 57.7%,#393a99 58.4%,#3c55ab 58.9%,#3c55ab 59%,#3c53aa 59.7%,#393a99 60.1%,#393a99 60.8%,#3c54ab 61.2%,#3c55ab 61.4%,#3c55ab 62.1%,#3a3c9b 62.5%,#393a99 63.3%,#3c55ab 63.9%,#3c55ab 64.2%,#3c55ab 64.7%,#3a3b9a 65.1%,#393a99 65.3%,#393a99 66.1%,#3c55ab 66.5%,#3c55ab 66.8%,#3c55ab 67.5%,#3a3b9a 67.9%,#393a99 68.9%,#3c55ab 69.5%,#3c55ab 69.7%,#3c55ab 70.4%,#393a99 71%,#393a99 72%,#3c55ab 72.5%,#3c54ab 73.6%,#393a99 74.2%,#393a99 75.2%,#3c53aa 75.7%,#3c55ab 76.3%,#3c55ab 77%,#393a99 77.5%,#393a99 78.7%,#3c55ab 79.4%,#3c54aa 80.6%,#393a99 81.2%,#393a99 82.4%,#3d52a9 83%,#3c55ab 83.3%,#3c55ab 84.4%,#393a99 85.1%,#393a99 86.5%,#3d52a9 87%,#3c55ab 87.3%,#3c55ab 88.6%,#393a99 89.3%,#393a99 90.8%,#3c55ab 91.5%,#3c55ab 93%,#3a3c9b 93.7%,#393a99 94%,#393a99 95.4%,#3c55ab 96.2%,#3c55ab 97.9%,#393a99 98.7%,#393a99 100%)"></i>
<i style="top:102.05px;height:8.16px;background:repeating-linear-gradient(90deg,transparent 0 3.9px,rgba(52,118,190,.49) 3.9px 11.8px,transparent 11.8px 15.7px) 0px 0/49.3px 100% no-repeat,repeating-linear-gradient(90deg,rgba(52,118,190,.5) 0 2px,transparent 2px 6.1px,rgba(52,118,190,.5) 6.1px 8.2px) 49.3px 0/53.8px 100% no-repeat,repeating-linear-gradient(90deg,transparent 0 .4px,rgba(52,118,190,.25) .4px 2.6px,transparent 2.6px 4.5px) 103px 0/52.9px 100% no-repeat,linear-gradient(90deg,#3d4ba6 0%,#3d4ea7 2.8%,#3b5cae 4%,#3d4aa5 5.7%,#3c57ac 7.4%,#3c45a2 8.9%,#3c55ab 13.7%,#3c44a1 15.1%,#3c58ad 17.3%,#3d4ba6 20.8%,#3d50a8 21.9%,#abbb65 22%,#b2bb63 22.3%,#9ebc6b 22.6%,#83bc75 22.7%,#5ab887 22.9%,#29afa2 23%,#14a7c0 23.2%,#1e96d0 23.3%,#1a9bcf 23.4%,#15a8bb 23.6%,#2fb19d 23.7%,#9ebc6b 24%,#e5b84a 24.3%,#f6ba3f 24.4%,#fdbe38 24.5%,#fdcb2f 25.1%,#fdbe38 25.4%,#f3b842 25.5%,#cdb957 25.7%,#93bc6f 25.8%,#43b493 25.9%,#13a7c1 26.1%,#258ccb 26.2%,#1d98d1 26.6%,#169fcc 27.1%,#1a9bcf 27.6%,#258bca 28%,#3767b3 28.7%,#2984c6 28.9%,#14a2ca 29%,#2191ce 29.1%,#13a3c9 29.3%,#18acb2 29.4%,#4db68e 29.7%,#60b885 29.8%,#6aba80 30.1%,#56b789 30.5%,#1fadab 31%,#14a8bc 31.1%,#1e96d0 31.4%,#346eb7 31.8%,#1c99d0 32.2%,#13a6c2 32.5%,#3d50a8 32.6%,#393a99 32.8%,#3a3e9d 33.2%,#3c55ab 33.3%,#3c55ab 33.5%,#3c54ab 33.8%,#3a3e9c 33.9%,#393a99 34%,#393a99 34.3%,#3c55ab 34.6%,#3c55ab 34.9%,#393a99 35.1%,#393a99 35.4%,#3a3c9b 35.6%,#3d51a9 35.7%,#3c55ab 35.8%,#3c55ab 36.1%,#393a99 36.4%,#3a3b9a 36.8%,#3d4fa8 37%,#3c55ab 37.1%,#3c55ab 37.4%,#3d4fa8 37.5%,#3a3b9a 37.7%,#393a99 37.8%,#393a99 38.1%,#3c55ab 38.4%,#3c55ab 38.8%,#393a99 39.1%,#393a99 39.5%,#3c55ab 39.7%,#3c55ab 40.2%,#393a99 40.4%,#393a99 40.9%,#3b409e 41%,#3c52aa 41.1%,#3c55ab 41.3%,#3c55ab 41.7%,#393a99 42%,#393a99 42.4%,#3c54ab 42.7%,#3c55ab 43.2%,#393a99 43.5%,#3a3e9d 44.1%,#3c55ab 44.4%,#3c55ab 44.8%,#393a99 45.2%,#393a99 45.6%,#3c55ab 46%,#3d51a9 46.6%,#393a99 46.9%,#3a3b9a 47.4%,#3c55ab 47.7%,#3c55ab 48.3%,#3a3e9d 48.5%,#393a99 48.8%,#393a99 49.2%,#3c55ab 49.5%,#3c52aa 50.2%,#393a99 50.5%,#393a99 51%,#3a3e9c 51.2%,#3c55ab 51.5%,#3c55ab 52%,#3c53aa 52.2%,#393a99 52.4%,#393a99 52.9%,#393a99 53.1%,#3d51a9 53.4%,#3c55ab 53.6%,#3c55ab 54.1%,#3d51a9 54.3%,#393a99 54.5%,#393a99 54.8%,#393a99 55.2%,#3c55ab 55.6%,#3c55ab 56.3%,#393a99 56.8%,#393a99 57%,#393a99 57.5%,#3c55ab 57.9%,#3c53aa 58.7%,#3a3d9c 59%,#393a99 59.1%,#393a99 59.8%,#3c55ab 60.3%,#3c55ab 61.1%,#393a99 61.5%,#393a99 62.1%,#393a99 62.3%,#3c54aa 62.8%,#3c55ab 62.9%,#3c54aa 63.7%,#393a99 64.2%,#393a99 64.4%,#393a99 65%,#3c55ab 65.6%,#3c55ab 66.4%,#393a99 66.9%,#393a99 67.5%,#3a3c9b 67.9%,#3c55ab 68.3%,#3c55ab 69.3%,#393a99 69.9%,#393a99 70.2%,#393a99 70.9%,#3c55ab 71.4%,#3c53aa 72.5%,#3a3b9a 72.9%,#393a99 73.1%,#393a99 74.1%,#3c55ab 74.6%,#3c55ab 75.7%,#3a3c9b 76.3%,#393a99 76.7%,#393a99 77.5%,#3c55ab 78.1%,#3c55ab 78.7%,#3c55ab 79.4%,#393a99 79.9%,#393a99 80.1%,#393a99 81.2%,#3c55ab 81.9%,#3c55ab 82.8%,#3c52aa 83.3%,#393a99 83.8%,#393a99 85.2%,#3c53aa 85.8%,#3c55ab 87%,#3c55ab 87.3%,#393a99 88%,#393a99 89.4%,#3c54aa 90.1%,#3c55ab 91.4%,#3c54aa 91.8%,#393a99 92.5%,#393a99 94%,#3c55ab 94.8%,#3c55ab 96.5%,#393a99 97.4%,#393a99 99%,#3c55ab 100%)"></i>
<i style="top:109.6px;height:8.16px;background:repeating-linear-gradient(90deg,rgba(52,118,190,.38) 0 6.5px,transparent 6.5px 15.2px,rgba(52,118,190,.38) 15.2px 17.4px) 0px 0/49.3px 100% no-repeat,repeating-linear-gradient(90deg,rgba(52,118,190,.51) 0 1.3px,transparent 1.3px 5.3px,rgba(52,118,190,.51) 5.3px 8px) 49.3px 0/53.8px 100% no-repeat,repeating-linear-gradient(90deg,transparent 0 .9px,rgba(52,118,190,.36) .9px 3.2px,transparent 3.2px 4.5px) 103px 0/52.9px 100% no-repeat,linear-gradient(90deg,#3c54ab 0%,#3d50a9 3.3%,#383594 4.9%,#3a3b9a 5.6%,#3c54aa 6.6%,#3d4da7 7.8%,#3c58ad 8.6%,#3d4ba6 11.7%,#3c53aa 15.1%,#3d4da7 16.2%,#3c56ac 17.4%,#3d4da7 18.8%,#3d50a9 20.2%,#3c44a1 21.9%,#a5bc68 22%,#9fbc6a 22.2%,#8fbc70 22.3%,#74bb7c 22.5%,#22aea9 22.7%,#13a5c5 22.9%,#2093ce 23%,#13a3c9 23.2%,#1dadad 23.3%,#81bc76 23.6%,#adbb65 23.7%,#e9b848 24%,#fcbc39 24.3%,#fdc036 24.8%,#edb845 25.1%,#cab958 25.2%,#95bc6e 25.4%,#4bb58f 25.5%,#15a9bb 25.7%,#2192ce 25.8%,#3a5eaf 26.1%,#3d52a9 26.2%,#3c59ad 27.3%,#3d49a5 28.7%,#3b5bae 29.1%,#2094cf 29.6%,#12a4c8 29.7%,#18abb2 29.8%,#45b492 30.1%,#55b78a 30.3%,#5cb887 30.5%,#51b68c 30.8%,#33b19b 31.1%,#16aab6 31.4%,#12a5c6 31.5%,#1a9bcf 31.7%,#3272ba 32.1%,#1e96d0 32.5%,#3d52a9 32.6%,#3c55ab 33.1%,#3b409e 33.2%,#393a99 33.3%,#393a99 33.6%,#3c55ab 33.9%,#3c55ab 34.2%,#393a99 34.4%,#393a99 34.7%,#3a3d9c 34.9%,#3c52aa 35%,#3c55ab 35.1%,#3c55ab 35.4%,#393a99 35.7%,#3a3e9c 36.1%,#3c52aa 36.3%,#3c55ab 36.4%,#3c55ab 36.7%,#393a99 37%,#393a99 37.4%,#3c55ab 37.7%,#3c55ab 37.9%,#3c55ab 38.1%,#3b42a0 38.2%,#393a99 38.4%,#3a3b9a 38.8%,#3d4ea8 38.9%,#3c55ab 39.1%,#3c55ab 39.5%,#393a99 39.7%,#393a99 40.2%,#3c55ab 40.4%,#3c55ab 40.6%,#3c55ab 40.9%,#393a99 41.1%,#3a3d9c 41.7%,#3d4fa8 41.8%,#3c55ab 42%,#3c55ab 42.4%,#393a99 42.7%,#3a3b9a 43.2%,#3c55ab 43.5%,#3d51a9 44.1%,#393a99 44.4%,#393a99 44.8%,#3c55ab 45.2%,#3d51a9 45.7%,#393a99 46%,#3a3b9a 46.6%,#3c55ab 46.9%,#3c55ab 47%,#3c55ab 47.4%,#3a3d9b 47.7%,#393a99 47.8%,#3a3c9b 48.4%,#3c55ab 48.7%,#3c55ab 49.2%,#393a99 49.7%,#393a99 50.1%,#393a99 50.2%,#3c55ab 50.6%,#3c55ab 51.2%,#393a99 51.6%,#393a99 52%,#3a3e9d 52.3%,#3c55ab 52.6%,#3c55ab 53.3%,#3a3d9c 53.6%,#393a99 53.7%,#3a3e9c 54.4%,#3c55ab 54.7%,#3c55ab 55.4%,#393a99 55.8%,#393a99 56.1%,#393a99 56.5%,#3c55ab 56.9%,#3c53aa 57.7%,#3a3d9c 58%,#393a99 58.3%,#393a99 58.9%,#3c55ab 59.3%,#3c55ab 60.1%,#393a99 60.5%,#393a99 60.9%,#393a99 61.4%,#3c55ab 61.8%,#3c55ab 62.6%,#393a99 63.2%,#393a99 64%,#3c55ab 64.4%,#3c54ab 65.4%,#393a99 65.8%,#393a99 66.2%,#393a99 66.8%,#3c54ab 67.2%,#3c55ab 68.2%,#393a99 68.8%,#393a99 69%,#393a99 69.7%,#3c55ab 70.3%,#3c55ab 71.3%,#393a99 71.8%,#393a99 72.5%,#393a99 72.9%,#3c55ab 73.5%,#3c55ab 74.6%,#393a99 75.2%,#393a99 76.3%,#3c55ab 77%,#3c55ab 78.1%,#393a99 78.8%,#3a3c9b 80.1%,#3c55ab 80.6%,#3c55ab 81.9%,#393a99 82.6%,#393a99 83.5%,#3a3b9a 84%,#3c55ab 84.7%,#3c55ab 85.9%,#3a3b9a 86.6%,#393a99 87%,#393a99 88.1%,#3c55ab 88.8%,#3c55ab 90.4%,#393a99 91.1%,#3a3c9b 92.7%,#3c55ab 93.4%,#3c55ab 95.1%,#393a99 96%,#393a99 97.6%,#3c55ab 98.5%,#3c55ab 100%)"></i>
<i style="top:117.16px;height:8.16px;background:repeating-linear-gradient(90deg,transparent 0 9.7px,rgba(52,118,190,.47) 9.7px 19.3px,transparent 19.3px 19.3px) 0px 0/49.3px 100% no-repeat,repeating-linear-gradient(90deg,rgba(52,118,190,.4) 0 .7px,transparent .7px 4.6px,rgba(52,118,190,.4) 4.6px 7.8px) 49.3px 0/53.8px 100% no-repeat,repeating-linear-gradient(90deg,transparent 0 1.5px,rgba(52,118,190,.46) 1.5px 3.8px,transparent 3.8px 4.6px) 103px 0/52.9px 100% no-repeat,linear-gradient(90deg,#3d50a9 0%,#3c47a3 1%,#3c48a4 2.8%,#3962b1 5.9%,#3d50a8 7.3%,#3d50a9 9.9%,#3c44a1 11.2%,#3c44a1 12.1%,#3c53aa 13.4%,#3c45a2 16.3%,#3d51a9 17.6%,#3b429f 18.8%,#3c46a2 19.8%,#3a3c9b 21.1%,#3c48a4 21.9%,#82bc76 22%,#67b982 22.2%,#1cacae 22.5%,#13a3c9 22.6%,#1c99d0 22.7%,#14a7c0 22.9%,#27afa4 23%,#8dbc71 23.3%,#d2b954 23.6%,#f4b941 23.8%,#fcbc39 24.3%,#f7ba3e 24.5%,#ebb847 24.7%,#ccb957 24.8%,#9ebc6a 25%,#5cb887 25.1%,#1bacaf 25.2%,#1a9bcf 25.4%,#3766b2 25.7%,#3c55ab 25.8%,#3d51a9 25.9%,#366ab5 26.9%,#3864b2 27.2%,#3d4ca6 27.6%,#3962b1 27.9%,#366ab5 28.2%,#3863b1 28.6%,#3c56ac 29%,#3d4aa5 29.1%,#3d4aa5 29.3%,#3960b0 29.6%,#1d98d1 30%,#13a5c5 30.1%,#19acb1 30.3%,#3fb395 30.5%,#4fb68d 30.8%,#3eb396 31.2%,#17abb3 31.7%,#179ecc 31.9%,#2192ce 32.1%,#3076bd 32.4%,#2f78be 32.5%,#393a99 32.6%,#393a99 32.9%,#3c55ab 33.2%,#3c55ab 33.5%,#393a99 33.8%,#3a3e9d 34.2%,#3c54aa 34.3%,#3c55ab 34.4%,#3c55ab 34.7%,#393a99 35%,#393a99 35.1%,#3b419f 35.4%,#3c55ab 35.6%,#3c55ab 36%,#393a99 36.3%,#3a3c9b 36.7%,#3d50a8 36.8%,#3c55ab 37.2%,#3d4fa8 37.4%,#3a3c9b 37.5%,#393a99 37.7%,#393a99 37.9%,#3b42a0 38.1%,#3c55ab 38.2%,#3c55ab 38.6%,#3d4da7 38.8%,#3a3b9a 38.9%,#393a99 39.3%,#3b409e 39.5%,#3c53aa 39.6%,#3c55ab 40%,#3c53aa 40.2%,#3b419f 40.3%,#393a99 40.4%,#393a99 40.9%,#3c55ab 41.1%,#3c55ab 41.6%,#393a99 42%,#393a99 42.4%,#3c55ab 42.7%,#3c54aa 43.2%,#393a99 43.5%,#3a3d9c 44.1%,#3c55ab 44.4%,#3d52a9 44.9%,#393a99 45.2%,#3a3b9a 45.7%,#3c55ab 46%,#3c55ab 46.6%,#3a3b9a 46.9%,#393a99 47.4%,#3c55ab 47.8%,#3c55ab 48.1%,#3c55ab 48.4%,#3a3d9c 48.7%,#393a99 48.8%,#393a99 49.4%,#3c55ab 49.7%,#3c55ab 49.8%,#3c55ab 50.3%,#3a3b9a 50.6%,#393a99 51.3%,#3c52aa 51.6%,#3c55ab 52.3%,#393a99 52.7%,#393a99 53.4%,#3c53aa 53.7%,#3c55ab 54%,#3c52aa 54.5%,#3a3b9a 54.8%,#393a99 55%,#393a99 55.5%,#3a3e9c 55.6%,#3c55ab 55.9%,#3c55ab 56.1%,#3c54aa 56.8%,#3a3d9c 57%,#393a99 57.2%,#393a99 57.9%,#3c55ab 58.3%,#3c55ab 58.4%,#3c54ab 59.1%,#393a99 59.6%,#393a99 60.3%,#3a3b9a 60.4%,#3c55ab 60.8%,#3c55ab 61.2%,#3c55ab 61.6%,#393a99 62.1%,#393a99 62.9%,#3c52aa 63.3%,#3c55ab 63.9%,#3c55ab 64.3%,#3a3c9b 64.7%,#393a99 64.9%,#393a99 65.7%,#3c52aa 66.1%,#3c55ab 66.5%,#3c53aa 67.2%,#393a99 67.6%,#393a99 68.6%,#3c55ab 69.2%,#3c55ab 69.7%,#3c55ab 70.2%,#393a99 70.7%,#3a3b9a 71.8%,#3c55ab 72.4%,#3c54aa 73.5%,#393a99 74.1%,#393a99 75.2%,#3c55ab 75.7%,#3c55ab 76.8%,#393a99 77.5%,#3a3b9a 78.8%,#3c55ab 79.4%,#3c55ab 80.6%,#393a99 81.3%,#393a99 82.3%,#3a3c9b 82.7%,#3c55ab 83.3%,#3c55ab 84.7%,#393a99 85.4%,#393a99 85.6%,#393a99 86.8%,#3c55ab 87.4%,#3c55ab 89%,#3a3b9a 89.7%,#393a99 90.1%,#3a3b9a 91.4%,#3c55ab 92.1%,#3c55ab 93.7%,#3a3b9a 94.4%,#393a99 94.7%,#3a3b9a 96.2%,#3c55ab 97.1%,#3c55ab 98.7%,#393a99 99.6%,#393a99 100%)"></i>
<i style="top:124.72px;height:8.16px;background:repeating-linear-gradient(90deg,transparent 0 2.7px,rgba(52,118,190,.38) 2.7px 13.7px,transparent 13.7px 21.8px) 0px 0/49.3px 100% no-repeat,repeating-linear-gradient(90deg,rgba(52,118,190,.26) 0 .1px,transparent .1px 3.8px,rgba(52,118,190,.26) 3.8px 7.5px) 49.3px 0/53.8px 100% no-repeat,repeating-linear-gradient(90deg,transparent 0 2.1px,rgba(52,118,190,.27) 2.1px 4.5px,transparent 4.5px 4.7px) 103px 0/52.9px 100% no-repeat,linear-gradient(90deg,#3b419e 0%,#3d4ca6 1%,#3b3f9d 2.9%,#3d4da7 6.1%,#3b419e 7.5%,#3c44a1 8.4%,#3766b3 10.7%,#3d4aa5 12.1%,#3c47a3 13.1%,#3c54aa 14.4%,#3c58ac 16.5%,#3d49a4 17.7%,#3d49a4 18.7%,#3c55ab 19.9%,#3c45a2 21.8%,#3c46a3 21.9%,#36b29a 22%,#18abb2 22.2%,#14a2ca 22.3%,#199cce 22.5%,#15a9ba 22.6%,#2eb09e 22.7%,#63b983 22.9%,#91bc70 23%,#cfb956 23.3%,#eeb845 23.6%,#f6ba3f 24%,#e8b848 24.3%,#d0b955 24.4%,#aabb66 24.5%,#72bb7c 24.7%,#2bb0a0 24.8%,#12a4c7 25%,#258ccb 25.1%,#3a5daf 25.4%,#3370b9 25.7%,#1c99d0 26.1%,#12a4c8 26.2%,#16abb5 26.4%,#2ab0a1 26.5%,#6dba7f 26.8%,#9bbc6c 27.1%,#a5bc68 27.2%,#a3bc68 27.3%,#8bbc72 27.5%,#7fbc77 27.6%,#a0bc6a 27.8%,#a6bc67 27.9%,#9ebc6a 28%,#75bb7b 28.3%,#31b19c 28.6%,#1aacb0 28.7%,#13a6c3 28.9%,#1a9cce 29%,#356cb6 29.1%,#3d52a9 29.7%,#3767b3 30%,#248ccb 30.3%,#199dcd 30.4%,#14a7bf 30.5%,#2ab0a1 30.8%,#40b395 31.1%,#40b395 31.2%,#2bb0a0 31.7%,#16abb4 31.9%,#169fcb 32.2%,#1f95cf 32.4%,#2788c9 32.5%,#3c55ab 32.6%,#3c55ab 32.8%,#393a99 33.1%,#3b3f9d 33.5%,#3c55ab 33.6%,#3c55ab 33.8%,#3c55ab 34%,#3b429f 34.2%,#393a99 34.3%,#393a99 34.6%,#3c55ab 34.9%,#3c55ab 35.3%,#3b419f 35.4%,#393a99 35.6%,#393a99 35.8%,#3b419f 36%,#3c55ab 36.1%,#3c55ab 36.3%,#3c55ab 36.5%,#393a99 36.8%,#393a99 37.2%,#3c55ab 37.5%,#3c55ab 37.9%,#393a99 38.2%,#393a99 38.6%,#3c55ab 38.9%,#3c55ab 39.3%,#393a99 39.6%,#393a99 40%,#3c53aa 40.3%,#3c55ab 40.4%,#3c54ab 40.9%,#393a99 41.1%,#393a99 41.6%,#3c54aa 41.8%,#3c55ab 42%,#3c55ab 42.4%,#393a99 42.7%,#3a3c9b 43.2%,#3c55ab 43.5%,#3c52aa 44.1%,#393a99 44.4%,#3a3c9b 44.9%,#3c55ab 45.2%,#3c55ab 45.7%,#393a99 46%,#393a99 46.6%,#3c55ab 47%,#3c55ab 47.6%,#393a99 47.8%,#393a99 48.4%,#3c55ab 48.8%,#3c55ab 49.4%,#393a99 49.8%,#393a99 50.3%,#3c55ab 50.8%,#3c53aa 51.5%,#393a99 51.7%,#393a99 51.9%,#393a99 52.4%,#3c55ab 52.9%,#3c54ab 53.6%,#3a3c9b 53.8%,#393a99 54%,#3a3c9b 54.7%,#3c54aa 55%,#3c55ab 55.1%,#3c54aa 55.8%,#3a3d9c 56.1%,#393a99 56.2%,#393a99 56.9%,#3c55ab 57.3%,#3c53aa 58.2%,#3a3d9c 58.4%,#393a99 58.6%,#393a99 59.3%,#3c55ab 59.8%,#3c55ab 60.5%,#393a99 61.1%,#393a99 61.9%,#3c55ab 62.3%,#3c55ab 63.2%,#393a99 63.7%,#393a99 64.6%,#3c55ab 65.1%,#3c54aa 66.1%,#393a99 66.5%,#393a99 67.5%,#3c55ab 68.1%,#3c55ab 69%,#393a99 69.6%,#393a99 70.6%,#3c55ab 71.3%,#3c55ab 72.2%,#393a99 72.8%,#393a99 73.9%,#3c55ab 74.6%,#3c55ab 75.7%,#393a99 76.3%,#393a99 77.5%,#3c55ab 78.1%,#3c55ab 79.4%,#393a99 80.1%,#393a99 81.3%,#3c55ab 82%,#3c54ab 83.4%,#393a99 84.1%,#3a3b9a 85.5%,#3c55ab 86.2%,#3c55ab 87.6%,#393a99 88.4%,#3a3b9a 90%,#3c55ab 90.7%,#3c54ab 92.3%,#393a99 93%,#393a99 94.7%,#3c55ab 95.5%,#3c54ab 97.4%,#393a99 98.2%,#393a99 100%)"></i>
<i style="top:132.28px;height:8.16px;background:repeating-linear-gradient(90deg,rgba(52,118,190,.28) 0 6.3px,transparent 6.3px 18.8px,rgba(52,118,190,.28) 18.8px 25.1px) 0px 0/49.3px 100% no-repeat,repeating-linear-gradient(90deg,transparent 0 3.2px,rgba(52,118,190,.32) 3.2px 6.8px,transparent 6.8px 7.3px) 49.3px 0/53.8px 100% no-repeat,repeating-linear-gradient(90deg,rgba(52,118,190,.51) 0 .4px,transparent .4px 2.8px,rgba(52,118,190,.51) 2.8px 4.7px) 103px 0/52.9px 100% no-repeat,linear-gradient(90deg,#3c48a4 0%,#3d4fa8 1.1%,#3a3e9c 2.6%,#3c56ab 7.3%,#3c46a2 8.8%,#3c58ac 10%,#3d4fa8 12.7%,#3c52aa 13.7%,#3c44a1 15.3%,#3c58ac 17.3%,#3b5bae 20.4%,#3d4ca6 21.9%,#15a1ca 22%,#179fcc 22.2%,#15aab7 22.3%,#33b19c 22.5%,#90bc70 22.7%,#c9b959 23%,#e4b84b 23.3%,#eeb845 23.6%,#e5b84a 23.8%,#d4b954 24%,#b5bb61 24.1%,#89bc73 24.3%,#4ab590 24.4%,#16abb5 24.5%,#1b9ad0 24.7%,#356bb5 25%,#1b9bcf 25.4%,#14a7c0 25.5%,#25aea5 25.7%,#88bc73 25.9%,#b3bb62 26.1%,#f3b842 26.4%,#fdbe38 26.5%,#f9d72b 26.8%,#f5e82a 27.1%,#f3ef2b 27.5%,#f4e92a 28%,#f8da2a 28.3%,#fdc135 28.6%,#f6ba3f 28.7%,#e0b84d 28.9%,#bdba5e 29%,#13a6c3 29.1%,#2191ce 29.4%,#3b5bae 30.1%,#3961b0 30.3%,#1f94cf 30.7%,#14a2ca 30.8%,#15a9ba 31%,#29afa2 31.2%,#33b19b 31.5%,#26afa5 31.9%,#13a6c1 32.4%,#16a0cb 32.5%,#393a99 32.6%,#3b409e 32.8%,#3c55ab 32.9%,#3c55ab 33.3%,#3b3f9d 33.5%,#393a99 33.6%,#393a99 33.9%,#3c55ab 34.2%,#3d52a9 34.6%,#3a3d9c 34.7%,#393a99 35.1%,#3c55ab 35.4%,#3c55ab 35.8%,#3b42a0 36%,#393a99 36.1%,#3a3e9c 36.5%,#3d51a9 36.7%,#3c55ab 36.8%,#3d4fa8 37.2%,#3a3c9b 37.4%,#393a99 37.8%,#3b409e 37.9%,#3c53aa 38.1%,#3c55ab 38.2%,#3d51a9 38.6%,#3a3e9d 38.8%,#393a99 38.9%,#3a3b9a 39.3%,#3c55ab 39.6%,#3c55ab 40%,#393a99 40.3%,#393a99 40.7%,#3c55ab 41.1%,#3c55ab 41.6%,#393a99 41.8%,#393a99 42.1%,#3a3a99 42.4%,#3c55ab 42.7%,#3c53aa 43.2%,#393a99 43.5%,#393a99 43.7%,#3a3d9b 44.1%,#3c55ab 44.4%,#3c55ab 44.9%,#393a99 45.2%,#393a99 45.5%,#393a99 45.7%,#3c53aa 46%,#3c55ab 46.2%,#3d51a9 46.7%,#393a99 47%,#393a99 47.6%,#3d51a9 47.8%,#3c55ab 48%,#3c55ab 48.5%,#3a3c9b 48.8%,#393a99 49.4%,#393a99 49.5%,#3c53aa 49.8%,#3c55ab 49.9%,#3c55ab 50.5%,#3b3f9d 50.8%,#393a99 51.2%,#3b3f9d 51.6%,#3c55ab 51.9%,#3c55ab 52.6%,#393a99 53%,#3a3b9a 53.7%,#3c53aa 54%,#3c55ab 54.1%,#3c54ab 54.8%,#3a3d9c 55.1%,#393a99 55.2%,#393a99 55.9%,#3d4fa8 56.2%,#3c55ab 56.5%,#3c55ab 57%,#3a3b9a 57.5%,#393a99 58.3%,#3c55ab 58.7%,#3c55ab 59.6%,#393a99 60%,#393a99 60.8%,#3c55ab 61.4%,#3c55ab 62.2%,#393a99 62.6%,#393a99 63%,#3a3b9a 63.6%,#3c55ab 64%,#3c55ab 65%,#393a99 65.4%,#393a99 65.6%,#393a99 66.4%,#3c55ab 66.9%,#3c55ab 67.9%,#3a3e9c 68.3%,#393a99 68.8%,#393a99 69.5%,#3c55ab 70%,#3c55ab 71.1%,#393a99 71.7%,#393a99 72.7%,#3c55ab 73.4%,#3c55ab 74.5%,#393a99 75%,#393a99 75.3%,#393a99 76.3%,#3c55ab 76.8%,#3c55ab 78%,#3d51a9 78.2%,#393a99 78.8%,#393a99 80.1%,#3c55ab 80.8%,#3c55ab 82%,#393a99 82.7%,#393a99 84.1%,#3c55ab 84.9%,#3c54ab 86.3%,#393a99 87%,#3a3b9a 88.6%,#3c55ab 89.4%,#3c55ab 90.8%,#393a99 91.6%,#393a99 93.3%,#3c55ab 94.1%,#3c55ab 95.8%,#393a99 96.7%,#393a99 98.5%,#3c55ab 99.3%,#3c55ab 100%)"></i>
<i style="top:139.84px;height:8.16px;background:repeating-linear-gradient(90deg,transparent 0 11.1px,rgba(52,118,190,.42) 11.1px 25.8px,transparent 25.8px 29.5px) 0px 0/49.3px 100% no-repeat,repeating-linear-gradient(90deg,transparent 0 2.5px,rgba(52,118,190,.47) 2.5px 6.1px,transparent 6.1px 7.1px) 49.3px 0/53.8px 100% no-repeat,repeating-linear-gradient(90deg,rgba(52,118,190,.4) 0 1px,transparent 1px 3.4px,rgba(52,118,190,.4) 3.4px 4.8px) 103px 0/52.9px 100% no-repeat,linear-gradient(90deg,#3c47a3 0%,#3c54aa 3.6%,#3c54ab 5%,#3d49a4 6.6%,#3d52a9 8.2%,#3a3d9b 10.2%,#3c57ac 14.6%,#3c58ac 16.2%,#3d50a8 17%,#3b5daf 18.3%,#3b5bae 19.2%,#3d4aa5 20.5%,#3768b3 21.9%,#16aab6 22%,#33b19b 22.2%,#63b983 22.3%,#aabb66 22.6%,#cfb956 22.9%,#e1b84c 23.3%,#d4b954 23.6%,#beba5e 23.7%,#9cbc6b 23.8%,#69ba81 24%,#2ab0a1 24.1%,#13a5c4 24.3%,#2290cd 24.4%,#3076bc 24.5%,#1c99d0 24.8%,#13a7c1 25%,#27afa4 25.1%,#93bc6f 25.4%,#e4b84b 25.7%,#f9bb3c 25.8%,#fdc533 25.9%,#f7de28 26.2%,#f4ea2a 26.6%,#f5e529 26.9%,#fdc831 27.2%,#f5b940 27.3%,#bcba5f 27.5%,#a8bb67 27.6%,#ebb847 27.8%,#fdc334 27.9%,#f6e329 28.2%,#f4e92a 28.3%,#f5e629 28.7%,#f9d62b 29%,#66b982 29.1%,#31b19d 29.4%,#1dadae 29.6%,#14a7bf 29.7%,#179fcc 29.8%,#2192ce 30%,#3961b0 30.5%,#366ab5 30.7%,#248ccb 31%,#1a9bce 31.1%,#13a5c4 31.2%,#1fadab 31.5%,#29afa2 31.8%,#21adaa 32.2%,#15a9b8 32.5%,#3c53aa 32.6%,#3a3d9c 32.8%,#393a99 32.9%,#393a99 33.2%,#3c55ab 33.5%,#3c55ab 33.8%,#3d4ea7 33.9%,#393a99 34%,#393a99 34.4%,#3c55ab 34.7%,#3d50a8 35.1%,#3a3c9b 35.3%,#393a99 35.4%,#393a99 35.7%,#3c55ab 36%,#3c55ab 36.4%,#393a99 36.7%,#393a99 37.1%,#3c55ab 37.4%,#3c55ab 37.8%,#393a99 38.1%,#393a99 38.5%,#3c55ab 38.8%,#3c55ab 39.2%,#3d4ea7 39.3%,#3a3c9b 39.5%,#393a99 39.6%,#3a3b9a 40%,#3c55ab 40.3%,#3c55ab 40.7%,#3a3b9a 41%,#393a99 41.1%,#393a99 41.6%,#3c55ab 41.8%,#3c53aa 42.4%,#393a99 42.7%,#3a3d9c 43.2%,#3c55ab 43.5%,#3c53aa 44.1%,#393a99 44.4%,#393a99 44.9%,#3c55ab 45.2%,#3c55ab 45.7%,#393a99 46.2%,#3a3a99 46.7%,#3c55ab 47%,#3c55ab 47.6%,#393a99 48%,#393a99 48.5%,#3c55ab 49%,#3c55ab 49.5%,#393a99 49.9%,#3a3b9a 50.6%,#3c54ab 50.9%,#3c55ab 51%,#3c55ab 51.6%,#393a99 52%,#393a99 52.7%,#3d51a9 53%,#3c55ab 53.1%,#3c54ab 53.8%,#3a3d9c 54.1%,#393a99 54.3%,#393a99 55%,#3c55ab 55.4%,#3c55ab 56.1%,#393a99 56.5%,#393a99 57.3%,#3c55ab 57.7%,#3c54aa 58.6%,#393a99 59%,#3a3a99 59.8%,#3c55ab 60.3%,#3c55ab 61.1%,#393a99 61.6%,#393a99 62.5%,#3c55ab 62.9%,#3c55ab 63%,#3c55ab 63.9%,#3a3b9a 64.3%,#393a99 64.4%,#393a99 65.3%,#3c55ab 65.8%,#3c55ab 66.8%,#393a99 67.4%,#393a99 68.3%,#3c55ab 68.9%,#3c55ab 69.9%,#393a99 70.4%,#393a99 70.6%,#393a99 71.5%,#3c55ab 72.1%,#3c55ab 73.2%,#393a99 73.9%,#393a99 75%,#3c55ab 75.7%,#3c55ab 76.8%,#393a99 77.5%,#393a99 78.8%,#3c55ab 79.5%,#3c55ab 80.8%,#393a99 81.5%,#3a3b9a 82.8%,#3c55ab 83.5%,#3c55ab 84.9%,#393a99 85.6%,#393a99 87.2%,#3c55ab 87.9%,#3c55ab 89.4%,#393a99 90.2%,#3a3b9a 91.9%,#3c55ab 92.6%,#3c55ab 94.3%,#393a99 95.3%,#393a99 96.9%,#3c55ab 97.9%,#3c55ab 99.7%,#3d4da7 100%)"></i>
<i style="top:147.4px;height:8.16px;background:repeating-linear-gradient(90deg,transparent 0 0px,rgba(52,118,190,.42) 0px 17.9px,transparent 17.9px 35.7px) 0px 0/49.3px 100% no-repeat,repeating-linear-gradient(90deg,transparent 0 1.9px,rgba(52,118,190,.47) 1.9px 5.4px,transparent 5.4px 6.9px) 49.3px 0/53.8px 100% no-repeat,repeating-linear-gradient(90deg,rgba(52,118,190,.5) 0 1.6px,transparent 1.6px 4.1px,rgba(52,118,190,.5) 4.1px 4.8px) 103px 0/52.9px 100% no-repeat,linear-gradient(90deg,#3c45a1 0%,#3b3f9d .8%,#3c55ab 3.2%,#3c55ab 4%,#3b419e 6.7%,#3c55ab 8.1%,#3d4ea7 9.2%,#3c56ab 10.3%,#3d4da7 11.3%,#3b5daf 12.7%,#3d50a9 13.9%,#3c55ab 15.2%,#3d4ea8 16.5%,#3c57ac 18%,#383796 20.4%,#3d4da7 21.9%,#5eb886 22%,#84bc75 22.2%,#b5bb61 22.5%,#ccb957 22.7%,#d4b853 23%,#c2ba5c 23.3%,#a9bb66 23.4%,#84bc75 23.6%,#1cacaf 23.8%,#169fcc 24%,#2788c9 24.1%,#258ccb 24.3%,#189ecd 24.4%,#15aab7 24.5%,#39b298 24.7%,#a8bb67 25%,#d2b955 25.1%,#f1b843 25.2%,#fdbd38 25.4%,#f7dd28 25.8%,#f6e329 26.1%,#f8dc29 26.4%,#fdbd38 26.6%,#f9d72b 27.2%,#fabc3b 27.8%,#eeb845 27.9%,#afbb64 28.2%,#f9bb3c 28.5%,#fdca30 28.6%,#f9d92a 28.7%,#f6e329 29%,#86bc74 29.1%,#7abc79 29.4%,#58b789 29.7%,#25aea6 30%,#15aab7 30.1%,#13a3c9 30.3%,#1d98d1 30.4%,#3865b2 31%,#1e96d0 31.4%,#15a1ca 31.5%,#1eadac 31.9%,#1bacaf 32.5%,#3d4fa8 32.6%,#3c55ab 33.1%,#393a99 33.3%,#3a3d9c 33.8%,#3d52a9 33.9%,#3c55ab 34%,#3c55ab 34.3%,#393a99 34.6%,#393a99 35%,#3d4da7 35.1%,#3c55ab 35.3%,#3d51a9 35.7%,#3a3e9c 35.8%,#393a99 36.3%,#3b419e 36.4%,#3c54aa 36.5%,#3c55ab 36.7%,#3c55ab 37%,#3d4ea8 37.1%,#3a3b9a 37.2%,#393a99 37.4%,#393a99 37.7%,#3b409e 37.8%,#3d52a9 37.9%,#3c55ab 38.2%,#3c53aa 38.5%,#3b419f 38.6%,#393a99 38.8%,#393a99 39.2%,#3c55ab 39.5%,#3c55ab 39.9%,#3d4fa8 40%,#3a3e9c 40.2%,#393a99 40.3%,#393a99 40.7%,#3c55ab 41%,#3c54aa 41.6%,#393a99 41.8%,#3a3e9c 42.4%,#3c55ab 42.7%,#3d51a9 43.2%,#393a99 43.5%,#3a3c9b 44.1%,#3c55ab 44.4%,#3c55ab 44.5%,#3c55ab 44.9%,#3a3b9a 45.2%,#393a99 45.7%,#3c55ab 46.2%,#3c55ab 46.7%,#3a3d9c 47%,#393a99 47.7%,#3c54ab 48%,#3c55ab 48.3%,#3c55ab 48.7%,#3a3c9b 49%,#393a99 49.1%,#393a99 49.7%,#3c55ab 50.1%,#3c55ab 50.6%,#393a99 51%,#393a99 51.7%,#3c55ab 52.2%,#3c55ab 52.9%,#3a3d9c 53.1%,#393a99 53.3%,#3a3b9a 54%,#3c55ab 54.4%,#3c55ab 55.1%,#393a99 55.5%,#393a99 56.2%,#3c55ab 56.8%,#3c55ab 57.5%,#3a3b9a 57.9%,#393a99 58.7%,#3c54aa 59.1%,#3c55ab 59.7%,#3c53aa 60.1%,#393a99 60.5%,#393a99 61.4%,#3c53aa 61.8%,#3c55ab 62.1%,#3c55ab 62.8%,#3a3c9b 63.2%,#393a99 63.3%,#393a99 64.2%,#3c55ab 64.7%,#3c55ab 65.7%,#3a3b9a 66.1%,#393a99 67.1%,#3a3b9a 67.2%,#3c54aa 67.6%,#3c55ab 68.3%,#3c55ab 68.8%,#393a99 69.3%,#3a3b9a 70.4%,#3c53aa 70.9%,#3c55ab 71.5%,#3c54ab 72.1%,#393a99 72.7%,#393a99 73.8%,#3c54aa 74.3%,#3c55ab 75%,#3c55ab 75.6%,#393a99 76.3%,#3a3b9a 77.5%,#3c55ab 78.1%,#3c55ab 78.2%,#3c54aa 79.5%,#393a99 80.2%,#393a99 81.5%,#3c55ab 82.1%,#3c55ab 83.5%,#393a99 84.2%,#393a99 85.8%,#3c55ab 86.5%,#3c55ab 88%,#393a99 88.8%,#393a99 90.4%,#3c55ab 91.2%,#3c55ab 92.9%,#393a99 93.7%,#393a99 95.4%,#3c55ab 96.4%,#3c55ab 98.2%,#393a99 99%,#393a99 100%)"></i>
<i style="top:154.96px;height:8.16px;background:repeating-linear-gradient(90deg,rgba(52,118,190,.47) 0 1.9px,transparent 1.9px 9.3px,rgba(52,118,190,.47) 9.3px 14.8px) 0px 0/49.3px 100% no-repeat,repeating-linear-gradient(90deg,transparent 0 1.3px,rgba(52,118,190,.28) 1.3px 4.7px,transparent 4.7px 6.8px) 49.3px 0/53.8px 100% no-repeat,repeating-linear-gradient(90deg,rgba(52,118,190,.35) 0 2.3px,transparent 2.3px 4.7px,rgba(52,118,190,.35) 4.7px 4.9px) 103px 0/52.9px 100% no-repeat,linear-gradient(90deg,#3c55ab 0%,#3c54aa 1%,#3a3e9d 2.4%,#3d4aa5 4.2%,#3b429f 5.9%,#3c56ac 7.9%,#3c47a3 9.2%,#3d4da7 10.2%,#3a3d9c 11.4%,#3d50a8 13.1%,#3d4fa8 14.4%,#3b5bae 15.5%,#3d50a9 16.5%,#383594 17.7%,#393a99 18.3%,#3c53aa 19.2%,#393a99 20.5%,#393998 20.9%,#3c54ab 21.9%,#96bc6d 22%,#b7ba61 22.3%,#c6b95a 22.7%,#b1bb63 23%,#96bc6d 23.2%,#6eba7f 23.3%,#37b299 23.4%,#15a9b9 23.6%,#1b9ad0 23.7%,#258bcb 23.8%,#189ecd 24%,#15aab7 24.1%,#39b298 24.3%,#a7bb67 24.5%,#d0b955 24.7%,#efb844 24.8%,#fcbc39 25%,#fdc632 25.1%,#fad52b 25.4%,#f8da29 25.7%,#f9d72b 25.8%,#fdbf37 26.1%,#edb845 26.2%,#bcba5f 26.4%,#ebb847 26.6%,#f7ba3e 26.8%,#fdc135 27.2%,#f6b93f 27.6%,#e8b848 27.8%,#b4bb62 28%,#91bc70 28.2%,#38b299 28.5%,#5cb887 28.6%,#acbb65 28.7%,#e4b84b 28.9%,#fcbc39 29%,#68b981 29.1%,#7dbc78 29.4%,#71bb7d 29.8%,#54b78b 30.1%,#24aea6 30.4%,#15aab8 30.5%,#13a3c9 30.7%,#1d98d1 30.8%,#346eb7 31.2%,#3370b9 31.4%,#2290cd 31.7%,#199dcd 31.8%,#13a5c5 31.9%,#17abb3 32.2%,#1bacaf 32.5%,#393a99 32.6%,#393a99 32.9%,#3b43a0 33.1%,#3c55ab 33.2%,#3c55ab 33.6%,#3b42a0 33.8%,#393a99 33.9%,#393a99 34.2%,#3b419e 34.3%,#3c55ab 34.4%,#3c55ab 34.6%,#3c55ab 34.9%,#393a99 35.1%,#393a99 35.6%,#3c55ab 35.8%,#3c55ab 36.3%,#393a99 36.5%,#393a99 37%,#3c55ab 37.2%,#3c55ab 37.7%,#393a99 37.9%,#393a99 38.4%,#3c55ab 38.6%,#3c55ab 38.8%,#3c52aa 39.2%,#3b419e 39.3%,#393a99 39.5%,#393a99 39.9%,#3c55ab 40.2%,#3c54ab 40.7%,#393a99 41%,#3a3e9d 41.6%,#3c55ab 41.8%,#3c55ab 42.3%,#393a99 42.7%,#393a99 43.1%,#3c55ab 43.5%,#3c54aa 44.1%,#393a99 44.4%,#393a99 44.9%,#3c53aa 45.2%,#3c55ab 45.3%,#3c53aa 45.9%,#393a99 46.2%,#393a99 46.7%,#3c55ab 47.1%,#3c55ab 47.7%,#393a99 48.1%,#393a99 48.7%,#3c55ab 49.1%,#3c53aa 49.8%,#393a99 50.1%,#393a99 50.8%,#3c55ab 51.2%,#3c55ab 51.9%,#3a3d9c 52.2%,#393a99 52.3%,#3a3b9a 53%,#3c52aa 53.3%,#3c55ab 53.4%,#3c55ab 54.1%,#393a99 54.5%,#393a99 55.2%,#3c55ab 55.6%,#3c55ab 56.5%,#393a99 56.9%,#3a3b9a 57.7%,#3c55ab 58.2%,#3c55ab 59%,#393a99 59.4%,#393a99 60.3%,#3c55ab 60.8%,#3c55ab 61.6%,#393a99 62.2%,#393a99 63%,#3c55ab 63.6%,#3c54ab 64.6%,#393a99 65%,#393a99 65.1%,#393a99 66%,#3c55ab 66.5%,#3c53aa 67.6%,#3a3b9a 68.1%,#393a99 68.2%,#393a99 69.2%,#3c55ab 69.7%,#3c55ab 70.9%,#393a99 71.4%,#393a99 72.5%,#3c55ab 73.2%,#3c55ab 74.3%,#393a99 75%,#393a99 76.2%,#3c55ab 76.8%,#3c55ab 78.1%,#393a99 78.8%,#3a3b9a 80.2%,#3c55ab 80.9%,#3c55ab 82.1%,#393a99 83%,#393a99 84.4%,#3c55ab 85.1%,#3c55ab 86.6%,#393a99 87.4%,#393a99 89%,#3c55ab 89.8%,#3c55ab 91.4%,#393a99 92.2%,#3a3b9a 94%,#3c55ab 94.8%,#3c55ab 96.7%,#393a99 97.5%,#393a99 99.4%,#3d4da7 100%)"></i>
<i style="top:162.52px;height:8.16px;background:repeating-linear-gradient(90deg,transparent 0 8.8px,rgba(52,118,190,.4) 8.8px 26.4px,transparent 26.4px 35.2px) 0px 0/49.3px 100% no-repeat,repeating-linear-gradient(90deg,transparent 0 .8px,rgba(52,118,190,.46) .8px 4.1px,transparent 4.1px 6.6px) 49.3px 0/53.8px 100% no-repeat,repeating-linear-gradient(90deg,transparent 0 .5px,rgba(52,118,190,.26) .5px 3px,transparent 3px 5px) 103px 0/52.9px 100% no-repeat,linear-gradient(90deg,#3d4aa6 0%,#3d4fa8 1.7%,#3c47a3 2.8%,#3c58ad 6.6%,#3c44a1 8.1%,#3d4fa8 8.8%,#3d4ca7 9.3%,#3a3e9c 10%,#3c5aad 11.7%,#3b419f 13.7%,#3c58ad 16.3%,#3d4ba6 17.7%,#3d50a9 19.2%,#3b419e 20.5%,#3c55ab 21.9%,#aabb66 22%,#b8ba60 22.5%,#a1bc69 22.7%,#85bc74 22.9%,#28afa3 23.2%,#13a6c1 23.3%,#1f95cf 23.4%,#1c99d0 23.6%,#14a7be 23.7%,#2ab0a1 23.8%,#99bc6c 24.1%,#c3ba5b 24.3%,#e4b84b 24.4%,#f7ba3e 24.5%,#fdbf37 24.7%,#fccf2e 25.1%,#fdc434 25.5%,#f8bb3d 25.7%,#deb84e 25.8%,#a9bb66 25.9%,#5eb886 26.1%,#16abb4 26.2%,#14a8bd 26.4%,#2eb09e 26.8%,#42b494 27.1%,#44b493 27.2%,#41b494 27.3%,#2cb09f 27.6%,#14a7bf 28%,#1b9ad0 28.3%,#2985c7 28.6%,#258ccb 28.7%,#14a7bf 28.9%,#48b590 29%,#13a6c1 29.1%,#21aea9 29.3%,#59b788 29.6%,#70ba7e 29.8%,#65b983 30.3%,#47b591 30.5%,#1eadac 30.8%,#14a8bd 31%,#1f94cf 31.2%,#346db7 31.7%,#1c99d0 32.1%,#14a2ca 32.2%,#15a9b9 32.5%,#3c55ab 32.6%,#3d50a9 32.9%,#3a3c9b 33.1%,#393a99 33.2%,#393a99 33.5%,#3c55ab 33.8%,#3c54aa 34.2%,#3b409e 34.3%,#393a99 34.4%,#393a99 34.7%,#3b419e 34.9%,#3c54ab 35%,#3c55ab 35.1%,#3c55ab 35.4%,#393a99 35.7%,#393a99 36.1%,#3c55ab 36.4%,#3c55ab 36.8%,#393a99 37.1%,#393a99 37.5%,#3b409e 37.7%,#3d52a9 37.8%,#3c55ab 38.2%,#3c55ab 38.4%,#393a99 38.6%,#393a99 39.1%,#3c55ab 39.3%,#3c55ab 39.5%,#3c55ab 39.9%,#393a99 40.2%,#393a99 40.6%,#3c55ab 41%,#3c55ab 41.4%,#3a3e9c 41.7%,#393a99 42.1%,#393a99 42.3%,#3c55ab 42.7%,#3c55ab 43.1%,#393a99 43.5%,#3a3b9a 44.1%,#3c55ab 44.4%,#3c55ab 44.9%,#393a99 45.3%,#393a99 45.9%,#3c55ab 46.2%,#3c53aa 46.9%,#393a99 47.1%,#393a99 47.7%,#3a3c9b 47.8%,#3c55ab 48.1%,#3c55ab 48.8%,#3a3c9b 49.1%,#393a99 49.4%,#393a99 49.8%,#3c55ab 50.2%,#3c55ab 50.9%,#3a3d9c 51.2%,#393a99 51.3%,#3a3c9b 52%,#3c54aa 52.3%,#3c55ab 52.4%,#3c54aa 53.1%,#3a3d9c 53.4%,#393a99 53.7%,#393a99 54.3%,#3c55ab 54.7%,#3c55ab 55.4%,#3a3c9b 55.8%,#393a99 56.2%,#393a99 56.6%,#3c54ab 57%,#3c55ab 57.2%,#3c55ab 57.9%,#3a3c9b 58.3%,#393a99 58.7%,#3a3b9a 59.3%,#3c55ab 59.7%,#3c55ab 60.5%,#393a99 61.1%,#393a99 61.9%,#3c55ab 62.5%,#3c55ab 63.3%,#393a99 63.9%,#393a99 64.6%,#393a99 64.9%,#3c55ab 65.4%,#3c55ab 66.4%,#393a99 66.9%,#3a3c9b 68.1%,#3c54ab 68.5%,#3c55ab 68.6%,#3c55ab 69.6%,#3a3a99 70.2%,#393a99 70.6%,#3a3c9b 71.4%,#3c55ab 72%,#3c55ab 73.1%,#3a3b9a 73.6%,#393a99 74.3%,#393a99 74.9%,#3c55ab 75.6%,#3c55ab 76.8%,#3a3b9a 77.4%,#393a99 78.7%,#3c55ab 79.5%,#3c55ab 80.9%,#3a3c9b 81.5%,#393a99 82.6%,#393a99 83%,#3c55ab 83.7%,#3c55ab 85.2%,#393a99 85.9%,#393a99 87.4%,#3c55ab 88.4%,#3c55ab 90%,#393a99 90.8%,#393a99 92.5%,#3c55ab 93.3%,#3c55ab 95.1%,#393a99 96%,#393a99 97.8%,#3c55ab 98.7%,#3c55ab 100%)"></i>
<i style="top:170.08px;height:8.16px;background:repeating-linear-gradient(90deg,rgba(52,118,190,.35) 0 10.7px,transparent 10.7px 24.9px,rgba(52,118,190,.35) 24.9px 28.4px) 0px 0/49.3px 100% no-repeat,repeating-linear-gradient(90deg,transparent 0 .3px,rgba(52,118,190,.32) .3px 3.5px,transparent 3.5px 6.4px) 49.3px 0/53.8px 100% no-repeat,repeating-linear-gradient(90deg,transparent 0 1.1px,rgba(52,118,190,.46) 1.1px 3.6px,transparent 3.6px 5px) 103px 0/52.9px 100% no-repeat,linear-gradient(90deg,#3c57ac 0%,#3c48a4 1.3%,#3c54ab 2.4%,#3d51a9 3.6%,#3c5aad 4.9%,#3d4ea8 6.7%,#3a60b0 8.2%,#3c48a4 10%,#3b419f 11.6%,#3d4ea8 12.7%,#3c44a1 13.8%,#3d51a9 15.1%,#3d4da7 17%,#3962b1 18.3%,#3c53aa 20.2%,#3c55ab 21.2%,#3c48a4 21.9%,#aabb66 22%,#aabb66 22.2%,#a3bc68 22.3%,#92bc6f 22.5%,#75bb7b 22.6%,#20adaa 22.9%,#12a4c7 23%,#2191ce 23.2%,#14a2c9 23.3%,#1cacaf 23.4%,#48b590 23.6%,#80bc76 23.7%,#adbb64 23.8%,#ebb847 24.1%,#fdbd38 24.4%,#fdc732 24.8%,#fdbe38 25.1%,#f5b940 25.2%,#d7b852 25.4%,#a5bc68 25.5%,#5eb886 25.7%,#19acb1 25.8%,#1d98d1 25.9%,#3961b0 26.2%,#3370b9 27.3%,#3c53aa 28.7%,#3b5cae 28.9%,#3272ba 29%,#346eb7 29.1%,#1d98d1 29.4%,#13a6c2 29.6%,#1eadac 29.7%,#4eb68d 30%,#63b984 30.3%,#5db886 30.5%,#48b591 30.8%,#36b29a 31%,#16aab6 31.2%,#12a5c6 31.4%,#1a9bcf 31.5%,#3371b9 31.9%,#1e96d0 32.4%,#179fcc 32.5%,#393a99 32.6%,#3a3c9b 32.8%,#3d51a9 32.9%,#3c55ab 33.1%,#3c55ab 33.3%,#393a99 33.6%,#393a99 34%,#3c55ab 34.3%,#3c54aa 34.7%,#3b409e 34.9%,#393a99 35%,#3a3d9c 35.4%,#3d51a9 35.6%,#3c55ab 35.7%,#3d52a9 36.1%,#3b3f9d 36.3%,#393a99 36.4%,#3a3b9a 36.8%,#3d4ea7 37%,#3c55ab 37.1%,#3c55ab 37.5%,#393a99 37.8%,#393a99 38.2%,#3c53aa 38.5%,#3c55ab 38.6%,#3c55ab 39.1%,#393a99 39.3%,#393a99 39.7%,#3c55ab 40.2%,#3c55ab 40.6%,#3a3c9b 40.9%,#393a99 41%,#393a99 41.4%,#3c54ab 41.7%,#3c55ab 41.8%,#3c55ab 42.3%,#3a3c9b 42.5%,#393a99 42.7%,#393a99 43.1%,#3c55ab 43.5%,#3c55ab 44.1%,#393a99 44.4%,#393a99 44.9%,#3c55ab 45.3%,#3c55ab 45.9%,#3a3d9c 46.2%,#393a99 46.3%,#393a99 46.9%,#3c53aa 47.1%,#3c55ab 47.3%,#3c55ab 47.8%,#393a99 48.3%,#393a99 48.8%,#3c55ab 49.2%,#3c55ab 49.9%,#3a3d9c 50.2%,#393a99 50.5%,#3a3d9c 51%,#3c55ab 51.3%,#3c55ab 51.5%,#3c55ab 52%,#3d52a9 52.2%,#3a3b9a 52.4%,#393a99 52.6%,#3a3c9b 53.3%,#3c52aa 53.6%,#3c55ab 53.7%,#3c55ab 54.4%,#393a99 54.8%,#3a3b9a 55.6%,#3c55ab 56.1%,#3c55ab 56.8%,#3c54aa 56.9%,#393a99 57.3%,#393a99 57.5%,#393a99 58.2%,#3c55ab 58.6%,#3c55ab 59.4%,#3a3e9d 59.8%,#393a99 60.1%,#393a99 60.8%,#3c55ab 61.4%,#3c55ab 62.2%,#393a99 62.8%,#393a99 63.7%,#3c55ab 64.3%,#3c55ab 65.3%,#3a3c9b 65.7%,#393a99 65.8%,#393a99 66.8%,#3c55ab 67.4%,#3c55ab 68.3%,#3a3c9b 68.9%,#393a99 69.2%,#3a3b9a 70.2%,#3c55ab 70.7%,#3c55ab 71.8%,#393a99 72.5%,#393a99 73.6%,#3c54ab 74.2%,#3c55ab 75.5%,#393a99 76.2%,#393a99 76.6%,#3a3c9b 77.5%,#3c55ab 78.1%,#3c55ab 79.5%,#393a99 80.2%,#393a99 81.6%,#3c55ab 82.3%,#3c55ab 83.8%,#393a99 84.7%,#393a99 86.1%,#3c55ab 86.9%,#3c55ab 88.4%,#393a99 89.3%,#393a99 90.9%,#3c55ab 91.8%,#3c55ab 93.6%,#3a3c9b 94.3%,#393a99 94.6%,#393a99 96.2%,#3c55ab 97.2%,#3c55ab 99%,#393a99 100%)"></i>
<i style="top:177.64px;height:8.16px;background:repeating-linear-gradient(90deg,transparent 0 11.8px,rgba(52,118,190,.42) 11.8px 23.5px,transparent 23.5px 23.5px) 0px 0/49.3px 100% no-repeat,repeating-linear-gradient(90deg,rgba(52,118,190,.38) 0 2.9px,transparent 2.9px 6px,rgba(52,118,190,.38) 6px 6.3px) 49.3px 0/53.8px 100% no-repeat,repeating-linear-gradient(90deg,transparent 0 1.8px,rgba(52,118,190,.41) 1.8px 4.3px,transparent 4.3px 5.1px) 103px 0/52.9px 100% no-repeat,linear-gradient(90deg,#3d4da7 0%,#3c59ad 1.3%,#3d49a4 2.9%,#3c53aa 6.1%,#393a99 7.9%,#3d49a5 10.3%,#3c45a2 11.7%,#3c56ac 13.7%,#3d4ba6 15.6%,#393897 16.7%,#3c47a3 18.8%,#383594 20.1%,#3c54ab 21.9%,#95bc6e 22%,#84bc75 22.2%,#67b982 22.3%,#1aacb0 22.6%,#14a2ca 22.7%,#1c99d0 22.9%,#14a7c0 23%,#27afa3 23.2%,#8fbc70 23.4%,#b7ba61 23.6%,#ebb847 23.8%,#fabc3b 24.1%,#fdbe37 24.5%,#f2b842 24.8%,#d6b852 25%,#aabb66 25.1%,#6aba80 25.2%,#22aea8 25.4%,#179ecc 25.5%,#2a82c5 25.7%,#3768b4 25.8%,#3d4aa5 26.1%,#3d51a9 26.8%,#3c47a3 27.8%,#3d51a9 28.3%,#3d49a5 29%,#3d4ba6 29.1%,#3962b1 29.4%,#1a9bcf 29.8%,#14a7c0 30%,#1eadac 30.1%,#47b591 30.4%,#55b78a 30.7%,#43b493 31.1%,#18abb2 31.5%,#13a6c1 31.7%,#2093ce 31.9%,#3076bd 32.2%,#3077bd 32.4%,#2886c7 32.5%,#3c55ab 32.6%,#3b429f 32.8%,#393a99 32.9%,#393a99 33.2%,#3b419f 33.3%,#3c55ab 33.5%,#3c55ab 33.9%,#393a99 34.2%,#393a99 34.6%,#3c55ab 34.9%,#3c55ab 35.3%,#393a99 35.6%,#393a99 36%,#3c55ab 36.3%,#3c55ab 36.7%,#393a99 37%,#393a99 37.4%,#3b409e 37.5%,#3d52a9 37.7%,#3c55ab 38.2%,#393a99 38.5%,#393a99 38.9%,#3b419e 39.1%,#3d51a9 39.2%,#3c55ab 39.3%,#3c55ab 39.7%,#393a99 40%,#393a99 40.6%,#3c55ab 40.9%,#3c55ab 41.4%,#393a99 41.7%,#393a99 42.3%,#3c54ab 42.5%,#3c55ab 42.7%,#3c55ab 43.1%,#393a99 43.5%,#393a99 43.8%,#393a99 44.1%,#3c55ab 44.4%,#3c55ab 44.9%,#393a99 45.3%,#393a99 45.9%,#3c55ab 46.3%,#3c55ab 46.9%,#393a99 47.3%,#393a99 47.6%,#3a3e9d 48%,#3c55ab 48.3%,#3c55ab 49%,#3a3d9c 49.2%,#393a99 49.4%,#393a99 49.9%,#3a3e9c 50.1%,#3c55ab 50.3%,#3c55ab 51%,#393a99 51.5%,#393a99 52.2%,#3c55ab 52.6%,#3c55ab 53.3%,#3c54aa 53.4%,#3a3e9c 53.7%,#393a99 54%,#393a99 54.5%,#3c55ab 55%,#3c55ab 55.1%,#3c55ab 55.8%,#393a99 56.2%,#393a99 56.3%,#393a99 57%,#3c54ab 57.5%,#3c55ab 58.3%,#3b3f9d 58.7%,#393a99 59%,#393a99 59.7%,#3c55ab 60.3%,#3c55ab 61.1%,#393a99 61.6%,#393a99 62.1%,#3a3b9a 62.6%,#3c55ab 63%,#3c55ab 64%,#393a99 64.6%,#393a99 64.7%,#393a99 65.6%,#3c55ab 66.1%,#3c55ab 67.2%,#3a3e9d 67.6%,#393a99 68.1%,#393a99 68.9%,#3c55ab 69.5%,#3c55ab 70.6%,#393a99 71.1%,#393a99 71.8%,#393a99 72.4%,#3c55ab 72.9%,#3c55ab 74.2%,#3a3c9b 74.8%,#393a99 75%,#393a99 76.2%,#3c55ab 76.8%,#3c55ab 78.1%,#393a99 78.8%,#393a99 79.4%,#393a99 80.2%,#3c55ab 80.9%,#3c54ab 82.4%,#393a99 83.1%,#393a99 84%,#393a99 84.7%,#3c55ab 85.4%,#3c54ab 87%,#393a99 87.7%,#393a99 88.6%,#393a99 89.4%,#3c55ab 90.2%,#3c55ab 91.9%,#393a99 92.9%,#393a99 94.7%,#3c55ab 95.5%,#3c55ab 97.5%,#3a3b9a 98.3%,#393a99 100%)"></i>
<i style="top:185.19px;height:8.16px;background:repeating-linear-gradient(90deg,transparent 0 1.8px,rgba(52,118,190,.5) 1.8px 9.1px,transparent 9.1px 14.6px) 0px 0/49.3px 100% no-repeat,repeating-linear-gradient(90deg,rgba(52,118,190,.28) 0 2.3px,transparent 2.3px 5.4px,rgba(52,118,190,.28) 5.4px 6.1px) 49.3px 0/53.8px 100% no-repeat,repeating-linear-gradient(90deg,transparent 0 2.5px,rgba(52,118,190,.48) 2.5px 5px,transparent 5px 5.2px) 103px 0/52.9px 100% no-repeat,linear-gradient(90deg,#3d50a9 0%,#3c54ab .8%,#3b43a0 3.1%,#3d4ba6 4%,#3a3d9c 5.2%,#3a3a99 6.3%,#3b409e 7%,#3b5daf 8.1%,#3a3e9c 10.9%,#3c45a1 11.7%,#3b409e 13%,#3d4da7 14.1%,#3c46a2 15.1%,#3c56ab 16.2%,#3c45a1 17.4%,#3c54ab 18.8%,#3d4aa5 21.2%,#3d4ea7 21.9%,#5cb887 22%,#33b19b 22.2%,#16abb4 22.3%,#16a0cb 22.5%,#189dcd 22.6%,#15a9b9 22.7%,#32b19c 22.9%,#68b981 23%,#96bc6e 23.2%,#d5b853 23.4%,#f3b842 23.7%,#f9bb3c 24.1%,#efb844 24.4%,#d8b851 24.5%,#b2bb63 24.7%,#7dbc78 24.8%,#33b19b 25%,#13a6c3 25.1%,#238ecc 25.2%,#3a5eaf 25.5%,#3b5bae 25.7%,#1f94cf 26.5%,#13a3c9 26.8%,#14a8bc 27.1%,#12a4c8 27.3%,#1f94cf 27.5%,#248dcb 27.6%,#14a1ca 27.8%,#14a8bc 28%,#12a4c7 28.3%,#1e97d0 28.6%,#3076bc 29%,#3c5aad 29.1%,#3d4fa8 29.6%,#3668b4 29.8%,#238ecc 30.1%,#179fcc 30.3%,#14a8bc 30.4%,#2fb19d 30.7%,#46b492 31%,#3ab298 31.4%,#25aea6 31.7%,#14a7bf 31.9%,#1e96d0 32.2%,#2e7abf 32.5%,#3d4ca6 32.6%,#3c55ab 32.8%,#3c55ab 33.1%,#3d52a9 33.2%,#3a3d9c 33.3%,#393a99 33.5%,#393a99 33.8%,#3b42a0 33.9%,#3c55ab 34%,#3c55ab 34.4%,#393a99 34.7%,#393a99 35%,#393a99 35.1%,#3c55ab 35.4%,#3c55ab 35.8%,#3a3b9a 36.1%,#393a99 36.3%,#3b3f9d 36.7%,#3d50a9 36.8%,#3c55ab 37%,#3c55ab 37.4%,#393a99 37.7%,#393a99 38.1%,#3c52aa 38.4%,#3c55ab 38.5%,#3c55ab 38.9%,#393a99 39.2%,#3a3b9a 39.7%,#3c55ab 40%,#3c55ab 40.4%,#3c53aa 40.6%,#393a99 40.9%,#3a3c9b 41.4%,#3c55ab 41.7%,#3c55ab 42.3%,#393a99 42.5%,#393a99 43.1%,#3c55ab 43.5%,#3c55ab 44.1%,#393a99 44.4%,#3a3d9c 45%,#3c55ab 45.3%,#3c55ab 45.9%,#393a99 46.3%,#393a99 46.9%,#3a3d9c 47%,#3c55ab 47.3%,#3c55ab 48%,#3a3d9c 48.3%,#393a99 49%,#3c55ab 49.4%,#3c55ab 50.1%,#393a99 50.5%,#393a99 51.2%,#3c55ab 51.6%,#3c55ab 52.3%,#393a99 52.7%,#3a3b9a 53.6%,#3c55ab 54%,#3c55ab 54.7%,#3a3c9b 55.1%,#393a99 55.4%,#393a99 55.9%,#3c55ab 56.5%,#3c54ab 57.3%,#393a99 57.7%,#393a99 58.3%,#393a99 58.6%,#3c55ab 59.1%,#3c55ab 60%,#3a3d9c 60.4%,#393a99 60.9%,#3a3e9c 61.5%,#3c55ab 61.9%,#3c55ab 62.9%,#3a3c9b 63.3%,#393a99 63.6%,#393a99 64.4%,#3c52aa 64.9%,#3c55ab 65.3%,#3c55ab 66%,#393a99 66.5%,#393a99 67.6%,#3c55ab 68.2%,#3c55ab 69.3%,#393a99 69.9%,#393a99 71%,#3c55ab 71.7%,#3c55ab 72.5%,#3c55ab 72.9%,#393a99 73.5%,#393a99 74.8%,#3c55ab 75.5%,#3c53aa 76.8%,#393a99 77.4%,#393a99 78.8%,#3c55ab 79.5%,#3c55ab 80.9%,#393a99 81.7%,#393a99 83.1%,#3c55ab 84%,#3c55ab 85.5%,#3a3c9b 86.2%,#393a99 86.6%,#3a3c9b 88%,#3c55ab 88.7%,#3c54ab 90.5%,#3a3b9a 91.2%,#393a99 91.5%,#3a3b9a 93.2%,#3c55ab 94%,#3c55ab 95.8%,#393a99 96.8%,#393a99 98.7%,#3c55ab 99.7%,#3c55ab 100%)"></i>
<i style="top:192.75px;height:8.16px;background:repeating-linear-gradient(90deg,rgba(52,118,190,.28) 0 5.9px,transparent 5.9px 17.8px,rgba(52,118,190,.28) 17.8px 23.7px) 0px 0/49.3px 100% no-repeat,repeating-linear-gradient(90deg,rgba(52,118,190,.35) 0 1.8px,transparent 1.8px 4.8px,rgba(52,118,190,.35) 4.8px 6px) 49.3px 0/53.8px 100% no-repeat,repeating-linear-gradient(90deg,rgba(52,118,190,.39) 0 .5px,transparent .5px 3.2px,rgba(52,118,190,.39) 3.2px 5.2px) 103px 0/52.9px 100% no-repeat,linear-gradient(90deg,#3c59ad 0%,#3c58ad .4%,#3b419e 1.4%,#3d50a9 4.6%,#3b43a0 5.7%,#3d51a9 8.2%,#3c46a2 9.6%,#3d51a9 11.6%,#3b409e 14.4%,#3d4ca6 15.6%,#3c44a1 16.9%,#3b5daf 18%,#3960b0 18.5%,#3d4ba6 19.9%,#3d4ca6 21.6%,#3c45a1 21.9%,#15aab7 22%,#179fcc 22.2%,#16a0cb 22.3%,#16abb4 22.5%,#39b298 22.6%,#6cba7f 22.7%,#97bc6d 22.9%,#b7ba61 23%,#dfb84d 23.3%,#f3b842 23.7%,#eab847 24%,#dab850 24.1%,#bcba5f 24.3%,#8fbc70 24.4%,#51b68c 24.5%,#18abb2 24.7%,#1a9bcf 24.8%,#3668b4 25.1%,#346db7 25.2%,#1a9bcf 25.7%,#13a7c1 25.8%,#22aea8 25.9%,#7cbc78 26.2%,#c7b95a 26.5%,#f6b93f 26.8%,#fdbe37 26.9%,#f9d82a 27.5%,#f9d62b 27.8%,#f8ba3d 28.3%,#e9b848 28.5%,#cfb956 28.6%,#86bc74 28.9%,#58b789 29%,#2290cd 29.1%,#346db7 29.6%,#3c56ab 30%,#3371b9 30.3%,#1e96d0 30.5%,#13a3c9 30.7%,#15aab7 30.8%,#2cb09f 31.1%,#39b298 31.4%,#29afa2 31.8%,#17abb3 32.1%,#15a1ca 32.4%,#1d98d1 32.5%,#393a99 32.6%,#3a3b9a 33.1%,#3d4fa8 33.2%,#3c55ab 33.3%,#3d51a9 33.8%,#3a3d9c 33.9%,#393a99 34.3%,#3b409e 34.4%,#3c53aa 34.6%,#3c55ab 34.7%,#3c55ab 35%,#3d50a8 35.1%,#3a3d9c 35.3%,#393a99 35.6%,#3a3d9c 35.8%,#3d4fa8 36%,#3c55ab 36.1%,#3c55ab 36.5%,#393a99 36.8%,#393a99 37.2%,#3c53aa 37.5%,#3c55ab 38.1%,#393a99 38.4%,#393a99 38.5%,#3a3e9c 38.9%,#3c55ab 39.2%,#3c55ab 39.6%,#393a99 40%,#393a99 40.4%,#3c55ab 40.9%,#3c55ab 41.3%,#393a99 41.7%,#3a3b9a 42.3%,#3c55ab 42.5%,#3c55ab 43.1%,#393a99 43.5%,#393a99 44.1%,#3c55ab 44.4%,#3c54aa 45%,#393a99 45.3%,#393a99 45.9%,#3a3c9b 46%,#3c55ab 46.3%,#3c55ab 47%,#3a3d9c 47.3%,#393a99 47.8%,#3b409e 48.1%,#3c55ab 48.4%,#3c55ab 49.1%,#3b3f9d 49.4%,#393a99 49.8%,#393a99 50.2%,#3d52a9 50.5%,#3c55ab 50.6%,#3c55ab 51.3%,#3b3f9d 51.6%,#393a99 52%,#393a99 52.4%,#3c55ab 52.9%,#3c55ab 53.7%,#393a99 54.1%,#3a3b9a 55%,#3c55ab 55.4%,#3c55ab 56.2%,#393a99 56.6%,#393a99 56.8%,#393a99 57.5%,#3c55ab 58%,#3c55ab 58.9%,#3a3b9a 59.3%,#393a99 59.8%,#393a99 60.3%,#3c55ab 60.8%,#3c53aa 61.8%,#393a99 62.2%,#393a99 62.3%,#393a99 63.2%,#3c55ab 63.7%,#3c55ab 64.7%,#393a99 65.4%,#393a99 66.4%,#3c55ab 66.9%,#3c55ab 68.1%,#393a99 68.6%,#393a99 69.6%,#3a3c9b 69.9%,#3c55ab 70.4%,#3c55ab 71.5%,#393a99 72.2%,#393a99 72.9%,#393a99 73.5%,#3c55ab 74.2%,#3c55ab 75.5%,#393a99 76.2%,#393a99 77.4%,#3c55ab 78.1%,#3c55ab 79.5%,#3a3b9a 80.2%,#393a99 80.5%,#393a99 81.7%,#3c55ab 82.6%,#3c55ab 84%,#393a99 84.8%,#393a99 85.9%,#3a3b9a 86.5%,#3c55ab 87.3%,#3c55ab 88.8%,#3a3b9a 89.7%,#393a99 90.7%,#393a99 91.5%,#3c55ab 92.5%,#3c55ab 94.3%,#393a99 95.1%,#393a99 95.4%,#393a99 97.1%,#3c55ab 98%,#3c55ab 100%)"></i>
<i style="top:200.31px;height:8.16px;background:repeating-linear-gradient(90deg,transparent 0 5.4px,rgba(52,118,190,.35) 5.4px 12.6px,transparent 12.6px 14.3px) 0px 0/49.3px 100% no-repeat,repeating-linear-gradient(90deg,rgba(52,118,190,.25) 0 1.3px,transparent 1.3px 4.3px,rgba(52,118,190,.25) 4.3px 5.9px) 49.3px 0/53.8px 100% no-repeat,repeating-linear-gradient(90deg,rgba(52,118,190,.48) 0 1.2px,transparent 1.2px 3.9px,rgba(52,118,190,.48) 3.9px 5.3px) 103px 0/52.9px 100% no-repeat,linear-gradient(90deg,#3c54aa 0%,#3c57ac 1.3%,#3d49a4 2.9%,#3c56ac 4.5%,#3d4ca6 5.4%,#3d50a8 6.7%,#3c47a3 8.8%,#3b5cae 11.2%,#3c45a1 12.7%,#3d4da7 13.8%,#3c47a3 15.1%,#3c59ad 16.9%,#3c47a3 18.3%,#3d51a9 19.5%,#3b42a0 21.8%,#3b43a0 21.9%,#14a2ca 22%,#18abb2 22.2%,#3bb298 22.3%,#93bc6f 22.6%,#c7b95a 22.9%,#dfb84e 23.2%,#e7b849 23.4%,#d9b851 23.7%,#c3ba5b 23.8%,#a1bc69 24%,#6eba7e 24.1%,#2cb09f 24.3%,#13a6c3 24.4%,#2290cd 24.5%,#3076bc 24.7%,#2d7dc1 24.8%,#238ecc 25%,#169fcc 25.1%,#16aab6 25.2%,#37b299 25.4%,#a2bc69 25.7%,#cbb958 25.8%,#ecb846 25.9%,#fcbc39 26.1%,#f6e129 26.5%,#f4ed2b 26.9%,#f4ea2a 27.2%,#fccf2d 27.6%,#f5e82a 27.9%,#f4e92a 28.5%,#f8d92a 28.7%,#fdbe37 29%,#39b299 29.1%,#15a9ba 29.4%,#14a2c9 29.6%,#1d97d1 29.7%,#3b5cae 30.4%,#248dcc 30.8%,#199cce 31%,#16abb4 31.2%,#29afa2 31.5%,#2bb0a0 31.8%,#1dadad 32.2%,#14a7c0 32.5%,#3c55ab 32.6%,#3c55ab 32.9%,#393a99 33.2%,#3a3c9b 33.6%,#3d4fa8 33.8%,#3c55ab 33.9%,#3c53aa 34.3%,#3b409e 34.4%,#393a99 34.6%,#3a3b9a 35%,#3d4da7 35.1%,#3c55ab 35.3%,#3c55ab 35.6%,#3c55ab 35.7%,#393a99 36%,#393a99 36.4%,#3c54aa 36.7%,#3c55ab 37.1%,#3c54ab 37.2%,#393a99 37.5%,#393a99 37.9%,#3d52a9 38.2%,#3c55ab 38.4%,#3c55ab 38.8%,#393a99 39.1%,#393a99 39.2%,#393a99 39.6%,#3c55ab 39.9%,#3c55ab 40.2%,#3c55ab 40.4%,#3a3b9a 40.7%,#393a99 40.9%,#393a99 41.3%,#3c55ab 41.7%,#3c53aa 42.3%,#393a99 42.5%,#393a99 43.1%,#3c55ab 43.5%,#3c55ab 44.1%,#3a3b9a 44.4%,#393a99 44.5%,#393a99 45%,#3c54ab 45.3%,#3c55ab 45.5%,#3c55ab 46%,#3a3d9c 46.3%,#393a99 46.4%,#393a99 47%,#3c55ab 47.4%,#3c55ab 47.6%,#3c55ab 48.1%,#3a3c9b 48.4%,#393a99 48.5%,#393a99 49.1%,#3a3d9c 49.2%,#3c55ab 49.5%,#3c55ab 49.7%,#3d52a9 50.3%,#3a3b9a 50.6%,#393a99 51.3%,#3a3b9a 51.5%,#3d51a9 51.7%,#3c55ab 52.2%,#3c55ab 52.6%,#393a99 53%,#393a99 53.8%,#3c55ab 54.3%,#3c55ab 55.1%,#393a99 55.5%,#393a99 55.8%,#393a99 56.3%,#3c55ab 56.9%,#3c55ab 57.7%,#393a99 58.2%,#393a99 58.3%,#393a99 59.1%,#3c55ab 59.6%,#3c55ab 59.7%,#3c55ab 60.5%,#393a99 61.1%,#393a99 62.1%,#3c54aa 62.5%,#3c55ab 62.6%,#3c55ab 63.6%,#393a99 64.2%,#393a99 65.1%,#3c55ab 65.7%,#3c55ab 65.8%,#3c55ab 66.8%,#393a99 67.4%,#393a99 68.5%,#3c54aa 69%,#3c55ab 70%,#3c55ab 70.3%,#393a99 71%,#393a99 72.1%,#3c55ab 72.8%,#3c55ab 73.4%,#3c55ab 74.1%,#393a99 74.8%,#393a99 76%,#3c55ab 76.7%,#3c55ab 78.1%,#393a99 78.9%,#393a99 80.3%,#3c55ab 81%,#3c55ab 82.6%,#393a99 83.4%,#393a99 84.9%,#3c55ab 85.8%,#3c54aa 87.4%,#393a99 88.3%,#393a99 90%,#3c55ab 90.8%,#3c55ab 92.6%,#393a99 93.6%,#3a3b9a 95.5%,#3c55ab 96.4%,#3c55ab 98.5%,#3a3c9b 99.3%,#393a99 100%)"></i>
<i style="top:207.87px;height:8.16px;background:repeating-linear-gradient(90deg,transparent 0 0px,rgba(52,118,190,.38) 0px 15.8px,transparent 15.8px 31.5px) 0px 0/49.3px 100% no-repeat,repeating-linear-gradient(90deg,rgba(52,118,190,.48) 0 .8px,transparent .8px 3.7px,rgba(52,118,190,.48) 3.7px 5.7px) 49.3px 0/53.8px 100% no-repeat,repeating-linear-gradient(90deg,rgba(52,118,190,.39) 0 1.9px,transparent 1.9px 4.6px,rgba(52,118,190,.39) 4.6px 5.4px) 103px 0/52.9px 100% no-repeat,linear-gradient(90deg,#3d4ba6 0%,#3c59ad 1%,#3c55ab 1.5%,#3b5daf 2.6%,#3c44a1 3.9%,#3b43a0 5.3%,#3a5fb0 7%,#3d4ba6 8.4%,#3c5aae 9.8%,#3b3f9d 11%,#3a3e9c 11.4%,#3c57ac 14.2%,#3c55ab 16.2%,#3b43a0 17.6%,#3c47a3 19.2%,#3c58ac 20.5%,#3d4ca7 21.8%,#3d50a8 21.9%,#38b299 22%,#8cbc72 22.3%,#a8bb66 22.5%,#cab958 22.7%,#dab850 23.2%,#c7b95a 23.4%,#aebb64 23.6%,#87bc73 23.7%,#1cacae 24%,#169fcc 24.1%,#2787c9 24.3%,#2985c7 24.4%,#1d98d1 24.5%,#13a6c2 24.7%,#26afa5 24.8%,#94bc6e 25.1%,#c1ba5c 25.2%,#e6b84a 25.4%,#f9bb3c 25.5%,#f7dd28 25.9%,#f5e629 26.4%,#f8dc29 26.6%,#fabc3b 26.9%,#f7ba3e 27.5%,#efb844 27.6%,#c6b95a 27.9%,#c6b95a 28%,#f6b93f 28.2%,#fdc831 28.3%,#f6e329 28.6%,#f6e329 29%,#82bc75 29.1%,#77bb7a 29.3%,#4fb68d 29.6%,#1eadad 29.8%,#14a7bf 30%,#179fcc 30.1%,#2192ce 30.3%,#366ab5 30.7%,#3865b2 30.8%,#1e96d0 31.2%,#14a2ca 31.4%,#14a8bc 31.5%,#24aea6 31.9%,#18acb2 32.5%,#393a99 32.6%,#393a99 32.8%,#3c55ab 33.1%,#3c55ab 33.5%,#393a99 33.8%,#393a99 34.2%,#3c55ab 34.4%,#3c55ab 34.9%,#393a99 35.1%,#393a99 35.6%,#3c55ab 35.8%,#3c55ab 36%,#3c53aa 36.4%,#393a99 36.7%,#393a99 37.1%,#3c55ab 37.4%,#3c55ab 37.5%,#3c55ab 37.9%,#393a99 38.2%,#3a3c9b 38.8%,#3c55ab 39.1%,#3c52aa 39.6%,#393a99 39.9%,#3a3b9a 40.4%,#3c55ab 40.7%,#3c55ab 41.3%,#3a3b9a 41.6%,#393a99 41.7%,#393a99 42.1%,#3c55ab 42.5%,#3c55ab 43.1%,#3a3e9c 43.4%,#393a99 43.5%,#393a99 44.1%,#3c53aa 44.4%,#3c55ab 44.5%,#3c55ab 45%,#3a3d9c 45.3%,#393a99 45.5%,#393a99 46%,#3c55ab 46.4%,#3c52aa 47.1%,#393a99 47.4%,#393a99 47.6%,#393a99 48.1%,#3c55ab 48.5%,#3c55ab 49.2%,#393a99 49.7%,#393a99 50.3%,#3c55ab 50.8%,#3c53aa 51.6%,#3a3d9b 51.9%,#393a99 52%,#393a99 52.7%,#3c55ab 53.1%,#3c55ab 54%,#393a99 54.4%,#393a99 55.2%,#3c55ab 55.8%,#3c55ab 56.6%,#393a99 57%,#3a3c9b 58%,#3c55ab 58.4%,#3c54ab 59.4%,#393a99 59.8%,#393a99 60.8%,#3c55ab 61.4%,#3c55ab 62.3%,#393a99 62.9%,#393a99 63.9%,#3c55ab 64.4%,#3c55ab 65.6%,#393a99 66.1%,#393a99 67.2%,#3c55ab 67.8%,#3c55ab 67.9%,#3c54ab 69%,#393a99 69.6%,#3a3a99 70.9%,#3c55ab 71.4%,#3c55ab 72.7%,#393a99 73.4%,#393a99 74.6%,#3c55ab 75.3%,#3c55ab 76.7%,#393a99 77.4%,#393a99 78.8%,#3c55ab 79.6%,#3c55ab 81%,#393a99 81.9%,#393a99 83.4%,#3c55ab 84.2%,#3c55ab 85.8%,#393a99 86.6%,#3a3b9a 88.4%,#3c55ab 89.3%,#3c55ab 91.1%,#393a99 91.9%,#393a99 93.9%,#3c55ab 94.8%,#3c55ab 96.8%,#393a99 97.8%,#3a3e9d 100%)"></i>
<i style="top:215.43px;height:8.16px;background:repeating-linear-gradient(90deg,rgba(52,118,190,.47) 0 2.7px,transparent 2.7px 13.4px,rgba(52,118,190,.47) 13.4px 21.4px) 0px 0/49.3px 100% no-repeat,repeating-linear-gradient(90deg,rgba(52,118,190,.26) 0 .4px,transparent .4px 3.2px,rgba(52,118,190,.26) 3.2px 5.6px) 49.3px 0/53.8px 100% no-repeat,repeating-linear-gradient(90deg,rgba(52,118,190,.4) 0 2.6px,transparent 2.6px 5.4px,rgba(52,118,190,.4) 5.4px 5.4px) 103px 0/52.9px 100% no-repeat,linear-gradient(90deg,#3c55ab 0%,#3c47a3 3.6%,#3c59ad 4.9%,#3b429f 6.1%,#3b5cae 8.1%,#3b43a0 9.6%,#3b43a0 11%,#3c55ab 13.1%,#3c44a1 16%,#3d50a8 17.4%,#3d4fa8 20.1%,#3963b1 21.8%,#3960b0 21.9%,#83bc75 22%,#9fbc6a 22.2%,#beba5e 22.5%,#cbb958 22.9%,#b5bb62 23.2%,#9abc6c 23.3%,#70ba7d 23.4%,#38b299 23.6%,#15a9ba 23.7%,#1c99d0 23.8%,#2887c8 24%,#1b9ad0 24.1%,#14a8be 24.3%,#2bb0a0 24.4%,#9cbc6b 24.7%,#c7b959 24.8%,#e9b848 25%,#fabb3b 25.1%,#f9d72a 25.5%,#f7de28 25.8%,#f9d62b 26.1%,#fdc930 26.2%,#f9bb3c 26.4%,#f4b841 26.5%,#fdbd38 26.6%,#fbd22c 26.9%,#f8da29 27.2%,#fbd12d 27.5%,#fcbd39 27.8%,#f2b843 27.9%,#d7b852 28%,#8bbc72 28.3%,#87bc74 28.5%,#cdb957 28.6%,#f6b93f 28.7%,#fdc533 28.9%,#fad32c 29%,#7fbc77 29.1%,#80bc76 29.4%,#73bb7c 29.7%,#50b68c 30%,#20adaa 30.3%,#14a8bc 30.4%,#15a0cb 30.5%,#1f94cf 30.7%,#356bb5 31.1%,#3370b8 31.2%,#2290cd 31.5%,#189dcd 31.7%,#13a5c4 31.8%,#19acb1 32.1%,#1cacaf 32.5%,#3c55ab 32.6%,#393a99 32.9%,#393a99 33.3%,#3c55ab 33.6%,#3c55ab 34%,#393a99 34.3%,#393a99 34.4%,#393a99 34.7%,#3c55ab 35%,#3c55ab 35.4%,#393a99 35.8%,#393a99 36.3%,#3c55ab 36.5%,#3c55ab 37%,#3d51a9 37.1%,#393a99 37.4%,#393a99 37.8%,#3c52aa 38.1%,#3c55ab 38.2%,#3c55ab 38.6%,#3a3c9b 38.9%,#393a99 39.3%,#393a99 39.5%,#3c52aa 39.7%,#3c55ab 39.9%,#3c55ab 40.3%,#393a99 40.7%,#3a3b9a 41.3%,#3c55ab 41.6%,#3c55ab 42.1%,#393a99 42.5%,#393a99 43.1%,#3c52aa 43.4%,#3c55ab 43.5%,#3c55ab 44.1%,#3a3d9c 44.4%,#393a99 44.6%,#393a99 45%,#3c55ab 45.5%,#3c55ab 46%,#393a99 46.4%,#393a99 46.7%,#393a99 47.1%,#3c55ab 47.6%,#3c55ab 48.1%,#3c54aa 48.3%,#3a3c9b 48.5%,#393a99 49.1%,#3a3b9a 49.4%,#3c52aa 49.7%,#3c55ab 49.8%,#3c55ab 50.5%,#393a99 50.9%,#393a99 51.6%,#3c55ab 52.2%,#3c55ab 52.9%,#3a3b9a 53.3%,#393a99 54.1%,#3c53aa 54.5%,#3c55ab 55.4%,#3c54aa 55.5%,#393a99 55.9%,#393a99 56.6%,#3a3e9d 56.9%,#3c55ab 57.3%,#3c55ab 58.2%,#393a99 58.7%,#393a99 59.1%,#3a3b9a 59.7%,#3c55ab 60.1%,#3c55ab 61.1%,#393a99 61.6%,#393a99 61.8%,#3a3c9b 62.8%,#3c55ab 63.2%,#3c55ab 63.3%,#3c55ab 64.3%,#3b3f9d 64.7%,#393a99 65%,#393a99 66%,#3c55ab 66.5%,#3c55ab 67.6%,#393a99 68.3%,#393a99 69.5%,#3c53aa 70%,#3c55ab 71.3%,#393a99 72.1%,#3a3c9b 73.4%,#3c55ab 73.9%,#3c55ab 75.3%,#3a3d9c 75.9%,#393a99 76.4%,#393a99 77.4%,#3c55ab 78.1%,#3c55ab 79.6%,#393a99 80.5%,#393a99 81.9%,#3c55ab 82.7%,#3c55ab 84.2%,#393a99 85.1%,#393a99 86.8%,#3c55ab 87.7%,#3c55ab 89.4%,#393a99 90.4%,#393a99 92.2%,#3c55ab 93.2%,#3c54ab 95.1%,#3a3a99 96%,#393a99 98%,#3c55ab 99%,#3c55ab 100%)"></i>
<i style="top:222.99px;height:8.16px;background:repeating-linear-gradient(90deg,transparent 0 8px,rgba(52,118,190,.36) 8px 23.9px,transparent 23.9px 31.9px) 0px 0/49.3px 100% no-repeat,repeating-linear-gradient(90deg,transparent 0 2.7px,rgba(52,118,190,.52) 2.7px 5.4px,transparent 5.4px 5.5px) 49.3px 0/53.8px 100% no-repeat,repeating-linear-gradient(90deg,transparent 0 .6px,rgba(52,118,190,.47) .6px 3.4px,transparent 3.4px 5.5px) 103px 0/52.9px 100% no-repeat,linear-gradient(90deg,#3d49a4 0%,#3c47a3 .7%,#3c5aad 2.2%,#3c48a4 3.5%,#3c53aa 4.7%,#3b419f 7%,#3c57ac 8.2%,#3d52a9 9.1%,#3c59ad 10.3%,#3d52a9 12%,#3c5aad 13.5%,#3c58ac 15.5%,#3a3b9a 17.7%,#3c53aa 19.1%,#3c48a4 20.5%,#3c55ab 21.8%,#3d50a8 21.9%,#a5bc68 22%,#b8ba60 22.3%,#bdba5e 22.6%,#a5bc68 22.9%,#87bc74 23%,#27afa3 23.3%,#13a6c3 23.4%,#2094cf 23.6%,#1e97d0 23.7%,#13a6c3 23.8%,#26afa5 24%,#93bc6f 24.3%,#bfba5d 24.4%,#e2b84c 24.5%,#f6ba3f 24.7%,#fdc831 25%,#fad42c 25.4%,#fbd22c 25.5%,#fdbe37 25.8%,#eeb845 25.9%,#c1ba5d 26.1%,#7dbc78 26.2%,#56b78a 26.4%,#74bb7c 26.5%,#9fbc6a 26.8%,#b3bb62 27.1%,#b3bb62 27.3%,#9dbc6b 27.6%,#70ba7e 27.9%,#2eb09e 28.2%,#1aacb0 28.3%,#13a6c3 28.5%,#199dce 28.6%,#1aacb1 28.7%,#68b981 28.9%,#b2bb63 29%,#2bb0a0 29.1%,#4db68e 29.3%,#64b983 29.4%,#71bb7d 29.6%,#74bb7c 29.8%,#5ab888 30.3%,#2db09e 30.5%,#14a7bf 30.8%,#179fcc 31%,#2192ce 31.1%,#356cb6 31.5%,#1c99d0 31.9%,#14a2c9 32.1%,#17abb4 32.5%,#3c48a4 32.6%,#3c55ab 32.8%,#3c55ab 33.2%,#393a99 33.5%,#393a99 33.9%,#3c55ab 34.2%,#3c55ab 34.6%,#3d4fa8 34.7%,#3a3d9c 34.9%,#393a99 35%,#3a3a99 35.4%,#3c55ab 35.7%,#3c55ab 36.1%,#3a3c9b 36.4%,#393a99 36.5%,#393a99 37%,#3c55ab 37.2%,#3c54ab 37.8%,#393a99 38.1%,#3a3c9b 38.6%,#3c55ab 38.9%,#3c55ab 39.5%,#393a99 39.7%,#393a99 40.3%,#3c53aa 40.6%,#3c55ab 40.7%,#3d52a9 41.3%,#393a99 41.6%,#393a99 42.1%,#3c55ab 42.5%,#3c55ab 43.1%,#3a3d9b 43.4%,#393a99 43.5%,#393a99 44.1%,#3d52a9 44.4%,#3c55ab 44.5%,#3c55ab 45%,#393a99 45.5%,#3a3c9b 46.2%,#3c54ab 46.4%,#3c55ab 46.6%,#3c55ab 47.1%,#393a99 47.6%,#393a99 48.3%,#3c55ab 48.7%,#3c55ab 49.4%,#393a99 49.8%,#3a3b9a 50.6%,#3c55ab 51%,#3c55ab 51.7%,#3a3b9a 52.2%,#393a99 52.3%,#393a99 53%,#3c54aa 53.4%,#3c55ab 53.6%,#3c52aa 54.4%,#393a99 54.8%,#393a99 55.6%,#3c54ab 56.1%,#3c55ab 56.2%,#3c55ab 57%,#3a3b9a 57.5%,#393a99 57.6%,#393a99 58.4%,#3c55ab 59%,#3c54ab 60%,#3a3b9a 60.4%,#393a99 60.5%,#3a3b9a 61.5%,#3c54ab 61.9%,#3c55ab 62.1%,#3c55ab 63%,#393a99 63.6%,#3a3a99 64.7%,#3c55ab 65.3%,#3c55ab 66.4%,#393a99 66.9%,#3a3b9a 68.2%,#3c55ab 68.8%,#3c55ab 70%,#393a99 70.6%,#393a99 70.7%,#3a3b9a 72%,#3c55ab 72.5%,#3c55ab 73.9%,#393a99 74.6%,#3a3a99 76%,#3c55ab 76.7%,#3c55ab 78.1%,#393a99 78.9%,#393a99 80.3%,#3c55ab 81.2%,#3c55ab 82.7%,#393a99 83.5%,#393a99 85.2%,#3c55ab 86.1%,#3c54ab 87.9%,#393a99 88.7%,#393a99 90.5%,#3c55ab 91.5%,#3c55ab 93.3%,#393a99 94.3%,#393a99 96.4%,#3c55ab 97.4%,#3c55ab 99.4%,#3c48a4 100%)"></i>
<i style="top:230.55px;height:8.16px;background:repeating-linear-gradient(90deg,rgba(52,118,190,.26) 0 10.1px,transparent 10.1px 23.5px,rgba(52,118,190,.26) 23.5px 26.8px) 0px 0/49.3px 100% no-repeat,repeating-linear-gradient(90deg,transparent 0 2.2px,rgba(52,118,190,.3) 2.2px 4.9px,transparent 4.9px 5.4px) 49.3px 0/53.8px 100% no-repeat,repeating-linear-gradient(90deg,transparent 0 1.3px,rgba(52,118,190,.37) 1.3px 4.1px,transparent 4.1px 5.6px) 103px 0/52.9px 100% no-repeat,linear-gradient(90deg,#3c52aa 0%,#3d4da7 .7%,#3c58ac 2%,#3d4ba6 3.2%,#3c48a4 4.6%,#3c54ab 5.9%,#3c47a3 7.5%,#3c58ad 8.9%,#3d4fa8 9.8%,#3d51a9 10.7%,#3b42a0 12%,#3c53aa 13.4%,#3b43a0 14.4%,#3c48a4 14.8%,#3863b1 15.5%,#366ab5 16%,#3c54ab 17.4%,#3b5bae 18.1%,#3d50a8 19.5%,#3b5daf 20.6%,#3b5cae 21.2%,#3d52a9 21.3%,#3c47a3 21.9%,#abbb65 22%,#b0bb63 22.2%,#a7bb67 22.5%,#95bc6e 22.6%,#77bb7a 22.7%,#1fadab 23%,#13a3c9 23.2%,#228fcd 23.3%,#15a1ca 23.4%,#19acb1 23.6%,#45b492 23.7%,#7ebc77 23.8%,#acbb65 24%,#d1b955 24.1%,#ecb846 24.3%,#fdc036 24.5%,#fdca30 25%,#fdc334 25.2%,#f9bb3c 25.4%,#e4b84b 25.5%,#b6ba61 25.7%,#74bb7c 25.8%,#24aea6 25.9%,#189ecd 26.1%,#2c7fc3 26.2%,#2192ce 26.9%,#2094cf 27.3%,#2886c7 27.9%,#3960b0 28.7%,#1d97d1 29%,#2788c9 29.1%,#199dce 29.3%,#14a8bc 29.4%,#25aea6 29.6%,#58b789 29.8%,#69ba81 30.1%,#59b888 30.5%,#37b299 30.8%,#16aab6 31.1%,#12a4c7 31.2%,#1b9acf 31.4%,#3370b9 31.8%,#1f96d0 32.2%,#13a5c5 32.5%,#393a99 32.6%,#393a99 33.1%,#3c55ab 33.3%,#3c55ab 33.8%,#3a3b9a 34%,#393a99 34.2%,#3a3d9c 34.6%,#3d4fa8 34.7%,#3c55ab 34.9%,#3c55ab 35.3%,#393a99 35.6%,#393a99 36%,#3a3d9c 36.1%,#3c55ab 36.4%,#3c55ab 36.5%,#3c55ab 36.8%,#3a3d9c 37.1%,#393a99 37.2%,#393a99 37.7%,#3c53aa 37.9%,#3c55ab 38.1%,#3c55ab 38.5%,#3a3d9c 38.8%,#393a99 39.3%,#3d4fa8 39.6%,#3c55ab 39.9%,#3c54ab 40.3%,#393a99 40.6%,#393a99 41.1%,#3c55ab 41.6%,#3c55ab 42.1%,#3a3d9b 42.4%,#393a99 43.1%,#3c53aa 43.4%,#3c55ab 43.5%,#3c55ab 44.1%,#393a99 44.5%,#393a99 45%,#3c55ab 45.5%,#3c55ab 46.2%,#3a3e9c 46.4%,#393a99 46.6%,#393a99 47.1%,#3a3b9a 47.3%,#3c53aa 47.6%,#3c55ab 47.8%,#3c54aa 48.4%,#3a3d9c 48.7%,#393a99 48.8%,#393a99 49.5%,#3d4fa8 49.8%,#3c55ab 50.1%,#3d52a9 50.8%,#3a3c9b 51%,#393a99 51.2%,#393a99 51.9%,#3c54aa 52.3%,#3c55ab 52.4%,#3c55ab 53.1%,#393a99 53.7%,#393a99 54.5%,#3c55ab 55%,#3c55ab 55.8%,#393a99 56.3%,#393a99 57.2%,#3c55ab 57.7%,#3c55ab 58.2%,#3c55ab 58.7%,#393a99 59.3%,#393a99 60.3%,#3c55ab 60.8%,#3c55ab 61.8%,#393a99 62.3%,#3a3c9b 63.5%,#3c55ab 64%,#3c54aa 65.1%,#393a99 65.7%,#393a99 66.8%,#3c55ab 67.4%,#3c55ab 67.9%,#3c55ab 68.6%,#393a99 69.3%,#3a3b9a 70.6%,#3c55ab 71.1%,#3c55ab 71.5%,#3c55ab 72.5%,#393a99 73.2%,#393a99 74.5%,#3c55ab 75.2%,#3c55ab 75.6%,#3c55ab 76.7%,#393a99 77.4%,#393a99 78.8%,#3c55ab 79.6%,#3c55ab 81.2%,#393a99 82%,#393a99 83.7%,#3c55ab 84.5%,#3c55ab 86.2%,#393a99 87%,#393a99 87.3%,#393a99 88.8%,#3c55ab 89.8%,#3c55ab 91.6%,#3a3d9b 92.5%,#393a99 92.9%,#393a99 94.6%,#3c55ab 95.5%,#3c55ab 97.6%,#393a99 98.7%,#393a99 100%)"></i>
<i style="top:238.11px;height:8.16px;background:repeating-linear-gradient(90deg,transparent 0 11.6px,rgba(52,118,190,.44) 11.6px 23.2px,transparent 23.2px 23.2px) 0px 0/49.3px 100% no-repeat,repeating-linear-gradient(90deg,transparent 0 1.8px,rgba(52,118,190,.34) 1.8px 4.4px,transparent 4.4px 5.3px) 49.3px 0/53.8px 100% no-repeat,repeating-linear-gradient(90deg,transparent 0 2.1px,rgba(52,118,190,.35) 2.1px 4.9px,transparent 4.9px 5.7px) 103px 0/52.9px 100% no-repeat,linear-gradient(90deg,#3d4ea8 0%,#393998 1.4%,#3d51a9 2.6%,#3c56ab 3.3%,#3c46a2 6.4%,#3c44a1 9.8%,#3c56ac 11%,#3c53aa 11.7%,#3b5cae 12.8%,#3c58ad 14.6%,#3b42a0 17%,#3c47a3 18.8%,#3c58ac 20.1%,#3c53aa 20.5%,#3c48a4 20.8%,#3b409e 21.8%,#3c48a4 21.9%,#a2bc69 22%,#99bc6c 22.2%,#87bc74 22.3%,#68b981 22.5%,#18acb2 22.7%,#15a0cb 22.9%,#1d98d1 23%,#14a7c0 23.2%,#27afa4 23.3%,#90bc70 23.6%,#b9ba60 23.7%,#d9b851 23.8%,#efb845 24%,#fcbd39 24.3%,#fdc235 24.5%,#fdbd38 24.8%,#f6ba3f 25%,#e0b84d 25.1%,#b6ba61 25.2%,#7abc79 25.4%,#2bb0a0 25.5%,#13a2c9 25.7%,#2887c8 25.8%,#356bb5 25.9%,#3d4ea7 26.2%,#3c54ab 27.3%,#3c47a3 28.7%,#3c56ab 29.1%,#258ccb 29.6%,#189ecd 29.7%,#15a9bb 29.8%,#3bb298 30.1%,#59b788 30.4%,#58b789 30.7%,#48b591 31%,#19acb1 31.4%,#14a7c0 31.5%,#2093ce 31.8%,#3076bc 32.1%,#3076bc 32.2%,#2192ce 32.5%,#3c55ab 32.6%,#3c55ab 32.9%,#393a99 33.2%,#393a99 33.6%,#3b419f 33.8%,#3c53aa 33.9%,#3c55ab 34%,#3c54ab 34.4%,#393a99 34.7%,#393a99 35.1%,#3c54aa 35.4%,#3c55ab 35.6%,#3c55ab 36%,#393a99 36.3%,#3a3c9b 36.8%,#3c55ab 37.1%,#3c52aa 37.7%,#393a99 37.9%,#3a3c9b 38.5%,#3c55ab 38.8%,#3c55ab 39.3%,#3a3b9a 39.6%,#393a99 39.7%,#393a99 40.2%,#3c55ab 40.6%,#3c55ab 41.1%,#3a3d9b 41.4%,#393a99 41.6%,#393a99 42.1%,#3c54ab 42.4%,#3c55ab 42.5%,#3c55ab 43.1%,#3a3c9b 43.4%,#393a99 43.5%,#393a99 44.1%,#3c55ab 44.5%,#3d52a9 45.2%,#393a99 45.5%,#393a99 46.2%,#3c55ab 46.6%,#3c55ab 47.3%,#393a99 47.7%,#393a99 48.4%,#3c55ab 48.8%,#3c53aa 49.7%,#393a99 50.1%,#393a99 50.8%,#3c54ab 51.2%,#3c55ab 51.3%,#3c55ab 52%,#3a3b9a 52.4%,#393a99 52.6%,#3a3d9b 53.4%,#3c55ab 53.8%,#3c55ab 54.7%,#3a3c9b 55.1%,#393a99 55.2%,#393a99 56.1%,#3c55ab 56.6%,#3c55ab 57.5%,#393a99 58%,#393a99 59%,#3c55ab 59.6%,#3c55ab 60.5%,#393a99 61.1%,#393a99 62.1%,#3c55ab 62.6%,#3c55ab 62.8%,#3c55ab 63.7%,#393a99 64.3%,#393a99 64.4%,#3a3c9b 65.6%,#3c55ab 66.1%,#3c55ab 67.2%,#393a99 67.9%,#3a3b9a 69.2%,#3c55ab 69.7%,#3c54aa 71.1%,#393a99 71.7%,#393a99 71.8%,#393a99 73.1%,#3c55ab 73.8%,#3c55ab 75.2%,#393a99 75.9%,#393a99 77.4%,#3c55ab 78.1%,#3c55ab 79.6%,#393a99 80.5%,#3a3b9a 82.1%,#3c55ab 82.8%,#3c55ab 84.5%,#393a99 85.5%,#393a99 87.2%,#3c55ab 88.1%,#3c55ab 90%,#393a99 90.9%,#393a99 92.9%,#3c55ab 93.9%,#3c55ab 96%,#393a99 96.9%,#393a99 99.2%,#3d51a9 100%)"></i>
<i style="top:245.67px;height:8.16px;background:repeating-linear-gradient(90deg,transparent 0 2.5px,rgba(52,118,190,.5) 2.5px 12.7px,transparent 12.7px 20.4px) 0px 0/49.3px 100% no-repeat,repeating-linear-gradient(90deg,transparent 0 1.3px,rgba(52,118,190,.51) 1.3px 3.9px,transparent 3.9px 5.2px) 49.3px 0/53.8px 100% no-repeat,repeating-linear-gradient(90deg,transparent 0 2.8px,rgba(52,118,190,.36) 2.8px 5.7px,transparent 5.7px 5.8px) 103px 0/52.9px 100% no-repeat,linear-gradient(90deg,#3d4fa8 0%,#3d4aa5 3.5%,#393897 5%,#3c59ad 7.4%,#3d4ba6 12.3%,#3c58ac 14.4%,#3c45a2 17%,#3b5daf 19.5%,#3c48a4 20.8%,#3b5daf 21.6%,#3c56ac 21.9%,#7abc79 22%,#5bb887 22.2%,#31b19c 22.3%,#16aab6 22.5%,#179ecc 22.6%,#189ecd 22.7%,#15aab8 22.9%,#34b19b 23%,#9abc6c 23.3%,#d9b851 23.6%,#f5b940 23.8%,#fbbc3a 24.3%,#f4b941 24.5%,#e0b84d 24.7%,#bcba5f 24.8%,#87bc74 25%,#3fb395 25.1%,#14a7be 25.2%,#2191ce 25.4%,#3a5fb0 25.7%,#3d51a9 25.8%,#3078bd 26.9%,#3272ba 27.2%,#3c59ad 27.5%,#3c55ab 27.6%,#3370b9 27.9%,#3078be 28.2%,#3b5cae 29%,#3d4da7 29.1%,#3d4aa5 29.3%,#3b5bae 29.6%,#2191ce 30%,#15a1ca 30.1%,#15aab8 30.3%,#36b29a 30.5%,#4db68e 30.8%,#47b591 31.1%,#34b19b 31.4%,#14a8bd 31.8%,#1e97d0 32.1%,#2e7bc0 32.4%,#3174bb 32.5%,#393a99 32.6%,#393a99 32.8%,#3c55ab 33.1%,#3c55ab 33.5%,#393a99 33.9%,#393a99 34.3%,#3c55ab 34.6%,#3c55ab 35%,#393a99 35.4%,#393a99 35.8%,#3c54ab 36.1%,#3c55ab 36.3%,#3c55ab 36.7%,#393a99 37%,#393a99 37.5%,#3c55ab 37.8%,#3c55ab 38.4%,#3a3d9c 38.6%,#393a99 38.8%,#3a3e9c 39.3%,#3c55ab 39.6%,#3c55ab 40.2%,#3a3d9b 40.4%,#393a99 40.6%,#3a3b9a 41.1%,#3c55ab 41.4%,#3c55ab 42%,#3c53aa 42.1%,#393a99 42.4%,#3a3a99 43.1%,#3c54aa 43.4%,#3c55ab 43.5%,#3c55ab 44.1%,#3b409e 44.4%,#393a99 44.6%,#3a3c9b 45.2%,#3c54aa 45.5%,#3c55ab 45.6%,#3c55ab 46.2%,#393a99 46.6%,#393a99 47.3%,#3a3e9c 47.4%,#3c54ab 47.7%,#3c55ab 47.8%,#3c54ab 48.5%,#393a99 49%,#393a99 49.5%,#3b3f9d 49.8%,#3c55ab 50.1%,#3c55ab 50.2%,#3c55ab 50.9%,#393a99 51.3%,#393a99 51.6%,#393a99 52.2%,#3c55ab 52.7%,#3c54ab 53.6%,#393a99 54%,#393a99 54.3%,#3a3d9c 55%,#3c55ab 55.4%,#3c55ab 56.2%,#393a99 56.8%,#393a99 57.7%,#3c55ab 58.3%,#3c55ab 59.3%,#393a99 59.8%,#393a99 60.5%,#393a99 60.8%,#3c55ab 61.4%,#3c55ab 62.5%,#393a99 63%,#393a99 64.2%,#3c55ab 64.7%,#3c54ab 66%,#393a99 66.5%,#393a99 67.6%,#393a99 67.8%,#3c55ab 68.3%,#3c55ab 69.6%,#393a99 70.3%,#393a99 71%,#3a3b9a 71.7%,#3c55ab 72.4%,#3c54aa 73.8%,#3a3b9a 74.3%,#393a99 74.8%,#393a99 75.9%,#3c55ab 76.6%,#3c55ab 78.1%,#3a3c9b 78.8%,#393a99 79.1%,#393a99 80.5%,#3c55ab 81.3%,#3c55ab 83%,#393a99 83.8%,#3a3b9a 85.6%,#3c55ab 86.5%,#3c55ab 88.3%,#393a99 89.3%,#3a3b9a 91.2%,#3c55ab 92.2%,#3c55ab 94.1%,#393a99 95.1%,#393a99 97.4%,#3c55ab 98.3%,#3c55ab 100%)"></i>
<i style="top:253.22px;height:8.16px;background:repeating-linear-gradient(90deg,rgba(52,118,190,.49) 0 4.5px,transparent 4.5px 13.6px,rgba(52,118,190,.49) 13.6px 18.2px) 0px 0/49.3px 100% no-repeat,repeating-linear-gradient(90deg,transparent 0 .9px,rgba(52,118,190,.34) .9px 3.4px,transparent 3.4px 5.1px) 49.3px 0/53.8px 100% no-repeat,repeating-linear-gradient(90deg,rgba(52,118,190,.27) 0 .7px,transparent .7px 3.6px,rgba(52,118,190,.27) 3.6px 5.9px) 103px 0/52.9px 100% no-repeat,linear-gradient(90deg,#3d51a9 0%,#3c47a3 2.4%,#3b5bae 3.8%,#3d4ba6 4.9%,#3a3b9a 7.4%,#3c53aa 10%,#3c45a2 11.4%,#3c44a1 13.1%,#3b5aae 16.7%,#3c53aa 18.3%,#3960b0 19.5%,#3c5aae 20.5%,#3961b0 21.2%,#3c57ac 21.9%,#2ab0a1 22%,#15a9ba 22.2%,#189dcd 22.3%,#15a1ca 22.5%,#18abb2 22.6%,#3eb396 22.7%,#9cbc6b 23%,#d5b853 23.3%,#efb845 23.6%,#f5b940 23.8%,#f0b844 24.1%,#e0b84d 24.3%,#c3ba5c 24.4%,#97bc6d 24.5%,#59b888 24.7%,#1cacae 24.8%,#199dcd 25%,#3669b4 25.2%,#3963b1 25.4%,#1e97d0 25.9%,#13a3c9 26.1%,#16abb5 26.2%,#2cb09f 26.4%,#7bbc79 26.6%,#b2bb62 26.9%,#d1b955 27.2%,#d4b853 27.3%,#c0ba5d 27.6%,#d3b954 27.8%,#d3b954 27.9%,#c9b959 28%,#a1bc69 28.3%,#5fb886 28.6%,#36b29a 28.7%,#1bacb0 28.9%,#13a5c4 29%,#3174bb 29.1%,#3b5cae 29.6%,#3c55ab 29.8%,#3272ba 30.1%,#1d98d1 30.4%,#12a4c7 30.5%,#16abb5 30.7%,#32b19c 31%,#3fb395 31.2%,#2cb09f 31.7%,#1aacb0 31.9%,#14a2c9 32.2%,#1c99d0 32.4%,#258ccb 32.5%,#3c55ab 32.6%,#393a99 32.9%,#393a99 33.3%,#3a3e9d 33.5%,#3d50a8 33.6%,#3c55ab 33.9%,#3c55ab 34.2%,#393a99 34.4%,#3a3d9b 35%,#3c55ab 35.3%,#3c55ab 35.7%,#393a99 36.1%,#393a99 36.5%,#3d51a9 36.8%,#3c55ab 37.4%,#393a99 37.8%,#3a3c9b 38.4%,#3c55ab 38.6%,#3c55ab 39.2%,#3a3c9b 39.5%,#393a99 39.6%,#3a3c9b 40.2%,#3c55ab 40.4%,#3c55ab 41%,#393a99 41.4%,#393a99 41.6%,#3a3e9c 42.1%,#3c55ab 42.4%,#3c54aa 43.1%,#3a3b9a 43.4%,#393a99 43.5%,#393a99 44.1%,#3c55ab 44.5%,#3c55ab 45.2%,#3a3d9c 45.5%,#393a99 45.7%,#3a3b9a 46.3%,#3c52aa 46.6%,#3c55ab 46.7%,#3c55ab 47.4%,#393a99 47.8%,#393a99 48.1%,#393a99 48.5%,#3c55ab 49%,#3c55ab 49.8%,#393a99 50.2%,#393a99 51%,#3c55ab 51.5%,#3c55ab 52.3%,#3a3d9b 52.7%,#393a99 53.7%,#3c55ab 54.1%,#3c55ab 55.1%,#3a3b9a 55.5%,#393a99 55.6%,#393a99 56.5%,#3c55ab 57%,#3c55ab 58%,#3a3c9b 58.4%,#393a99 58.9%,#393a99 59.6%,#3c55ab 60.1%,#3c55ab 61.1%,#393a99 61.8%,#393a99 62.8%,#3c53aa 63.3%,#3c55ab 64.4%,#3c55ab 64.6%,#393a99 65.1%,#393a99 66.4%,#3c55ab 66.9%,#3c55ab 67.4%,#3c55ab 68.2%,#393a99 68.9%,#393a99 69.3%,#393a99 70.2%,#3c55ab 70.9%,#3c55ab 72.2%,#393a99 72.9%,#393a99 74.3%,#3c55ab 75.2%,#3c55ab 76.6%,#3a3b9a 77.3%,#393a99 78.8%,#3c55ab 79.8%,#3c55ab 81.3%,#393a99 82.1%,#393a99 83.5%,#3a3a99 84%,#3c55ab 84.8%,#3c55ab 86.6%,#393a99 87.6%,#393a99 89.4%,#3c55ab 90.4%,#3c55ab 92.3%,#393a99 93.4%,#3a3a99 95.5%,#3c55ab 96.5%,#3c55ab 98.7%,#393a99 100%)"></i>
<i style="top:260.78px;height:8.16px;background:repeating-linear-gradient(90deg,transparent 0 6.2px,rgba(52,118,190,.39) 6.2px 14.4px,transparent 14.4px 16.4px) 0px 0/49.3px 100% no-repeat,repeating-linear-gradient(90deg,transparent 0 .5px,rgba(52,118,190,.43) .5px 3px,transparent 3px 5px) 49.3px 0/53.8px 100% no-repeat,repeating-linear-gradient(90deg,rgba(52,118,190,.49) 0 1.5px,transparent 1.5px 4.4px,rgba(52,118,190,.49) 4.4px 5.9px) 103px 0/52.9px 100% no-repeat,linear-gradient(90deg,#3b43a0 0%,#3b5daf 1.3%,#3d49a4 2.9%,#3d4aa5 4%,#3b5cae 5.3%,#3d49a4 6.4%,#3c47a3 7.5%,#3767b3 9.2%,#3d49a5 10.7%,#3b43a0 11.7%,#3c47a3 13.8%,#3c59ad 15.2%,#3c44a1 18%,#3a5eaf 20.6%,#3a5eaf 21.2%,#3c54ab 21.3%,#3d51a9 21.8%,#3c59ad 21.9%,#199cce 22%,#13a3c9 22.2%,#1bacaf 22.3%,#42b494 22.5%,#72bb7c 22.6%,#9abc6c 22.7%,#b7ba61 22.9%,#dcb84f 23.2%,#ecb846 23.6%,#dfb84e 23.8%,#c9b959 24%,#a7bc67 24.1%,#74bb7c 24.3%,#31b19c 24.4%,#13a6c1 24.5%,#2191ce 24.7%,#3077bd 24.8%,#3272ba 25%,#2094cf 25.2%,#13a3c9 25.4%,#1aacb0 25.5%,#42b494 25.7%,#78bb7a 25.8%,#ceb957 26.1%,#edb846 26.2%,#fbbc3a 26.4%,#f7e028 26.8%,#f3ef2b 27.3%,#f5e82a 28.2%,#f9d82a 28.5%,#fdbe37 28.7%,#f3b842 28.9%,#d6b852 29%,#15aab8 29.1%,#12a4c8 29.3%,#1c99d0 29.4%,#3768b3 30%,#3b5cae 30.3%,#238ecc 30.7%,#189dcd 30.8%,#14a7c0 31%,#25aea6 31.2%,#31b19c 31.5%,#27afa4 31.9%,#17abb3 32.2%,#14a2c9 32.5%,#3c45a1 32.6%,#3c55ab 32.8%,#3c55ab 33.2%,#3d52a9 33.3%,#3b409e 33.5%,#393a99 33.6%,#393a99 34%,#3c55ab 34.3%,#3c55ab 34.9%,#393a99 35.1%,#3a3d9c 35.7%,#3c55ab 36%,#3c55ab 36.4%,#3c52aa 36.5%,#393a99 36.8%,#393a99 37%,#3a3b9a 37.4%,#3c55ab 37.7%,#3c55ab 38.2%,#3a3c9b 38.5%,#393a99 38.6%,#3a3d9b 39.2%,#3c55ab 39.5%,#3c55ab 40%,#393a99 40.4%,#393a99 40.7%,#393a99 41%,#3c55ab 41.4%,#3c55ab 42%,#393a99 42.4%,#393a99 43%,#3a3c9b 43.1%,#3c55ab 43.4%,#3c55ab 43.5%,#3c55ab 44.1%,#393a99 44.5%,#393a99 45.2%,#3c55ab 45.6%,#3c55ab 46.3%,#393a99 46.7%,#393a99 47.1%,#3b3f9d 47.6%,#3c55ab 47.8%,#3c55ab 48.7%,#393a99 49.1%,#393a99 49.8%,#3a3b9a 49.9%,#3c55ab 50.3%,#3c55ab 51.2%,#393a99 51.6%,#393a99 52.4%,#3c55ab 53%,#3c55ab 53.6%,#3c55ab 53.8%,#393a99 54.4%,#393a99 55.2%,#3c55ab 55.8%,#3c55ab 56.8%,#393a99 57.3%,#393a99 58.3%,#3c53aa 58.7%,#3c55ab 59%,#3c55ab 59.8%,#393a99 60.4%,#393a99 61.5%,#3c55ab 62.1%,#3c55ab 62.3%,#3c55ab 63.2%,#393a99 63.9%,#393a99 65%,#3c55ab 65.6%,#3c55ab 66.8%,#393a99 67.5%,#393a99 68.8%,#3c53aa 69.3%,#3c55ab 69.7%,#3c55ab 70.7%,#393a99 71.5%,#393a99 72.8%,#3c55ab 73.6%,#3c55ab 75%,#393a99 75.9%,#3a3b9a 77.4%,#3c55ab 78.1%,#3c55ab 78.4%,#3c55ab 79.8%,#393a99 80.6%,#393a99 82.3%,#3c55ab 83.1%,#3c55ab 84.9%,#393a99 85.8%,#393a99 87.6%,#3c55ab 88.7%,#3c54ab 90.7%,#393a99 91.6%,#3a3b9a 93.7%,#3c55ab 94.7%,#3c55ab 96.9%,#3a3b9a 97.9%,#393a99 100%)"></i>
<i style="top:268.34px;height:8.16px;background:repeating-linear-gradient(90deg,transparent 0 0px,rgba(52,118,190,.51) 0px 7.5px,transparent 7.5px 14.9px) 0px 0/49.3px 100% no-repeat,repeating-linear-gradient(90deg,transparent 0 .1px,rgba(52,118,190,.46) .1px 2.5px,transparent 2.5px 4.9px) 49.3px 0/53.8px 100% no-repeat,repeating-linear-gradient(90deg,rgba(52,118,190,.45) 0 2.3px,transparent 2.3px 5.3px,rgba(52,118,190,.45) 5.3px 6px) 103px 0/52.9px 100% no-repeat,linear-gradient(90deg,#3a5fb0 0%,#3a5eaf .6%,#3c47a3 2.1%,#3c53aa 3.6%,#3d4ca7 5.4%,#3c53aa 6.8%,#393998 9.2%,#3c45a2 11.2%,#3b5cae 12.8%,#3d50a8 14.1%,#3c57ac 15.2%,#3a3c9b 16.7%,#3d52a9 18.5%,#3c46a3 19.2%,#3a5daf 20.5%,#3c56ac 20.6%,#3b5bae 21.3%,#3c57ac 21.9%,#1cacae 22%,#6fba7e 22.3%,#b0bb64 22.6%,#d1b955 22.9%,#e0b84d 23.3%,#ccb957 23.6%,#b2bb62 23.7%,#8cbc72 23.8%,#54b78a 24%,#1dadad 24.1%,#169fcb 24.3%,#2787c9 24.4%,#2d7dc1 24.5%,#228fcd 24.7%,#15a0cb 24.8%,#17abb3 25%,#40b395 25.1%,#7abc79 25.2%,#d4b853 25.5%,#f3b842 25.7%,#fdbf37 25.8%,#f6e229 26.2%,#f4e92a 26.6%,#f7de28 26.9%,#fabb3b 27.2%,#d2b954 27.3%,#b5bb61 27.5%,#a8bb67 27.6%,#c1ba5d 27.8%,#f6b93f 27.9%,#fdc831 28%,#f5e529 28.3%,#f4e92a 28.6%,#f8dc29 29%,#70ba7e 29.1%,#26afa5 29.6%,#16aab6 29.7%,#12a4c8 29.8%,#1c99d0 30%,#3865b2 30.5%,#3865b2 30.7%,#1e97d1 31.1%,#13a3c9 31.2%,#15a9bb 31.4%,#27afa4 31.8%,#21aea9 32.2%,#16aab6 32.5%,#393a99 32.6%,#3a3d9c 33.2%,#3d4fa8 33.3%,#3c55ab 33.5%,#3c55ab 33.9%,#3a3b9a 34.2%,#393a99 34.3%,#393a99 34.7%,#3c55ab 35%,#3c55ab 35.6%,#393a99 35.8%,#393a99 36.4%,#3c55ab 36.7%,#3c55ab 37.2%,#3a3c9b 37.5%,#393a99 37.7%,#3a3e9c 38.2%,#3c55ab 38.5%,#3c55ab 39.1%,#3a3e9c 39.3%,#393a99 39.7%,#393a99 40%,#3c53aa 40.3%,#3c55ab 40.4%,#3c55ab 41%,#3a3c9b 41.3%,#393a99 41.4%,#393a99 42%,#3c55ab 42.4%,#3c55ab 43%,#3c52aa 43.1%,#393a99 43.4%,#393a99 43.7%,#393a99 44.1%,#3c55ab 44.5%,#3c55ab 45.2%,#393a99 45.6%,#393a99 46.3%,#3c55ab 46.7%,#3c55ab 47.6%,#3b3f9d 47.8%,#393a99 48.1%,#3a3d9c 48.8%,#3c52aa 49.1%,#3c55ab 49.2%,#3c55ab 49.9%,#393a99 50.5%,#393a99 51%,#393a99 51.3%,#3c55ab 51.7%,#3c55ab 52.6%,#393a99 53.1%,#393a99 54%,#3c55ab 54.5%,#3c55ab 55.5%,#3a3b9a 55.9%,#393a99 56.1%,#3a3b9a 57%,#3c55ab 57.5%,#3c55ab 58.6%,#393a99 59.1%,#393a99 60.1%,#3c55ab 60.8%,#3c55ab 61.8%,#3a3c9b 62.3%,#393a99 62.6%,#393a99 63.6%,#3c55ab 64.2%,#3c55ab 64.3%,#3c55ab 65.4%,#3a3b9a 66%,#393a99 66.2%,#3a3b9a 67.4%,#3c55ab 67.9%,#3c55ab 69.3%,#3a3c9b 69.9%,#393a99 70.9%,#3a3b9a 71.4%,#3c55ab 72.1%,#3c55ab 73.5%,#393a99 74.2%,#393a99 74.9%,#393a99 75.7%,#3c55ab 76.6%,#3c55ab 78.1%,#393a99 78.9%,#393a99 80.1%,#393a99 80.6%,#3c55ab 81.5%,#3c55ab 83.3%,#393a99 84.1%,#393a99 85.9%,#3c55ab 86.9%,#3c55ab 88.8%,#3a3b9a 89.7%,#393a99 90.2%,#3a3b9a 91.9%,#3c55ab 92.9%,#3c55ab 95%,#393a99 96.1%,#393a99 98.3%,#3c55ab 99.4%,#3c55ab 100%)"></i>
<i style="top:275.9px;height:8.16px;background:repeating-linear-gradient(90deg,rgba(52,118,190,.44) 0 1.7px,transparent 1.7px 8.6px,rgba(52,118,190,.44) 8.6px 13.7px) 0px 0/49.3px 100% no-repeat,repeating-linear-gradient(90deg,rgba(52,118,190,.44) 0 2.1px,transparent 2.1px 4.5px,rgba(52,118,190,.44) 4.5px 4.8px) 49.3px 0/53.8px 100% no-repeat,repeating-linear-gradient(90deg,transparent 0 0px,rgba(52,118,190,.46) 0px 3.1px,transparent 3.1px 6.1px) 103px 0/52.9px 100% no-repeat,linear-gradient(90deg,#3d51a9 0%,#3767b3 1.1%,#3d4ea7 2.8%,#3c53aa 3.8%,#3d4ca6 5.7%,#3c59ad 7.4%,#3a3c9b 8.6%,#393998 9.2%,#3d4fa8 13.9%,#3d4ea8 14.9%,#393897 16.2%,#3a3d9c 16.6%,#3c52aa 17.2%,#3b5cae 17.7%,#3b43a0 19.1%,#3d4fa8 19.9%,#3c45a2 21.2%,#3d4da7 21.5%,#3c48a4 21.8%,#393a99 21.9%,#68b981 22%,#8cbc72 22.2%,#b8ba60 22.5%,#ccb957 22.7%,#d1b955 23%,#b9ba60 23.3%,#9ebc6a 23.4%,#73bb7c 23.6%,#39b298 23.7%,#15a9ba 23.8%,#1c99d0 24%,#2b81c4 24.1%,#1f94cf 24.3%,#12a5c6 24.4%,#21adaa 24.5%,#8cbc71 24.8%,#bbba5f 25%,#e1b84d 25.1%,#f7ba3e 25.2%,#fdc334 25.4%,#f9d82a 25.7%,#f6e229 26.1%,#f7de28 26.2%,#fdbe37 26.6%,#fad42c 26.9%,#f8dc29 27.2%,#fbd22c 27.5%,#fdbd38 27.8%,#f3b842 27.9%,#b6bb61 28.2%,#b3bb62 28.3%,#ebb846 28.5%,#fdc036 28.6%,#f7dd28 28.9%,#f6e129 29%,#86bc74 29.1%,#72bb7d 29.6%,#61b985 29.7%,#2db09f 30%,#1bacaf 30.1%,#13a6c1 30.3%,#189dcd 30.4%,#2290cd 30.5%,#3767b3 31%,#336fb8 31.1%,#2291cd 31.4%,#13a6c3 31.7%,#20adab 32.1%,#1bacaf 32.5%,#3c55ab 32.6%,#3d52a9 33.1%,#393a99 33.3%,#393a99 33.8%,#3c53aa 34%,#3c55ab 34.2%,#3c55ab 34.6%,#393a99 34.9%,#393a99 35.4%,#3c55ab 35.7%,#3c55ab 36.3%,#3a3c9b 36.5%,#393a99 36.7%,#393a99 37.1%,#3c55ab 37.5%,#3c55ab 38.1%,#3a3b9a 38.4%,#393a99 38.5%,#3a3c9b 39.1%,#3c55ab 39.3%,#3d52a9 40%,#393a99 40.3%,#3a3c9b 41%,#3c55ab 41.3%,#3c55ab 42%,#3a3e9c 42.3%,#393a99 42.4%,#3a3e9c 43.1%,#3c55ab 43.4%,#3c55ab 44.1%,#393a99 44.5%,#393a99 45.2%,#3c55ab 45.6%,#3c53aa 46.4%,#3a3d9c 46.7%,#393a99 46.9%,#393a99 47.6%,#3c55ab 48%,#3c55ab 48.8%,#393a99 49.2%,#393a99 50.1%,#3c55ab 50.6%,#3c55ab 51.5%,#393a99 51.9%,#3a3c9b 52.9%,#3c55ab 53.3%,#3c55ab 54.3%,#3a3b9a 54.7%,#393a99 55.1%,#3a3d9c 55.8%,#3c55ab 56.2%,#3c55ab 57%,#3c52aa 57.3%,#393a99 57.7%,#393a99 58.9%,#3d52a9 59.3%,#3c55ab 59.7%,#3c55ab 60.5%,#393a99 61.1%,#393a99 62.2%,#3c55ab 62.8%,#3c55ab 62.9%,#3c55ab 64%,#393a99 64.6%,#393a99 65.8%,#3c55ab 66.5%,#3c55ab 67.8%,#393a99 68.6%,#393a99 69.9%,#3c55ab 70.6%,#3c55ab 72%,#393a99 72.7%,#393a99 74.2%,#3c55ab 74.9%,#3c55ab 75.6%,#3c55ab 76.6%,#393a99 77.4%,#393a99 78.9%,#3c55ab 79.8%,#3c55ab 80.2%,#3c54ab 81.6%,#393a99 82.4%,#393a99 84.2%,#3c55ab 85.1%,#3c55ab 85.4%,#3c55ab 87%,#393a99 88%,#393a99 90%,#3c55ab 91.1%,#3c55ab 93.2%,#393a99 94.1%,#393a99 96.4%,#3c55ab 97.5%,#3c55ab 100%)"></i>
<i style="top:283.46px;height:8.16px;background:repeating-linear-gradient(90deg,transparent 0 3.2px,rgba(52,118,190,.51) 3.2px 9.5px,transparent 9.5px 12.7px) 0px 0/49.3px 100% no-repeat,repeating-linear-gradient(90deg,rgba(52,118,190,.35) 0 1.7px,transparent 1.7px 4.1px,rgba(52,118,190,.35) 4.1px 4.7px) 49.3px 0/53.8px 100% no-repeat,repeating-linear-gradient(90deg,transparent 0 .8px,rgba(52,118,190,.27) .8px 3.9px,transparent 3.9px 6.2px) 103px 0/52.9px 100% no-repeat,linear-gradient(90deg,#3c57ac 0%,#3961b0 1.1%,#3c47a3 2.8%,#3c46a3 3.3%,#3b5bae 5%,#3b5bae 7.5%,#3c46a2 8.8%,#393a99 11.2%,#3c46a3 12.3%,#3c47a3 13.8%,#3c54aa 15.5%,#3d4ca6 16.6%,#3d52a9 17.4%,#3b429f 18.5%,#3d52a9 19.1%,#3c59ad 19.9%,#3d4ba6 20.5%,#3c54aa 20.6%,#3b42a0 21.3%,#3b419f 21.9%,#9bbc6c 22%,#b8ba60 22.3%,#c4ba5b 22.6%,#baba5f 22.9%,#a8bb66 23%,#8abc72 23.2%,#27afa4 23.4%,#13a6c3 23.6%,#2092ce 23.7%,#2093ce 23.8%,#12a4c8 24%,#1fadab 24.1%,#8abc72 24.4%,#b8ba60 24.5%,#deb84e 24.7%,#f5b940 24.8%,#fdbf37 25%,#f9d82a 25.5%,#f9d82a 25.7%,#fdc632 25.9%,#f8bb3d 26.1%,#d9b851 26.2%,#a6bc67 26.4%,#dbb850 26.6%,#f5b940 26.9%,#f7ba3e 27.3%,#e9b848 27.6%,#d8b851 27.8%,#a2bc69 28%,#29afa2 28.5%,#2eb09e 28.6%,#8abc72 28.7%,#ccb957 28.9%,#f5b940 29%,#5cb887 29.1%,#79bc79 29.4%,#73bb7c 29.8%,#5ab888 30.1%,#45b492 30.3%,#19acb1 30.5%,#13a6c2 30.7%,#199cce 30.8%,#228fcd 31%,#356bb6 31.4%,#1c99d0 31.8%,#13a3c9 31.9%,#16aab6 32.2%,#1aacb0 32.5%,#393a99 32.6%,#3a3e9d 32.9%,#3d4fa8 33.1%,#3c55ab 33.2%,#3c55ab 33.6%,#3a3c9b 33.9%,#393a99 34%,#393a99 34.4%,#3c54ab 34.7%,#3c55ab 34.9%,#3c55ab 35.3%,#3a3c9b 35.6%,#393a99 35.7%,#393a99 36.1%,#3c55ab 36.5%,#3c55ab 36.8%,#3c55ab 37.1%,#393a99 37.4%,#393a99 37.9%,#3c55ab 38.4%,#3c55ab 38.9%,#393a99 39.3%,#393a99 39.9%,#3c55ab 40.3%,#3c55ab 40.7%,#3d4fa8 41%,#393a99 41.3%,#3a3b9a 42%,#3c53aa 42.3%,#3c55ab 42.4%,#3c55ab 43%,#393a99 43.4%,#393a99 44.1%,#3c55ab 44.5%,#3c55ab 45.2%,#3d52a9 45.3%,#3a3b9a 45.6%,#393a99 45.7%,#393a99 46.4%,#3c55ab 46.9%,#3c55ab 47%,#3c54aa 47.7%,#393a99 48.1%,#393a99 48.8%,#3a3b9a 49%,#3c55ab 49.4%,#3c55ab 50.2%,#3a3b9a 50.6%,#393a99 50.8%,#3a3a99 51.6%,#3c55ab 52%,#3c55ab 52.2%,#3c55ab 53%,#3a3a99 53.4%,#393a99 53.6%,#393a99 54.4%,#3c55ab 55%,#3c55ab 55.9%,#393a99 56.5%,#393a99 57.5%,#3c55ab 58%,#3c55ab 59.1%,#393a99 59.7%,#393a99 60.8%,#3c55ab 61.4%,#3c55ab 61.5%,#3c55ab 62.6%,#393a99 63.2%,#393a99 64.4%,#3c54ab 65%,#3c55ab 65.6%,#3c55ab 66.4%,#393a99 67.1%,#393a99 68.3%,#3d52a9 68.9%,#3c55ab 69.2%,#3c55ab 70.4%,#393a99 71.1%,#393a99 72.7%,#3c55ab 73.4%,#3c55ab 74.2%,#3c55ab 74.9%,#393a99 75.7%,#393a99 77.3%,#3c55ab 78.1%,#3c55ab 79.4%,#3c53aa 79.9%,#393a99 80.8%,#393a99 82.4%,#3c55ab 83.4%,#3c55ab 85.2%,#393a99 86.2%,#393a99 88.1%,#3c55ab 89.1%,#3c55ab 91.2%,#393a99 92.3%,#393a99 94.6%,#3c54ab 95.5%,#3c55ab 97.9%,#3a3b9a 99%,#393a99 100%)"></i>
<i style="top:291.02px;height:8.16px;background:repeating-linear-gradient(90deg,rgba(52,118,190,.31) 0 4.4px,transparent 4.4px 10.3px,rgba(52,118,190,.31) 10.3px 11.8px) 0px 0/49.3px 100% no-repeat,repeating-linear-gradient(90deg,rgba(52,118,190,.31) 0 1.3px,transparent 1.3px 3.6px,rgba(52,118,190,.31) 3.6px 4.6px) 49.3px 0/53.8px 100% no-repeat,repeating-linear-gradient(90deg,transparent 0 1.6px,rgba(52,118,190,.35) 1.6px 4.8px,transparent 4.8px 6.3px) 103px 0/52.9px 100% no-repeat,linear-gradient(90deg,#3d4ea8 0%,#3d50a8 1.1%,#3b429f 2.4%,#3c52aa 3.8%,#3b409e 5%,#3b3f9d 5.7%,#3c58ad 7.8%,#3c44a1 11.2%,#3c55ab 12.4%,#3d50a9 13.8%,#3c57ac 14.4%,#3c48a4 15.6%,#3c55ab 16.7%,#3c47a3 18.7%,#3d51a9 19.2%,#3d4ca7 19.4%,#3962b1 20.2%,#3c59ad 20.9%,#3d51a9 21.2%,#3b419f 21.3%,#3a3b9a 21.8%,#3d4aa5 21.9%,#abbb65 22%,#b6bb61 22.3%,#abbb65 22.6%,#98bc6d 22.7%,#78bc7a 22.9%,#1eadad 23.2%,#14a2c9 23.3%,#238ecc 23.4%,#169fcc 23.6%,#16abb4 23.7%,#3fb395 23.8%,#a9bb66 24.1%,#d0b955 24.3%,#edb846 24.4%,#fdc135 24.7%,#fcce2e 25.1%,#fdbe37 25.5%,#f1b843 25.7%,#c9b959 25.8%,#8cbc72 25.9%,#38b299 26.1%,#12a4c7 26.2%,#15a1ca 26.4%,#15a9b9 26.6%,#22aea9 27.1%,#17abb3 27.6%,#13a5c4 27.9%,#1c99d0 28.2%,#2d7cc1 28.6%,#2c7ec2 28.7%,#189ecd 28.9%,#26afa5 29%,#14a1ca 29.1%,#16abb4 29.3%,#4db68e 29.6%,#62b984 29.7%,#6eba7e 30%,#5cb887 30.4%,#38b299 30.7%,#15aab7 31%,#12a4c8 31.1%,#1c99d0 31.2%,#346fb8 31.7%,#1f95d0 32.1%,#13a5c4 32.4%,#14a8bc 32.5%,#3c55ab 32.6%,#393a99 33.1%,#393a99 33.5%,#3c53aa 33.8%,#3c55ab 33.9%,#3c55ab 34.3%,#3a3c9b 34.6%,#393a99 34.7%,#393a99 35.1%,#3c55ab 35.6%,#3c52aa 36.1%,#393a99 36.4%,#393a99 37%,#3c53aa 37.2%,#3c55ab 37.4%,#3c54ab 37.9%,#393a99 38.2%,#3a3d9b 38.9%,#3c55ab 39.2%,#3c54aa 39.9%,#393a99 40.2%,#393a99 40.3%,#393a99 40.9%,#3c55ab 41.3%,#3c52aa 42%,#393a99 42.3%,#393a99 42.4%,#393a99 43%,#3c55ab 43.4%,#3c55ab 44.1%,#393a99 44.5%,#3a3b9a 45.3%,#3c55ab 45.7%,#3c55ab 46.4%,#3a3b9a 46.9%,#393a99 47%,#393a99 47.7%,#3c55ab 48.1%,#3c55ab 48.3%,#3c55ab 49%,#393a99 49.5%,#393a99 50.3%,#3c55ab 50.8%,#3c55ab 50.9%,#3c55ab 51.7%,#393a99 52.2%,#393a99 53.1%,#3c55ab 53.7%,#3c54ab 54.7%,#3a3b9a 55.1%,#393a99 55.2%,#3a3a99 56.2%,#3c55ab 56.8%,#3c55ab 57.7%,#393a99 58.3%,#393a99 59.4%,#3c55ab 60%,#3c55ab 60.1%,#3c54ab 61.2%,#393a99 61.8%,#3a3b9a 63%,#3c55ab 63.6%,#3c55ab 64.9%,#393a99 65.6%,#393a99 66.8%,#3c55ab 67.5%,#3c55ab 68.9%,#393a99 69.6%,#393a99 71%,#3c55ab 71.8%,#3c54ab 73.4%,#393a99 74.1%,#3a3b9a 75.7%,#3c55ab 76.4%,#3c55ab 78.1%,#393a99 78.9%,#393a99 80.8%,#3c55ab 81.6%,#3c54ab 83.5%,#393a99 84.4%,#393a99 86.3%,#3c55ab 87.3%,#3c55ab 89.4%,#393a99 90.4%,#393a99 92.6%,#3c55ab 93.7%,#3c55ab 96%,#393a99 97.1%,#393a99 99.6%,#3b43a0 100%)"></i>
<i style="top:298.58px;height:8.16px;background:repeating-linear-gradient(90deg,transparent 0 5.5px,rgba(52,118,190,.47) 5.5px 11px,transparent 11px 11px) 0px 0/49.3px 100% no-repeat,repeating-linear-gradient(90deg,rgba(52,118,190,.27) 0 .9px,transparent .9px 3.2px,rgba(52,118,190,.27) 3.2px 4.6px) 49.3px 0/53.8px 100% no-repeat,repeating-linear-gradient(90deg,transparent 0 2.5px,rgba(52,118,190,.37) 2.5px 5.7px,transparent 5.7px 6.4px) 103px 0/52.9px 100% no-repeat,linear-gradient(90deg,#3d4aa5 0%,#3c45a1 .4%,#3c54ab 1.7%,#3c44a1 3.8%,#3b5bae 6.4%,#3c45a2 7.7%,#3c53aa 8.8%,#3b5bae 10.7%,#3d4da7 12.4%,#3d50a8 14.2%,#3c45a2 17%,#3b5cae 18.3%,#3c58ac 19.1%,#3b5cae 19.9%,#3864b2 20.1%,#3961b0 20.5%,#3c53aa 20.6%,#3d50a8 20.8%,#3d4ea8 21.2%,#3c55ab 21.3%,#3d4fa8 21.9%,#a9bb66 22%,#9dbc6b 22.3%,#89bc73 22.5%,#69ba81 22.6%,#17abb3 22.9%,#179fcc 23%,#1d98d1 23.2%,#13a6c2 23.3%,#26afa4 23.4%,#90bc70 23.7%,#baba60 23.8%,#dbb850 24%,#f1b843 24.1%,#fdbf37 24.4%,#fdc533 24.7%,#fdc235 25%,#fabb3b 25.1%,#ebb847 25.2%,#c4ba5b 25.4%,#8bbc72 25.5%,#3cb397 25.7%,#13a6c2 25.8%,#258ccb 25.9%,#346fb8 26.1%,#3b5bae 26.2%,#3767b3 27.3%,#3d4fa8 28.7%,#3c56ab 28.9%,#3668b4 29%,#3767b3 29.1%,#2290cd 29.4%,#14a1ca 29.6%,#16abb5 29.7%,#44b493 30%,#5fb885 30.3%,#5db886 30.5%,#4cb58f 30.8%,#1aacb1 31.2%,#14a7c0 31.4%,#179ecc 31.5%,#2192ce 31.7%,#3176bc 31.9%,#3175bc 32.1%,#2192ce 32.4%,#199cce 32.5%,#3b419f 32.6%,#3d51a9 32.8%,#3c55ab 33.3%,#3a3c9b 33.6%,#393a99 33.8%,#393a99 34.2%,#3c52aa 34.4%,#3c55ab 34.6%,#3c55ab 35%,#393a99 35.4%,#3a3b9a 36%,#3c55ab 36.3%,#3c55ab 36.8%,#3b419e 37.1%,#393a99 37.4%,#393a99 37.8%,#3d51a9 38.1%,#3c55ab 38.2%,#3c55ab 38.8%,#3a3e9d 39.1%,#393a99 39.3%,#393a99 39.7%,#3c55ab 40.2%,#3c54aa 40.9%,#3a3b9a 41.1%,#393a99 41.6%,#393a99 41.8%,#3c55ab 42.3%,#3c55ab 43%,#393a99 43.4%,#393a99 44.1%,#3c54ab 44.5%,#3c55ab 45.3%,#393a99 45.7%,#393a99 46.2%,#3a3c9b 46.6%,#3c55ab 47%,#3c54aa 47.8%,#393a99 48.3%,#393a99 49.1%,#3c54ab 49.5%,#3c55ab 49.8%,#3c55ab 50.5%,#393a99 50.9%,#393a99 51.9%,#3c54ab 52.3%,#3c55ab 52.4%,#3c55ab 53.3%,#393a99 53.8%,#393a99 54.8%,#3c55ab 55.4%,#3c53aa 56.5%,#3a3b9a 56.9%,#393a99 58%,#3c55ab 58.6%,#3c55ab 58.7%,#3c55ab 59.7%,#3a3d9c 60.3%,#393a99 60.8%,#393a99 61.5%,#3c55ab 62.2%,#3c54aa 63.5%,#393a99 64%,#393a99 64.7%,#3a3c9b 65.4%,#3c55ab 66%,#3c55ab 67.4%,#393a99 68.1%,#393a99 68.5%,#393a99 69.5%,#3c55ab 70.2%,#3c55ab 71.7%,#393a99 72.5%,#3a3b9a 74.1%,#3c55ab 74.8%,#3c55ab 75.2%,#3c55ab 76.4%,#393a99 77.3%,#3a3b9a 79.1%,#3c55ab 79.9%,#3c55ab 81.7%,#393a99 82.6%,#393a99 84.5%,#3c55ab 85.5%,#3c54ab 87.6%,#393a99 88.6%,#393a99 90.7%,#3c55ab 91.8%,#3c55ab 94%,#393a99 95.1%,#393a99 97.5%,#3c55ab 98.7%,#3c55ab 100%)"></i>
<i style="top:306.14px;height:8.16px;background:repeating-linear-gradient(90deg,transparent 0 1.3px,rgba(52,118,190,.47) 1.3px 6.5px,transparent 6.5px 10.4px) 0px 0/49.3px 100% no-repeat,repeating-linear-gradient(90deg,rgba(52,118,190,.32) 0 .6px,transparent .6px 2.8px,rgba(52,118,190,.32) 2.8px 4.5px) 49.3px 0/53.8px 100% no-repeat,repeating-linear-gradient(90deg,rgba(52,118,190,.27) 0 .1px,transparent .1px 3.3px,rgba(52,118,190,.27) 3.3px 6.6px) 103px 0/52.9px 100% no-repeat,linear-gradient(90deg,#3d4da7 0%,#3c5aad 1.7%,#3c44a1 3.8%,#3d49a5 5%,#36308f 7.4%,#3d4ea7 8.8%,#3c47a3 9.9%,#3c53aa 11.3%,#3b43a0 13.2%,#3d51a9 14.4%,#3d4ca7 15.6%,#3b5bae 16.7%,#3c54aa 17.4%,#3b5cae 18.7%,#3d51a9 19.2%,#3c5aad 19.4%,#3c55ab 20.8%,#3c59ad 21.2%,#3864b2 21.3%,#3a60b0 21.8%,#3d4fa8 21.9%,#90bc70 22%,#7cbc78 22.2%,#5bb887 22.3%,#2fb09e 22.5%,#15a9b8 22.6%,#199dcd 22.7%,#189ecd 22.9%,#15aab7 23%,#36b29a 23.2%,#9dbc6b 23.4%,#ddb84f 23.7%,#efb844 23.8%,#f7ba3e 24%,#fdbe37 24.4%,#f7ba3e 24.7%,#e8b848 24.8%,#c6b95a 25%,#93bc6f 25.1%,#4cb68e 25.2%,#15aab8 25.4%,#1f95d0 25.5%,#3961b0 25.8%,#3d4ca7 26.1%,#3c57ac 26.9%,#3c45a2 27.6%,#3c57ac 28.3%,#3c48a4 29.1%,#3b5daf 29.4%,#1f94cf 29.8%,#12a3c8 30%,#16abb4 30.1%,#3eb396 30.4%,#4db68e 30.5%,#52b68c 30.8%,#45b492 31.1%,#29afa2 31.4%,#14a8bc 31.7%,#1e97d1 31.9%,#3273ba 32.4%,#2a81c4 32.5%,#3a3c9b 32.6%,#393a99 32.8%,#393a99 33.2%,#3c54aa 33.5%,#3c55ab 33.6%,#3c55ab 34%,#3a3d9c 34.3%,#393a99 34.4%,#393a99 34.9%,#3c55ab 35.3%,#3c55ab 35.8%,#3a3b9a 36.1%,#393a99 36.3%,#3a3d9c 36.8%,#3c55ab 37.1%,#3c55ab 37.7%,#393a99 38.1%,#3a3e9c 38.8%,#3c55ab 39.1%,#3c55ab 39.7%,#3a3c9b 40%,#393a99 40.2%,#393a99 40.7%,#3c55ab 41.1%,#3c55ab 41.8%,#393a99 42.3%,#393a99 43%,#3c55ab 43.4%,#3c55ab 44.1%,#3a3c9b 44.5%,#393a99 44.6%,#393a99 45.3%,#3c55ab 45.7%,#3c55ab 46.6%,#393a99 47%,#393a99 47.8%,#3c54aa 48.3%,#3c55ab 48.4%,#3c55ab 49.2%,#393a99 49.7%,#3a3b9a 50.6%,#3c55ab 51%,#3c55ab 52%,#393a99 52.6%,#3a3b9a 53.6%,#3c54ab 54%,#3c55ab 54.1%,#3c55ab 55.1%,#393a99 55.6%,#393a99 56.6%,#3c55ab 57.3%,#3c55ab 58.3%,#393a99 59%,#393a99 60.1%,#3c55ab 60.7%,#3c55ab 61.9%,#393a99 62.6%,#3a3b9a 63.9%,#3c55ab 64.6%,#3c55ab 65.8%,#393a99 66.5%,#393a99 67.9%,#3c55ab 68.6%,#3c55ab 70%,#393a99 70.9%,#393a99 72.4%,#3c55ab 73.2%,#3c55ab 74.8%,#393a99 75.6%,#393a99 77.3%,#3c55ab 78.1%,#3c55ab 79.9%,#393a99 80.9%,#393a99 82.7%,#3c55ab 83.7%,#3c55ab 85.6%,#393a99 86.6%,#393a99 88.7%,#3c55ab 89.8%,#3c55ab 92.1%,#393a99 93.2%,#393a99 95.5%,#3c55ab 96.7%,#3c55ab 99.2%,#3b43a0 100%)"></i>
<i style="top:313.7px;height:8.16px;background:repeating-linear-gradient(90deg,rgba(52,118,190,.32) 0 2.4px,transparent 2.4px 7.3px,rgba(52,118,190,.32) 7.3px 9.8px) 0px 0/49.3px 100% no-repeat,repeating-linear-gradient(90deg,rgba(52,118,190,.27) 0 .2px,transparent .2px 2.5px,rgba(52,118,190,.27) 2.5px 4.6px) 49.3px 0/53.8px 100% no-repeat,repeating-linear-gradient(90deg,rgba(52,118,190,.47) 0 .9px,transparent .9px 4.2px,rgba(52,118,190,.47) 4.2px 6.7px) 103px 0/52.9px 100% no-repeat,linear-gradient(90deg,#3d4da7 0%,#3d51a9 1.1%,#3a3c9b 2.5%,#393897 4.5%,#3d4ca6 5.9%,#3c44a1 7.4%,#3c55ab 8.6%,#3c59ad 9.8%,#3c54aa 11.3%,#3a3d9c 12.8%,#3c54aa 14.2%,#3c47a3 14.9%,#3d4ea8 16.2%,#3a3e9d 17.3%,#3d4ca6 18%,#3c46a2 18.1%,#3d50a8 19.4%,#3d4ea7 19.9%,#3b409e 20.1%,#3a3d9c 20.5%,#3d49a5 20.6%,#3d4aa5 20.9%,#3d49a4 21.2%,#3b3f9d 21.3%,#3d49a4 21.9%,#50b68d 22%,#28afa2 22.2%,#14a8bc 22.3%,#1a9bcf 22.5%,#14a2c9 22.6%,#1aacb0 22.7%,#43b493 22.9%,#77bb7a 23%,#a1bc69 23.2%,#dab850 23.4%,#f3b842 23.7%,#f8ba3d 24%,#f4b941 24.3%,#e7b849 24.4%,#cbb958 24.5%,#a0bc6a 24.7%,#63b984 24.8%,#21adaa 25%,#179fcc 25.1%,#2984c6 25.2%,#366ab5 25.4%,#3c59ad 25.5%,#3669b4 25.8%,#1d98d1 26.4%,#15a1ca 26.5%,#18abb2 26.8%,#2bb0a0 27.1%,#2cb09f 27.2%,#24aea7 27.3%,#14a7be 27.5%,#12a4c7 27.6%,#1fadab 27.8%,#2bb0a0 27.9%,#2cb09f 28%,#1bacaf 28.3%,#13a3c9 28.6%,#1b9ad0 28.7%,#2a82c5 29%,#3a5fb0 29.1%,#3d4fa8 29.6%,#3863b1 29.8%,#1b9ad0 30.3%,#13a6c4 30.4%,#28afa2 30.7%,#43b493 31%,#42b494 31.2%,#32b19c 31.5%,#15a9bb 31.9%,#13a3c9 32.1%,#1c9ad0 32.2%,#2c7fc2 32.5%,#3c55ab 32.6%,#3c55ab 33.1%,#3a3a99 33.3%,#393a99 33.5%,#393a99 33.9%,#3d52a9 34.2%,#3c55ab 34.3%,#3d52a9 34.9%,#393a99 35.1%,#393a99 35.7%,#3c52aa 36%,#3c55ab 36.1%,#3c55ab 36.7%,#3a3a99 37%,#3a3b9a 37.7%,#3c55ab 37.9%,#3c55ab 38.2%,#3c55ab 38.6%,#3a3d9c 38.9%,#393a99 39.1%,#393a99 39.6%,#3c55ab 40%,#3c55ab 40.2%,#3c55ab 40.7%,#393a99 41.1%,#393a99 41.8%,#3c55ab 42.3%,#3c55ab 43%,#393a99 43.4%,#3a3d9c 44.2%,#3c53aa 44.5%,#3c55ab 44.6%,#3c55ab 45.3%,#3a3b9a 45.7%,#393a99 46.6%,#3c53aa 47%,#3c55ab 47.7%,#3c55ab 48%,#393a99 48.4%,#393a99 49.2%,#3c55ab 49.8%,#3c55ab 50.1%,#3c54aa 50.8%,#393a99 51.2%,#393a99 52.2%,#3c55ab 52.7%,#3c55ab 53.7%,#393a99 54.3%,#393a99 55.2%,#3c55ab 55.9%,#3c55ab 56.9%,#3a3a99 57.5%,#393a99 57.6%,#3a3b9a 58.7%,#3c55ab 59.3%,#3c55ab 60.4%,#3a3e9c 60.9%,#393a99 61.4%,#393a99 62.3%,#3c55ab 63%,#3c55ab 64.3%,#393a99 65%,#393a99 66.2%,#3c54aa 66.9%,#3c55ab 67.9%,#3c55ab 68.5%,#393a99 69.2%,#393a99 70.7%,#3c54ab 71.4%,#3c55ab 72.5%,#3c55ab 73.1%,#393a99 73.9%,#3a3b9a 75.6%,#3c55ab 76.4%,#3c55ab 78.1%,#393a99 79.1%,#393a99 80.9%,#3c54ab 81.7%,#3c55ab 82.8%,#3c55ab 83.8%,#393a99 84.8%,#3a3b9a 86.9%,#3c55ab 88%,#3c55ab 90.1%,#393a99 91.1%,#393a99 91.5%,#393a99 93.4%,#3c55ab 94.6%,#3c55ab 97.1%,#393a99 98.3%,#393a99 100%)"></i>
<i style="top:321.26px;height:8.16px;background:repeating-linear-gradient(90deg,transparent 0 3.5px,rgba(52,118,190,.3) 3.5px 8.1px,transparent 8.1px 9.2px) 0px 0/49.3px 100% no-repeat,repeating-linear-gradient(90deg,transparent 0 2.2px,rgba(52,118,190,.3) 2.2px 4.5px,transparent 4.5px 4.6px) 49.3px 0/53.8px 100% no-repeat,repeating-linear-gradient(90deg,rgba(52,118,190,.47) 0 1.8px,transparent 1.8px 5.2px,rgba(52,118,190,.47) 5.2px 6.8px) 103px 0/52.9px 100% no-repeat,linear-gradient(90deg,#3d4fa8 0%,#3d51a9 2.1%,#3c48a4 3.3%,#3d4ca7 4.6%,#362f8e 6.3%,#3b429f 7.5%,#3a3b9a 8.9%,#3c55ab 11.9%,#3c44a1 16.2%,#3c57ac 17.3%,#3c52aa 18.5%,#3c54ab 18.7%,#3960b0 18.8%,#3962b1 19.1%,#3d4ca7 19.9%,#3d4aa6 21.2%,#3a3d9c 21.3%,#393897 21.8%,#3c47a3 21.9%,#14a7be 22%,#1b9acf 22.2%,#12a4c7 22.3%,#1eadac 22.5%,#79bc79 22.7%,#beba5e 23%,#e1b84c 23.3%,#f2b843 23.7%,#e4b84b 24%,#cfb956 24.1%,#adbb65 24.3%,#7bbc78 24.4%,#37b299 24.5%,#14a7bf 24.7%,#2092ce 24.8%,#3077bd 25%,#3668b4 25.1%,#1e96d0 25.5%,#12a4c8 25.7%,#1bacb0 25.8%,#3fb395 25.9%,#71bb7d 26.1%,#c3ba5c 26.4%,#e2b84c 26.5%,#f6b93f 26.6%,#fdbf36 26.8%,#fad52b 27.1%,#f5e529 27.5%,#f7df28 27.9%,#fdc235 28.3%,#f8bb3d 28.5%,#e8b848 28.6%,#a8bb67 28.9%,#7dbc77 29%,#1c99d0 29.1%,#3174bb 29.6%,#3c59ad 30%,#3b5daf 30.1%,#2290cd 30.5%,#179fcc 30.7%,#14a8be 30.8%,#28afa3 31.1%,#37b299 31.4%,#35b29a 31.5%,#23aea7 31.9%,#12a3c8 32.4%,#1b9acf 32.5%,#393a99 32.6%,#393a99 32.9%,#3c55ab 33.2%,#3c55ab 33.8%,#3a3d9c 34%,#393a99 34.2%,#3a3d9c 34.7%,#3c55ab 35%,#3c55ab 35.6%,#393a99 36%,#393a99 36.5%,#3c52aa 36.8%,#3c55ab 37%,#3c55ab 37.5%,#393a99 37.9%,#393a99 38.5%,#3c55ab 38.9%,#3c55ab 39.6%,#3a3d9c 39.9%,#393a99 40%,#3a3c9b 40.7%,#3c54aa 41%,#3c55ab 41.1%,#3c54aa 41.8%,#3a3d9c 42.1%,#393a99 42.3%,#393a99 43%,#3c55ab 43.4%,#3c53aa 44.2%,#393a99 44.6%,#393a99 45.3%,#3c55ab 45.9%,#3c54ab 46.7%,#393a99 47.1%,#393a99 48%,#3c55ab 48.5%,#3c55ab 49.1%,#3c55ab 49.4%,#393a99 49.9%,#3a3c9b 50.9%,#3c55ab 51.3%,#3c55ab 51.5%,#3c55ab 52.3%,#393a99 52.9%,#3a3c9b 54%,#3c55ab 54.4%,#3c55ab 55.5%,#393a99 56.1%,#393a99 57.2%,#3c54ab 57.7%,#3c55ab 58.2%,#3c55ab 59%,#393a99 59.6%,#393a99 60.8%,#3c53aa 61.4%,#3c55ab 61.6%,#3c55ab 62.8%,#393a99 63.5%,#393a99 64.7%,#3c55ab 65.4%,#3c55ab 66.8%,#393a99 67.6%,#393a99 69%,#3c54ab 69.7%,#3c55ab 70.3%,#3c55ab 71.4%,#393a99 72.2%,#393a99 73.8%,#3c55ab 74.6%,#3c54ab 76.4%,#393a99 77.3%,#393a99 79.1%,#3c55ab 80.1%,#3c55ab 81.9%,#393a99 82.8%,#393a99 84.9%,#3c53aa 85.8%,#3c55ab 86.5%,#3c54ab 88.1%,#393a99 89.1%,#3a3b9a 91.5%,#3c55ab 92.6%,#3c55ab 95%,#393a99 96.2%,#393a99 98.7%,#3c55ab 100%)"></i>
<i style="top:328.81px;height:8.16px;background:repeating-linear-gradient(90deg,transparent 0 0px,rgba(52,118,190,.47) 0px 4.4px,transparent 4.4px 8.7px) 0px 0/49.3px 100% no-repeat,repeating-linear-gradient(90deg,transparent 0 1.9px,rgba(52,118,190,.41) 1.9px 4.2px,transparent 4.2px 4.7px) 49.3px 0/53.8px 100% no-repeat,repeating-linear-gradient(90deg,rgba(52,118,190,.5) 0 2.7px,transparent 2.7px 6.1px,rgba(52,118,190,.5) 6.1px 6.9px) 103px 0/52.9px 100% no-repeat,linear-gradient(90deg,#3d4ca7 0%,#3b429f 1.5%,#3d4fa8 2.8%,#3a3d9c 4.3%,#3d50a9 5.6%,#3c45a2 7%,#3c58ac 8.2%,#3c56ac 10%,#3a3b9a 11.3%,#3d4ba6 12.7%,#393897 14.1%,#3b5daf 16.3%,#3c55ab 17.3%,#3c47a3 17.6%,#3b3f9d 18%,#3c53aa 19.2%,#3d4da7 19.4%,#3d51a9 19.9%,#3a5fb0 20.1%,#3962b1 20.5%,#3c54ab 20.6%,#3c55ab 21.2%,#3a60b0 21.3%,#3c59ad 21.8%,#3d4fa8 21.9%,#13a5c5 22%,#20adab 22.2%,#77bb7a 22.5%,#b7ba61 22.7%,#d7b852 23%,#e5b84a 23.4%,#d1b955 23.7%,#b8ba60 23.8%,#91bc70 24%,#59b788 24.1%,#1fadab 24.3%,#16a0cb 24.4%,#2788c9 24.5%,#3175bc 24.7%,#1d98d1 25%,#13a6c2 25.1%,#24aea7 25.2%,#8dbc71 25.5%,#baba5f 25.7%,#e0b84d 25.8%,#f7ba3e 25.9%,#fdc334 26.1%,#f7dd28 26.4%,#f4ec2a 26.8%,#f6e329 27.2%,#fdc135 27.5%,#fcbd39 27.6%,#f6e028 27.9%,#f4ec2a 28.2%,#f5e629 28.6%,#fdc732 29%,#4ab590 29.1%,#2cb09f 29.3%,#1aacb0 29.4%,#13a6c1 29.6%,#189dcd 29.7%,#2191ce 29.8%,#3960b0 30.4%,#3865b2 30.5%,#1d98d1 31%,#12a4c8 31.1%,#15a9b9 31.2%,#26afa4 31.5%,#2ab0a1 31.8%,#1fadac 32.2%,#14a8be 32.5%,#3c55ab 32.6%,#3c54ab 32.8%,#393a99 33.1%,#393a99 33.6%,#3c53aa 33.9%,#3c55ab 34%,#3d52a9 34.6%,#393a99 34.9%,#393a99 35%,#393a99 35.4%,#3c55ab 35.8%,#3c55ab 36.4%,#393a99 36.8%,#393a99 37.4%,#3c55ab 37.8%,#3c54ab 38.5%,#3a3c9b 38.8%,#393a99 38.9%,#393a99 39.5%,#3c55ab 39.9%,#3c55ab 40.6%,#393a99 41%,#393a99 41.1%,#393a99 41.7%,#3c55ab 42.1%,#3c55ab 42.3%,#3c55ab 43%,#393a99 43.4%,#3a3c9b 44.2%,#3c55ab 44.6%,#3c55ab 45.3%,#3c54ab 45.5%,#393a99 45.9%,#393a99 46.2%,#393a99 46.7%,#3c54aa 47.1%,#3c55ab 47.3%,#3c55ab 48.1%,#393a99 48.5%,#393a99 49.2%,#393a99 49.5%,#3c55ab 50.1%,#3c53aa 51%,#393a99 51.5%,#393a99 51.7%,#3a3c9b 52.6%,#3c55ab 53%,#3c55ab 53.1%,#3c55ab 54.1%,#3b3f9d 54.5%,#393a99 54.8%,#393a99 55.8%,#3c55ab 56.3%,#3c55ab 57.5%,#3a3c9b 58%,#393a99 58.4%,#393a99 59.3%,#3c55ab 60%,#3c55ab 61.2%,#3a3b9a 61.8%,#393a99 62.9%,#393a99 63.2%,#3c55ab 63.9%,#3c55ab 65.3%,#3a3d9c 65.8%,#393a99 66.4%,#393a99 67.4%,#3c55ab 68.2%,#3c54ab 69.7%,#393a99 70.4%,#393a99 71.1%,#393a99 72.1%,#3c55ab 72.9%,#3c55ab 74.6%,#393a99 75.5%,#393a99 77.3%,#3c55ab 78.1%,#3c55ab 80.1%,#3a3b9a 80.9%,#393a99 81.2%,#393a99 83%,#3c55ab 84%,#3c55ab 86.1%,#3a3b9a 87%,#393a99 87.7%,#393a99 89.4%,#3c55ab 90.5%,#3c55ab 92.9%,#393a99 94%,#393a99 94.3%,#393a99 96.7%,#3c55ab 97.8%,#3c55ab 100%)"></i>
<i style="top:336.37px;height:8.16px;background:repeating-linear-gradient(90deg,rgba(52,118,190,.27) 0 1px,transparent 1px 5.2px,rgba(52,118,190,.27) 5.2px 8.3px) 0px 0/49.3px 100% no-repeat,repeating-linear-gradient(90deg,transparent 0 1.5px,rgba(52,118,190,.51) 1.5px 3.9px,transparent 3.9px 4.8px) 49.3px 0/53.8px 100% no-repeat,repeating-linear-gradient(90deg,transparent 0 .1px,rgba(52,118,190,.4) .1px 3.6px,transparent 3.6px 7px) 103px 0/52.9px 100% no-repeat,linear-gradient(90deg,#3c45a1 0%,#3a3e9c .8%,#3d51a9 2%,#3962b1 5.7%,#3d4ca6 7.5%,#3d52a9 9.1%,#3c48a4 10.2%,#3c47a3 11.7%,#3d50a9 12.8%,#393897 15.5%,#3c58ac 16.7%,#3d51a9 18%,#3c59ad 18.1%,#3d52a9 18.7%,#3b43a0 18.8%,#3a3e9c 19.2%,#3c44a1 19.4%,#3c45a1 20.4%,#383493 21.2%,#3a3e9c 21.3%,#3b419f 21.8%,#373392 21.9%,#45b492 22%,#94bc6e 22.3%,#adbb64 22.5%,#cbb958 22.7%,#d8b852 23%,#cfb956 23.3%,#beba5e 23.4%,#a2bc69 23.6%,#76bb7b 23.7%,#3bb397 23.8%,#15a9b9 24%,#1c99d1 24.1%,#2c7fc3 24.3%,#169fcc 24.5%,#16abb5 24.7%,#3db396 24.8%,#aabb66 25.1%,#d4b853 25.2%,#f3b842 25.4%,#fdbe37 25.5%,#f9d72b 25.8%,#f5e529 26.2%,#f7df28 26.5%,#fdc135 26.8%,#fdc533 27.2%,#fdbe37 27.5%,#eeb845 27.8%,#baba60 28%,#fcbd39 28.3%,#f7dd28 28.6%,#f6e429 29%,#85bc75 29.1%,#7cbc78 29.3%,#5ab888 29.6%,#26afa5 29.8%,#16aab6 30%,#12a4c8 30.1%,#1c99d0 30.3%,#3864b2 30.8%,#2191ce 31.2%,#13a6c2 31.5%,#23aea8 31.9%,#1aacb1 32.5%,#3a3e9c 32.6%,#3c55ab 32.9%,#3c55ab 33.5%,#3a3b9a 33.8%,#393a99 33.9%,#3a3e9c 34.4%,#3c55ab 34.7%,#3c55ab 35.3%,#393a99 35.7%,#393a99 35.8%,#393a99 36.3%,#3c55ab 36.7%,#3c53aa 37.4%,#393a99 37.7%,#393a99 38.4%,#3c55ab 38.8%,#3c55ab 39.5%,#3a3e9c 39.7%,#393a99 40%,#393a99 40.6%,#3c55ab 41%,#3c55ab 41.7%,#393a99 42.1%,#393a99 42.5%,#3a3b9a 43%,#3c55ab 43.4%,#3c54aa 44.2%,#393a99 44.6%,#393a99 44.9%,#393a99 45.5%,#3c55ab 45.9%,#3c55ab 46.7%,#393a99 47.3%,#393a99 47.4%,#393a99 48.1%,#3c55ab 48.7%,#3c55ab 49.2%,#3c55ab 49.7%,#3a3b9a 50.1%,#393a99 50.2%,#3a3b9a 51.2%,#3c54ab 51.6%,#3c55ab 52.6%,#3c55ab 52.7%,#393a99 53.3%,#3a3c9b 54.4%,#3c55ab 55%,#3c55ab 56.1%,#393a99 56.6%,#393a99 57.7%,#3d52a9 58.3%,#3c55ab 58.6%,#3c55ab 59.7%,#393a99 60.3%,#393a99 61.1%,#3a3b9a 61.6%,#3c55ab 62.3%,#3c55ab 63.6%,#393a99 64.3%,#3a3b9a 65.8%,#3c55ab 66.5%,#3c55ab 67.9%,#393a99 68.8%,#393a99 70.2%,#3a3c9b 70.4%,#3c55ab 71.1%,#3c55ab 72.8%,#393a99 73.6%,#3a3b9a 75.5%,#3c55ab 76.3%,#3c55ab 78.1%,#393a99 79.1%,#393a99 81%,#3c55ab 82%,#3c55ab 84.1%,#393a99 85.2%,#393a99 87.3%,#3c55ab 88.4%,#3c55ab 90.8%,#3a3c9b 91.8%,#393a99 92.2%,#393a99 94.4%,#3c55ab 95.7%,#3c55ab 98.3%,#393a99 99.6%,#393a99 100%)"></i>
<i style="top:343.93px;height:8.16px;background:repeating-linear-gradient(90deg,transparent 0 2px,rgba(52,118,190,.33) 2px 5.9px,transparent 5.9px 7.9px) 0px 0/49.3px 100% no-repeat,repeating-linear-gradient(90deg,transparent 0 1.2px,rgba(52,118,190,.47) 1.2px 3.6px,transparent 3.6px 4.9px) 49.3px 0/53.8px 100% no-repeat,repeating-linear-gradient(90deg,transparent 0 1px,rgba(52,118,190,.43) 1px 4.6px,transparent 4.6px 7.2px) 103px 0/52.9px 100% no-repeat,linear-gradient(90deg,#3c58ac 0%,#3c59ad .7%,#3c47a3 2%,#3d4aa5 3.3%,#3a3c9b 4.7%,#3c54aa 9.2%,#3b43a0 13.7%,#3961b0 15.8%,#3c57ac 16.7%,#3d4ea7 16.9%,#3d4ba6 17.2%,#3d4ba6 17.4%,#3c54aa 17.6%,#3c57ac 19.2%,#3962b1 19.4%,#3a5eaf 19.9%,#3d4da7 20.1%,#3c47a3 20.5%,#3c56ab 20.6%,#3c55ab 21.2%,#3c46a2 21.3%,#3c45a2 21.5%,#3c48a4 21.8%,#3c56ab 21.9%,#8abc72 22%,#b3bb62 22.3%,#cab958 22.7%,#bfba5d 23%,#acbb65 23.2%,#8dbc71 23.3%,#27afa4 23.6%,#13a5c4 23.7%,#2192ce 23.8%,#238ecc 24%,#15a0cb 24.1%,#18abb2 24.3%,#43b493 24.4%,#7ebc77 24.5%,#d7b852 24.8%,#f4b841 25%,#fdbe37 25.1%,#f9d82a 25.5%,#f7dd28 25.8%,#f9d92a 25.9%,#fdc136 26.2%,#efb844 26.4%,#eeb845 26.5%,#fdc434 26.8%,#fad42c 27.2%,#fdc235 27.6%,#f9bb3c 27.8%,#ebb847 27.9%,#acbb65 28.2%,#5ab888 28.5%,#adbb65 28.6%,#e5b84a 28.7%,#fcbd39 28.9%,#fdcb2f 29%,#7abc79 29.1%,#80bc76 29.4%,#76bb7b 29.7%,#59b788 30%,#16abb5 30.4%,#12a5c6 30.5%,#1b9ad0 30.7%,#3370b8 31.1%,#356bb5 31.2%,#1b9ad0 31.7%,#13a3c9 31.8%,#16abb4 32.1%,#1cacaf 32.5%,#3b3f9d 32.6%,#393a99 32.8%,#3a3a99 33.3%,#3c55ab 33.6%,#3c55ab 34%,#3d51a9 34.3%,#393a99 34.6%,#393a99 35.1%,#3c55ab 35.6%,#3c55ab 36.1%,#393a99 36.5%,#393a99 37.2%,#3c53aa 37.5%,#3c55ab 37.7%,#3c55ab 38.2%,#393a99 38.6%,#393a99 39.3%,#3c55ab 39.7%,#3c55ab 40.4%,#3a3b9a 40.9%,#393a99 41%,#393a99 41.7%,#3d4fa8 42%,#3c55ab 42.3%,#3c54aa 43%,#393a99 43.4%,#393a99 44.1%,#3a3b9a 44.2%,#3c55ab 44.6%,#3c55ab 45.5%,#3a3c9b 45.9%,#393a99 46%,#393a99 46.9%,#3c54ab 47.3%,#3c55ab 48.3%,#393a99 48.8%,#3a3b9a 49.8%,#3c54ab 50.2%,#3c55ab 50.9%,#3c55ab 51.3%,#393a99 51.9%,#393a99 52.9%,#3c55ab 53.4%,#3c55ab 53.6%,#3c55ab 54.5%,#393a99 55.1%,#393a99 55.2%,#3a3b9a 56.3%,#3c55ab 56.9%,#3c55ab 58.2%,#393a99 58.7%,#393a99 58.9%,#393a99 60%,#3c55ab 60.7%,#3c55ab 61.9%,#393a99 62.8%,#3a3b9a 64.2%,#3c55ab 64.9%,#3c55ab 66.2%,#393a99 67.1%,#393a99 68.6%,#3c54ab 69.3%,#3c55ab 69.7%,#3c55ab 71%,#393a99 71.8%,#393a99 73.5%,#3c55ab 74.6%,#3c55ab 76.3%,#393a99 77.3%,#393a99 79.1%,#3c55ab 80.2%,#3c55ab 82.1%,#393a99 83.1%,#3a3b9a 85.4%,#3c55ab 86.3%,#3c55ab 87.3%,#3c55ab 88.7%,#393a99 89.8%,#3a3b9a 92.3%,#3c55ab 93.4%,#3c55ab 96.1%,#393a99 97.4%,#393a99 100%)"></i>
<i style="top:351.49px;height:8.16px;background:repeating-linear-gradient(90deg,rgba(52,118,190,.52) 0 2.8px,transparent 2.8px 6.6px,rgba(52,118,190,.52) 6.6px 7.6px) 0px 0/49.3px 100% no-repeat,repeating-linear-gradient(90deg,transparent 0 .8px,rgba(52,118,190,.28) .8px 3.3px,transparent 3.3px 5px) 49.3px 0/53.8px 100% no-repeat,repeating-linear-gradient(90deg,transparent 0 2px,rgba(52,118,190,.41) 2px 5.6px,transparent 5.6px 7.3px) 103px 0/52.9px 100% no-repeat,linear-gradient(90deg,#3b43a0 0%,#3d52a9 4%,#3d4ba6 5.7%,#3961b0 7.1%,#3d4aa5 8.8%,#3c53aa 11.9%,#3c45a2 13.7%,#3d49a4 14.5%,#3c5aae 15.8%,#3c47a3 17.2%,#3d4ea8 18%,#3b43a0 18.1%,#3c5aad 19.2%,#3d4da7 20.5%,#3c54aa 20.6%,#3c53aa 21.2%,#3c47a3 21.3%,#3c46a2 21.8%,#3c55ab 21.9%,#a7bb67 22%,#bcba5f 22.5%,#b0bb64 22.7%,#9cbc6b 22.9%,#7abc79 23%,#1dadad 23.3%,#14a1ca 23.4%,#248ccb 23.6%,#189dcd 23.7%,#15aab8 23.8%,#37b299 24%,#a5bc68 24.3%,#cdb957 24.4%,#ebb846 24.5%,#f9bb3c 24.7%,#fdc235 24.8%,#fbd32c 25.4%,#f8bb3d 25.8%,#dcb84f 25.9%,#a5bc68 26.1%,#56b789 26.2%,#35b19b 26.4%,#7ebc77 26.8%,#93bc6f 27.1%,#95bc6e 27.2%,#92bc6f 27.3%,#7cbc78 27.6%,#4eb68d 27.9%,#31b19d 28%,#1dadad 28.2%,#14a8be 28.3%,#15a0cb 28.5%,#1e96d0 28.6%,#13a5c5 28.7%,#3fb395 28.9%,#94bc6e 29%,#20adab 29.1%,#5ab888 29.4%,#6bba80 29.6%,#74bb7c 29.8%,#6aba80 30.1%,#4eb68e 30.4%,#22aea8 30.7%,#15a9b9 30.8%,#13a3c9 31%,#1d98d1 31.1%,#346db7 31.5%,#1f95d0 31.9%,#13a6c3 32.2%,#16abb5 32.5%,#3c55ab 32.6%,#3c52aa 33.2%,#393a99 33.5%,#393a99 34%,#3c55ab 34.4%,#3c55ab 35%,#393a99 35.4%,#3a3d9c 36.1%,#3c55ab 36.4%,#3c55ab 37.1%,#393a99 37.5%,#3a3b9a 38.2%,#3c52aa 38.5%,#3c55ab 38.6%,#3c55ab 39.3%,#393a99 39.7%,#393a99 40.4%,#3c55ab 40.9%,#3c55ab 41%,#3c53aa 41.7%,#393a99 42.1%,#393a99 42.8%,#3c55ab 43.4%,#3c55ab 44.2%,#393a99 44.6%,#393a99 44.8%,#393a99 45.5%,#3c55ab 46%,#3c55ab 46.9%,#393a99 47.4%,#393a99 48.1%,#393a99 48.4%,#3c54ab 48.8%,#3c55ab 49%,#3c54aa 49.9%,#3a3b9a 50.3%,#393a99 50.8%,#393a99 51.5%,#3c55ab 52%,#3c54aa 53.1%,#393a99 53.7%,#393a99 54.8%,#3c55ab 55.4%,#3c55ab 56.5%,#393a99 57.3%,#393a99 58.4%,#3c55ab 59.1%,#3c55ab 60.4%,#393a99 61.1%,#393a99 61.8%,#393a99 62.5%,#3c55ab 63.2%,#3c55ab 64.6%,#3a3b9a 65.3%,#393a99 66%,#3a3c9b 66.9%,#3c55ab 67.6%,#3c55ab 69.2%,#393a99 70%,#393a99 70.6%,#3a3b9a 71.8%,#3c55ab 72.7%,#3c55ab 74.3%,#3a3c9b 75.2%,#393a99 75.6%,#393a99 77.1%,#3c55ab 78.1%,#3c54ab 80.2%,#393a99 81.2%,#393a99 83.3%,#3c55ab 84.4%,#3c55ab 86.6%,#393a99 87.7%,#393a99 90.1%,#3c55ab 91.4%,#3c55ab 93.9%,#393a99 95.1%,#393a99 97.8%,#3c55ab 99.2%,#3c55ab 100%)"></i>
<i style="top:359.05px;height:8.16px;background:repeating-linear-gradient(90deg,transparent 0 3.6px,rgba(52,118,190,.38) 3.6px 7.2px,transparent 7.2px 7.2px) 0px 0/49.3px 100% no-repeat,repeating-linear-gradient(90deg,transparent 0 .4px,rgba(52,118,190,.43) .4px 2.9px,transparent 2.9px 5.1px) 49.3px 0/53.8px 100% no-repeat,repeating-linear-gradient(90deg,transparent 0 3px,rgba(52,118,190,.32) 3px 6.7px,transparent 6.7px 7.4px) 103px 0/52.9px 100% no-repeat,linear-gradient(90deg,#3c56ac 0%,#3b42a0 1.5%,#3b5cae 3.2%,#3a5faf 6.7%,#3d4aa5 8.1%,#3a5eaf 9.6%,#3d49a5 10.7%,#3d4ea7 11.9%,#3b419f 13.9%,#3c59ad 15.2%,#3d50a8 15.9%,#3a3b9a 16.5%,#3a3b9a 16.7%,#3c47a3 16.9%,#3c54ab 17.4%,#3d4fa8 18%,#393998 18.7%,#3b429f 18.8%,#3b43a0 19.2%,#383493 19.4%,#383695 19.8%,#383796 19.9%,#3d4ba6 20.1%,#3d4ea7 20.5%,#3a3d9c 20.6%,#3c48a4 21.2%,#3c5aad 21.3%,#3a5eaf 21.8%,#3d4da7 21.9%,#abbb65 22%,#aebb64 22.2%,#a1bc69 22.5%,#8cbc72 22.6%,#69ba81 22.7%,#3ab298 22.9%,#16abb5 23%,#189ecd 23.2%,#1e96d0 23.3%,#13a6c3 23.4%,#24aea6 23.6%,#8fbc71 23.8%,#dcb850 24.1%,#f3b842 24.3%,#fdc135 24.5%,#fdc930 25%,#fdbe37 25.2%,#f4b841 25.4%,#d3b954 25.5%,#9dbc6b 25.7%,#52b68c 25.8%,#15a9b9 25.9%,#2192ce 26.1%,#3273bb 26.2%,#2886c7 26.9%,#2787c8 27.3%,#3b5bae 28.7%,#356db7 28.9%,#258bca 29%,#2c7fc3 29.1%,#1f95d0 29.3%,#12a5c6 29.4%,#1cacaf 29.6%,#4eb68d 29.8%,#5fb885 30%,#66b982 30.3%,#4fb68d 30.7%,#1aacb1 31.1%,#13a7c1 31.2%,#189ecd 31.4%,#2191ce 31.5%,#3175bc 31.8%,#3174bb 31.9%,#2191ce 32.2%,#12a4c8 32.5%,#393a99 32.6%,#393a99 32.9%,#3c55ab 33.3%,#3c55ab 33.9%,#393a99 34.3%,#393a99 34.9%,#3c55ab 35.3%,#3c53aa 36%,#393a99 36.3%,#393a99 36.4%,#393a99 37%,#3c55ab 37.4%,#3c55ab 38.1%,#393a99 38.5%,#393a99 39.2%,#3c55ab 39.6%,#3c53aa 40.4%,#393a99 40.9%,#393a99 41.6%,#3c55ab 42.1%,#3c55ab 42.8%,#393a99 43.4%,#393a99 44.2%,#3c55ab 44.6%,#3c54aa 45.6%,#393a99 46%,#393a99 47%,#3c54ab 47.4%,#3c55ab 47.6%,#3c55ab 48.4%,#393a99 49%,#3a3c9b 50.1%,#3c55ab 50.5%,#3c55ab 50.6%,#3c55ab 51.6%,#393a99 52.2%,#393a99 53.3%,#3c55ab 53.8%,#3c54ab 55.1%,#393a99 55.6%,#393a99 56.9%,#3c55ab 57.5%,#3c55ab 57.6%,#3c54aa 58.9%,#393a99 59.4%,#393a99 59.6%,#393a99 60.8%,#3c55ab 61.5%,#3c55ab 62.9%,#393a99 63.7%,#393a99 65.1%,#3c55ab 66%,#3c55ab 67.5%,#393a99 68.3%,#393a99 69.9%,#3c55ab 70.9%,#3c55ab 72.5%,#393a99 73.4%,#3a3b9a 75.3%,#3c55ab 76.2%,#3c55ab 78.1%,#393a99 79.1%,#393a99 81.2%,#3c55ab 82.3%,#3c55ab 84.5%,#393a99 85.6%,#393a99 87.9%,#3c55ab 89.1%,#3c55ab 91.6%,#393a99 92.9%,#393a99 95.5%,#3c55ab 96.8%,#3d51a9 100%)"></i>
<i style="top:366.61px;height:8.16px;background:repeating-linear-gradient(90deg,transparent 0 .9px,rgba(52,118,190,.26) .9px 4.3px,transparent 4.3px 6.9px) 0px 0/49.3px 100% no-repeat,repeating-linear-gradient(90deg,transparent 0 0px,rgba(52,118,190,.4) 0px 2.6px,transparent 2.6px 5.2px) 49.3px 0/53.8px 100% no-repeat,repeating-linear-gradient(90deg,rgba(52,118,190,.35) 0 .2px,transparent .2px 4px,rgba(52,118,190,.35) 4px 7.6px) 103px 0/52.9px 100% no-repeat,linear-gradient(90deg,#3d4ba6 0%,#3c55ab 2.6%,#3c46a2 4.3%,#3c5aad 5.6%,#3b419f 7%,#3c5aad 8.2%,#3b5bae 8.9%,#3c5aae 10.6%,#3d4ca7 12.4%,#3c57ac 14.2%,#3d4ca6 15.6%,#3b42a0 15.9%,#3c53aa 17.3%,#3c53aa 17.4%,#3c44a1 17.6%,#3a3d9c 18%,#3d49a4 18.1%,#3a3d9c 19%,#3c57ac 20.5%,#3d4fa8 20.6%,#3c48a4 21.2%,#3c54ab 21.3%,#3c54ab 21.8%,#3c47a3 21.9%,#9fbc6a 22%,#7ebc77 22.3%,#5bb887 22.5%,#2db09f 22.6%,#15a9ba 22.7%,#1a9bcf 22.9%,#189ecd 23%,#15aab7 23.2%,#36b29a 23.3%,#9fbc6a 23.6%,#e0b84d 23.8%,#f3b842 24%,#f9bb3c 24.1%,#fdbf36 24.7%,#f0b844 25%,#d1b955 25.1%,#a1bc69 25.2%,#5cb887 25.4%,#19acb1 25.5%,#1c99d0 25.7%,#3863b1 25.9%,#3d4ba6 26.2%,#3d50a8 27.3%,#3c46a2 28.9%,#3a5eaf 29.3%,#1d98d1 29.7%,#13a5c4 29.8%,#1bacaf 30%,#46b591 30.3%,#59b888 30.5%,#4ab590 31%,#2bb0a0 31.2%,#15a8bb 31.5%,#1d97d1 31.8%,#3272ba 32.2%,#238ecc 32.5%,#3c55ab 32.6%,#3c55ab 32.8%,#3a3e9c 33.1%,#393a99 33.2%,#393a99 33.8%,#3d51a9 34%,#3c55ab 34.6%,#3c55ab 34.7%,#393a99 35.1%,#3a3c9b 35.8%,#3c54ab 36.1%,#3c55ab 36.3%,#3c55ab 36.8%,#393a99 37.2%,#393a99 37.9%,#3c55ab 38.4%,#3c55ab 38.5%,#3c53aa 39.2%,#3a3d9c 39.5%,#393a99 39.6%,#393a99 40.3%,#3c55ab 40.7%,#3c55ab 41.1%,#3c55ab 41.6%,#393a99 42%,#393a99 42.8%,#3c55ab 43.4%,#3c55ab 44.2%,#393a99 44.6%,#393a99 44.8%,#393a99 45.6%,#3c54aa 46%,#3c55ab 46.2%,#3c55ab 47%,#393a99 47.6%,#393a99 48.5%,#3c55ab 49.1%,#3c55ab 49.8%,#3c53aa 50.2%,#3a3b9a 50.6%,#393a99 50.8%,#393a99 51.7%,#3c55ab 52.3%,#3c55ab 52.6%,#3c54aa 53.6%,#393a99 54.1%,#3a3c9b 55.4%,#3c55ab 55.9%,#3c55ab 57.2%,#393a99 57.9%,#393a99 59.1%,#3c55ab 59.8%,#3c55ab 60.4%,#3c55ab 61.2%,#393a99 61.9%,#3a3b9a 63.5%,#3c55ab 64.2%,#3c55ab 65.1%,#3c55ab 65.7%,#393a99 66.5%,#393a99 68.1%,#3c55ab 68.9%,#3c55ab 69.5%,#3c54aa 70.7%,#393a99 71.5%,#393a99 73.4%,#3c55ab 74.2%,#3c55ab 75.7%,#3c55ab 76.2%,#393a99 77.1%,#3a3a99 79.2%,#3c55ab 80.2%,#3c55ab 82.3%,#393a99 83.4%,#393a99 84.4%,#393a99 85.8%,#3c55ab 86.9%,#3c55ab 89.4%,#393a99 90.5%,#393a99 90.8%,#3a3b9a 93.3%,#3c55ab 94.6%,#3c55ab 97.4%,#3a3b9a 98.6%,#393a99 100%)"></i>
<i style="top:374.17px;height:8.16px;background:repeating-linear-gradient(90deg,rgba(52,118,190,.49) 0 1.7px,transparent 1.7px 5px,rgba(52,118,190,.49) 5px 6.7px) 0px 0/49.3px 100% no-repeat,repeating-linear-gradient(90deg,rgba(52,118,190,.37) 0 2.2px,transparent 2.2px 4.9px,rgba(52,118,190,.37) 4.9px 5.3px) 49.3px 0/53.8px 100% no-repeat,repeating-linear-gradient(90deg,rgba(52,118,190,.36) 0 1.2px,transparent 1.2px 5px,rgba(52,118,190,.36) 5px 7.7px) 103px 0/52.9px 100% no-repeat,linear-gradient(90deg,#3d4da7 0%,#3d51a9 3.6%,#3d4aa6 4.6%,#3c54aa 5.7%,#3d49a4 7%,#3d4ca6 8.2%,#3b42a0 8.9%,#3c56ac 10.3%,#3a3d9c 12.4%,#3b409e 13.2%,#3c52aa 14.5%,#3d4aa5 15.6%,#3b3f9d 15.8%,#3b5cae 17.4%,#3c58ad 18%,#3864b2 18.1%,#3c5aad 18.7%,#3c47a3 18.8%,#3a3b9a 19.2%,#3d4ba6 19.4%,#3d49a4 19.9%,#383695 20.1%,#393998 20.5%,#3d4da7 20.6%,#3d4fa8 20.8%,#3d50a9 21.2%,#3a3d9c 21.3%,#3b409e 21.8%,#3c57ac 21.9%,#71bb7d 22%,#27afa4 22.3%,#14a7be 22.5%,#1c99d0 22.6%,#13a3c9 22.7%,#1cacaf 22.9%,#46b492 23%,#7bbc79 23.2%,#a5bc68 23.3%,#dfb84e 23.6%,#f6b93f 23.8%,#fabc3b 24.1%,#f7ba3e 24.4%,#edb845 24.5%,#d3b954 24.7%,#a9bb66 24.8%,#6eba7f 25%,#26afa5 25.1%,#14a1ca 25.2%,#2887c8 25.4%,#356cb6 25.5%,#3c5aad 25.7%,#3c56ab 25.8%,#2788c9 26.9%,#2984c6 27.2%,#3766b3 27.5%,#3961b0 27.6%,#2a82c5 27.9%,#2789c9 28.2%,#3863b1 29%,#3d51a9 29.1%,#3d4da7 29.4%,#3864b2 29.7%,#268aca 30%,#1a9cce 30.1%,#14a7c0 30.3%,#2db09f 30.5%,#49b590 30.8%,#47b591 31.1%,#37b29a 31.4%,#15a9b9 31.8%,#12a4c8 31.9%,#1b9acf 32.1%,#3272ba 32.5%,#3a3b9a 32.6%,#3c55ab 32.9%,#3c55ab 33.1%,#3c55ab 33.6%,#3a3c9b 33.9%,#393a99 34%,#393a99 34.6%,#3c55ab 35%,#3c53aa 35.7%,#3a3b9a 36%,#393a99 36.1%,#393a99 36.7%,#3a3e9c 36.8%,#3c55ab 37.1%,#3c55ab 37.2%,#3c53aa 37.9%,#3a3c9b 38.2%,#393a99 38.4%,#393a99 39.1%,#3c55ab 39.5%,#3c54ab 40.3%,#393a99 40.7%,#3a3a99 41.6%,#3c55ab 42%,#3c55ab 42.8%,#393a99 43.4%,#393a99 44.2%,#3c54aa 44.6%,#3c55ab 44.8%,#3c55ab 45.6%,#393a99 46.2%,#393a99 47.1%,#3c55ab 47.7%,#3c55ab 48.7%,#393a99 49.2%,#3a3c9b 50.3%,#3c55ab 50.9%,#3c54aa 52%,#393a99 52.6%,#393a99 53.7%,#3c55ab 54.4%,#3c55ab 55.5%,#393a99 56.2%,#393a99 57.5%,#3c55ab 58.2%,#3c55ab 59.6%,#393a99 60.3%,#393a99 61.6%,#3c55ab 62.5%,#3c55ab 63.9%,#393a99 64.7%,#393a99 66.2%,#3c55ab 67.1%,#3c55ab 68.8%,#393a99 69.6%,#393a99 71.4%,#3c55ab 72.2%,#3c55ab 74.2%,#393a99 75.2%,#393a99 77.1%,#3c55ab 78.1%,#3c55ab 80.2%,#393a99 81.3%,#393a99 83.5%,#3c55ab 84.7%,#3c55ab 87.2%,#393a99 88.3%,#393a99 90.9%,#3c55ab 92.2%,#3c55ab 95%,#393a99 96.4%,#393a99 99.3%,#3c48a4 100%)"></i>
<i style="top:381.73px;height:8.16px;background:repeating-linear-gradient(90deg,transparent 0 2.4px,rgba(52,118,190,.42) 2.4px 5.6px,transparent 5.6px 6.4px) 0px 0/49.3px 100% no-repeat,repeating-linear-gradient(90deg,rgba(52,118,190,.39) 0 1.9px,transparent 1.9px 4.6px,rgba(52,118,190,.39) 4.6px 5.4px) 49.3px 0/53.8px 100% no-repeat,repeating-linear-gradient(90deg,rgba(52,118,190,.51) 0 2.2px,transparent 2.2px 6.1px,rgba(52,118,190,.51) 6.1px 7.9px) 103px 0/52.9px 100% no-repeat,linear-gradient(90deg,#3d51a9 0%,#3d49a5 1.5%,#3c55ab 2.8%,#3b409e 4%,#3d4ca7 5.3%,#3c45a2 6.4%,#3c58ad 7.4%,#3c45a2 8.6%,#3c47a3 9.6%,#3c56ac 10.9%,#3c47a3 11.9%,#3c5aae 13%,#3a3c9b 14.1%,#3a3d9b 14.4%,#3c47a3 14.5%,#3d4ca7 14.9%,#3d4ba6 16.2%,#3c54ab 16.3%,#3d51a9 16.7%,#3b429f 16.9%,#3b3f9d 17.4%,#3d4ca7 17.6%,#3d4fa8 17.9%,#3a3c9b 19.2%,#3d4ba6 19.8%,#3c45a1 20.1%,#3c48a4 20.5%,#3c53aa 20.6%,#3c55ab 21.2%,#3d4aa5 21.3%,#3d4ea7 21.8%,#3c59ad 21.9%,#23aea8 22%,#13a6c1 22.2%,#1d98d1 22.3%,#13a5c5 22.5%,#21aea9 22.6%,#7fbc77 22.9%,#c3ba5b 23.2%,#e7b849 23.4%,#f5b940 23.8%,#eab847 24.1%,#d6b852 24.3%,#b4bb62 24.4%,#83bc75 24.5%,#3fb395 24.7%,#14a8bc 24.8%,#1f94cf 25%,#3963b1 25.2%,#3669b4 25.4%,#2094cf 25.8%,#15a1ca 25.9%,#15aab7 26.1%,#2ab0a0 26.2%,#80bc77 26.5%,#a3bc69 26.6%,#d7b852 26.9%,#f3b842 27.2%,#f0b844 27.6%,#f5b940 27.8%,#ebb847 28%,#c5b95a 28.3%,#89bc73 28.6%,#34b19b 28.9%,#18abb2 29%,#2d7dc1 29.1%,#3c54aa 29.8%,#356cb6 30.1%,#2191ce 30.4%,#15a0cb 30.5%,#15a9bb 30.7%,#2bb0a0 31%,#3db396 31.2%,#2eb09e 31.7%,#15a9b9 32.1%,#12a4c7 32.2%,#1a9cce 32.4%,#2290cd 32.5%,#3b43a0 32.6%,#393a99 32.8%,#3a3d9c 33.5%,#3c55ab 33.8%,#3c55ab 34.4%,#393a99 34.9%,#3a3c9b 35.6%,#3c54aa 35.8%,#3c55ab 36%,#3c52aa 36.7%,#3a3b9a 37%,#393a99 37.1%,#393a99 37.8%,#3c55ab 38.2%,#3c55ab 38.9%,#3a3b9a 39.3%,#393a99 40%,#393a99 40.2%,#3c54ab 40.6%,#3c55ab 40.7%,#3c55ab 41.4%,#393a99 42%,#393a99 42.8%,#3c54aa 43.2%,#3c55ab 43.4%,#3c55ab 44.2%,#393a99 44.8%,#3a3d9b 45.7%,#3c55ab 46.2%,#3c55ab 47.1%,#393a99 47.7%,#3a3b9a 48.8%,#3c55ab 49.4%,#3c55ab 50.3%,#3a3c9b 50.9%,#393a99 51.3%,#393a99 52.2%,#3c55ab 52.7%,#3c55ab 54%,#3a3a99 54.5%,#393a99 54.8%,#3a3c9b 55.9%,#3c55ab 56.5%,#3c55ab 57.9%,#3a3c9b 58.4%,#393a99 59.8%,#3c55ab 60.7%,#3c55ab 62.1%,#393a99 62.9%,#393a99 63.9%,#393a99 64.4%,#3c55ab 65.3%,#3c54ab 66.9%,#3a3b9a 67.6%,#393a99 68.2%,#393a99 69.5%,#3c55ab 70.4%,#3c55ab 72.2%,#393a99 73.2%,#393a99 75%,#3c55ab 76%,#3c55ab 78.1%,#393a99 79.2%,#393a99 81.5%,#3c55ab 82.4%,#3c55ab 84.5%,#3c55ab 84.9%,#393a99 86.1%,#393a99 88.6%,#3c55ab 89.8%,#3c55ab 92.6%,#393a99 93.9%,#393a99 96.8%,#3c55ab 98.2%,#3c55ab 100%)"></i>
<i style="top:389.29px;height:8.16px;background:repeating-linear-gradient(90deg,transparent 0 0px,rgba(52,118,190,.46) 0px 3.1px,transparent 3.1px 6.2px) 0px 0/49.3px 100% no-repeat,repeating-linear-gradient(90deg,rgba(52,118,190,.38) 0 1.5px,transparent 1.5px 4.2px,rgba(52,118,190,.38) 4.2px 5.5px) 49.3px 0/53.8px 100% no-repeat,repeating-linear-gradient(90deg,rgba(52,118,190,.31) 0 3.3px,transparent 3.3px 7.3px,rgba(52,118,190,.31) 7.3px 8.1px) 103px 0/52.9px 100% no-repeat,linear-gradient(90deg,#3b5bae 0%,#3d50a8 2.5%,#3b5cae 4.6%,#3c52aa 6%,#3d51a9 9.9%,#3c47a3 11%,#3d4ea7 12.1%,#3c44a1 13.2%,#3d50a9 14.5%,#3d50a9 14.9%,#3c47a3 15.1%,#3d4ca6 15.6%,#3c54ab 15.8%,#3c57ac 16.6%,#3c48a4 17.4%,#3c53aa 17.6%,#3c48a4 18%,#383493 18.1%,#393897 18.7%,#3d4ea7 18.8%,#3c58ad 19.2%,#3c47a3 19.4%,#3b429f 19.9%,#3c55ab 20.1%,#3c54aa 20.5%,#3b409e 20.6%,#3b42a0 21.2%,#3c57ac 21.3%,#3c53aa 21.8%,#393a99 21.9%,#1d99d1 22%,#13a6c2 22.2%,#23aea7 22.3%,#7ebc77 22.6%,#bdba5e 22.9%,#ddb84f 23.2%,#eab847 23.6%,#d7b852 23.8%,#beba5e 24%,#96bc6d 24.1%,#5eb886 24.3%,#21aea9 24.4%,#15a1ca 24.5%,#2788c9 24.7%,#346fb8 24.8%,#189dcd 25.2%,#15a9bb 25.4%,#2cb09f 25.5%,#97bc6d 25.8%,#c1ba5d 25.9%,#e4b84b 26.1%,#f8bb3d 26.2%,#fbd12d 26.5%,#f5e629 26.8%,#f3ee2b 27.2%,#f4ec2a 28.2%,#f7e028 28.5%,#fdc731 28.7%,#fbbc3a 28.9%,#ebb847 29%,#1dadad 29.1%,#14a7be 29.3%,#1f95cf 29.6%,#3b5cae 30.3%,#3865b2 30.4%,#1c99d0 30.8%,#12a4c7 31%,#16aab6 31.1%,#29afa2 31.4%,#2fb09e 31.7%,#22aea9 32.1%,#15a9bb 32.4%,#12a4c7 32.5%,#3c55ab 32.6%,#3c55ab 33.2%,#393a99 33.6%,#3a3b9a 34.3%,#3c53aa 34.6%,#3c55ab 34.7%,#3c52aa 35.4%,#3a3b9a 35.7%,#393a99 35.8%,#3a3c9b 36.5%,#3c53aa 36.8%,#3c55ab 37%,#3c55ab 37.7%,#393a99 38.1%,#3a3b9a 38.9%,#3c55ab 39.3%,#3c54ab 40.2%,#393a99 40.6%,#393a99 41.4%,#3c54aa 41.8%,#3c55ab 42%,#3c55ab 42.8%,#3a3b9a 43.2%,#393a99 43.4%,#393a99 44.2%,#3c55ab 44.8%,#3c55ab 45.7%,#3a3c9b 46.2%,#393a99 46.3%,#393a99 47.3%,#3c55ab 47.8%,#3c55ab 48.8%,#393a99 49.5%,#3a3b9a 50.6%,#3c55ab 51.2%,#3c55ab 52.3%,#393a99 53%,#3a3b9a 54.3%,#3c55ab 54.8%,#3c54ab 56.2%,#393a99 56.9%,#393a99 58.2%,#3c55ab 59%,#3c55ab 60.4%,#393a99 61.1%,#393a99 62.6%,#3c55ab 63.5%,#3c55ab 65%,#393a99 65.8%,#393a99 67.5%,#3c55ab 68.5%,#3c55ab 70.2%,#393a99 71.1%,#393a99 73.1%,#3c55ab 74.1%,#3c55ab 76%,#393a99 77.1%,#393a99 79.2%,#3c55ab 80.3%,#3c54ab 82.7%,#393a99 83.8%,#3a3b9a 86.3%,#3c55ab 87.4%,#3c55ab 90.1%,#3a3b9a 91.4%,#393a99 92.3%,#393a99 94.3%,#3c55ab 95.7%,#3c55ab 98.7%,#3a3e9d 100%)"></i>
<i style="top:396.84px;height:8.16px;background:repeating-linear-gradient(90deg,rgba(52,118,190,.41) 0 .7px,transparent .7px 3.7px,rgba(52,118,190,.41) 3.7px 6px) 0px 0/49.3px 100% no-repeat,repeating-linear-gradient(90deg,rgba(52,118,190,.45) 0 1px,transparent 1px 3.9px,rgba(52,118,190,.45) 3.9px 5.6px) 49.3px 0/53.8px 100% no-repeat,repeating-linear-gradient(90deg,transparent 0 .3px,rgba(52,118,190,.45) .3px 4.4px,transparent 4.4px 8.2px) 103px 0/52.9px 100% no-repeat,linear-gradient(90deg,#3d4da7 0%,#3d50a8 2.4%,#3b429f 3.9%,#3d52a9 5.3%,#3d49a4 6.7%,#3a5eaf 10.6%,#3c56ac 11.4%,#3c58ac 12.4%,#3c46a2 13.7%,#3d4ea7 13.8%,#3c54ab 15.6%,#3961b0 15.8%,#3b5cae 16.2%,#3d4ea7 16.3%,#3c47a3 16.7%,#3c5aad 18%,#3b5bae 18.7%,#3962b1 18.8%,#3c5aae 19.2%,#3d4ca6 19.4%,#3b409e 19.9%,#3d4ca6 20.1%,#3d4ba6 20.5%,#3b3f9d 20.6%,#3b429f 21.2%,#3d4da7 21.3%,#3c44a1 21.9%,#23aea7 22%,#7abc79 22.3%,#b5bb62 22.6%,#d2b955 22.9%,#ddb84f 23.2%,#d5b853 23.4%,#c3ba5b 23.6%,#a6bc67 23.7%,#7abc79 23.8%,#3eb396 24%,#15a9b9 24.1%,#1c99d0 24.3%,#2c7fc3 24.4%,#2886c7 24.5%,#1d99d1 24.7%,#13a6c1 24.8%,#27afa4 25%,#94bc6f 25.2%,#c1ba5d 25.4%,#e5b84a 25.5%,#f9bb3c 25.7%,#f7de28 26.1%,#f5e92a 26.5%,#f6e128 26.8%,#fdc036 27.1%,#e5b84a 27.2%,#d1b955 27.5%,#b0bb63 27.8%,#fbbc3a 28%,#f7de28 28.3%,#f5e629 28.5%,#f7e028 29%,#78bb7a 29.1%,#4fb68d 29.4%,#1dadad 29.7%,#14a7bf 29.8%,#179fcc 30%,#2192ce 30.1%,#3961b0 30.7%,#2192ce 31.1%,#14a7c0 31.4%,#26afa5 31.8%,#25aea6 32.1%,#16abb5 32.5%,#393a99 32.6%,#393a99 33.1%,#3d52a9 33.3%,#3c55ab 33.5%,#3d52a9 34.2%,#393a99 34.4%,#393a99 35.1%,#3c55ab 35.6%,#3c55ab 35.8%,#3c53aa 36.4%,#3a3d9c 36.7%,#393a99 36.8%,#393a99 37.5%,#3c55ab 37.9%,#3c55ab 38.5%,#3c55ab 38.8%,#393a99 39.2%,#393a99 40%,#3c53aa 40.4%,#3c55ab 41.1%,#3c55ab 41.4%,#393a99 41.8%,#393a99 42.8%,#3c55ab 43.2%,#3c55ab 43.5%,#3c55ab 44.2%,#393a99 44.8%,#393a99 45.7%,#3c55ab 46.3%,#3c55ab 47.3%,#393a99 48%,#393a99 49%,#3c54ab 49.5%,#3c55ab 50.5%,#3c55ab 50.8%,#393a99 51.3%,#393a99 52.6%,#3c55ab 53.1%,#3c55ab 53.3%,#3c54aa 54.5%,#393a99 55.1%,#393a99 56.5%,#3c55ab 57.2%,#3c55ab 58.2%,#3c55ab 58.6%,#393a99 59.3%,#393a99 60.8%,#3c55ab 61.6%,#3c55ab 63.2%,#3a3a99 63.9%,#393a99 65.6%,#3c55ab 66.4%,#3c55ab 67.8%,#3c53aa 68.3%,#393a99 69.2%,#393a99 71%,#3c54aa 71.8%,#3c55ab 72.5%,#3c55ab 73.9%,#393a99 74.9%,#3a3b9a 77.1%,#3c55ab 78.1%,#3c55ab 79.4%,#3c54ab 80.5%,#393a99 81.6%,#393a99 84%,#3c55ab 85.2%,#3c55ab 87.7%,#393a99 89%,#3a3b9a 91.9%,#3c55ab 93.2%,#3c55ab 96.2%,#393a99 97.6%,#393a99 100%)"></i>
<i style="top:404.4px;height:8.16px;background:repeating-linear-gradient(90deg,transparent 0 1.4px,rgba(52,118,190,.52) 1.4px 4.3px,transparent 4.3px 5.8px) 0px 0/49.3px 100% no-repeat,repeating-linear-gradient(90deg,rgba(52,118,190,.31) 0 .6px,transparent .6px 3.5px,rgba(52,118,190,.31) 3.5px 5.8px) 49.3px 0/53.8px 100% no-repeat,repeating-linear-gradient(90deg,transparent 0 1.3px,rgba(52,118,190,.36) 1.3px 5.5px,transparent 5.5px 8.4px) 103px 0/52.9px 100% no-repeat,linear-gradient(90deg,#3a5eaf 0%,#3b5bae 1.8%,#3a3c9b 3.2%,#3d50a9 4.5%,#3a5faf 6.1%,#3d51a9 7.7%,#3c5aad 8.9%,#3d4ca6 10%,#3c46a3 12.4%,#3b3f9d 12.6%,#3b429f 13.2%,#3c56ab 14.1%,#3c48a4 14.9%,#3d50a8 16.2%,#3b42a0 16.3%,#3a3d9c 16.7%,#3d4ea7 16.9%,#3d50a8 17.4%,#3a3d9c 17.6%,#3b43a0 18%,#3c58ac 18.1%,#3b5cae 18.7%,#3d4da7 18.8%,#3d4ba6 19.2%,#3c59ad 19.4%,#3b5bae 19.9%,#3d4aa5 20.1%,#3d4ba6 20.2%,#3d50a9 20.5%,#366ab5 20.6%,#346eb7 21.1%,#356cb6 21.2%,#3d50a8 21.3%,#3c46a2 21.8%,#3b5cae 21.9%,#72bb7d 22%,#93bc6f 22.2%,#bbba5f 22.5%,#d0b955 22.9%,#c4ba5b 23.2%,#b0bb63 23.3%,#90bc70 23.4%,#28afa3 23.7%,#13a5c4 23.8%,#2191cd 24%,#2689ca 24.1%,#1a9cce 24.3%,#15a9ba 24.4%,#32b19c 24.5%,#a2bc69 24.8%,#cdb957 25%,#eeb845 25.1%,#fcbc39 25.2%,#fdc731 25.4%,#f8da29 25.7%,#f7e028 26.1%,#f9d92a 26.2%,#fbbc3a 26.5%,#f9d62b 26.9%,#f7df28 27.2%,#fad52b 27.5%,#fdbf37 27.8%,#f4b941 27.9%,#dcb850 28%,#90bc70 28.3%,#d1b955 28.5%,#f7ba3e 28.6%,#fdc731 28.7%,#f7df28 29%,#85bc74 29.1%,#76bb7b 29.6%,#54b78a 29.8%,#23aea8 30.1%,#15a9ba 30.3%,#14a2ca 30.4%,#1e96d0 30.5%,#356cb6 31%,#366ab5 31.1%,#1b9ad0 31.5%,#12a4c8 31.7%,#1eadac 32.1%,#1cacaf 32.5%,#3c55ab 32.6%,#3d52a9 32.9%,#393a99 33.2%,#393a99 33.9%,#3c55ab 34.3%,#3c55ab 35%,#393a99 35.4%,#3a3c9b 36.3%,#3c52aa 36.5%,#3c55ab 36.7%,#3c55ab 37.4%,#3a3b9a 37.8%,#393a99 38.6%,#3c55ab 39.2%,#3c54aa 40%,#393a99 40.4%,#393a99 40.7%,#3a3d9c 41.4%,#3c55ab 41.8%,#3c55ab 42.7%,#3c54aa 42.8%,#393a99 43.2%,#393a99 44.2%,#3c55ab 44.8%,#3c55ab 45.7%,#393a99 46.3%,#393a99 46.4%,#393a99 47.4%,#3c55ab 48%,#3c55ab 49.1%,#393a99 49.8%,#393a99 50.9%,#3c55ab 51.5%,#3c55ab 52.7%,#393a99 53.6%,#3a3c9b 54.8%,#3c55ab 55.4%,#3c55ab 56.8%,#393a99 57.5%,#393a99 58%,#393a99 59%,#3c55ab 59.7%,#3c55ab 61.2%,#393a99 62.1%,#3a3b9a 63.7%,#3c54ab 64.4%,#3c55ab 64.7%,#3c55ab 66.2%,#393a99 67.1%,#393a99 68.9%,#3c55ab 69.9%,#3c55ab 71.8%,#393a99 72.8%,#393a99 74.8%,#3c55ab 76%,#3c55ab 78.1%,#393a99 79.2%,#393a99 81.2%,#3a3b9a 81.7%,#3c55ab 82.8%,#3c55ab 85.4%,#3a3c9b 86.5%,#393a99 87%,#3a3a99 89.4%,#3c55ab 90.7%,#3c55ab 91.8%,#3c54ab 93.7%,#393a99 95.1%,#393a99 98.2%,#3c55ab 100%)"></i>
<i style="top:411.96px;height:8.16px;background:repeating-linear-gradient(90deg,rgba(52,118,190,.36) 0 2.1px,transparent 2.1px 4.9px,rgba(52,118,190,.36) 4.9px 5.6px) 0px 0/49.3px 100% no-repeat,repeating-linear-gradient(90deg,rgba(52,118,190,.34) 0 .2px,transparent .2px 3.1px,rgba(52,118,190,.34) 3.1px 5.9px) 49.3px 0/53.8px 100% no-repeat,repeating-linear-gradient(90deg,transparent 0 2.5px,rgba(52,118,190,.35) 2.5px 6.8px,transparent 6.8px 8.6px) 103px 0/52.9px 100% no-repeat,linear-gradient(90deg,#3c57ac 0%,#3c44a1 2%,#3d51a9 2.9%,#3c5aad 4.9%,#3d4fa8 6.4%,#3a3c9b 7.7%,#3c54ab 9.3%,#3d4fa8 11.2%,#3b5bae 12.4%,#3d4fa8 13.7%,#3b5bae 14.4%,#3c52aa 14.5%,#3c59ad 14.9%,#3866b2 15.1%,#3a60b0 15.8%,#3766b2 16.9%,#3b5cae 17.4%,#3d4ea8 17.6%,#3d4ca6 18%,#3b5bae 18.1%,#3a5eaf 18.7%,#3d4ba6 18.8%,#3c45a2 19.2%,#3c56ab 19.4%,#3c53aa 19.9%,#3b43a0 20.1%,#3c48a4 20.5%,#3c59ad 20.6%,#3b5bae 20.9%,#3d4ea7 21.9%,#9fbc6a 22%,#b8ba60 22.3%,#c2ba5c 22.6%,#b4bb62 22.9%,#9fbc6a 23%,#7dbc78 23.2%,#1cacae 23.4%,#15a1ca 23.6%,#258bca 23.7%,#1b9acf 23.8%,#14a8bd 24%,#2cb09f 24.1%,#9dbc6b 24.4%,#c8b959 24.5%,#e8b848 24.7%,#f9bb3c 24.8%,#fdc334 25%,#f9d72a 25.5%,#fad42c 25.7%,#fdbf37 25.9%,#eeb845 26.1%,#90bc70 26.4%,#c5ba5b 26.6%,#e3b84b 26.9%,#ecb846 27.2%,#e2b84c 27.5%,#d5b853 27.6%,#aabb66 27.9%,#67b982 28.2%,#3eb396 28.3%,#1fadac 28.5%,#16abb5 28.6%,#62b984 28.7%,#b0bb64 28.9%,#e4b84a 29%,#4eb68e 29.1%,#66b982 29.3%,#74bb7c 29.4%,#79bc79 29.6%,#74bb7c 29.8%,#60b885 30.1%,#4db68e 30.3%,#20adaa 30.5%,#15a8bb 30.7%,#1f95cf 31%,#356bb5 31.4%,#1f95d0 31.8%,#13a6c2 32.1%,#19acb1 32.5%,#393a99 32.6%,#3c55ab 33.1%,#3c55ab 33.8%,#393a99 34.2%,#393a99 34.9%,#3c55ab 35.3%,#3c55ab 35.4%,#3c52aa 36.1%,#3a3d9c 36.4%,#393a99 36.5%,#393a99 37.2%,#3c55ab 37.8%,#3c53aa 38.6%,#393a99 39.1%,#393a99 39.9%,#3c55ab 40.4%,#3c55ab 41.3%,#393a99 41.8%,#3a3c9b 42.8%,#3c55ab 43.2%,#3c55ab 43.4%,#3c55ab 44.2%,#393a99 44.8%,#393a99 45.9%,#3c55ab 46.4%,#3c54ab 47.6%,#393a99 48.1%,#393a99 48.8%,#393a99 49.2%,#3c55ab 49.9%,#3c55ab 51%,#393a99 51.7%,#393a99 53%,#3c55ab 53.7%,#3c55ab 55%,#3a3b9a 55.6%,#393a99 56.1%,#393a99 57.2%,#3c55ab 57.9%,#3c55ab 59.4%,#393a99 60.1%,#393a99 61.8%,#3c55ab 62.6%,#3c55ab 64.3%,#3a3c9b 65%,#393a99 65.3%,#393a99 66.9%,#3c55ab 67.8%,#3c55ab 69.7%,#3a3c9b 70.6%,#393a99 71.4%,#3a3b9a 72.8%,#3c55ab 73.8%,#3c55ab 75.9%,#393a99 77.1%,#393a99 79.4%,#3c55ab 80.5%,#3c55ab 83%,#3a3a99 84.1%,#393a99 84.9%,#393a99 86.9%,#3c55ab 88.1%,#3c55ab 91.1%,#3a3b9a 92.3%,#393a99 92.7%,#393a99 95.5%,#3c55ab 97.1%,#3c55ab 100%)"></i>
<i style="top:419.52px;height:8.16px;background:repeating-linear-gradient(90deg,transparent 0 2.7px,rgba(52,118,190,.38) 2.7px 5.4px,transparent 5.4px 5.4px) 0px 0/49.3px 100% no-repeat,repeating-linear-gradient(90deg,transparent 0 2.7px,rgba(52,118,190,.4) 2.7px 5.7px,transparent 5.7px 6px) 49.3px 0/53.8px 100% no-repeat,repeating-linear-gradient(90deg,transparent 0 3.6px,rgba(52,118,190,.32) 3.6px 8px,transparent 8px 8.8px) 103px 0/52.9px 100% no-repeat,linear-gradient(90deg,#3d50a8 0%,#3c59ad 1.1%,#3b409e 2.6%,#3c55ab 4.3%,#3c55ab 5%,#3b43a0 7%,#3c59ad 9.8%,#3c54aa 10.5%,#3c5aad 11.4%,#3d4ba6 12.6%,#3b5aae 13.5%,#3b419f 14.9%,#3d4da7 15.1%,#3c48a4 15.6%,#383695 15.8%,#373392 16.2%,#3b43a0 16.3%,#3b43a0 16.7%,#393796 16.9%,#393998 17.2%,#3a3d9c 17.4%,#3d4ba6 17.6%,#3d51a9 18%,#3c48a4 18.1%,#3c46a2 18.7%,#3d50a8 18.8%,#3d4ba6 19.2%,#3a3d9c 19.4%,#3b3f9d 19.7%,#3c44a1 19.9%,#3c57ac 20.1%,#3a60b0 20.5%,#3d4da7 20.6%,#3d4da7 21.2%,#3768b4 21.3%,#3669b4 21.8%,#3d4da7 21.9%,#abbb65 22%,#b4bb62 22.3%,#a5bc68 22.6%,#8dbc71 22.7%,#69ba81 22.9%,#37b299 23%,#15aab7 23.2%,#199cce 23.3%,#1f95cf 23.4%,#12a5c6 23.6%,#22aea9 23.7%,#8cbc72 24%,#b8ba60 24.1%,#dcb850 24.3%,#f4b841 24.4%,#fcbc39 24.5%,#fccd2e 25.1%,#fdc334 25.4%,#f9bb3c 25.5%,#e1b84c 25.7%,#b0bb63 25.8%,#69ba81 25.9%,#1dadad 26.1%,#1c99d0 26.2%,#13a5c4 26.8%,#14a8bc 27.2%,#14a2ca 27.8%,#1e97d0 28%,#3174bb 28.6%,#3272ba 28.7%,#2192ce 28.9%,#15a9b9 29%,#1b9acf 29.1%,#14a7be 29.3%,#23aea7 29.4%,#59b788 29.7%,#6cba7f 30%,#67b982 30.3%,#52b78b 30.5%,#19acb1 31%,#13a6c2 31.1%,#189dcd 31.2%,#2290cd 31.4%,#3274bb 31.7%,#3272ba 31.8%,#2291cd 32.1%,#12a4c8 32.4%,#14a7bf 32.5%,#3c46a3 32.6%,#3a3b9a 32.8%,#393a99 32.9%,#393a99 33.5%,#3a3d9c 33.6%,#3c54ab 33.9%,#3c55ab 34.4%,#3c55ab 34.7%,#393a99 35.1%,#393a99 35.8%,#3c55ab 36.4%,#3c55ab 37.1%,#393a99 37.7%,#3a3b9a 38.5%,#3c55ab 38.9%,#3c55ab 39.6%,#3c53aa 39.9%,#393a99 40.3%,#3a3b9a 41.3%,#3c55ab 41.7%,#3c55ab 41.8%,#3c55ab 42.7%,#393a99 43.2%,#393a99 44.2%,#3c55ab 44.8%,#3c55ab 45%,#3c55ab 45.9%,#393a99 46.4%,#393a99 47.6%,#3c54aa 48.1%,#3c55ab 48.8%,#3c55ab 49.4%,#393a99 50.1%,#3a3b9a 51.3%,#3c55ab 51.9%,#3c55ab 52%,#3c55ab 53.3%,#393a99 54%,#3a3b9a 55.4%,#3c55ab 56.1%,#3c55ab 57.3%,#3c53aa 57.6%,#393a99 58.3%,#393a99 59.8%,#3c54aa 60.5%,#3c55ab 60.8%,#3c54aa 62.3%,#393a99 63.2%,#393a99 64.9%,#3c55ab 65.7%,#3c55ab 67.2%,#3c55ab 67.6%,#393a99 68.6%,#393a99 70.6%,#3c53aa 71.4%,#3c55ab 72.1%,#3c55ab 73.6%,#3a3b9a 74.6%,#393a99 75.7%,#393a99 77%,#3c55ab 78.1%,#3c55ab 80.6%,#393a99 81.7%,#393a99 82.6%,#393a99 84.4%,#3c55ab 85.6%,#3c55ab 88.4%,#393a99 89.8%,#393a99 91.1%,#393a99 92.9%,#3c55ab 94.4%,#3c55ab 97.6%,#3a3b9a 99.2%,#393a99 100%)"></i>
<i style="top:427.08px;height:8.16px;background:repeating-linear-gradient(90deg,transparent 0 .7px,rgba(52,118,190,.29) .7px 3.3px,transparent 3.3px 5.2px) 0px 0/49.3px 100% no-repeat,repeating-linear-gradient(90deg,transparent 0 2.3px,rgba(52,118,190,.33) 2.3px 5.4px,transparent 5.4px 6.2px) 49.3px 0/53.8px 100% no-repeat,repeating-linear-gradient(90deg,rgba(52,118,190,.29) 0 .4px,transparent .4px 4.9px,rgba(52,118,190,.29) 4.9px 9px) 103px 0/52.9px 100% no-repeat,linear-gradient(90deg,#3d51a9 0%,#3b3f9d 1.1%,#3d52a9 2.5%,#3a3c9b 4.2%,#3c58ad 5.6%,#3c53aa 6.6%,#3c58ac 7.8%,#3d4ea8 8.4%,#3b5bae 9.8%,#3b419e 11.2%,#3c45a1 12%,#3a5faf 13.5%,#3d4da7 14.1%,#3d4ea7 15.2%,#3d49a5 15.6%,#3a3c9b 15.8%,#393a99 16.2%,#3d4ca7 16.3%,#3c53aa 16.7%,#3b409e 16.9%,#3b409e 17.2%,#3b429f 17.4%,#3c58ac 17.6%,#3c56ab 18%,#3a3d9c 18.1%,#383796 18.7%,#3d4ea7 18.8%,#3d4ea7 19.2%,#393796 19.4%,#3c44a1 19.9%,#3a5eaf 20.1%,#3962b1 20.5%,#3c53aa 20.6%,#3d4ea7 21.2%,#3c57ac 21.9%,#a6bc67 22%,#94bc6e 22.3%,#7cbc78 22.5%,#28afa3 22.7%,#14a7bf 22.9%,#1d98d1 23%,#189ecd 23.2%,#15aab7 23.3%,#38b299 23.4%,#a1bc69 23.7%,#e3b84b 24%,#f5b940 24.1%,#fbbc3a 24.3%,#fdc433 24.7%,#fdbd38 25%,#f5b940 25.1%,#dbb850 25.2%,#acbb65 25.4%,#69ba81 25.5%,#20adaa 25.7%,#199cce 25.8%,#3865b2 26.1%,#3c56ac 26.2%,#3a60b0 27.3%,#3d4ca7 28.7%,#3d50a9 28.9%,#3a60b0 29%,#3a60b0 29.1%,#1b9bcf 29.6%,#14a7c0 29.7%,#20adaa 29.8%,#4eb68e 30.1%,#5fb885 30.4%,#4fb68d 30.8%,#2db09e 31.1%,#15a9ba 31.4%,#14a2c9 31.5%,#1d98d1 31.7%,#336fb8 32.1%,#1c99d1 32.5%,#3c55ab 32.6%,#3c55ab 33.3%,#393a99 33.8%,#393a99 34.4%,#3c55ab 35%,#3c55ab 35.7%,#3a3b9a 36.1%,#393a99 36.3%,#393a99 37%,#3c55ab 37.5%,#3c55ab 38.4%,#3a3a99 38.8%,#393a99 38.9%,#393a99 39.7%,#3c54ab 40.2%,#3c55ab 40.3%,#3c55ab 41.1%,#393a99 41.7%,#393a99 42.7%,#3c55ab 43.2%,#3c53aa 44.4%,#393a99 44.9%,#3a3c9b 46%,#3c55ab 46.6%,#3c55ab 47.7%,#393a99 48.3%,#393a99 48.4%,#393a99 49.5%,#3c55ab 50.2%,#3c55ab 51.5%,#393a99 52.2%,#3a3b9a 53.6%,#3c55ab 54.3%,#3c55ab 55.6%,#393a99 56.3%,#393a99 57.9%,#3c55ab 58.7%,#3c55ab 60.3%,#393a99 61.1%,#3a3b9a 62.9%,#3c55ab 63.7%,#3c55ab 65.6%,#393a99 66.4%,#393a99 68.3%,#3c55ab 69.3%,#3c55ab 71.4%,#393a99 72.5%,#3a3b9a 74.8%,#3c55ab 75.7%,#3c55ab 78.1%,#393a99 79.4%,#393a99 81.9%,#3c55ab 83.1%,#3c55ab 85.9%,#393a99 87.3%,#393a99 90.2%,#3c55ab 91.6%,#3c55ab 94.8%,#393a99 96.5%,#393a99 100%)"></i>
<i style="top:434.64px;height:8.16px;background:repeating-linear-gradient(90deg,rgba(52,118,190,.34) 0 1.3px,transparent 1.3px 3.8px,rgba(52,118,190,.34) 3.8px 5.1px) 0px 0/49.3px 100% no-repeat,repeating-linear-gradient(90deg,transparent 0 1.9px,rgba(52,118,190,.43) 1.9px 5px,transparent 5px 6.3px) 49.3px 0/53.8px 100% no-repeat,repeating-linear-gradient(90deg,rgba(52,118,190,.41) 0 1.5px,transparent 1.5px 6.1px,rgba(52,118,190,.41) 6.1px 9.2px) 103px 0/52.9px 100% no-repeat,linear-gradient(90deg,#3c48a4 0%,#3d4ba6 .7%,#3a3c9b 2.2%,#3d50a8 3.5%,#3b409e 4.9%,#3a5fb0 7.1%,#3d4ca6 8.4%,#3d4aa5 9.6%,#3b409e 10.2%,#3d4fa8 11.7%,#3c44a1 12%,#3a3b9a 13%,#3a3b9a 13.1%,#3c46a2 13.2%,#3d4aa6 13.7%,#3a3d9c 13.8%,#3a3d9c 14.4%,#3d49a5 14.5%,#393897 15.3%,#3c59ad 16.7%,#3c5aad 17.6%,#3c44a1 18.5%,#3b5bae 19.8%,#3b5bae 19.9%,#3d4fa8 20.1%,#3d51a9 20.4%,#3c53aa 20.5%,#356bb6 20.6%,#3371b9 21.2%,#3c56ab 21.3%,#3c52aa 21.8%,#3669b4 21.9%,#84bc75 22%,#6aba80 22.2%,#1eadac 22.5%,#12a4c7 22.6%,#1f94cf 22.7%,#12a5c6 22.9%,#20adaa 23%,#83bc75 23.3%,#acbb65 23.4%,#e4b84b 23.7%,#f3b842 23.8%,#fcbd39 24.3%,#f2b843 24.7%,#d8b852 24.8%,#adbb64 25%,#71bb7d 25.1%,#27afa3 25.2%,#14a2ca 25.4%,#2887c8 25.5%,#356cb6 25.7%,#3d4da7 25.9%,#3a5eaf 26.9%,#3c45a2 27.6%,#3c57ac 27.9%,#3a5eaf 28.3%,#3d51a9 29%,#3c47a3 29.1%,#3864b2 29.6%,#268aca 29.8%,#199cce 30%,#14a7be 30.1%,#44b492 30.5%,#50b68c 30.8%,#3db397 31.2%,#16aab6 31.7%,#1a9cce 31.9%,#3273bb 32.4%,#2f7abf 32.5%,#393a99 32.6%,#3a3c9b 33.2%,#3c53aa 33.5%,#3c55ab 33.6%,#3c55ab 34.3%,#393a99 34.7%,#393a99 35.6%,#3c55ab 36%,#3c55ab 36.8%,#393a99 37.4%,#393a99 38.2%,#3c55ab 38.8%,#3c55ab 39.6%,#393a99 40.2%,#393a99 40.6%,#393a99 41.1%,#3c55ab 41.7%,#3c55ab 42.7%,#393a99 43.2%,#393a99 43.7%,#3a3b9a 44.4%,#3c55ab 44.9%,#3c55ab 46%,#393a99 46.6%,#3a3a99 47.8%,#3c55ab 48.4%,#3c55ab 49.7%,#393a99 50.3%,#393a99 51.6%,#3c55ab 52.4%,#3c55ab 53.7%,#393a99 54.5%,#393a99 55.9%,#3c55ab 56.8%,#3c55ab 58.3%,#393a99 59.1%,#393a99 60.8%,#3c55ab 61.6%,#3c55ab 63.5%,#393a99 64.3%,#393a99 65.3%,#393a99 66.2%,#3c55ab 67.2%,#3c55ab 69.2%,#393a99 70.2%,#393a99 70.9%,#393a99 72.4%,#3c55ab 73.5%,#3c55ab 75.7%,#393a99 76.8%,#393a99 78%,#3a3b9a 79.5%,#3c55ab 80.6%,#3c55ab 83.3%,#3a3b9a 84.5%,#393a99 84.9%,#393a99 87.6%,#3c54ab 88.8%,#3c55ab 89.8%,#3c54ab 92.2%,#393a99 93.6%,#393a99 97.1%,#3c54ab 98.6%,#3c55ab 100%)"></i>
<i style="top:442.2px;height:8.16px;background:repeating-linear-gradient(90deg,transparent 0 1.8px,rgba(52,118,190,.52) 1.8px 4.3px,transparent 4.3px 4.9px) 0px 0/49.3px 100% no-repeat,repeating-linear-gradient(90deg,transparent 0 1.4px,rgba(52,118,190,.4) 1.4px 4.6px,transparent 4.6px 6.5px) 49.3px 0/53.8px 100% no-repeat,repeating-linear-gradient(90deg,rgba(52,118,190,.4) 0 2.8px,transparent 2.8px 7.5px,rgba(52,118,190,.4) 7.5px 9.4px) 103px 0/52.9px 100% no-repeat,linear-gradient(90deg,#3c57ac 0%,#3a3d9c 1.7%,#3c55ab 2.9%,#3d4fa8 3.6%,#3c5aad 4.9%,#3d50a9 6.3%,#3c5aae 7.9%,#3c52aa 10.3%,#3a5eaf 11.6%,#3b5bae 11.9%,#3d4ea7 12%,#3c48a4 12.4%,#3d4da7 13.7%,#3b429f 13.8%,#3b419e 13.9%,#3b43a0 14.4%,#3c56ab 14.5%,#3c5aae 14.9%,#3d4aa5 15.1%,#3d4ca7 15.6%,#3a5daf 15.8%,#3c5aad 16.2%,#3b43a0 16.3%,#3a3b9a 16.7%,#3d4fa8 16.9%,#3c54aa 17.4%,#3b429f 17.6%,#3d4ba6 18%,#3864b2 18.1%,#3766b2 18.4%,#3768b3 18.7%,#3d4ea8 18.8%,#3d4da7 19.2%,#3768b3 19.4%,#3865b2 19.9%,#3d4ca7 20.1%,#3d4ba6 20.5%,#3b5bae 20.6%,#3c5aae 21.2%,#3c52aa 21.8%,#3c46a2 21.9%,#30b19d 22%,#16abb5 22.2%,#16a0cb 22.3%,#1a9bcf 22.5%,#14a8bd 22.6%,#2ab0a1 22.7%,#8dbc71 23%,#cdb957 23.3%,#edb845 23.6%,#f7ba3e 24%,#ebb846 24.3%,#d5b853 24.4%,#b1bb63 24.5%,#7cbc78 24.7%,#35b29a 24.8%,#13a6c1 25%,#2290cd 25.1%,#3a60b0 25.4%,#3a5eaf 25.5%,#1d98d1 26.2%,#14a2c9 26.4%,#15a9ba 26.5%,#21aea9 26.6%,#4fb68d 26.9%,#61b885 27.1%,#68b981 27.2%,#5fb885 27.3%,#3ab298 27.5%,#2ab0a1 27.6%,#59b888 27.8%,#67b982 27.9%,#63b983 28%,#54b78a 28.2%,#25aea5 28.5%,#16aab6 28.6%,#12a4c7 28.7%,#1b9bcf 28.9%,#238ecc 29%,#3865b2 29.1%,#3d50a9 29.7%,#3669b4 30%,#238fcc 30.3%,#179fcc 30.4%,#14a8bd 30.5%,#2cb09f 30.8%,#41b494 31.1%,#34b19b 31.5%,#16abb5 31.9%,#179ecc 32.2%,#2094cf 32.4%,#2886c8 32.5%,#3c55ab 32.6%,#3c55ab 32.9%,#393a99 33.3%,#3a3b9a 34.2%,#3c55ab 34.6%,#3c55ab 35.4%,#393a99 35.8%,#393a99 36.7%,#3c55ab 37.2%,#3c55ab 38.1%,#393a99 38.6%,#3a3c9b 39.6%,#3c55ab 40%,#3c55ab 41%,#393a99 41.6%,#393a99 42.7%,#3c55ab 43.2%,#3c55ab 44.4%,#393a99 44.9%,#393a99 46%,#3c55ab 46.7%,#3c55ab 47.8%,#393a99 48.5%,#393a99 49.8%,#3c55ab 50.5%,#3c55ab 51.9%,#393a99 52.6%,#3a3c9b 54.1%,#3c55ab 54.8%,#3c55ab 56.3%,#393a99 57.2%,#393a99 58.7%,#3c55ab 59.6%,#3c54ab 61.4%,#393a99 62.2%,#393a99 64%,#3c55ab 65%,#3c55ab 66.9%,#393a99 67.9%,#393a99 70%,#3c55ab 71.1%,#3c55ab 73.4%,#393a99 74.5%,#3a3b9a 77%,#3c55ab 78.1%,#3c55ab 80.8%,#393a99 82%,#3a3b9a 84.9%,#3c55ab 86.2%,#3c55ab 89.3%,#393a99 90.8%,#393a99 94.1%,#3c55ab 95.8%,#3c55ab 99.4%,#3d4da7 100%)"></i>
<i style="top:449.76px;height:8.16px;background:repeating-linear-gradient(90deg,transparent 0 0px,rgba(52,118,190,.42) 0px 2.4px,transparent 2.4px 4.8px) 0px 0/49.3px 100% no-repeat,repeating-linear-gradient(90deg,transparent 0 .9px,rgba(52,118,190,.45) .9px 4.2px,transparent 4.2px 6.6px) 49.3px 0/53.8px 100% no-repeat,repeating-linear-gradient(90deg,rgba(52,118,190,.42) 0 4.1px,transparent 4.1px 8.9px,rgba(52,118,190,.42) 8.9px 9.7px) 103px 0/52.9px 100% no-repeat,linear-gradient(90deg,#3d4fa8 0%,#3c57ac 3.6%,#3d4ca6 4.7%,#3d52a9 5.7%,#3a3b9a 7.5%,#3a3c9b 8.5%,#3c59ad 9.9%,#3c58ad 11.9%,#3d4ea8 12%,#3a5eaf 13%,#3d4ca7 14.2%,#3c52aa 14.5%,#3d4ba6 14.9%,#3a3d9c 15.1%,#3b419e 15.6%,#3c53aa 15.8%,#3c5aae 16.2%,#3c47a3 16.3%,#3c45a1 16.7%,#3c5aad 16.9%,#3a5daf 17.4%,#3d4ba6 17.6%,#3c53aa 18%,#3865b2 18.1%,#3865b2 18.7%,#3c58ac 18.8%,#3d51a9 19.2%,#3c55ab 19.9%,#3a60b0 20.1%,#3865b2 20.5%,#3d50a9 20.6%,#3d49a5 21.2%,#3961b1 21.3%,#3b5cae 21.8%,#3b43a0 21.9%,#1b9bcf 22%,#16a0cb 22.2%,#16abb5 22.3%,#36b29a 22.5%,#68b981 22.6%,#92bc6f 22.7%,#b2bb63 22.9%,#dab850 23.2%,#eeb845 23.6%,#e4b84b 23.8%,#d2b954 24%,#b3bb62 24.1%,#86bc74 24.3%,#47b591 24.4%,#16aab6 24.5%,#1c99d0 24.7%,#3767b3 25%,#2290cd 25.4%,#16a0cb 25.5%,#15aab7 25.7%,#31b19d 25.8%,#95bc6e 26.1%,#bdba5e 26.2%,#deb84e 26.4%,#f5b940 26.5%,#fdbf37 26.6%,#f9d72b 26.9%,#f4ec2b 27.5%,#f6e229 28%,#fdc235 28.5%,#f8ba3d 28.6%,#e5b84a 28.7%,#a0bc6a 29%,#16a0cb 29.1%,#1e96d0 29.3%,#3370b9 29.7%,#3c57ac 30.1%,#336fb8 30.4%,#2094cf 30.7%,#15a1ca 30.8%,#15a9bb 31%,#28afa3 31.2%,#33b19c 31.5%,#26afa4 31.9%,#13a7c1 32.4%,#15a0cb 32.5%,#393a99 32.6%,#3c54aa 33.1%,#3c55ab 33.2%,#3c55ab 33.9%,#3a3b9a 34.3%,#393a99 34.4%,#393a99 35.1%,#3c55ab 35.7%,#3c55ab 36.1%,#3c55ab 36.5%,#393a99 37.1%,#393a99 37.9%,#3c55ab 38.5%,#3c55ab 39.5%,#393a99 40%,#393a99 41%,#3c55ab 41.6%,#3c55ab 42.4%,#3c54aa 42.7%,#393a99 43.2%,#393a99 44.4%,#3c55ab 44.9%,#3c55ab 46.2%,#393a99 46.7%,#393a99 48%,#3d51a9 48.5%,#3c55ab 48.8%,#3c54aa 50.1%,#393a99 50.8%,#3a3b9a 52.2%,#3c55ab 52.9%,#3c55ab 53.7%,#3c54ab 54.4%,#393a99 55.1%,#393a99 56.6%,#3c55ab 57.5%,#3c55ab 58.2%,#3c54aa 59.3%,#393a99 60.1%,#393a99 61.8%,#3c55ab 62.8%,#3c55ab 64.4%,#3c55ab 64.7%,#393a99 65.7%,#3a3b9a 67.8%,#3c53aa 68.6%,#3c55ab 69.3%,#3c55ab 71%,#393a99 72.1%,#393a99 74.3%,#3c55ab 75.6%,#3c55ab 76.4%,#3c54ab 78.2%,#393a99 79.4%,#393a99 82.1%,#3c55ab 83.5%,#3c55ab 86.5%,#3a3b9a 87.9%,#393a99 88.6%,#393a99 91.2%,#3c55ab 92.7%,#3c55ab 96.4%,#393a99 98%,#393a99 100%)"></i>
<i style="top:457.32px;height:8.16px;background:repeating-linear-gradient(90deg,rgba(52,118,190,.41) 0 .6px,transparent .6px 2.9px,rgba(52,118,190,.41) 2.9px 4.6px) 0px 0/49.3px 100% no-repeat,repeating-linear-gradient(90deg,transparent 0 .4px,rgba(52,118,190,.41) .4px 3.8px,transparent 3.8px 6.8px) 49.3px 0/53.8px 100% no-repeat,repeating-linear-gradient(90deg,transparent 0 .5px,rgba(52,118,190,.35) .5px 5.4px,transparent 5.4px 9.9px) 103px 0/52.9px 100% no-repeat,linear-gradient(90deg,#3d50a9 0%,#3d51a9 1.4%,#3c48a4 2.4%,#3c57ac 4.9%,#3a3b9a 6.6%,#3c57ac 8.9%,#3c56ab 9.8%,#3d49a4 10.3%,#3c55ab 11.9%,#3d4da7 12%,#3d50a9 12.4%,#3a5fb0 12.6%,#3b5cae 13.1%,#3d4ca7 13.2%,#3c48a3 13.5%,#3c46a2 13.7%,#3d4fa8 13.8%,#3d4ca7 14.4%,#393796 15.6%,#3d49a5 17.6%,#3c46a2 18%,#393897 18.1%,#3b409e 18.7%,#3c58ad 18.8%,#3a5fb0 19.2%,#3c45a2 19.4%,#3c45a2 19.9%,#3961b0 20.1%,#3960b0 20.2%,#3a5eaf 20.5%,#3d4ca7 20.6%,#3b43a0 21.8%,#3c52aa 21.9%,#1cacaf 22%,#6eba7e 22.3%,#afbb64 22.6%,#d0b955 22.9%,#e0b84d 23.3%,#cdb957 23.6%,#b4bb62 23.7%,#8ebc71 23.8%,#58b789 24%,#1fadab 24.1%,#15a1cb 24.3%,#2689c9 24.4%,#3370b9 24.5%,#2192ce 24.8%,#14a2c9 25%,#1aacb0 25.1%,#44b493 25.2%,#7dbc78 25.4%,#d6b853 25.7%,#f4b841 25.8%,#fdbf37 25.9%,#f6e329 26.4%,#f4eb2a 26.8%,#f6e329 27.1%,#f9d62b 27.2%,#fdc334 27.3%,#edb846 27.5%,#e1b84c 27.6%,#fdbe37 27.8%,#f6e128 28%,#f4eb2a 28.3%,#f6e429 28.7%,#fbd02d 29%,#5bb887 29.1%,#27afa4 29.4%,#16abb5 29.6%,#12a4c7 29.7%,#1b9ad0 29.8%,#3a5daf 30.5%,#3866b2 30.7%,#1d98d1 31.1%,#13a3c9 31.2%,#15a9ba 31.4%,#27afa3 31.8%,#21aea9 32.2%,#16aab6 32.5%,#3d4aa5 32.6%,#393a99 32.9%,#3a3b9a 33.8%,#3c55ab 34.2%,#3c55ab 35%,#3a3c9b 35.4%,#393a99 35.6%,#393a99 36.4%,#3c54aa 36.8%,#3c55ab 37%,#3c55ab 37.8%,#393a99 38.4%,#393a99 39.3%,#3c55ab 39.9%,#3c55ab 40.9%,#393a99 41.6%,#393a99 42.5%,#3c55ab 43.2%,#3c55ab 44.4%,#393a99 44.9%,#393a99 45%,#393a99 46.2%,#3c55ab 46.9%,#3c55ab 48.1%,#393a99 48.8%,#393a99 50.2%,#3c55ab 50.9%,#3c55ab 52.3%,#393a99 53.1%,#393a99 54.7%,#3c55ab 55.5%,#3c55ab 57%,#393a99 58%,#393a99 59.7%,#3c55ab 60.5%,#3c55ab 62.5%,#393a99 63.5%,#393a99 65.4%,#3c55ab 66.4%,#3c55ab 68.6%,#393a99 69.6%,#393a99 72%,#3c55ab 73.1%,#3c55ab 75.6%,#393a99 76.8%,#393a99 79.5%,#3c55ab 80.9%,#3c55ab 83.7%,#393a99 85.2%,#393a99 88.3%,#3c55ab 90%,#3c55ab 93.3%,#393a99 95%,#393a99 98.7%,#3d4da7 100%)"></i>
<i style="top:464.88px;height:8.16px;background:repeating-linear-gradient(90deg,transparent 0 1.1px,rgba(52,118,190,.46) 1.1px 3.4px,transparent 3.4px 4.5px) 0px 0/49.3px 100% no-repeat,repeating-linear-gradient(90deg,rgba(52,118,190,.41) 0 3.3px,transparent 3.3px 6.8px,rgba(52,118,190,.41) 6.8px 7px) 49.3px 0/53.8px 100% no-repeat,repeating-linear-gradient(90deg,transparent 0 1.8px,rgba(52,118,190,.33) 1.8px 6.9px,transparent 6.9px 10.2px) 103px 0/52.9px 100% no-repeat,linear-gradient(90deg,#3c57ac 0%,#3c58ac .4%,#383493 2.6%,#3d4ca7 3.9%,#3d4ba6 7.5%,#3c56ac 9.9%,#3d4fa8 10%,#3d51a9 10.6%,#3c5aad 10.7%,#3c48a4 12.4%,#3c56ac 12.6%,#3c58ad 13.1%,#3c47a3 13.2%,#3c47a3 13.5%,#3c47a3 13.7%,#3c59ad 13.8%,#3c59ad 14.2%,#3c57ac 14.4%,#3b429f 14.5%,#3b3f9d 14.9%,#3c53aa 15.1%,#3c5aad 15.6%,#3d49a4 15.8%,#3d50a8 16.2%,#3668b4 16.3%,#356cb6 16.6%,#356cb6 16.7%,#3c52aa 16.9%,#3d52a9 17%,#3c53aa 17.4%,#356db6 17.6%,#356bb6 18%,#3d51a9 18.1%,#3d4aa5 18.7%,#3a5faf 18.8%,#3b5bae 19.2%,#3d4ea8 19.4%,#3c48a4 20.2%,#3d4aa5 20.5%,#3a5fb0 20.6%,#3a5fb0 21.2%,#3c44a1 21.3%,#3c44a1 21.8%,#3c57ac 21.9%,#71bb7d 22%,#92bc6f 22.2%,#baba5f 22.5%,#d0b955 22.9%,#c5ba5b 23.2%,#b2bb63 23.3%,#92bc6f 23.4%,#64b983 23.6%,#2aafa1 23.7%,#13a6c2 23.8%,#2093ce 24%,#2f7abf 24.1%,#1a9bcf 24.4%,#14a8bc 24.5%,#2db09e 24.7%,#9fbc6a 25%,#ebb846 25.2%,#fbbc3a 25.4%,#fdc731 25.5%,#f8dc29 25.8%,#f6e329 26.2%,#fdbf37 26.8%,#fccd2e 27.2%,#fdbe37 27.6%,#f6ba3f 27.8%,#e4b84b 27.9%,#aebb64 28.2%,#e8b848 28.3%,#fdbf37 28.5%,#f7dd28 28.7%,#f6e429 29%,#86bc74 29.1%,#78bb7a 29.4%,#68b981 29.6%,#21aea9 30%,#15a9bb 30.1%,#1f95d0 30.4%,#3961b1 31%,#248ccb 31.4%,#1b9bcf 31.5%,#12a4c7 31.7%,#1eadac 32.1%,#1cacaf 32.5%,#3c55ab 32.6%,#3c55ab 33.5%,#3a3b9a 33.9%,#393a99 34%,#3a3b9a 34.9%,#3c55ab 35.3%,#3c55ab 36.3%,#393a99 36.7%,#393a99 37.2%,#393a99 37.7%,#3c55ab 38.2%,#3c55ab 39.2%,#393a99 39.7%,#393a99 40.9%,#3c55ab 41.4%,#3c55ab 42.5%,#3a3b9a 43.1%,#393a99 43.9%,#393a99 44.4%,#3c55ab 45%,#3c54ab 46.3%,#393a99 46.9%,#393a99 48.3%,#3c55ab 49%,#3c55ab 50.3%,#393a99 51%,#393a99 52.3%,#3a3d9c 52.7%,#3c55ab 53.4%,#3c55ab 55%,#393a99 55.8%,#393a99 56.1%,#393a99 57.5%,#3c55ab 58.4%,#3c55ab 60.3%,#393a99 61.1%,#393a99 63%,#3c55ab 64%,#3c55ab 66.1%,#393a99 67.2%,#393a99 68.8%,#393a99 69.5%,#3c55ab 70.6%,#3c55ab 72.9%,#393a99 74.2%,#393a99 76.8%,#3c55ab 78.1%,#3c55ab 80.9%,#393a99 82.4%,#3a3a99 85.5%,#3c55ab 86.9%,#3c55ab 90.4%,#393a99 91.9%,#393a99 95.7%,#3c55ab 97.4%,#3c55ab 100%)"></i>
<i style="top:472.43px;height:8.16px;background:repeating-linear-gradient(90deg,rgba(52,118,190,.32) 0 1.7px,transparent 1.7px 4px,rgba(52,118,190,.32) 4px 4.6px) 0px 0/49.3px 100% no-repeat,repeating-linear-gradient(90deg,rgba(52,118,190,.27) 0 2.9px,transparent 2.9px 6.5px,rgba(52,118,190,.27) 6.5px 7.2px) 49.3px 0/53.8px 100% no-repeat,repeating-linear-gradient(90deg,transparent 0 3.2px,rgba(52,118,190,.34) 3.2px 8.4px,transparent 8.4px 10.5px) 103px 0/52.9px 100% no-repeat,linear-gradient(90deg,#3d4da7 0%,#3b42a0 .7%,#3c55ab 1.4%,#3c58ac 2%,#3a3e9c 3.3%,#383695 4.5%,#3a3c9b 5%,#3c56ac 6%,#3c52aa 6.8%,#3a5fb0 8.1%,#3d50a9 9.9%,#3c47a3 10%,#3c46a2 10.6%,#3d52a9 10.7%,#3c53aa 10.9%,#3d4ca6 12.4%,#3c53aa 12.6%,#3d4ea7 13.1%,#3a3c9b 13.2%,#393a99 13.4%,#3a3d9b 13.7%,#3d52a9 13.8%,#3c5aad 14.4%,#3c48a4 14.5%,#3d4da7 14.9%,#3865b2 15.1%,#3669b4 15.6%,#3d52a9 15.8%,#3d4fa8 16.2%,#3863b1 16.3%,#3960b0 16.7%,#3d4ca6 16.9%,#3d49a4 17.4%,#3c56ab 17.6%,#3c57ac 17.9%,#3d51a9 18.7%,#3b43a0 18.8%,#3b43a0 19%,#3c46a2 19.2%,#3a5faf 19.4%,#3863b1 19.9%,#3c48a4 20.1%,#3b419f 20.5%,#3d52a9 20.6%,#3c54aa 21.8%,#3b419f 21.9%,#a3bc68 22%,#b8ba60 22.3%,#c0ba5d 22.6%,#acbb65 22.9%,#93bc6f 23%,#6cba80 23.2%,#37b299 23.3%,#15a9b9 23.4%,#1b9bcf 23.6%,#2983c6 23.7%,#179fcc 24%,#16abb5 24.1%,#3cb397 24.3%,#77bb7a 24.4%,#d1b955 24.7%,#f0b844 24.8%,#fcbc39 25%,#fad52b 25.4%,#f8da29 25.7%,#f9d72b 25.8%,#fdc036 26.1%,#f0b844 26.2%,#c8b959 26.4%,#e4b84b 26.5%,#f6b93f 26.6%,#fdbd38 26.8%,#fdcb2f 27.2%,#fdc434 27.5%,#f5b940 27.8%,#e1b84d 27.9%,#a1bc69 28.2%,#48b591 28.5%,#65b983 28.6%,#b2bb63 28.7%,#e6b849 28.9%,#fcbd39 29%,#69ba81 29.1%,#7dbc78 29.4%,#71bb7d 29.8%,#54b78b 30.1%,#25aea6 30.4%,#15aab7 30.5%,#12a4c8 30.7%,#1c99d1 30.8%,#3863b1 31.4%,#2290cd 31.8%,#199cce 31.9%,#12a5c6 32.1%,#18abb2 32.5%,#393a99 32.6%,#393a99 33.2%,#3c55ab 33.8%,#3c55ab 34.6%,#393a99 35.1%,#3a3d9b 36.1%,#3c55ab 36.5%,#3c55ab 37.5%,#393a99 38.1%,#3a3c9b 39.2%,#3c55ab 39.7%,#3c55ab 40.7%,#393a99 41.4%,#393a99 42.5%,#3c55ab 43.1%,#3c55ab 43.2%,#3c55ab 44.4%,#393a99 45%,#393a99 46.3%,#3c55ab 47%,#3c55ab 48.4%,#393a99 49.1%,#3a3b9a 50.6%,#3c55ab 51.3%,#3c55ab 52.9%,#393a99 53.7%,#393a99 55.4%,#3c55ab 56.2%,#3c55ab 58%,#393a99 58.9%,#393a99 60.8%,#3c55ab 61.8%,#3c55ab 63.7%,#393a99 64.9%,#393a99 66.9%,#3c55ab 68.1%,#3c55ab 70.4%,#393a99 71.5%,#3a3a99 74.2%,#3c55ab 75.5%,#3c55ab 78.1%,#393a99 79.5%,#393a99 82.6%,#3c55ab 84%,#3c55ab 87.3%,#393a99 88.8%,#393a99 92.5%,#3c55ab 94.1%,#3c55ab 98.2%,#393a99 100%)"></i>
<i style="top:479.99px;height:8.16px;background:repeating-linear-gradient(90deg,transparent 0 2.3px,rgba(52,118,190,.25) 2.3px 4.7px,transparent 4.7px 4.7px) 0px 0/49.3px 100% no-repeat,repeating-linear-gradient(90deg,rgba(52,118,190,.29) 0 2.4px,transparent 2.4px 6.1px,rgba(52,118,190,.29) 6.1px 7.4px) 49.3px 0/53.8px 100% no-repeat,repeating-linear-gradient(90deg,transparent 0 4.6px,rgba(52,118,190,.27) 4.6px 10px,transparent 10px 10.7px) 103px 0/52.9px 100% no-repeat,linear-gradient(90deg,#3d4da7 0%,#3c55ab .8%,#3c56ac 2.4%,#3b409e 4.5%,#3c56ab 6.3%,#3b419f 8.4%,#3d4fa8 9.5%,#3c45a2 10.6%,#3c53aa 10.7%,#3c55ab 11%,#3c55ab 11.2%,#3d49a4 11.3%,#3c46a3 11.9%,#3c52aa 13%,#3b409e 14.4%,#383594 14.6%,#383695 14.9%,#3b429f 15.1%,#3d49a5 15.5%,#3d4aa5 16.7%,#3c54aa 16.9%,#3c53aa 17.4%,#3b419e 17.6%,#3a3d9c 18%,#3c56ac 18.1%,#3d4ea7 18.7%,#36308f 18.8%,#362f8e 19%,#373190 19.2%,#3c45a2 19.4%,#3b5bae 20.2%,#3b5daf 20.5%,#3c48a4 20.6%,#3b419f 21.2%,#3c5aad 21.3%,#3c57ac 21.8%,#3c48a4 21.9%,#abbb65 22%,#afbb64 22.2%,#a4bc68 22.5%,#8fbc70 22.6%,#6fba7e 22.7%,#1aacb1 23%,#15a0cb 23.2%,#258ccb 23.3%,#248dcb 23.4%,#179fcc 23.6%,#16abb5 23.7%,#3cb397 23.8%,#a7bb67 24.1%,#ebb847 24.4%,#fdc136 24.7%,#fcce2e 25.1%,#fdc036 25.5%,#f5b940 25.7%,#d2b954 25.8%,#9abc6c 25.9%,#4bb58f 26.1%,#15a9ba 26.2%,#2eb09e 26.5%,#58b789 26.8%,#65b982 26.9%,#70ba7e 27.2%,#6dba7f 27.3%,#56b78a 27.6%,#2bb0a0 27.9%,#14a8bc 28.2%,#1c99d0 28.5%,#2887c8 28.7%,#12a4c8 28.9%,#35b19b 29%,#12a4c7 29.1%,#1bacaf 29.3%,#52b68c 29.6%,#64b983 29.7%,#6fba7e 30%,#5cb887 30.4%,#36b29a 30.7%,#15aab8 31%,#13a3c8 31.1%,#1c99d1 31.2%,#346eb8 31.7%,#3767b3 31.8%,#2093cf 32.2%,#12a4c7 32.5%,#3c55ab 32.6%,#3c54aa 33.1%,#393a99 33.5%,#3a3b9a 34.4%,#3c55ab 34.9%,#3c55ab 35.8%,#393a99 36.4%,#393a99 37.4%,#3c55ab 37.9%,#3c55ab 38.2%,#3c55ab 39.1%,#393a99 39.6%,#393a99 40.7%,#3c55ab 41.3%,#3c55ab 42.5%,#393a99 43.1%,#393a99 44.4%,#3c55ab 45%,#3c55ab 46%,#3c55ab 46.4%,#393a99 47.1%,#393a99 48.5%,#3c55ab 49.4%,#3c55ab 50.8%,#393a99 51.6%,#393a99 53.1%,#3c55ab 54%,#3c55ab 54.8%,#3c54ab 55.8%,#393a99 56.6%,#393a99 58.4%,#3c55ab 59.4%,#3c55ab 61.4%,#393a99 62.3%,#393a99 64.4%,#3c55ab 65.6%,#3c55ab 66.5%,#3c54ab 67.9%,#393a99 69%,#393a99 71.4%,#3c55ab 72.7%,#3c55ab 75%,#3c54ab 75.5%,#393a99 76.7%,#393a99 79.6%,#3c55ab 81%,#3c55ab 82.8%,#3c55ab 84.2%,#393a99 85.8%,#393a99 89.3%,#3c55ab 90.9%,#3c55ab 94.8%,#393a99 96.7%,#393a99 100%)"></i>
<i style="top:487.55px;height:8.16px;background:repeating-linear-gradient(90deg,transparent 0 .6px,rgba(52,118,190,.33) .6px 3px,transparent 3px 4.8px) 0px 0/49.3px 100% no-repeat,repeating-linear-gradient(90deg,rgba(52,118,190,.34) 0 1.9px,transparent 1.9px 5.6px,rgba(52,118,190,.34) 5.6px 7.6px) 49.3px 0/53.8px 100% no-repeat,repeating-linear-gradient(90deg,rgba(52,118,190,.41) 0 .6px,transparent .6px 6.1px,rgba(52,118,190,.41) 6.1px 11px) 103px 0/52.9px 100% no-repeat,linear-gradient(90deg,#3c5aad 0%,#3b5cae .7%,#3d4ea8 2%,#3c5aad 3.8%,#3b409e 6.8%,#3d49a4 8.2%,#3963b1 8.9%,#3a60b0 9.9%,#3c56ab 10%,#3c53aa 10.5%,#3c53aa 10.6%,#3962b1 10.7%,#3a5eaf 11.2%,#3d4da7 11.3%,#3c47a3 11.9%,#3c53aa 12%,#3c52aa 12.3%,#3c46a2 12.6%,#3b429f 13.1%,#3d4aa5 13.2%,#3d4ca6 13.7%,#3c44a1 13.8%,#3c46a2 14.2%,#3c54aa 14.5%,#3c5aad 14.9%,#3d50a8 15.1%,#3c54aa 15.6%,#3865b2 15.8%,#3a5eaf 16.2%,#3b43a0 16.3%,#3a3b9a 16.7%,#3c57ac 16.9%,#3c5aad 17.4%,#3b419f 17.6%,#3d4ca6 18%,#3960b0 18.1%,#336fb8 18.8%,#366ab5 19.2%,#3c54aa 19.4%,#3d4ba6 19.8%,#3d4aa5 19.9%,#3864b2 20.1%,#3864b2 20.2%,#3963b1 20.5%,#3d50a8 20.6%,#3c47a3 21.8%,#3a5faf 21.9%,#98bc6d 22%,#88bc73 22.2%,#6eba7f 22.3%,#20adab 22.6%,#12a5c6 22.7%,#2093ce 22.9%,#258aca 23%,#199dcd 23.2%,#15a9b9 23.3%,#34b19b 23.4%,#6dba7f 23.6%,#9ebc6b 23.7%,#e1b84c 24%,#f4b941 24.1%,#fdbf37 24.4%,#fdc533 24.7%,#fdbf37 25%,#f7ba3e 25.1%,#e2b84c 25.2%,#b8ba60 25.4%,#7cbc78 25.5%,#2cb09f 25.7%,#13a3c9 25.8%,#2788c9 25.9%,#356cb6 26.1%,#3668b4 26.2%,#3078bd 26.8%,#2e7bc0 27.3%,#3c55ab 28.9%,#3766b3 29%,#3864b2 29.1%,#248ccb 29.4%,#179ecc 29.6%,#15a9ba 29.7%,#3db396 30%,#5db886 30.3%,#5db886 30.5%,#4eb68e 30.8%,#2cb09f 31.1%,#14a8bc 31.4%,#1e97d0 31.7%,#346db7 32.1%,#356cb6 32.2%,#2788c9 32.5%,#393a99 32.6%,#393a99 32.8%,#3c55ab 33.2%,#3c55ab 34.2%,#393a99 34.7%,#3a3b9a 35.7%,#3c54aa 36.1%,#3c55ab 37.2%,#3a3e9d 37.7%,#393a99 37.9%,#393a99 38.9%,#3c55ab 39.5%,#3c55ab 40.6%,#3a3c9b 41.1%,#393a99 42.1%,#3a3c9b 42.5%,#3c55ab 43.1%,#3c55ab 44.4%,#393a99 45%,#393a99 45.5%,#393a99 46.4%,#3c55ab 47.3%,#3c55ab 48.7%,#393a99 49.4%,#3a3b9a 51%,#3c55ab 51.7%,#3c55ab 53.4%,#3a3b9a 54.3%,#393a99 56.1%,#3c55ab 57%,#3c55ab 59%,#3a3b9a 59.8%,#393a99 61.4%,#3a3b9a 62.1%,#3c55ab 63%,#3c55ab 65.3%,#393a99 66.5%,#393a99 68.8%,#3c55ab 70%,#3c55ab 72.5%,#393a99 73.9%,#393a99 76.7%,#3c55ab 78.1%,#3c55ab 81.2%,#393a99 82.7%,#393a99 86.1%,#3c55ab 87.9%,#3c55ab 91.5%,#393a99 93.3%,#393a99 97.4%,#3c55ab 99.3%,#3c55ab 100%)"></i>
<i style="top:495.11px;height:8.16px;background:repeating-linear-gradient(90deg,rgba(52,118,190,.46) 0 1.2px,transparent 1.2px 3.7px,rgba(52,118,190,.46) 3.7px 5px) 0px 0/49.3px 100% no-repeat,repeating-linear-gradient(90deg,rgba(52,118,190,.42) 0 1.3px,transparent 1.3px 5.2px,rgba(52,118,190,.42) 5.2px 7.8px) 49.3px 0/53.8px 100% no-repeat,repeating-linear-gradient(90deg,rgba(52,118,190,.29) 0 2.1px,transparent 2.1px 7.8px,rgba(52,118,190,.29) 7.8px 11.4px) 103px 0/52.9px 100% no-repeat,linear-gradient(90deg,#3d4fa8 0%,#3c53aa 1.4%,#373493 2.6%,#3c53aa 5.6%,#3c45a2 7.4%,#3c54ab 8.1%,#3c52aa 8.6%,#3c5aad 8.8%,#3c48a4 9.9%,#3a3e9c 10%,#3a3e9c 10.6%,#3d4ea8 10.7%,#3d52a9 11.2%,#3b3f9d 11.3%,#3b3f9e 11.4%,#3c44a1 11.9%,#3c59ad 12%,#3b5daf 12.4%,#3d4aa5 12.6%,#3b409e 13.1%,#3d51a9 13.2%,#3c48a4 13.7%,#373291 13.8%,#373190 14.1%,#383493 14.4%,#3d50a8 14.5%,#3c57ac 14.9%,#3a3c9b 15.1%,#3a3b9a 15.6%,#3c55ab 15.8%,#3c56ac 16.2%,#3b409e 16.3%,#3b43a0 16.7%,#3c53aa 16.9%,#3c56ac 17.2%,#3c54aa 18%,#3b429f 18.1%,#3b3f9d 18.7%,#3c58ac 18.8%,#3c52aa 19.2%,#393a99 19.4%,#3a3b9a 19.5%,#3d51a9 20.5%,#3865b2 20.6%,#3865b2 20.8%,#3a5eaf 21.2%,#3b42a0 21.3%,#3a3c9b 21.8%,#3c45a2 21.9%,#47b591 22%,#23aea8 22.2%,#13a6c1 22.3%,#1d98d1 22.5%,#2887c8 22.6%,#1b9ad0 22.7%,#14a7bf 22.9%,#28afa2 23%,#8ebc71 23.3%,#d3b954 23.6%,#f4b941 23.8%,#fcbc39 24.3%,#f7ba3e 24.5%,#ecb846 24.7%,#d0b956 24.8%,#a3bc68 25%,#65b983 25.1%,#21adaa 25.2%,#179fcc 25.4%,#2983c6 25.5%,#366ab5 25.7%,#3d4ca6 25.9%,#3c47a3 26.1%,#3d4ca7 27.3%,#3b43a0 29%,#3c44a1 29.1%,#3c56ab 29.4%,#3273bb 29.7%,#1b9ad0 30%,#13a6c2 30.1%,#1bacaf 30.3%,#40b395 30.5%,#4fb68d 30.8%,#3eb396 31.2%,#17abb3 31.7%,#179ecc 31.9%,#2093cf 32.1%,#356bb5 32.5%,#3d4da7 32.6%,#3a3b9a 32.9%,#393a99 33.1%,#393a99 33.9%,#3c55ab 34.4%,#3c55ab 35.4%,#393a99 36%,#3a3b9a 37.1%,#3c55ab 37.7%,#3c55ab 38.8%,#393a99 39.3%,#393a99 39.6%,#3a3b9a 40.6%,#3c55ab 41.1%,#3c55ab 42.4%,#3a3e9c 43%,#393a99 43.2%,#3a3b9a 44.5%,#3c55ab 45.2%,#3c55ab 46.6%,#393a99 47.3%,#393a99 47.7%,#393a99 48.8%,#3c55ab 49.7%,#3c55ab 51.2%,#393a99 52%,#393a99 53.8%,#3c55ab 54.7%,#3c55ab 56.5%,#393a99 57.5%,#393a99 58.2%,#393a99 59.6%,#3c55ab 60.5%,#3c55ab 62.6%,#393a99 63.7%,#393a99 65.1%,#393a99 66.1%,#3c55ab 67.2%,#3c55ab 69.7%,#393a99 71%,#393a99 71.4%,#393a99 73.8%,#3c55ab 75.2%,#3c55ab 78.1%,#3a3b9a 79.5%,#393a99 80.3%,#393a99 83%,#3c55ab 84.5%,#3c55ab 88.1%,#3a3b9a 89.8%,#393a99 90.7%,#3a3b9a 94%,#3c55ab 95.8%,#3c55ab 100%)"></i>
<i style="top:502.67px;height:8.16px;background:repeating-linear-gradient(90deg,transparent 0 1.9px,rgba(52,118,190,.49) 1.9px 4.5px,transparent 4.5px 5.1px) 0px 0/49.3px 100% no-repeat,repeating-linear-gradient(90deg,rgba(52,118,190,.45) 0 .7px,transparent .7px 4.7px,rgba(52,118,190,.45) 4.7px 8px) 49.3px 0/53.8px 100% no-repeat,repeating-linear-gradient(90deg,rgba(52,118,190,.38) 0 3.6px,transparent 3.6px 9.5px,rgba(52,118,190,.38) 9.5px 11.7px) 103px 0/52.9px 100% no-repeat,linear-gradient(90deg,#3d4fa8 0%,#3c56ab .7%,#3d4da7 2.4%,#3a3b9a 3.6%,#3a60b0 5.3%,#3d51a9 6.6%,#3a5fb0 7.8%,#3d4da7 8.6%,#3c54aa 8.8%,#3c55ab 9.9%,#3d4ea7 10%,#3c52aa 10.6%,#3961b1 10.7%,#3a5eaf 11.2%,#3d4aa5 11.3%,#3c44a1 11.9%,#3c59ad 12%,#3c54ab 12.4%,#3a3a99 12.6%,#383796 13.1%,#3d51a9 13.2%,#3c59ad 13.7%,#3b429f 13.8%,#3d4aa5 14.4%,#3863b1 14.5%,#3960b0 14.9%,#3d49a5 15.1%,#3c45a1 15.3%,#3b419f 15.6%,#3d4fa8 15.8%,#3d4ea7 16.6%,#3d4ca7 16.7%,#3a3c9b 16.9%,#393a99 17.3%,#3a3b9a 17.4%,#3c55ab 17.6%,#3c59ad 18%,#3b409e 18.1%,#3d4ba6 18.7%,#3c5aad 18.8%,#3b5cae 19.2%,#3766b3 19.4%,#3961b1 19.9%,#3c45a2 20.1%,#3a3e9c 20.5%,#3d4fa8 20.6%,#3d49a5 21.2%,#3c54ab 21.8%,#3b3f9d 21.9%,#1a9bcf 22%,#2788c9 22.2%,#1f95d0 22.3%,#12a5c6 22.5%,#1fadab 22.6%,#7cbc78 22.9%,#c1ba5c 23.2%,#e6b84a 23.4%,#f5b940 23.8%,#eeb845 24.1%,#dcb84f 24.3%,#beba5e 24.4%,#90bc70 24.5%,#52b68c 24.7%,#18acb2 24.8%,#1a9bce 25%,#3669b4 25.2%,#3d4ea7 25.5%,#3864b2 26.1%,#238fcc 26.9%,#238ecc 27.2%,#3370b9 27.6%,#2a83c6 27.8%,#2290cd 28%,#2d7ec2 28.6%,#3865b2 29%,#3d52a9 29.1%,#3c48a4 29.6%,#3961b1 30%,#1e96d0 30.4%,#13a3c9 30.5%,#15aab7 30.7%,#2fb09e 31%,#3eb396 31.2%,#26afa5 31.8%,#12a4c8 32.2%,#238fcc 32.5%,#3c54ab 32.6%,#3c55ab 33.6%,#393a99 34.2%,#3a3b9a 35.3%,#3c53aa 35.7%,#3c55ab 36.1%,#3c55ab 36.8%,#393a99 37.5%,#393a99 38.6%,#3c55ab 39.2%,#3c55ab 40.4%,#393a99 41.1%,#393a99 42.4%,#3c55ab 43.1%,#3c55ab 44.5%,#393a99 45.2%,#393a99 46.6%,#3c55ab 47.4%,#3c55ab 48.1%,#3c55ab 49%,#393a99 49.8%,#393a99 51.5%,#3c55ab 52.3%,#3c55ab 53.8%,#3c53aa 54.3%,#393a99 55.1%,#393a99 57%,#3c55ab 58.2%,#3c55ab 60.1%,#393a99 61.2%,#393a99 63.5%,#3c54aa 64.4%,#3c55ab 65%,#3c54ab 67.1%,#393a99 68.2%,#393a99 70.9%,#3c54ab 72.1%,#3c55ab 73.1%,#3c55ab 75.2%,#393a99 76.6%,#393a99 79.8%,#3c55ab 81.3%,#3c55ab 84.8%,#393a99 86.6%,#393a99 90.4%,#3c55ab 92.3%,#3c55ab 96.7%,#393a99 98.6%,#393a99 100%)"></i>
<i style="top:510.23px;height:8.16px;background:repeating-linear-gradient(90deg,transparent 0 0px,rgba(52,118,190,.42) 0px 2.6px,transparent 2.6px 5.3px) 0px 0/49.3px 100% no-repeat,repeating-linear-gradient(90deg,rgba(52,118,190,.39) 0 .1px,transparent .1px 4.2px,rgba(52,118,190,.39) 4.2px 8.3px) 49.3px 0/53.8px 100% no-repeat,repeating-linear-gradient(90deg,rgba(52,118,190,.3) 0 5.3px,transparent 5.3px 11.3px,rgba(52,118,190,.3) 11.3px 12.1px) 103px 0/52.9px 100% no-repeat,linear-gradient(90deg,#3d4ba6 0%,#3d50a8 .7%,#3c46a2 1.8%,#3c44a1 3.2%,#3c57ac 4.3%,#3d4ba6 5.6%,#3c57ac 6.1%,#3c55ab 7.4%,#3b5cae 7.5%,#3c53aa 8.1%,#3c44a1 8.2%,#3a3d9c 8.6%,#3c45a2 8.8%,#3d51a9 9.9%,#3d49a4 10%,#3d4ea7 10.6%,#3b5cae 10.7%,#3b5daf 11.2%,#3d4da7 11.3%,#3d4ba6 11.9%,#3a5faf 12%,#3c59ad 12.4%,#3b42a0 12.6%,#3b429f 13.1%,#3c57ac 13.2%,#3b5bae 13.7%,#3d4aa6 13.8%,#3c48a4 13.9%,#3b43a0 14.4%,#3d4da7 14.5%,#3d50a9 15.6%,#3b43a0 15.8%,#3c45a2 16.2%,#3a5daf 16.3%,#3b5daf 16.7%,#3b429f 16.9%,#3c46a3 17.4%,#3b5bae 17.6%,#3b5daf 18.1%,#3c57ac 18.7%,#3a3e9c 18.8%,#393897 19.2%,#3d52a9 19.4%,#3c53aa 20.5%,#3b43a0 20.6%,#3c45a2 21.2%,#3a5fb0 21.3%,#3a5fb0 21.9%,#15a1cb 22%,#16abb4 22.2%,#37b29a 22.3%,#67b982 22.5%,#aebb64 22.7%,#d5b853 23%,#e8b849 23.4%,#deb84e 23.7%,#cab958 23.8%,#acbb65 24%,#7fbc77 24.1%,#41b494 24.3%,#15aab8 24.4%,#1c99d0 24.5%,#3768b4 24.8%,#3c58ad 25%,#3766b2 25.2%,#238fcd 25.7%,#189ecd 25.8%,#14a8bd 25.9%,#25aea5 26.1%,#7bbc78 26.4%,#c1ba5d 26.6%,#efb844 26.9%,#fdbd38 27.2%,#fdbf37 27.9%,#f3b842 28.2%,#c7b959 28.5%,#85bc75 28.7%,#2cb09f 29%,#2886c7 29.1%,#3766b3 29.6%,#3d4da7 30.1%,#3960b0 30.4%,#2192ce 30.8%,#16a0cb 31%,#14a8be 31.1%,#25aea6 31.4%,#2cb09f 31.7%,#23aea7 32.1%,#13a6c2 32.5%,#393a99 32.6%,#3a3c9b 33.5%,#3c55ab 33.9%,#3c55ab 34%,#3c55ab 35%,#393a99 35.6%,#393a99 36.7%,#3c55ab 37.2%,#3c55ab 38.5%,#393a99 39.1%,#393a99 40.3%,#3c55ab 41%,#3c55ab 42.4%,#393a99 43.1%,#393a99 44.5%,#3c55ab 45.2%,#3c55ab 46.7%,#393a99 47.6%,#3a3b9a 49.2%,#3c55ab 50.1%,#3c55ab 51.7%,#393a99 52.7%,#393a99 54.5%,#3c55ab 55.5%,#3c55ab 57.5%,#393a99 58.6%,#3a3b9a 60.8%,#3c55ab 61.8%,#3c55ab 64.2%,#393a99 65.4%,#3a3b9a 68.1%,#3c55ab 69.3%,#3c55ab 72.1%,#393a99 73.5%,#393a99 76.6%,#3c55ab 78.1%,#3c55ab 81.5%,#393a99 83.1%,#393a99 86.9%,#3c55ab 88.7%,#3c55ab 92.9%,#393a99 95%,#3a3e9d 100%)"></i>
<i style="top:517.79px;height:8.16px;background:repeating-linear-gradient(90deg,rgba(52,118,190,.42) 0 .7px,transparent .7px 3.4px,rgba(52,118,190,.42) 3.4px 5.4px) 0px 0/49.3px 100% no-repeat,repeating-linear-gradient(90deg,transparent 0 3.7px,rgba(52,118,190,.52) 3.7px 8px,transparent 8px 8.5px) 49.3px 0/53.8px 100% no-repeat,repeating-linear-gradient(90deg,transparent 0 .8px,rgba(52,118,190,.46) .8px 7px,transparent 7px 12.5px) 103px 0/52.9px 100% no-repeat,linear-gradient(90deg,#3c48a4 0%,#3c44a1 .4%,#3c54aa 2.6%,#3c47a3 4.5%,#3d4ba6 5.6%,#3c55ab 6.1%,#3d4ea8 7.4%,#3c59ad 7.5%,#3c54aa 8.1%,#3c46a2 8.2%,#3b419f 8.6%,#3c46a2 8.8%,#3a3b9a 10.5%,#3a3c9b 10.6%,#3c48a4 10.7%,#3d4ca7 11.2%,#3b409e 11.3%,#3d4da7 11.9%,#3a5eaf 12%,#3961b0 12.3%,#3961b1 12.4%,#3c53aa 12.6%,#3c48a4 13.1%,#3c56ac 14.4%,#3d4ca6 14.5%,#3d4ba6 14.9%,#3961b0 15.1%,#3a5fb0 15.6%,#3c44a1 15.8%,#3d49a5 16.2%,#3962b1 16.3%,#3865b2 16.6%,#3865b2 16.7%,#3b5cae 16.9%,#3c5aad 17.4%,#3d4da7 17.6%,#3d4ba6 18%,#3865b2 18.1%,#3864b2 18.7%,#3d4fa8 18.8%,#3c48a4 19.5%,#3d4aa5 19.9%,#3962b1 20.1%,#3668b4 20.5%,#3c55ab 20.6%,#3c56ac 21.2%,#3d4da7 21.8%,#3766b3 21.9%,#53b78b 22%,#7cbc78 22.2%,#b2bb63 22.5%,#ccb957 22.7%,#d6b852 23%,#cbb958 23.3%,#b8ba60 23.4%,#99bc6c 23.6%,#6cba80 23.7%,#30b19d 23.8%,#14a7be 24%,#1e96d0 24.1%,#3767b3 24.4%,#3962b1 24.5%,#238ecc 25%,#179fcc 25.1%,#15aab7 25.2%,#33b19b 25.4%,#9dbc6b 25.7%,#c6b95a 25.8%,#e8b848 25.9%,#fabb3b 26.1%,#fad32c 26.4%,#f5e629 26.6%,#f3ed2b 27.1%,#f6e129 27.6%,#f4ec2a 27.9%,#f4eb2a 28.3%,#f6e129 28.6%,#fdc930 28.9%,#fcbd39 29%,#34b19b 29.1%,#14a8bc 29.4%,#1e96d0 29.7%,#3865b2 30.3%,#3c55ab 30.7%,#238ecc 31.2%,#199cce 31.4%,#13a5c5 31.5%,#21aea9 31.9%,#1aacb0 32.5%,#3c55ab 32.6%,#3c53aa 33.2%,#3a3b9a 33.6%,#393a99 33.8%,#393a99 34.7%,#3c55ab 35.3%,#3c55ab 35.4%,#3c54aa 36.5%,#393a99 37.1%,#3a3b9a 38.4%,#3c55ab 38.9%,#3c55ab 40.2%,#393a99 41%,#393a99 42.3%,#3c55ab 43.1%,#3c55ab 44.5%,#3a3b9a 45.2%,#393a99 45.5%,#393a99 46.9%,#3c55ab 47.7%,#3c55ab 49.4%,#393a99 50.2%,#393a99 51.5%,#3a3c9b 52.2%,#3c55ab 53%,#3c55ab 55%,#393a99 55.9%,#393a99 57.5%,#3a3c9b 58.2%,#3c55ab 59.1%,#3c55ab 61.4%,#3a3b9a 62.5%,#393a99 63.9%,#393a99 65.1%,#3c55ab 66.4%,#3c55ab 69%,#3a3b9a 70.3%,#393a99 71.1%,#393a99 73.4%,#3c55ab 74.9%,#3c55ab 78.2%,#393a99 80.1%,#393a99 83.4%,#3c54ab 85.1%,#3c55ab 85.8%,#3c55ab 89.3%,#393a99 91.2%,#393a99 95.7%,#3c55ab 97.8%,#3c55ab 100%)"></i>
<i style="top:525.35px;height:8.16px;background:repeating-linear-gradient(90deg,transparent 0 1.4px,rgba(52,118,190,.3) 1.4px 4.2px,transparent 4.2px 5.6px) 0px 0/49.3px 100% no-repeat,repeating-linear-gradient(90deg,transparent 0 3.1px,rgba(52,118,190,.28) 3.1px 7.5px,transparent 7.5px 8.8px) 49.3px 0/53.8px 100% no-repeat,repeating-linear-gradient(90deg,transparent 0 2.5px,rgba(52,118,190,.5) 2.5px 8.9px,transparent 8.9px 12.9px) 103px 0/52.9px 100% no-repeat,linear-gradient(90deg,#3c57ac 0%,#3b5cae 1.5%,#3b409e 3.1%,#3a5eaf 4.3%,#3b5bae 4.9%,#3d4ca6 5.6%,#3c53aa 5.7%,#3c58ac 6.8%,#3d4ca7 7%,#3c48a4 7.4%,#3c56ab 7.5%,#3c55ab 8.1%,#3d4aa5 8.2%,#3d51a9 8.9%,#3a3c9b 10.3%,#3d50a9 11.2%,#3d4aa5 11.3%,#3c58ad 13.1%,#3d50a9 13.2%,#3d4da7 13.7%,#3a5eaf 13.8%,#3b5daf 14.4%,#3c44a1 14.5%,#3d4ba6 14.9%,#3669b4 15.1%,#356db7 15.5%,#356bb6 15.6%,#3c57ac 15.8%,#3c53aa 16%,#3d50a9 16.7%,#3864b2 16.9%,#3a60b0 17.4%,#3c44a1 17.6%,#3b409e 18%,#3d4da7 18.1%,#3d4ca7 18.7%,#3c57ac 18.8%,#3c59ad 19%,#3c59ad 19.2%,#3b409e 19.4%,#3c44a1 19.9%,#3d51a9 20.1%,#3d4fa8 20.5%,#3b5cae 20.6%,#3c57ac 21.2%,#3b3f9d 21.3%,#3c45a2 21.9%,#9ebc6a 22%,#b8ba60 22.3%,#c3ba5c 22.6%,#b8ba61 22.9%,#a5bc68 23%,#85bc74 23.2%,#25aea6 23.4%,#13a5c5 23.6%,#2192ce 23.7%,#3766b3 24%,#346eb7 24.1%,#2291cd 24.4%,#14a2ca 24.5%,#1aacb1 24.7%,#45b492 24.8%,#7ebc77 25%,#d6b852 25.2%,#f4b841 25.4%,#fdbf37 25.5%,#f7df28 25.9%,#f5e529 26.4%,#f9d82a 26.6%,#f8bb3d 26.9%,#f0b844 27.1%,#efb844 27.3%,#dcb850 27.6%,#b0bb63 27.9%,#c7b95a 28%,#f4b941 28.2%,#fdc433 28.3%,#f7e028 28.6%,#f6e429 29%,#84bc75 29.1%,#7cbc78 29.3%,#5ab888 29.6%,#27afa4 29.8%,#16abb5 30%,#12a5c6 30.1%,#1b9acf 30.3%,#3371b9 30.7%,#3c55ab 31.1%,#356bb6 31.4%,#1d99d1 31.8%,#14a2ca 31.9%,#15aab7 32.2%,#1aacb1 32.5%,#393a99 32.6%,#3a3d9c 32.9%,#3c55ab 33.3%,#3c55ab 33.5%,#3c55ab 34.4%,#393a99 35.1%,#393a99 36.3%,#3c55ab 37%,#3c53aa 38.2%,#393a99 38.8%,#393a99 40.2%,#3c55ab 40.9%,#3c55ab 42.3%,#393a99 43%,#393a99 44.5%,#3c55ab 45.3%,#3c55ab 47%,#393a99 47.8%,#393a99 49.5%,#3c55ab 50.5%,#3c55ab 52.3%,#393a99 53.3%,#393a99 55.4%,#3c55ab 56.5%,#3c54ab 58.7%,#393a99 59.8%,#393a99 62.2%,#3c55ab 63.5%,#3c55ab 66%,#393a99 67.4%,#3a3a99 70.3%,#3c55ab 71.7%,#3c55ab 74.9%,#393a99 76.4%,#393a99 79.9%,#3c55ab 81.6%,#3c55ab 85.6%,#393a99 87.4%,#393a99 91.8%,#3c55ab 94%,#3c55ab 98.9%,#3c48a4 100%)"></i>
<i style="top:532.91px;height:8.16px;background:repeating-linear-gradient(90deg,rgba(52,118,190,.5) 0 2.2px,transparent 2.2px 5.1px,rgba(52,118,190,.5) 5.1px 5.8px) 0px 0/49.3px 100% no-repeat,repeating-linear-gradient(90deg,transparent 0 2.5px,rgba(52,118,190,.45) 2.5px 7.1px,transparent 7.1px 9.1px) 49.3px 0/53.8px 100% no-repeat,repeating-linear-gradient(90deg,transparent 0 4.2px,rgba(52,118,190,.46) 4.2px 10.9px,transparent 10.9px 13.3px) 103px 0/52.9px 100% no-repeat,linear-gradient(90deg,#3c53aa 0%,#3c57ac .7%,#3d49a5 2%,#3c5aad 4.2%,#3d4da7 5.4%,#3a5eaf 6.3%,#3c56ab 6.8%,#3c44a1 7%,#3a3d9c 7.4%,#3d4ba6 7.5%,#3c53aa 8.1%,#3d4ba6 8.2%,#3c52aa 8.8%,#3d4da7 9.5%,#3c58ac 10.7%,#3d4aa6 12%,#3d50a8 12.4%,#3a60b0 12.6%,#3766b2 13.1%,#3d50a8 13.2%,#3d51a9 13.7%,#346eb7 13.8%,#346eb8 13.9%,#3767b3 14.4%,#3d49a4 14.5%,#3a3d9c 14.9%,#3d49a5 15.1%,#3c47a3 15.6%,#3b5cae 16.2%,#3c46a2 16.3%,#3c48a4 16.7%,#3961b1 16.9%,#3d4ea7 18%,#3a3b9a 18.1%,#393a99 18.7%,#3c52aa 18.8%,#3c5aae 19.9%,#3c48a4 20.1%,#3b43a0 20.5%,#3c57ac 20.6%,#3c57ac 21.2%,#3766b3 21.8%,#3d50a8 21.9%,#abbb65 22%,#afbb64 22.2%,#a3bc68 22.5%,#8fbc70 22.6%,#6fba7e 22.7%,#1bacaf 23%,#14a1ca 23.2%,#248dcc 23.3%,#366ab5 23.6%,#248ccb 23.8%,#179ecc 24%,#15aab7 24.1%,#39b299 24.3%,#a5bc68 24.5%,#ceb956 24.7%,#edb846 24.8%,#fbbc3a 25%,#fad52b 25.4%,#f8db29 25.7%,#fbd22c 25.9%,#f9bb3c 26.2%,#dfb84e 26.4%,#f6b93f 26.5%,#fdc036 26.6%,#fad62b 26.9%,#f7de28 27.2%,#fad42c 27.5%,#fdbe37 27.8%,#f4b941 27.9%,#dbb850 28%,#8fbc70 28.3%,#60b885 28.5%,#d0b955 28.7%,#f5b940 28.9%,#fdc334 29%,#70ba7e 29.1%,#7ebc77 29.4%,#70ba7d 29.8%,#51b68c 30.1%,#23aea8 30.4%,#15a9b8 30.5%,#13a3c9 30.7%,#1d98d1 30.8%,#346eb7 31.2%,#3b5bae 31.5%,#3b5daf 31.7%,#2094cf 32.2%,#12a4c7 32.5%,#3d50a9 32.6%,#393a99 33.1%,#393a99 34.2%,#3c53aa 34.7%,#3c55ab 35%,#3c55ab 36%,#393a99 36.7%,#393a99 37.9%,#3c55ab 38.6%,#3c55ab 38.9%,#3c55ab 40%,#393a99 40.7%,#3a3a99 42.3%,#3c55ab 43.1%,#3c54aa 44.6%,#393a99 45.3%,#3a3b9a 47.1%,#3c53aa 47.8%,#3c55ab 48.3%,#3c55ab 49.8%,#393a99 50.8%,#393a99 52.7%,#3c55ab 53.7%,#3c54ab 55.9%,#393a99 56.9%,#393a99 59.3%,#3c55ab 60.4%,#3c55ab 61.2%,#3c55ab 63%,#393a99 64.3%,#393a99 67.1%,#3c55ab 68.5%,#3c55ab 71.5%,#393a99 73.1%,#393a99 76.4%,#3c55ab 78.1%,#3c55ab 80.1%,#3c55ab 81.9%,#393a99 83.7%,#3a3a99 88%,#3c55ab 90%,#3c55ab 94.7%,#393a99 96.9%,#393a99 100%)"></i>
<i style="top:540.46px;height:8.16px;background:repeating-linear-gradient(90deg,transparent 0 3px,rgba(52,118,190,.29) 3px 6px,transparent 6px 6px) 0px 0/49.3px 100% no-repeat,repeating-linear-gradient(90deg,transparent 0 1.9px,rgba(52,118,190,.47) 1.9px 6.6px,transparent 6.6px 9.5px) 49.3px 0/53.8px 100% no-repeat,repeating-linear-gradient(90deg,transparent 0 6.1px,rgba(52,118,190,.3) 6.1px 13px,transparent 13px 13.8px) 103px 0/52.9px 100% no-repeat,linear-gradient(90deg,#3a3e9d 0%,#3c55ab 1.4%,#3b5cae 2.4%,#3c58ad 3.1%,#3c45a2 4.2%,#3d51a9 4.9%,#3c48a4 6.1%,#3c54ab 6.3%,#3d51a9 6.8%,#3b419f 7%,#3b409e 7.4%,#3d4da7 7.5%,#3d4ea7 7.7%,#3b3f9d 8.6%,#3d4ea8 10.3%,#3d4da7 11.2%,#3c56ab 11.3%,#3c5aad 11.9%,#3d4aa6 12%,#3d4da7 12.4%,#3767b3 12.6%,#3767b3 12.7%,#3960b0 13.1%,#3b3f9d 13.2%,#383695 13.7%,#3d4ba6 13.8%,#3c48a4 14.4%,#3b409e 14.5%,#3c46a2 15.6%,#3a60b0 15.8%,#3a60b0 16.2%,#3d49a5 16.3%,#3c46a3 17.4%,#3c5aae 17.6%,#3a5eaf 18%,#3d4aa5 18.1%,#3c55ab 18.7%,#3c55ab 19.2%,#356cb6 19.4%,#3669b4 19.9%,#3c5aad 20.1%,#3b5bae 20.5%,#3d4da7 20.6%,#3d4ba6 21.2%,#3a5eaf 21.3%,#3a5faf 21.9%,#8dbc71 22%,#78bc7a 22.2%,#58b789 22.3%,#2cb09f 22.5%,#15a9ba 22.6%,#199cce 22.7%,#3273ba 23%,#3272ba 23.2%,#1e97d0 23.4%,#13a6c3 23.6%,#24aea7 23.7%,#8dbc71 24%,#dbb850 24.3%,#f3b842 24.4%,#fdc334 24.7%,#fdcc2f 25.2%,#fdbd38 25.5%,#efb844 25.7%,#c9b959 25.8%,#90bc70 25.9%,#43b493 26.1%,#52b68c 26.2%,#94bc6f 26.5%,#beba5e 26.8%,#d2b954 27.1%,#d2b954 27.3%,#bcba5f 27.6%,#90bc70 27.9%,#28afa2 28.3%,#15aab7 28.5%,#13a3c9 28.6%,#1d98d1 28.7%,#12a3c8 28.9%,#2eb09e 29%,#13a3c9 29.1%,#17abb3 29.3%,#4bb58f 29.6%,#5fb885 29.7%,#6dba7f 30%,#67b982 30.3%,#51b68c 30.5%,#19acb1 31%,#13a6c2 31.1%,#189dcd 31.2%,#2191ce 31.4%,#3a5fb0 31.9%,#3b5bae 32.1%,#2b81c4 32.5%,#3d51a9 32.6%,#3c55ab 33.9%,#393a99 34.6%,#3a3b9a 35.8%,#3c55ab 36.4%,#3c55ab 36.5%,#3c55ab 37.8%,#393a99 38.5%,#393a99 39.9%,#3c55ab 40.7%,#3c55ab 42.1%,#393a99 43%,#393a99 44.6%,#3c55ab 45.5%,#3c55ab 47.1%,#393a99 48.1%,#3a3a99 50.1%,#3c55ab 51%,#3c54ab 53.1%,#393a99 54.1%,#393a99 56.3%,#3c55ab 57.5%,#3c55ab 60%,#393a99 61.2%,#393a99 63.9%,#3c55ab 65.3%,#3c55ab 68.2%,#393a99 69.6%,#393a99 72.9%,#3c55ab 74.6%,#3c55ab 78.2%,#393a99 79.9%,#393a99 84.1%,#3c55ab 86.1%,#3c55ab 90.7%,#393a99 92.7%,#393a99 97.9%,#3d51a9 100%)"></i>
<i style="top:548.02px;height:8.16px;background:repeating-linear-gradient(90deg,transparent 0 .8px,rgba(52,118,190,.29) .8px 3.9px,transparent 3.9px 6.2px) 0px 0/49.3px 100% no-repeat,repeating-linear-gradient(90deg,transparent 0 1.2px,rgba(52,118,190,.36) 1.2px 6.1px,transparent 6.1px 9.8px) 49.3px 0/53.8px 100% no-repeat,repeating-linear-gradient(90deg,rgba(52,118,190,.25) 0 1px,transparent 1px 8.2px,rgba(52,118,190,.25) 8.2px 14.3px) 103px 0/52.9px 100% no-repeat,linear-gradient(90deg,#3c54aa 0%,#3d49a4 1%,#3a5eaf 3.6%,#3c55ab 3.8%,#3d4ca7 4.3%,#3d4ba6 5.6%,#3a3d9c 5.7%,#3a3c9b 6%,#3a3d9b 6.1%,#3d4da7 6.3%,#3c55ab 6.8%,#3d4ca6 7%,#3864b2 7.7%,#3766b3 8.1%,#3c57ac 8.8%,#3d4fa8 9.8%,#3c59ad 10.6%,#3d51a9 10.7%,#3c54ab 11.2%,#3766b3 11.3%,#3768b3 11.4%,#3961b1 11.9%,#3b43a0 12%,#3a3b9a 12.4%,#3c57ac 12.6%,#3c56ab 13.1%,#3b409e 13.2%,#3d51a9 14.4%,#3b5daf 14.5%,#3960b0 14.9%,#3c47a3 15.1%,#3c46a2 15.6%,#3b5bae 15.8%,#3c53aa 16.7%,#3a3e9c 16.9%,#3b43a0 17.4%,#3c58ac 17.6%,#3d52a9 18.7%,#393a99 18.8%,#3b409e 19.2%,#3d50a8 19.4%,#3d51a9 19.9%,#3962b1 20.1%,#3963b1 20.4%,#3962b1 20.5%,#3d4ea7 20.6%,#3d4da7 21.2%,#3b429f 21.3%,#3a3d9c 21.8%,#3c52aa 21.9%,#1fadac 22%,#13a5c4 22.2%,#1e96d0 22.3%,#346eb7 22.6%,#2f78be 22.7%,#189dcd 23%,#15a9b9 23.2%,#32b19c 23.3%,#99bc6c 23.6%,#bfba5d 23.7%,#f1b843 24%,#fcbd39 24.3%,#fdbe38 24.8%,#f7ba3e 25%,#e5b84a 25.1%,#bfba5d 25.2%,#8abc73 25.4%,#41b494 25.5%,#14a8bd 25.7%,#2093ce 25.8%,#3076bd 25.9%,#1d98d1 26.6%,#16a0cb 27.3%,#1d98d1 27.8%,#3766b2 28.7%,#3b5cae 29.1%,#2192ce 29.6%,#14a1ca 29.7%,#15aab7 29.8%,#3db396 30.1%,#59b788 30.4%,#58b789 30.7%,#49b590 31%,#1cacaf 31.4%,#14a8bd 31.5%,#1e96d0 31.8%,#3c5aad 32.5%,#393a99 32.6%,#393a99 33.6%,#3c55ab 34.3%,#3c55ab 35.6%,#3a3b9a 36.1%,#393a99 36.4%,#3a3c9b 37.7%,#3c55ab 38.4%,#3c55ab 39.7%,#393a99 40.6%,#393a99 42.1%,#3c55ab 43%,#3c55ab 44.6%,#393a99 45.5%,#393a99 45.9%,#3a3b9a 47.4%,#3c55ab 48.3%,#3c55ab 50.2%,#3a3b9a 51.2%,#393a99 51.7%,#393a99 53.4%,#3c55ab 54.5%,#3c55ab 56.9%,#3a3b9a 58%,#393a99 59.1%,#393a99 60.7%,#3c55ab 62.1%,#3c55ab 64.9%,#393a99 66.2%,#393a99 69.5%,#3c55ab 71%,#3c55ab 74.5%,#393a99 76.2%,#393a99 76.6%,#393a99 80.2%,#3c55ab 82%,#3c55ab 86.5%,#393a99 88.6%,#393a99 90.2%,#393a99 93.6%,#3c55ab 96%,#3c55ab 100%)"></i>
<i style="top:555.58px;height:8.16px;background:repeating-linear-gradient(90deg,rgba(52,118,190,.48) 0 1.6px,transparent 1.6px 4.9px,rgba(52,118,190,.48) 4.9px 6.5px) 0px 0/49.3px 100% no-repeat,repeating-linear-gradient(90deg,transparent 0 .4px,rgba(52,118,190,.29) .4px 5.5px,transparent 5.5px 10.2px) 49.3px 0/53.8px 100% no-repeat,repeating-linear-gradient(90deg,rgba(52,118,190,.45) 0 3px,transparent 3px 10.4px,rgba(52,118,190,.45) 10.4px 14.9px) 103px 0/52.9px 100% no-repeat,linear-gradient(90deg,#3b419f 0%,#3b429f .6%,#3c56ab 1.8%,#3d4aa6 3.1%,#3d51a9 3.2%,#3d50a8 3.6%,#3c45a1 4.6%,#3c47a3 4.9%,#3c56ab 5%,#3a5fb0 5.6%,#3d52a9 5.7%,#3d4fa8 6.1%,#3c58ad 6.3%,#3a3e9c 7%,#383493 7.7%,#3b3f9d 9.5%,#3c57ac 10.5%,#3c57ac 10.6%,#3c47a3 10.7%,#3c46a2 11.2%,#3a5daf 11.3%,#3a5faf 11.9%,#3b43a0 12%,#3c48a4 12.4%,#3962b1 12.6%,#3963b1 12.7%,#3961b0 13.1%,#3c55ab 13.2%,#3d51a9 13.7%,#3c44a1 13.8%,#3b43a0 14.1%,#3b429f 14.4%,#3b5cae 14.5%,#3b5aae 14.6%,#3c56ac 14.9%,#3a3e9d 15.1%,#3a3e9c 15.5%,#3d4da7 16.2%,#3767b3 16.3%,#3669b4 16.7%,#3c53aa 16.9%,#3c46a2 17.6%,#3c44a1 18%,#3b5cae 18.1%,#3b5cae 18.5%,#3d51a9 18.8%,#3d50a9 19.2%,#3a3d9c 19.4%,#3a3d9c 19.8%,#3b3f9d 19.9%,#3c52aa 20.1%,#3c57ac 20.5%,#3865b2 20.6%,#3669b4 20.9%,#356cb6 21.2%,#3c58ad 21.3%,#3a5daf 21.8%,#3c56ac 21.9%,#2e7abf 22%,#346eb7 22.2%,#2191ce 22.5%,#14a2ca 22.6%,#19acb1 22.7%,#40b395 22.9%,#73bb7c 23%,#9ebc6a 23.2%,#d8b852 23.4%,#f3b842 23.7%,#f9bb3c 24.1%,#f0b844 24.4%,#dcb850 24.5%,#b9ba60 24.7%,#88bc73 24.8%,#46b492 25%,#15aab8 25.1%,#1d98d1 25.2%,#3766b3 25.5%,#3d4ca6 25.8%,#3c5aad 27.3%,#3c44a1 29.1%,#3c54aa 29.6%,#346eb8 29.8%,#2093cf 30.1%,#14a1ca 30.3%,#15a9b9 30.4%,#3fb395 30.8%,#46b492 31.1%,#3bb397 31.4%,#14a8bc 31.9%,#1c99d0 32.2%,#2c7ec2 32.5%,#3c55ab 32.6%,#3c55ab 33.3%,#393a99 33.9%,#393a99 34%,#393a99 35.3%,#3c53aa 35.8%,#3c55ab 36.3%,#3c55ab 37.4%,#393a99 38.1%,#393a99 39.6%,#3c54aa 40.3%,#3c55ab 41.1%,#3c54aa 42.1%,#393a99 43%,#393a99 44.6%,#3c55ab 45.6%,#3c54ab 47.6%,#393a99 48.5%,#3a3b9a 50.6%,#3c55ab 51.6%,#3c55ab 53.8%,#3a3b9a 55%,#393a99 57.5%,#3c55ab 58.7%,#3c55ab 59.4%,#3c55ab 61.5%,#393a99 62.9%,#393a99 66%,#3c55ab 67.5%,#3c55ab 70.9%,#393a99 72.4%,#393a99 73.6%,#393a99 76.3%,#3c55ab 78.1%,#3c55ab 82.3%,#393a99 84.4%,#3a3a99 89.3%,#3c55ab 91.5%,#3c55ab 96.9%,#393a99 100%)"></i>
<i style="top:563.14px;height:8.16px;background:repeating-linear-gradient(90deg,transparent 0 2.5px,rgba(52,118,190,.41) 2.5px 5.9px,transparent 5.9px 6.7px) 0px 0/49.3px 100% no-repeat,repeating-linear-gradient(90deg,rgba(52,118,190,.46) 0 4.9px,transparent 4.9px 10.2px,rgba(52,118,190,.46) 10.2px 10.6px) 49.3px 0/53.8px 100% no-repeat,repeating-linear-gradient(90deg,rgba(52,118,190,.41) 0 5px,transparent 5px 12.8px,rgba(52,118,190,.41) 12.8px 15.5px) 103px 0/52.9px 100% no-repeat,linear-gradient(90deg,#3d4ca6 0%,#3c46a3 1.1%,#3d51a9 2.2%,#3d49a4 3.1%,#3d4fa8 3.8%,#3c47a3 4.3%,#383695 4.5%,#362f8e 4.9%,#393a99 5%,#373291 5.7%,#393897 6.1%,#3c53aa 7%,#3c57ac 7.4%,#3d4fa8 7.5%,#3d4ba6 8.1%,#3c53aa 8.4%,#3d4ba6 9.6%,#3864b2 10.6%,#3d50a9 10.7%,#3d50a9 11.2%,#346db7 11.3%,#3766b3 11.9%,#3d49a5 12%,#3b429f 12.4%,#3d4ea8 12.6%,#3d4da7 13.1%,#3c5aad 13.7%,#3b419f 13.8%,#3b43a0 14.4%,#3b5bae 14.5%,#3c57ac 15.6%,#3b43a0 15.8%,#3d49a5 16.2%,#3961b0 16.3%,#3766b3 17%,#3963b1 17.4%,#3d4aa6 17.6%,#3c47a3 18%,#3d50a9 18.1%,#3d51a9 18.7%,#3864b2 18.8%,#3668b4 19.2%,#3c59ad 19.4%,#3b5daf 19.9%,#3d50a8 20.1%,#3d4ba6 20.5%,#3b5cae 20.6%,#3c53aa 21.2%,#3b5cae 21.3%,#3b5bae 21.8%,#3d49a5 21.9%,#1e97d0 22%,#13a5c5 22.2%,#20adab 22.3%,#77bb7a 22.6%,#b9ba60 22.9%,#dcb84f 23.2%,#edb846 23.6%,#e2b84c 23.8%,#d0b955 24%,#b2bb63 24.1%,#86bc74 24.3%,#17abb3 24.5%,#199cce 24.7%,#3b5cae 25.1%,#3b429f 25.5%,#3c57ac 26.9%,#3d49a4 27.6%,#3c53aa 27.9%,#3c56ac 28.3%,#3c44a1 29.1%,#3b429f 29.7%,#3863b1 30.3%,#1f95cf 30.7%,#14a1ca 30.8%,#15a8bb 31%,#27afa4 31.2%,#32b19c 31.5%,#21adaa 32.1%,#13a3c9 32.5%,#393a99 32.6%,#3a3e9c 33.1%,#3c55ab 33.6%,#3c55ab 34.3%,#3c55ab 35%,#393a99 35.7%,#393a99 37.1%,#3c54aa 37.8%,#3c55ab 38.1%,#3c55ab 39.5%,#393a99 40.3%,#393a99 42%,#3c55ab 42.8%,#3c55ab 43.2%,#3c54ab 44.8%,#393a99 45.6%,#3a3b9a 47.7%,#3c55ab 48.7%,#3c55ab 50.9%,#393a99 52%,#393a99 54.4%,#3c55ab 55.5%,#3c55ab 55.8%,#3c55ab 58.2%,#393a99 59.6%,#393a99 62.3%,#3c55ab 63.9%,#3c55ab 65.3%,#3c55ab 67.1%,#393a99 68.8%,#393a99 72.4%,#3c55ab 74.1%,#3c55ab 75%,#3c55ab 78.2%,#393a99 80.2%,#393a99 84.8%,#3c55ab 87%,#3c55ab 92.3%,#393a99 94.8%,#393a99 100%)"></i>
<i style="top:570.7px;height:8.16px;background:repeating-linear-gradient(90deg,transparent 0 0px,rgba(52,118,190,.51) 0px 3.5px,transparent 3.5px 7px) 0px 0/49.3px 100% no-repeat,repeating-linear-gradient(90deg,rgba(52,118,190,.35) 0 4.2px,transparent 4.2px 9.7px,rgba(52,118,190,.35) 9.7px 11px) 49.3px 0/53.8px 100% no-repeat,repeating-linear-gradient(90deg,rgba(52,118,190,.38) 0 7.3px,transparent 7.3px 15.3px,rgba(52,118,190,.38) 15.3px 16.1px) 103px 0/52.9px 100% no-repeat,linear-gradient(90deg,#3d4ba6 0%,#3c54aa 1.5%,#3864b2 2.2%,#3c56ac 3.1%,#3d49a5 3.2%,#3b419f 3.6%,#3d4ea8 3.8%,#3c55ab 4.3%,#3d4ea7 4.5%,#3c5aae 6.1%,#3d4fa8 6.3%,#3d4ca7 6.8%,#3b5bae 7%,#3c58ac 7.4%,#3c44a1 7.5%,#3b3f9d 7.9%,#3b409e 8.1%,#3d50a9 8.2%,#3d4ea8 8.6%,#3c45a1 8.8%,#3b43a0 9.6%,#3c44a1 9.9%,#3d51a9 10%,#3c52aa 10.6%,#393a99 10.7%,#3c46a2 11.2%,#3767b3 11.3%,#2f78be 11.9%,#3963b1 12%,#3d4aa5 13.1%,#3b5daf 13.2%,#3b5bae 13.7%,#3b3f9d 13.8%,#3a3d9c 14.4%,#3c46a2 14.5%,#3c46a3 14.9%,#3c5aad 15.1%,#3b5daf 15.6%,#3c44a1 15.8%,#3c48a4 16.7%,#3a60b0 16.9%,#3a5fb0 17%,#3b5cae 17.4%,#3d4ea7 17.6%,#3c48a4 18%,#383594 18.1%,#373493 18.7%,#3c46a2 18.8%,#3c47a3 19.2%,#3c54ab 19.4%,#3c56ab 19.9%,#3b42a0 20.1%,#3d4aa5 20.5%,#3b429f 20.6%,#3c53aa 21.2%,#3767b3 21.3%,#3767b3 21.8%,#3272ba 21.9%,#4db68e 22%,#77bb7a 22.2%,#afbb64 22.5%,#cbb958 22.7%,#d8b852 23.2%,#c2ba5c 23.4%,#a8bb67 23.6%,#81bc76 23.7%,#1bacaf 24%,#16a0cb 24.1%,#2689ca 24.3%,#3960b0 24.5%,#3d4aa5 24.8%,#3d49a5 25%,#3669b4 25.7%,#1b9ad0 26.2%,#12a4c8 26.4%,#15aab7 26.5%,#25aea6 26.6%,#6eba7f 27.1%,#7bbc78 27.2%,#7ebc77 27.3%,#6cba80 27.6%,#7dbc77 27.8%,#7dbc78 27.9%,#5eb886 28.2%,#29afa2 28.5%,#17abb3 28.6%,#13a6c4 28.7%,#199cce 28.9%,#2290cd 29%,#3766b3 29.1%,#3d4fa8 29.7%,#3c44a1 30.3%,#3c5aae 30.7%,#1f95d0 31.2%,#14a7bf 31.5%,#23aea8 31.9%,#1aacb0 32.5%,#3c54aa 32.6%,#393a99 33.3%,#393a99 34.6%,#3c55ab 35.4%,#3c54aa 37%,#393a99 37.7%,#393a99 39.3%,#3c55ab 40.2%,#3c54ab 42%,#393a99 42.8%,#393a99 44.8%,#3c55ab 45.7%,#3c55ab 47.8%,#393a99 48.8%,#393a99 50.6%,#393a99 51.2%,#3c55ab 52.3%,#3c55ab 54.8%,#393a99 56.3%,#3a3a99 59%,#3c55ab 60.4%,#3c55ab 63.5%,#393a99 65.1%,#393a99 68.5%,#3c55ab 70.3%,#3c55ab 74.1%,#393a99 76%,#3a3a99 80.5%,#3c55ab 82.6%,#3c55ab 87.6%,#393a99 90%,#393a99 95.8%,#3c55ab 98.6%,#3c55ab 100%)"></i>
<i style="top:578.26px;height:8.16px;background:repeating-linear-gradient(90deg,rgba(52,118,190,.34) 0 .9px,transparent .9px 4.6px,rgba(52,118,190,.34) 4.6px 7.3px) 0px 0/49.3px 100% no-repeat,repeating-linear-gradient(90deg,rgba(52,118,190,.45) 0 3.5px,transparent 3.5px 9.3px,rgba(52,118,190,.45) 9.3px 11.5px) 49.3px 0/53.8px 100% no-repeat,repeating-linear-gradient(90deg,transparent 0 1.3px,rgba(52,118,190,.33) 1.3px 9.7px,transparent 9.7px 16.8px) 103px 0/52.9px 100% no-repeat,linear-gradient(90deg,#3b409e 0%,#3c56ac 1.1%,#3d52a9 2.4%,#3a5faf 2.5%,#3a60b0 2.6%,#3b5bae 3.1%,#3d51a9 3.2%,#3d4ca6 3.9%,#3c53aa 4.3%,#3b5cae 4.5%,#3c5aae 4.9%,#3d4aa5 5%,#3c45a2 5.6%,#3b5cae 5.7%,#3a5fb0 6.1%,#3c48a4 6.3%,#3d49a4 6.8%,#3a60b0 7%,#3a60b0 7.4%,#3c48a3 7.5%,#3c47a3 8.1%,#3a5faf 8.2%,#3962b1 8.6%,#3c56ab 8.8%,#3d4fa8 9.3%,#393a99 9.9%,#3c45a1 10%,#3b3f9e 10.6%,#362f8e 10.7%,#362f8e 11.2%,#3d4ba6 11.3%,#3d4ea7 11.9%,#3b43a0 12%,#3d4ca6 12.4%,#3b409e 12.6%,#3d4aa5 13.1%,#3865b2 13.2%,#3961b0 13.7%,#3d4fa8 13.8%,#3d4ba6 14.4%,#3b3f9d 14.5%,#3b409e 14.9%,#3b5cae 15.1%,#3a60b0 15.6%,#3c59ad 15.8%,#3a5eaf 16.2%,#3c48a4 16.3%,#3c44a1 16.7%,#3c55ab 16.9%,#3d4ca6 17.4%,#3c59ad 17.6%,#3c57ac 18%,#3b429f 18.1%,#3c47a3 18.7%,#3a3d9c 18.8%,#3b42a0 19.2%,#3c58ac 19.4%,#3c57ac 19.9%,#3960b0 20.1%,#3a5faf 20.5%,#3d4da7 20.6%,#3d50a9 21.2%,#3c45a2 21.3%,#3c47a3 21.8%,#3c56ab 21.9%,#a3bc68 22%,#b8ba60 22.3%,#c1ba5d 22.6%,#b0bb63 22.9%,#9bbc6c 23%,#79bc79 23.2%,#1dadad 23.4%,#14a2ca 23.6%,#238ecc 23.7%,#3077bd 23.8%,#3d4da7 24.3%,#366ab5 24.8%,#1c99d0 25.2%,#13a6c3 25.4%,#20adaa 25.5%,#7ebc77 25.8%,#a9bb66 25.9%,#ebb846 26.2%,#fabb3b 26.4%,#fdc533 26.5%,#f8dc29 26.8%,#f4e92a 27.1%,#f3ee2b 27.8%,#f7de28 28.3%,#fcbd39 28.7%,#f2b843 28.9%,#d6b852 29%,#15aab7 29.1%,#12a4c7 29.3%,#228fcd 29.6%,#356bb6 30%,#3c46a3 30.8%,#3b5daf 31.2%,#1f95d0 31.8%,#13a6c3 32.1%,#18acb2 32.5%,#3d4ea7 32.6%,#3c55ab 32.9%,#3c55ab 34.3%,#393a99 35%,#3a3b9a 36.7%,#3c55ab 37.4%,#3c54aa 39.2%,#393a99 40%,#393a99 41.8%,#3c55ab 42.8%,#3c55ab 44.8%,#393a99 45.9%,#393a99 48%,#3c55ab 49.1%,#3c55ab 51.6%,#393a99 52.7%,#3a3b9a 55.5%,#3c55ab 56.8%,#3c55ab 59.7%,#393a99 61.2%,#393a99 64.6%,#3c55ab 66.2%,#3c55ab 70%,#393a99 71.8%,#393a99 76%,#3c55ab 78.1%,#3c55ab 82.8%,#393a99 85.2%,#393a99 90.8%,#3c55ab 93.4%,#3c55ab 100%)"></i>
<i style="top:585.82px;height:8.16px;background:repeating-linear-gradient(90deg,transparent 0 1.9px,rgba(52,118,190,.47) 1.9px 5.7px,transparent 5.7px 7.7px) 0px 0/49.3px 100% no-repeat,repeating-linear-gradient(90deg,rgba(52,118,190,.27) 0 2.7px,transparent 2.7px 8.7px,rgba(52,118,190,.27) 8.7px 12px) 49.3px 0/53.8px 100% no-repeat,repeating-linear-gradient(90deg,transparent 0 3.6px,rgba(52,118,190,.31) 3.6px 12.4px,transparent 12.4px 17.6px) 103px 0/52.9px 100% no-repeat,linear-gradient(90deg,#3c54ab 0%,#3c52aa 1.1%,#3b5bae 1.3%,#3b5cae 1.8%,#3c52aa 2%,#3c53aa 3.1%,#3b5daf 3.2%,#3b5daf 3.6%,#3d4ba6 3.8%,#3d49a5 4.3%,#3a5daf 4.5%,#3c57ac 4.9%,#3a3d9c 5%,#373493 5.6%,#3d4ca7 5.7%,#3d4ea8 6.1%,#383594 6.3%,#3a3c9b 6.8%,#3c5aae 7%,#3b5bae 7.4%,#3a3e9c 7.5%,#3a3c9b 8.1%,#3c56ab 8.2%,#3c55ab 8.6%,#3c44a1 8.8%,#3c44a1 9.6%,#3c47a3 9.9%,#3b5daf 10%,#3865b2 10.6%,#3d49a4 10.7%,#3c44a1 11.2%,#3c58ad 11.3%,#3d4fa8 11.9%,#3c56ac 12.4%,#3b409e 12.6%,#3c48a3 13.1%,#3a5eaf 13.2%,#3863b1 14.4%,#3d4ca7 14.5%,#3d4ea7 14.9%,#3c5aad 15.1%,#3d4fa8 15.6%,#3a5eaf 15.8%,#3b5bae 16.2%,#3c47a3 16.3%,#3d49a5 16.7%,#3b409e 16.9%,#3b409e 17.3%,#3b419e 17.4%,#3c57ac 17.6%,#3961b0 18.5%,#3960b0 18.7%,#3d4da7 18.8%,#3c47a3 19.8%,#3d49a4 19.9%,#3b5cae 20.1%,#3961b0 20.5%,#356db7 20.6%,#346eb7 21.2%,#3b5daf 21.3%,#3c5aae 21.8%,#3d4ca7 21.9%,#a8bb66 22%,#9dbc6b 22.3%,#8abc72 22.5%,#6cba80 22.6%,#1cacae 22.9%,#13a3c9 23%,#2290cd 23.2%,#3768b3 23.4%,#3d4fa8 23.7%,#366ab5 24.1%,#199cce 24.5%,#14a8bc 24.7%,#2cb09f 24.8%,#98bc6d 25.1%,#c2ba5c 25.2%,#e5b84a 25.4%,#f8bb3d 25.5%,#f8da29 25.9%,#f5e72a 26.4%,#f7df28 26.8%,#fdc433 27.1%,#f6ba3f 27.2%,#d8b851 27.3%,#aabb66 27.5%,#9dbc6b 27.6%,#cdb957 27.8%,#f3b842 27.9%,#fdc036 28%,#f6e429 28.5%,#f6e329 29%,#80bc76 29.1%,#74bb7c 29.3%,#4cb58f 29.6%,#1eadad 29.8%,#14a8be 30%,#1f95cf 30.3%,#3963b1 30.8%,#3d49a5 31.4%,#366ab5 31.9%,#2094cf 32.4%,#189dcd 32.5%,#393a99 32.6%,#393a99 33.9%,#3c55ab 34.7%,#3c55ab 35.4%,#3c54aa 36.4%,#393a99 37.2%,#393a99 38.9%,#3c55ab 39.9%,#3c55ab 41.7%,#393a99 42.7%,#3a3b9a 44.9%,#3c55ab 45.9%,#3c55ab 48.3%,#393a99 49.4%,#393a99 51.9%,#3c55ab 53.3%,#3c55ab 56.1%,#393a99 57.5%,#393a99 60.7%,#3c55ab 62.2%,#3c55ab 63%,#3c55ab 65.8%,#393a99 67.5%,#3a3a99 71.7%,#3c55ab 73.6%,#3c55ab 78.2%,#393a99 80.6%,#393a99 85.8%,#3c55ab 88.3%,#3c55ab 94.6%,#393a99 97.5%,#393a99 100%)"></i>
<i style="top:593.38px;height:8.16px;background:repeating-linear-gradient(90deg,rgba(52,118,190,.37) 0 3px,transparent 3px 7px,rgba(52,118,190,.37) 7px 8px) 0px 0/49.3px 100% no-repeat,repeating-linear-gradient(90deg,rgba(52,118,190,.28) 0 1.9px,transparent 1.9px 8.2px,rgba(52,118,190,.28) 8.2px 12.6px) 49.3px 0/53.8px 100% no-repeat,repeating-linear-gradient(90deg,transparent 0 6.1px,rgba(52,118,190,.3) 6.1px 15.3px,transparent 15.3px 18.4px) 103px 0/52.9px 100% no-repeat,linear-gradient(90deg,#3c54ab 0%,#3d4ca6 .6%,#3b3f9d .7%,#3a3b9a 1.3%,#3b419e 1.8%,#3d4fa8 2%,#3c54ab 2.4%,#3b43a0 2.5%,#3b419e 3.1%,#3d52a9 3.2%,#3c53aa 3.6%,#3c46a2 3.8%,#3d4ba6 4.3%,#3c58ac 4.5%,#3b5cae 4.9%,#3c53aa 5%,#3d50a9 5.6%,#3b5daf 5.7%,#3b5daf 5.9%,#3c59ad 6.1%,#3c48a4 6.3%,#3d49a4 6.8%,#3a5fb0 7%,#3a5eaf 7.4%,#3a3e9c 7.5%,#3a3c9b 7.9%,#3a3d9b 8.1%,#3b5cae 8.2%,#3a5fb0 8.6%,#3d4ca7 8.8%,#393a99 9.9%,#3d4fa8 10%,#3c57ac 10.6%,#3a3e9d 10.7%,#3c44a1 11.2%,#3d52a9 11.3%,#3d4ca7 11.9%,#3c58ac 12%,#3c57ac 12.4%,#3a3c9b 12.6%,#3b419f 13.1%,#3d4da7 13.2%,#3d4ba6 13.7%,#3a5eaf 13.8%,#3a60b0 14.4%,#3d4ca6 14.5%,#3c53aa 14.9%,#3d4ca6 15.6%,#3962b1 15.8%,#3a5fb0 16.7%,#3d4aa6 16.9%,#3c46a2 18%,#3c5aad 18.1%,#3c53aa 19.2%,#3b3f9d 19.4%,#3c47a3 20.5%,#3c5aae 20.6%,#3b5daf 21.2%,#3669b4 21.3%,#356cb6 21.8%,#3961b0 21.9%,#5bb887 22%,#18acb2 22.3%,#14a2c9 22.5%,#2191cd 22.6%,#366ab5 22.9%,#3c52aa 23.2%,#3864b2 23.4%,#1e96d0 23.8%,#13a5c5 24%,#21adaa 24.1%,#87bc73 24.4%,#d9b851 24.7%,#f3b842 24.8%,#fdbd38 25%,#fad52b 25.4%,#f8db29 25.7%,#fad32c 25.9%,#fcbc39 26.2%,#e9b848 26.4%,#fbbc3a 26.6%,#fad62b 27.2%,#fabc3b 27.8%,#edb845 27.9%,#d2b955 28%,#86bc74 28.3%,#71bb7d 28.5%,#b1bb63 28.6%,#e0b84d 28.7%,#f9bb3c 28.9%,#fdc632 29%,#72bb7d 29.1%,#7ebc77 29.4%,#71bb7d 29.8%,#56b78a 30.1%,#17abb3 30.5%,#13a6c3 30.7%,#199cce 30.8%,#2290cd 31%,#3668b4 31.4%,#3d4ba6 31.9%,#356bb5 32.5%,#3c55ab 32.6%,#3c54aa 33.6%,#393a99 34.3%,#393a99 36%,#3c55ab 37%,#3c54ab 38.8%,#393a99 39.6%,#393a99 41.7%,#3c55ab 42.7%,#3c55ab 44.9%,#393a99 46%,#393a99 48.4%,#3c55ab 49.7%,#3c55ab 52.4%,#393a99 53.7%,#393a99 56.8%,#3c55ab 58.3%,#3c55ab 61.6%,#393a99 63.3%,#393a99 67.2%,#3c55ab 69.2%,#3c55ab 73.5%,#393a99 75.7%,#393a99 80.8%,#3c55ab 83.3%,#3c55ab 89.1%,#393a99 91.9%,#393a99 98.9%,#3b43a0 100%)"></i>
<i style="top:600.94px;height:8.16px;background:repeating-linear-gradient(90deg,transparent 0 4.2px,rgba(52,118,190,.48) 4.2px 8.4px,transparent 8.4px 8.4px) 0px 0/49.3px 100% no-repeat,repeating-linear-gradient(90deg,rgba(52,118,190,.35) 0 .9px,transparent .9px 7.5px,rgba(52,118,190,.35) 7.5px 13.2px) 49.3px 0/53.8px 100% no-repeat,repeating-linear-gradient(90deg,transparent 0 8.9px,rgba(52,118,190,.31) 8.9px 18.6px,transparent 18.6px 19.3px) 103px 0/52.9px 100% no-repeat,linear-gradient(90deg,#3d51a9 0%,#3d4ca6 .6%,#3c55ab .7%,#3d50a9 1.1%,#3b419f 1.3%,#3b43a0 1.8%,#3d4ea7 2%,#3c52aa 2.5%,#3d4ea7 3.1%,#3c45a2 3.2%,#3c46a2 3.6%,#3d52a9 3.8%,#3c57ac 4.3%,#3d4aa5 4.5%,#3c48a4 4.9%,#3c57ac 5%,#3c59ad 5.6%,#3d4fa8 5.7%,#3d50a8 6%,#3c58ad 6.8%,#3767b3 7%,#3669b4 7.3%,#3767b3 7.4%,#3d4ca6 7.5%,#3d49a5 8.1%,#3767b3 8.2%,#3863b1 8.6%,#3d4ca6 8.8%,#383594 9.9%,#3d4ca7 10%,#3c56ab 10.6%,#3a3d9c 10.7%,#3c47a3 11.9%,#3b5cae 12%,#3a5daf 12.4%,#3c48a4 12.6%,#3b43a0 13.2%,#3c48a4 13.7%,#3961b1 13.8%,#3864b2 14.2%,#3b5bae 14.9%,#3c45a2 15.1%,#3c45a2 15.5%,#3c47a3 15.6%,#3c55ab 15.8%,#3b5aae 16.2%,#3370b9 16.3%,#3273ba 16.7%,#3865b2 16.9%,#3a5fb0 17.4%,#3d49a4 17.6%,#3b409e 18.7%,#3c56ab 18.8%,#3b5cae 19.9%,#3d4ba6 20.1%,#3d51a9 20.5%,#3d4ba6 20.6%,#3d51a9 21.2%,#3b5daf 21.3%,#3c57ac 21.8%,#3865b2 21.9%,#2290cd 22%,#356ab5 22.3%,#3c54ab 22.6%,#3768b3 22.9%,#1b9bcf 23.3%,#14a8bd 23.4%,#2aafa1 23.6%,#92bc6f 23.8%,#baba5f 24%,#dbb850 24.1%,#f2b843 24.3%,#fdc036 24.5%,#fdca2f 25%,#fdbd38 25.4%,#f3b842 25.5%,#d4b853 25.7%,#a5bc68 25.8%,#66b982 25.9%,#6eba7f 26.1%,#baba60 26.4%,#ecb846 26.6%,#fcbd39 26.9%,#fdc036 27.3%,#f6ba3f 27.6%,#d3b954 27.9%,#92bc6f 28.2%,#39b298 28.5%,#1aacb0 28.6%,#12a5c6 28.7%,#1a9bcf 28.9%,#18abb2 29%,#1b9acf 29.1%,#13a6c2 29.3%,#1dadae 29.4%,#4cb58f 29.7%,#5db886 29.8%,#69ba81 30.1%,#5ab888 30.5%,#3cb397 30.8%,#1aacb1 31.1%,#14a7c0 31.2%,#2094cf 31.5%,#3962b1 32.1%,#3d4da7 32.5%,#393a99 32.6%,#3a3c9b 33.2%,#3c55ab 33.9%,#3c55ab 35.7%,#393a99 36.5%,#393a99 38.4%,#3c55ab 39.5%,#3c55ab 41.6%,#3a3b9a 42.5%,#393a99 43.1%,#393a99 44.9%,#3c55ab 46.2%,#3c55ab 48.7%,#393a99 49.9%,#393a99 50.8%,#393a99 52.9%,#3c55ab 54.3%,#3c55ab 57.6%,#3a3b9a 59%,#393a99 59.8%,#3a3b9a 62.9%,#3c55ab 64.6%,#3c55ab 68.8%,#393a99 70.9%,#393a99 73.2%,#393a99 75.7%,#3c55ab 78.1%,#3c55ab 83.7%,#393a99 86.5%,#393a99 93%,#3c55ab 96.1%,#3c55ab 100%)"></i>
<i style="top:608.5px;height:8.16px;background:repeating-linear-gradient(90deg,transparent 0 1.1px,rgba(52,118,190,.48) 1.1px 5.5px,transparent 5.5px 8.9px) 0px 0/49.3px 100% no-repeat,repeating-linear-gradient(90deg,transparent 0 6.8px,rgba(52,118,190,.41) 6.8px 13.8px,transparent 13.8px 13.9px) 49.3px 0/53.8px 100% no-repeat,repeating-linear-gradient(90deg,rgba(52,118,190,.42) 0 1.8px,transparent 1.8px 12px,rgba(52,118,190,.42) 12px 20.4px) 103px 0/52.9px 100% no-repeat,linear-gradient(90deg,#3d51a9 0%,#3c53aa 1.1%,#3a5eaf 1.3%,#3a5eaf 1.8%,#3d4ba6 2%,#3d49a4 2.4%,#3a5eaf 2.5%,#3b5daf 2.9%,#3b5bae 3.1%,#3a3e9d 3.2%,#3a3c9b 3.5%,#3a3d9c 3.6%,#3c5aad 3.8%,#3b5cae 4%,#3b5cae 4.3%,#3b419f 4.5%,#3b409e 4.9%,#3b5daf 5%,#3c56ac 5.6%,#393998 5.7%,#3a3b9a 6.1%,#3d50a9 6.3%,#3a5eaf 6.8%,#3a5eaf 7.4%,#3d4ba6 7.5%,#3a3e9d 8.1%,#3c59ad 8.2%,#3c56ab 8.6%,#3a3d9c 8.8%,#3c47a3 9.9%,#3a5fb0 10%,#3b5bae 10.6%,#3b419f 10.7%,#393998 11.3%,#3a3e9c 11.9%,#3c5aad 12%,#3a5fb0 12.4%,#3c56ab 12.6%,#3c58ac 13.1%,#3c44a1 13.2%,#3b409e 13.7%,#3d51a9 13.8%,#3c48a4 14.4%,#3c53aa 14.5%,#3d52a9 14.9%,#3a3c9b 15.1%,#3b409e 15.6%,#383796 15.8%,#393897 16.2%,#3d4da7 16.3%,#3d49a4 16.7%,#3c55ab 16.9%,#3d51a9 17.4%,#3b43a0 17.6%,#3d4ba6 18%,#3a3d9c 18.1%,#3d4ca7 18.7%,#3c56ac 18.8%,#3c57ac 19.2%,#366ab5 19.4%,#3865b2 20.5%,#3c54ab 20.6%,#3c56ab 21.2%,#3d49a4 21.3%,#3b42a0 21.8%,#3a5eaf 22.2%,#258bca 22.6%,#199dce 22.7%,#15a9bb 22.9%,#2cb09f 23%,#8fbc70 23.3%,#d1b955 23.6%,#f4b841 23.8%,#fdbd38 24.4%,#f6b93f 24.7%,#e7b849 24.8%,#c8b959 25%,#9dbc6b 25.1%,#61b984 25.2%,#23aea8 25.4%,#14a2ca 25.5%,#268aca 25.7%,#2887c8 25.8%,#1a9bce 26.1%,#14a8bc 26.4%,#31b19d 26.8%,#45b492 27.1%,#47b591 27.2%,#3cb397 27.5%,#18acb2 27.9%,#13a2c9 28.2%,#1b9acf 28.3%,#2e7abf 28.7%,#3c5aad 29.3%,#1c9ad0 29.8%,#13a5c5 30%,#18abb2 30.1%,#3bb397 30.4%,#51b68c 30.7%,#4db68e 31%,#3db396 31.2%,#17abb3 31.7%,#13a6c1 31.8%,#1f94cf 32.1%,#346db7 32.5%,#3c55ab 32.6%,#393a99 33.5%,#393a99 35.3%,#3c55ab 36.3%,#3c55ab 38.2%,#393a99 39.2%,#393a99 41.4%,#3c55ab 42.5%,#3c55ab 45%,#393a99 46.3%,#393a99 49%,#3c55ab 50.3%,#3c55ab 53.4%,#393a99 55%,#393a99 58.4%,#3c55ab 60.1%,#3c55ab 64.2%,#393a99 66.1%,#393a99 70.7%,#3c55ab 72.9%,#3c55ab 78.2%,#393a99 80.9%,#393a99 87.2%,#3c55ab 90.1%,#3c55ab 97.6%,#3b43a0 100%)"></i>
<i style="top:616.05px;height:8.16px;background:repeating-linear-gradient(90deg,rgba(52,118,190,.49) 0 2.3px,transparent 2.3px 7px,rgba(52,118,190,.49) 7px 9.4px) 0px 0/49.3px 100% no-repeat,repeating-linear-gradient(90deg,transparent 0 6.1px,rgba(52,118,190,.44) 6.1px 13.4px,transparent 13.4px 14.7px) 49.3px 0/53.8px 100% no-repeat,repeating-linear-gradient(90deg,rgba(52,118,190,.32) 0 4.6px,transparent 4.6px 15.3px,rgba(52,118,190,.32) 15.3px 21.5px) 103px 0/52.9px 100% no-repeat,linear-gradient(90deg,#3a60b0 0%,#3865b2 .6%,#3c55ab .7%,#3d51a9 1.1%,#3c59ad 1.3%,#3d51a9 2.1%,#3c53aa 3.8%,#3d4ea8 4.3%,#3b429f 4.5%,#3b42a0 4.6%,#3c46a2 4.9%,#3a5faf 5%,#3768b3 5.6%,#3d4aa5 5.7%,#3d4da7 6.1%,#356bb5 6.3%,#366ab5 6.8%,#3b5bae 7%,#3b5daf 7.4%,#3c57ac 7.5%,#3b5cae 8.1%,#2f78be 8.2%,#3272ba 8.6%,#3c56ab 8.8%,#3b43a0 9.5%,#3b419e 9.9%,#3c5aad 10%,#3a5eaf 10.6%,#3d4aa5 10.7%,#3c46a2 11.2%,#393998 11.3%,#383493 11.7%,#383493 11.9%,#3d4da7 12%,#3c58ad 13.1%,#3b43a0 13.2%,#3d4ea7 13.8%,#3d4ba6 14.4%,#3960b0 14.5%,#3c55ab 15.6%,#3a3e9c 15.8%,#3a3d9c 15.9%,#3b3f9e 16.7%,#3c56ab 16.9%,#3c56ac 17.4%,#3a5eaf 17.6%,#3a5eaf 18%,#3d4ea8 18.1%,#3c54aa 18.7%,#3c45a2 18.8%,#3d4ca6 19.4%,#3c47a3 19.9%,#3c58ad 20.1%,#3a5faf 21.2%,#3c53aa 21.3%,#3c53aa 21.8%,#3b419f 21.9%,#248ccb 22%,#189dcd 22.2%,#15a9bb 22.3%,#2ab0a1 22.5%,#86bc74 22.7%,#c2ba5c 23%,#e2b84c 23.3%,#f2b842 23.7%,#e9b848 24%,#dab851 24.1%,#bfba5d 24.3%,#99bc6c 24.4%,#28afa3 24.7%,#13a5c5 24.8%,#2291cd 25%,#3865b2 25.2%,#3d50a9 25.5%,#356bb6 26.6%,#3371b9 27.2%,#3c45a2 29.6%,#3a5eaf 30%,#1b9acf 30.5%,#13a5c5 30.7%,#16aab6 30.8%,#2bb0a0 31.1%,#38b299 31.4%,#2ab0a1 31.8%,#15a9b9 32.2%,#189ecd 32.5%,#3d4ba6 32.6%,#3c55ab 33.1%,#3c55ab 34.9%,#393a99 35.8%,#393a99 37.9%,#3c54ab 38.9%,#3c55ab 40.4%,#3c54aa 41.4%,#393a99 42.5%,#393a99 45%,#3c55ab 46.4%,#3c55ab 49.2%,#393a99 50.8%,#3a3b9a 54.1%,#3c55ab 55.6%,#3c55ab 56.8%,#3c55ab 59.4%,#393a99 61.4%,#393a99 65.7%,#3c55ab 68.1%,#3c55ab 72.8%,#393a99 75.3%,#393a99 81.2%,#3c55ab 84.4%,#3c55ab 91.2%,#393a99 94.6%,#393a99 100%)"></i>
<i style="top:623.61px;height:8.16px;background:repeating-linear-gradient(90deg,transparent 0 3.7px,rgba(52,118,190,.25) 3.7px 8.7px,transparent 8.7px 9.9px) 0px 0/49.3px 100% no-repeat,repeating-linear-gradient(90deg,transparent 0 5.2px,rgba(52,118,190,.4) 5.2px 13px,transparent 13px 15.6px) 49.3px 0/53.8px 100% no-repeat,repeating-linear-gradient(90deg,rgba(52,118,190,.44) 0 7.8px,transparent 7.8px 19.1px,rgba(52,118,190,.44) 19.1px 22.7px) 103px 0/52.9px 100% no-repeat,linear-gradient(90deg,#3c44a1 0%,#3d49a4 .6%,#3a5fb0 .7%,#3766b3 1.1%,#3d4fa8 1.3%,#3d4aa5 1.8%,#3963b1 2%,#3b5aae 2.4%,#3a3a99 2.5%,#393a99 2.6%,#3a3d9c 3.1%,#3a5eaf 3.2%,#3962b1 3.5%,#3963b1 3.6%,#3c47a3 3.8%,#3a3d9c 4.3%,#3d50a8 4.5%,#3c5aad 5.6%,#3d4ba6 5.7%,#3c44a1 6.1%,#3a5eaf 6.3%,#3d51a9 6.8%,#383493 7%,#373190 7.3%,#3a3d9c 8.1%,#3c57ac 8.2%,#3961b0 8.6%,#3d4aa5 8.8%,#3d4da7 9.9%,#3766b3 10%,#366ab5 10.6%,#3b5bae 10.7%,#3c5aad 11.2%,#3d49a4 11.3%,#3c48a4 11.9%,#3b5daf 12%,#3961b1 12.4%,#3371b9 12.6%,#2e7bc0 13.1%,#3865b2 13.2%,#3960b0 13.7%,#3c52aa 13.8%,#3a3c9b 14.4%,#3d4ca6 14.5%,#3d4aa5 14.9%,#3c58ad 15.1%,#3766b2 15.6%,#3c59ad 15.8%,#3b5bae 16.2%,#3d49a5 16.3%,#3c44a1 17.4%,#3b5bae 17.6%,#3175bc 18.4%,#3174bb 18.7%,#3961b1 18.8%,#3c56ac 19.2%,#3b43a0 19.4%,#3a3b9a 19.9%,#3a3d9c 20.5%,#3d4ea8 20.6%,#3d51a9 21.2%,#3a5fb0 21.3%,#3960b0 21.8%,#3a5eaf 21.9%,#50b68d 22%,#78bb7a 22.2%,#afbb64 22.5%,#cbb958 22.7%,#dab851 23.2%,#c8b959 23.4%,#b3bb62 23.6%,#93bc6f 23.7%,#66b982 23.8%,#2db09f 24%,#14a8be 24.1%,#1d98d1 24.3%,#3b5daf 24.7%,#3d49a5 25%,#3b409e 25.2%,#3d49a5 27.2%,#3b409e 30%,#3c57ac 30.5%,#346fb8 30.8%,#1a9bcf 31.2%,#12a4c7 31.4%,#1aacb0 31.7%,#24aea7 31.9%,#1aacb1 32.5%,#393a99 32.6%,#393a99 34.4%,#3c55ab 35.4%,#3c55ab 37.7%,#393a99 38.8%,#393a99 41.1%,#3c55ab 42.4%,#3c55ab 45.2%,#393a99 46.6%,#393a99 49.7%,#3c55ab 51.2%,#3c55ab 53%,#3c55ab 54.8%,#393a99 56.5%,#393a99 60.5%,#3c55ab 62.5%,#3c55ab 64.7%,#3c55ab 67.4%,#393a99 69.7%,#393a99 75.3%,#3c55ab 78.2%,#3c55ab 84.7%,#393a99 88%,#393a99 96.1%,#3c55ab 100%)"></i>
<i style="top:631.17px;height:8.16px;background:repeating-linear-gradient(90deg,transparent 0 0px,rgba(52,118,190,.47) 0px 5.3px,transparent 5.3px 10.5px) 0px 0/49.3px 100% no-repeat,repeating-linear-gradient(90deg,transparent 0 4.2px,rgba(52,118,190,.3) 4.2px 12.5px,transparent 12.5px 16.5px) 49.3px 0/53.8px 100% no-repeat,repeating-linear-gradient(90deg,rgba(52,118,190,.42) 0 11.3px,transparent 11.3px 23.4px,rgba(52,118,190,.42) 23.4px 24.2px) 103px 0/52.9px 100% no-repeat,linear-gradient(90deg,#3c58ac 0%,#3d4ca6 .7%,#3c55ab 1.7%,#3c47a3 2.5%,#3d4ea8 3.1%,#3b5cae 3.2%,#3766b3 3.6%,#3d50a9 3.8%,#3c58ac 4.3%,#2e7bc0 4.5%,#3076bc 4.9%,#3c58ac 5%,#3d4ea8 5.6%,#3c55ab 6.1%,#3767b3 6.3%,#3669b4 6.8%,#3d4aa5 7%,#3c44a1 7.4%,#3d51a9 7.5%,#3d50a9 8.1%,#3863b1 8.2%,#3669b4 8.6%,#3d4ea7 8.8%,#393897 9.9%,#3c52aa 10%,#3b5bae 10.6%,#3c54ab 11.2%,#3a3e9c 11.3%,#393998 11.9%,#3b429f 12%,#3a3d9c 12.4%,#3d50a9 12.6%,#3d4ca6 13.1%,#3c44a1 13.2%,#3d4ea8 13.7%,#3a3c9b 13.8%,#3d51a9 14.5%,#3d51a9 14.9%,#3766b2 15.1%,#3b5cae 16.2%,#3d4aa5 16.3%,#3d4ba6 16.7%,#3a3e9c 16.9%,#3d4da7 17.6%,#3d4da7 18%,#3a5faf 18.1%,#3c59ad 18.5%,#3863b1 19.1%,#3b5bae 19.4%,#3a5eaf 19.9%,#3d4da7 20.1%,#3a3d9c 21.2%,#3c47a3 21.3%,#3c48a4 21.8%,#3c58ad 21.9%,#a8bb66 22%,#bcba5f 22.5%,#b3bb62 22.7%,#a4bc68 22.9%,#89bc73 23%,#63b984 23.2%,#31b19c 23.3%,#15a9b9 23.4%,#199cce 23.6%,#3273ba 23.8%,#3c56ab 24.1%,#3b3f9d 24.7%,#3d4fa8 25.7%,#2788c9 27.1%,#2b81c4 27.6%,#268aca 27.9%,#2f79be 28.5%,#3a5faf 29%,#3d4ea8 29.1%,#3b3f9d 30.5%,#3b5bae 31.2%,#1a9bcf 31.9%,#13a3c9 32.1%,#16abb4 32.5%,#3c55ab 32.6%,#3c54ab 34%,#393a99 35%,#393a99 37.2%,#3c55ab 38.5%,#3c55ab 41%,#393a99 42.3%,#393a99 43.8%,#3a3b9a 45.3%,#3c55ab 46.7%,#3c55ab 50.1%,#393a99 51.7%,#393a99 55.5%,#3c55ab 57.5%,#3c55ab 61.9%,#393a99 64.4%,#393a99 69.5%,#3c55ab 72%,#3c55ab 78.2%,#393a99 81.3%,#393a99 89%,#3c55ab 92.6%,#3c55ab 100%)"></i>
<i style="top:638.73px;height:8.16px;background:repeating-linear-gradient(90deg,rgba(52,118,190,.5) 0 1.4px,transparent 1.4px 7px,rgba(52,118,190,.5) 7px 11.2px) 0px 0/49.3px 100% no-repeat,repeating-linear-gradient(90deg,transparent 0 3.1px,rgba(52,118,190,.32) 3.1px 11.9px,transparent 11.9px 17.6px) 49.3px 0/53.8px 100% no-repeat,repeating-linear-gradient(90deg,transparent 0 2.5px,rgba(52,118,190,.33) 2.5px 15.3px,transparent 15.3px 25.8px) 103px 0/52.9px 100% no-repeat,linear-gradient(90deg,#3c58ac 0%,#3d51a9 .6%,#3a3b9a .7%,#3a3b9a .8%,#3a3c9b 1.1%,#3c55ab 1.3%,#3c59ad 1.8%,#3a3c9b 2%,#3b42a0 2.4%,#3767b3 2.5%,#3370b9 3.1%,#3c53aa 3.2%,#3d4ea7 3.6%,#3c56ac 3.8%,#3d4aa5 4.3%,#3c52aa 4.5%,#3d50a9 4.9%,#383594 5%,#3a3e9d 5.6%,#3b5cae 5.7%,#3a5faf 5.9%,#3863b1 6.8%,#3d49a4 7%,#3d49a4 7.3%,#3d4aa5 7.4%,#3a5faf 7.5%,#3a5daf 8.1%,#3768b4 8.2%,#3863b1 8.6%,#3c48a4 8.8%,#3d49a5 9.9%,#3962b1 10%,#3962b1 10.6%,#3b5cae 11.2%,#3b43a0 11.3%,#3a3c9b 12.4%,#3c53aa 12.6%,#3a5eaf 13.7%,#3d4ba6 13.8%,#3d4da7 14.4%,#3a3e9c 14.5%,#393796 14.9%,#3b42a0 15.1%,#393a99 15.6%,#3d4ea8 15.8%,#3a5eaf 16.7%,#3d4fa8 16.9%,#3c57ac 17.4%,#3d4ca7 17.6%,#3c53aa 18.1%,#3d4ca7 18.7%,#3c5aad 18.8%,#3c54aa 19.2%,#3a5eaf 19.4%,#3a5fb0 20.5%,#3c52aa 20.6%,#3b5daf 21.2%,#3c53aa 21.3%,#3c58ac 21.9%,#9bbc6b 22%,#7bbc79 22.3%,#5bb887 22.5%,#30b19d 22.6%,#16aab6 22.7%,#16a0cb 22.9%,#248dcc 23%,#3b5aae 23.4%,#3b419e 24%,#3d4ea7 24.5%,#3962b1 25%,#1d98d1 25.5%,#12a4c8 25.7%,#18acb2 25.8%,#35b29a 25.9%,#8cbc72 26.2%,#afbb64 26.4%,#e5b84a 26.6%,#f5b940 26.8%,#fcbd39 26.9%,#fad42c 27.5%,#fbd12d 27.8%,#fdbe37 28.2%,#eab847 28.5%,#d3b954 28.6%,#95bc6e 28.9%,#6dba7f 29%,#1e96d0 29.1%,#3b5cae 30%,#3c48a4 30.5%,#3b3f9d 31.1%,#3c55ab 31.8%,#2290cd 32.5%,#393a99 32.6%,#3a3b9a 33.5%,#3c55ab 34.4%,#3c55ab 35.4%,#3c55ab 37%,#393a99 38.1%,#393a99 40.9%,#3c54ab 42.1%,#3c55ab 43.1%,#3c55ab 45.3%,#393a99 46.9%,#393a99 50.5%,#3c55ab 52.3%,#3c55ab 56.5%,#3a3b9a 58.4%,#393a99 59.3%,#393a99 63.5%,#3c55ab 66%,#3c55ab 71.8%,#393a99 74.6%,#393a99 77.5%,#393a99 81.9%,#3c55ab 85.4%,#3c55ab 94.1%,#393a99 98.5%,#393a99 100%)"></i>
<i style="top:646.29px;height:8.16px;background:repeating-linear-gradient(90deg,transparent 0 3px,rgba(52,118,190,.36) 3px 9px,transparent 9px 12px) 0px 0/49.3px 100% no-repeat,repeating-linear-gradient(90deg,transparent 0 1.9px,rgba(52,118,190,.4) 1.9px 11.3px,transparent 11.3px 18.9px) 49.3px 0/53.8px 100% no-repeat,repeating-linear-gradient(90deg,transparent 0 6.1px,rgba(52,118,190,.52) 6.1px 19.9px,transparent 19.9px 27.6px) 103px 0/52.9px 100% no-repeat,linear-gradient(90deg,#3c46a2 0%,#3b43a0 .6%,#3a60b0 .7%,#3c5aad 1.1%,#393a99 1.3%,#393998 1.4%,#3a3a99 1.8%,#3d50a8 2%,#3b5daf 2.8%,#3a5daf 3.1%,#3d49a4 3.2%,#3d4ba6 3.6%,#3669b4 3.8%,#3864b2 4.3%,#3d4ea8 4.5%,#3d49a4 4.9%,#3b409e 5%,#3a3d9c 5.6%,#3c5aae 5.7%,#3b5daf 6.1%,#3d4ea7 6.3%,#3b5bae 6.8%,#3d4ea7 7%,#3c53aa 7.4%,#346eb7 7.5%,#3960b0 8.6%,#3c44a1 8.8%,#3d4ea7 9.9%,#3767b3 10%,#3768b4 10.5%,#3961b0 11.2%,#3d49a5 11.3%,#3b419f 12%,#3c46a2 12.4%,#3c5aad 12.6%,#3c58ad 13.1%,#3864b2 13.2%,#3a5eaf 13.7%,#3c52aa 13.8%,#3d52a9 14.4%,#3b409e 14.5%,#3d4ea7 15.6%,#3b5daf 15.8%,#3c56ac 16.2%,#3863b1 16.3%,#3863b1 17%,#3273ba 17.4%,#3766b3 17.6%,#3766b3 18%,#3c54ab 18.1%,#3b409e 18.7%,#393998 19.2%,#3c48a4 19.4%,#3c46a2 19.9%,#3c54aa 20.1%,#3d50a8 20.5%,#3b5daf 21.8%,#3d50a9 21.9%,#16aab6 22%,#15a1ca 22.2%,#2191ce 22.3%,#3a5faf 22.7%,#3b42a0 23.3%,#3d4ea8 23.7%,#3766b3 24.1%,#1f95cf 24.5%,#12a4c8 24.7%,#1bacaf 24.8%,#42b494 25%,#a5bc68 25.2%,#e9b848 25.5%,#f9bb3c 25.7%,#fdc433 25.8%,#f6e229 26.2%,#f4ea2a 26.6%,#f5e529 27.1%,#fdcc2f 27.6%,#f6e429 28%,#f4ea2a 28.3%,#f7dc29 29%,#73bb7c 29.1%,#21aea9 29.7%,#13a3c9 30%,#1c99d0 30.1%,#3668b4 30.7%,#3d49a4 31.4%,#3b419f 31.9%,#3c58ac 32.5%,#393a99 33.9%,#3a3b9a 36.5%,#3c54ab 37.7%,#3c55ab 38.5%,#3c55ab 40.7%,#393a99 42.1%,#393a99 45.5%,#3c55ab 47.1%,#3c55ab 49.7%,#3c55ab 51%,#393a99 53%,#393a99 57.6%,#3c55ab 59.8%,#3c55ab 61.6%,#3c55ab 65.4%,#393a99 68.1%,#393a99 74.8%,#3c55ab 78%,#3c55ab 80.6%,#3c55ab 86.2%,#393a99 90.2%,#393a99 100%)"></i>
<i style="top:653.85px;height:8.16px;background:repeating-linear-gradient(90deg,rgba(52,118,190,.41) 0 4.9px,transparent 4.9px 11.4px,rgba(52,118,190,.41) 11.4px 13px) 0px 0/49.3px 100% no-repeat,repeating-linear-gradient(90deg,transparent 0 .4px,rgba(52,118,190,.49) .4px 10.6px,transparent 10.6px 20.4px) 49.3px 0/53.8px 100% no-repeat,repeating-linear-gradient(90deg,transparent 0 10.4px,rgba(52,118,190,.43) 10.4px 25.3px,transparent 25.3px 29.7px) 103px 0/52.9px 100% no-repeat,linear-gradient(90deg,#3b5aae 0%,#3a5eaf .6%,#3d50a8 .7%,#3b419e 1.5%,#3b43a0 1.8%,#3b5daf 2%,#3a5eaf 2.4%,#3b3f9d 2.5%,#3b419f 3.1%,#3c57ac 3.2%,#3b5bae 3.6%,#3864b2 3.8%,#3766b2 4.3%,#3c48a4 4.5%,#3b419f 4.9%,#3d51a9 5%,#3d49a5 5.6%,#3c57ac 5.7%,#3c58ac 6.1%,#3a3e9d 6.3%,#3d4aa6 7.4%,#3865b2 7.5%,#3766b3 7.8%,#3c57ac 8.6%,#3a3c9b 8.8%,#3a3c9b 8.9%,#3d50a8 9.9%,#3669b4 10%,#366ab5 10.2%,#3b5daf 11.2%,#3c48a4 11.3%,#3d49a5 11.9%,#3a3d9c 12%,#3c45a2 12.4%,#3d51a9 12.6%,#3c56ac 13.1%,#366ab5 13.2%,#3864b2 14.4%,#3c53aa 14.5%,#3d52a9 14.9%,#3b409e 15.1%,#3b3f9d 15.2%,#3d4aa5 16.2%,#3c59ad 16.3%,#3c5aad 16.7%,#3767b3 16.9%,#3865b2 17.9%,#3864b2 18%,#3c58ad 18.1%,#3c57ac 18.7%,#3c46a2 18.8%,#383796 19.4%,#373493 19.9%,#3c47a3 20.5%,#3c59ad 20.6%,#3865b2 21.2%,#3272ba 21.3%,#3962b1 22%,#3c48a4 22.5%,#3c47a3 22.7%,#3963b1 23.3%,#2290cd 23.7%,#15a1ca 23.8%,#16abb4 24%,#3ab298 24.1%,#70ba7e 24.3%,#c5ba5b 24.5%,#e4b84b 24.7%,#f7ba3e 24.8%,#fdbf37 25%,#fad52b 25.4%,#f8db29 25.7%,#f9d62b 25.9%,#fdc334 26.2%,#f8bb3d 26.4%,#e3b84b 26.5%,#e0b84d 26.6%,#f7ba3e 26.9%,#f6ba3f 27.5%,#ddb84f 27.8%,#a7bb67 28%,#84bc75 28.2%,#7fbc77 28.3%,#dbb850 28.6%,#f5b940 28.7%,#fdcb2f 29%,#76bb7b 29.1%,#7ebc77 29.4%,#72bb7d 29.8%,#5ab888 30.1%,#1fadac 30.5%,#14a2ca 30.8%,#1d98d1 31%,#3a5daf 31.7%,#3b419f 32.5%,#3c55ab 33.2%,#3c55ab 36%,#393a99 37.4%,#393a99 40.4%,#3c55ab 42%,#3c55ab 45.6%,#3a3b9a 47.3%,#393a99 48.1%,#393a99 51.7%,#3c55ab 53.8%,#3c55ab 58.9%,#393a99 61.4%,#393a99 62.8%,#393a99 67.6%,#3c55ab 70.7%,#3c55ab 78.2%,#393a99 82.3%,#393a99 91.8%,#3c55ab 96.5%,#3c55ab 100%)"></i>
<i style="top:661.41px;height:8.16px;background:repeating-linear-gradient(90deg,transparent 0 7px,rgba(52,118,190,.38) 7px 14.1px,transparent 14.1px 14.1px) 0px 0/49.3px 100% no-repeat,repeating-linear-gradient(90deg,rgba(52,118,190,.33) 0 9.7px,transparent 9.7px 20.8px,rgba(52,118,190,.33) 20.8px 22.1px) 49.3px 0/53.8px 100% no-repeat,repeating-linear-gradient(90deg,transparent 0 15.3px,rgba(52,118,190,.34) 15.3px 31.5px,transparent 31.5px 32.2px) 103px 0/52.9px 100% no-repeat,linear-gradient(90deg,#3c56ac 0%,#3c53aa .6%,#3b3f9d .7%,#3a3b9a 1.1%,#3b5cae 1.3%,#3c59ad 1.8%,#3a3d9c 2%,#3a3c9b 2.1%,#3d49a4 3.1%,#3865b2 3.2%,#3768b3 3.6%,#3d4ea8 3.8%,#3d50a9 4.3%,#3d49a5 4.5%,#3d4aa6 4.9%,#3768b4 5%,#3768b4 5.3%,#3b5bae 6.1%,#3b409e 6.3%,#393998 6.8%,#3b419e 7%,#3a3d9c 7.4%,#3c55ab 7.5%,#3371b9 8.6%,#3b5bae 8.8%,#3d4fa8 9.9%,#3865b2 10%,#2e7abf 11%,#2f79be 11.2%,#3766b3 11.3%,#3b5bae 11.9%,#3c45a1 12%,#393a99 12.7%,#393a99 13.1%,#3d4ea7 13.2%,#3d51a9 13.7%,#3961b0 13.8%,#3766b3 14.4%,#3865b2 14.9%,#3c55ab 15.1%,#3c53aa 15.6%,#3c45a1 15.8%,#3b43a0 16.3%,#3b43a0 16.7%,#3d4fa8 16.9%,#3d4ca6 17.4%,#3b5bae 17.6%,#3a60b0 18.7%,#3c56ab 19.2%,#3c46a3 19.4%,#3c46a2 19.9%,#393998 20.1%,#393a99 20.6%,#3c46a3 21.8%,#3c52aa 21.9%,#3c48a4 22%,#3d4da7 22.2%,#3865b2 22.6%,#1f96d0 23%,#12a4c7 23.2%,#1dadad 23.3%,#79bc79 23.6%,#a4bc68 23.7%,#e0b84d 24%,#f3b842 24.1%,#fdbe37 24.4%,#fdc632 25%,#f3b842 25.4%,#dab850 25.5%,#b3bb62 25.7%,#82bc76 25.8%,#62b984 25.9%,#b9ba60 26.2%,#f4b941 26.5%,#fdbe38 26.6%,#fbd22c 26.9%,#f8db29 27.2%,#fbd12d 27.5%,#fcbd39 27.8%,#f2b842 27.9%,#d7b852 28%,#8bbc72 28.3%,#2ab0a1 28.6%,#15a9b9 28.7%,#169fcc 28.9%,#14a8bd 29%,#2093ce 29.1%,#15a0cb 29.3%,#15a8bb 29.4%,#20adaa 29.6%,#49b590 29.8%,#59b788 30%,#63b983 30.3%,#56b789 30.7%,#3db396 31%,#15a9ba 31.4%,#12a4c8 31.5%,#1b9acf 31.7%,#238ecc 31.8%,#3669b4 32.2%,#3c58ac 32.5%,#393a99 32.6%,#393a99 35.4%,#3c55ab 36.8%,#3c55ab 40.2%,#393a99 41.8%,#393a99 45.7%,#3c55ab 47.7%,#3c55ab 52.4%,#393a99 54.8%,#393a99 60.5%,#3c55ab 63.3%,#3c55ab 70.3%,#393a99 73.9%,#393a99 82.8%,#3c55ab 87.3%,#3d51a9 100%)"></i>
<i style="top:668.97px;height:8.16px;background:repeating-linear-gradient(90deg,transparent 0 1.9px,rgba(52,118,190,.46) 1.9px 9.6px,transparent 9.6px 15.3px) 0px 0/49.3px 100% no-repeat,repeating-linear-gradient(90deg,rgba(52,118,190,.3) 0 8.7px,transparent 8.7px 20.8px,rgba(52,118,190,.3) 20.8px 24.1px) 49.3px 0/53.8px 100% no-repeat,repeating-linear-gradient(90deg,rgba(52,118,190,.29) 0 3.6px,transparent 3.6px 21.2px,rgba(52,118,190,.29) 21.2px 35.2px) 103px 0/52.9px 100% no-repeat,linear-gradient(90deg,#3a3a99 0%,#383695 .6%,#3c58ad .7%,#3b5daf 1.1%,#3d4ca7 1.3%,#3d52a9 1.8%,#3c44a1 2%,#3c44a1 2.1%,#3c46a3 2.4%,#3766b3 2.5%,#3767b3 3.1%,#3a5eaf 3.2%,#3a5fb0 3.6%,#3d49a5 3.8%,#3d4ea8 4.3%,#3962b1 4.5%,#3a5eaf 4.9%,#366ab5 5%,#3b5cae 5.6%,#3c46a2 5.7%,#3d49a5 6.1%,#3a3d9c 6.3%,#3c47a3 6.8%,#3c5aae 7%,#3b5cae 7.4%,#3370b8 7.5%,#3371b9 7.8%,#3371b9 8.1%,#3863b1 8.2%,#3a5daf 8.6%,#3c45a1 8.8%,#3b419f 9.3%,#3c48a4 9.9%,#3a60b0 10%,#3864b2 10.6%,#3175bc 10.7%,#3175bc 11%,#3174bb 11.2%,#3668b4 11.3%,#3669b4 11.9%,#3c55ab 12%,#3c44a1 13.1%,#3d4da7 13.2%,#3d52a9 13.7%,#3962b1 13.8%,#3963b1 14.4%,#346eb7 14.5%,#3c55ab 15.6%,#3b42a0 15.8%,#3a3e9d 16.2%,#373392 16.3%,#3a3e9c 17%,#3b5cae 17.6%,#3963b1 18%,#3273bb 18.1%,#3865b2 18.7%,#356db6 18.8%,#3962b1 19.4%,#3767b3 20.5%,#3b5bae 20.6%,#3b5cae 21.2%,#3d51a9 21.3%,#3d49a5 21.9%,#3273bb 22%,#1f95d0 22.3%,#12a4c8 22.5%,#1bacaf 22.6%,#3fb395 22.7%,#97bc6d 23%,#cfb956 23.3%,#e1b84d 23.4%,#f4b841 23.7%,#f8ba3d 24.1%,#efb844 24.4%,#deb84e 24.5%,#c2ba5c 24.7%,#9cbc6b 24.8%,#2cb09f 25.1%,#14a7bf 25.2%,#1e97d0 25.4%,#2885c7 25.5%,#179ecc 25.8%,#14a7c0 25.9%,#1dadad 26.1%,#35b29a 26.2%,#58b789 26.4%,#8ebc71 26.6%,#aebb64 26.9%,#b8ba60 27.2%,#b5bb61 27.3%,#9fbc6a 27.6%,#72bb7d 27.9%,#30b19d 28.2%,#1bacb0 28.3%,#13a6c2 28.5%,#189dcd 28.6%,#2291cd 28.7%,#3b5cae 29.4%,#3962b1 29.6%,#248dcc 30%,#1a9bce 30.1%,#13a5c4 30.3%,#16abb5 30.4%,#30b19d 30.7%,#44b493 31%,#41b494 31.2%,#2ab0a1 31.7%,#17abb3 31.9%,#14a1ca 32.2%,#1c99d1 32.4%,#248dcb 32.5%,#3c55ab 32.6%,#3c55ab 34.7%,#393a99 36.3%,#393a99 39.9%,#3c55ab 42%,#3c55ab 46%,#393a99 48.1%,#393a99 53.3%,#3c55ab 55.9%,#3c55ab 58.4%,#3c55ab 62.5%,#393a99 65.7%,#393a99 73.8%,#3c55ab 77.8%,#3c55ab 78.9%,#3c55ab 88.7%,#393a99 94.1%,#393a99 100%)"></i>
<i style="top:676.53px;height:8.16px;background:repeating-linear-gradient(90deg,rgba(52,118,190,.31) 0 4.2px,transparent 4.2px 12.6px,rgba(52,118,190,.31) 12.6px 16.9px) 0px 0/49.3px 100% no-repeat,repeating-linear-gradient(90deg,rgba(52,118,190,.43) 0 7.5px,transparent 7.5px 20.8px,rgba(52,118,190,.43) 20.8px 26.5px) 49.3px 0/53.8px 100% no-repeat,repeating-linear-gradient(90deg,rgba(52,118,190,.31) 0 5.3px,transparent 5.3px 16.8px,rgba(52,118,190,.31) 16.8px 23.1px) 103px 0/52.9px 100% no-repeat,linear-gradient(90deg,#3963b1 0%,#366ab5 .6%,#3c59ad .7%,#3c58ad 1.1%,#3c45a2 1.3%,#3b419e 1.8%,#3b5daf 2%,#3d49a4 3.1%,#362f8e 3.2%,#362f8e 3.3%,#373392 3.6%,#3c54aa 4.3%,#3273ba 4.5%,#2d7dc1 4.9%,#2f79be 5.6%,#3a5daf 5.7%,#3d50a8 6.8%,#3766b3 7%,#3766b2 8.1%,#3c55ab 8.2%,#3d52a9 8.6%,#3a3d9c 8.8%,#3a3d9c 8.9%,#3c44a1 9.9%,#3c58ac 10%,#3c5aae 10.6%,#366ab5 10.7%,#3961b0 11.9%,#3d51a9 12%,#3d51a9 12.4%,#3b43a0 12.6%,#3b3f9d 13.7%,#3c48a4 13.8%,#3c46a3 14.4%,#3c57ac 14.5%,#3b5cae 14.9%,#366ab5 15.1%,#3076bd 15.6%,#346fb8 16.2%,#3a5eaf 16.3%,#3c56ac 16.7%,#3c45a2 16.9%,#383594 18%,#3b409e 18.7%,#3d4da7 18.8%,#3c56ab 19.2%,#3863b1 19.4%,#3961b0 19.9%,#3768b4 20.1%,#3c57ac 21.3%,#3b5daf 21.8%,#3c54ab 21.9%,#2eb09e 22%,#80bc76 22.3%,#b5bb62 22.6%,#d1b955 22.9%,#e1b84c 23.3%,#d8b852 23.6%,#b0bb63 23.8%,#8ebc71 24%,#2ab0a1 24.3%,#14a7bf 24.4%,#1d98d1 24.5%,#346fb8 24.8%,#3c55ab 25.1%,#3b5cae 25.5%,#248ccb 26.6%,#1f96d0 27.2%,#258ccb 27.8%,#3b5bae 28.9%,#3c45a2 29.8%,#3863b1 30.4%,#248dcb 30.8%,#1b9acf 31%,#12a4c8 31.1%,#1aacb0 31.4%,#27afa4 31.7%,#25aea6 32.1%,#16abb5 32.5%,#393a99 32.6%,#393a99 34%,#3c55ab 35.7%,#3c55ab 39.5%,#393a99 41.6%,#393a99 46.2%,#3c55ab 48.5%,#3c55ab 54.4%,#393a99 57.5%,#393a99 64.9%,#3c55ab 68.6%,#3c55ab 78.4%,#393a99 83.3%,#393a99 96.7%,#3c48a4 100%)"></i>
<i style="top:684.08px;height:8.16px;background:repeating-linear-gradient(90deg,transparent 0 7px,rgba(52,118,190,.34) 7px 16.4px,transparent 16.4px 18.7px) 0px 0/49.3px 100% no-repeat,repeating-linear-gradient(90deg,rgba(52,118,190,.27) 0 6.1px,transparent 6.1px 20.8px,rgba(52,118,190,.27) 20.8px 29.4px) 49.3px 0/53.8px 100% no-repeat,repeating-linear-gradient(90deg,rgba(52,118,190,.47) 0 7.7px,transparent 7.7px 18.5px,rgba(52,118,190,.47) 18.5px 21.6px) 103px 0/52.9px 100% no-repeat,linear-gradient(90deg,#3b5daf 0%,#3b5cae .6%,#3d4ea7 .7%,#3c45a2 1.1%,#3961b0 1.3%,#3d50a9 2.4%,#373392 2.5%,#373190 2.8%,#383594 3.6%,#3d4fa8 3.8%,#3c56ab 4.3%,#3767b3 4.9%,#3c54aa 5%,#3b5bae 5.6%,#3d4fa8 5.7%,#3d4ba6 6.1%,#3c56ac 6.3%,#3d4da7 6.8%,#3a5eaf 7%,#3c57ac 8.1%,#3c48a4 8.2%,#3c48a3 8.6%,#383695 8.8%,#383594 9.5%,#393a99 9.9%,#3d4da7 10%,#3c5aae 10.6%,#346db7 10.7%,#346eb7 10.9%,#366ab5 11.9%,#3961b0 12%,#366ab5 12.4%,#3b5daf 12.6%,#3962b1 13.1%,#3c57ac 13.2%,#3d4da7 14.4%,#3c57ac 14.5%,#3c55ab 14.9%,#3961b0 15.1%,#3c58ad 15.6%,#3a5fb0 15.8%,#3c5aad 16%,#3962b1 17.3%,#3961b0 17.4%,#3c55ab 17.6%,#3d51a9 18%,#3c46a3 18.1%,#3b43a0 18.8%,#3c48a4 20.5%,#3c53aa 20.6%,#3d51a9 21.2%,#3b5bae 21.3%,#3b5bae 21.8%,#3863b1 21.9%,#a6bc67 22%,#b8ba60 22.3%,#c0ba5d 22.6%,#b1bb63 22.9%,#a0bc6a 23%,#83bc75 23.2%,#2cb09f 23.4%,#15a9ba 23.6%,#199cce 23.7%,#3175bc 24%,#3c59ad 24.3%,#3b409e 24.8%,#3c55ab 27.2%,#3b409e 29.4%,#3b409e 30.4%,#3b5cae 31.1%,#1b9ad0 31.8%,#13a6c1 32.1%,#18abb2 32.5%,#3c55ab 32.6%,#3c54aa 33.2%,#393a99 34.9%,#393a99 39.1%,#3c55ab 41.3%,#3c55ab 46.4%,#393a99 49.1%,#393a99 51.9%,#393a99 55.9%,#3c55ab 59.3%,#3c55ab 68.1%,#393a99 73.4%,#393a99 84.5%,#3c55ab 90.7%,#3c55ab 100%)"></i>
<i style="top:691.64px;height:8.16px;background:repeating-linear-gradient(90deg,transparent 0 0px,rgba(52,118,190,.37) 0px 10.5px,transparent 10.5px 21.1px) 0px 0/49.3px 100% no-repeat,repeating-linear-gradient(90deg,rgba(52,118,190,.37) 0 4.2px,transparent 4.2px 20.8px,rgba(52,118,190,.37) 20.8px 33.1px) 49.3px 0/53.8px 100% no-repeat,repeating-linear-gradient(90deg,rgba(52,118,190,.33) 0 17.3px,transparent 17.3px 35.1px,rgba(52,118,190,.33) 35.1px 35.7px) 103px 0/52.9px 100% no-repeat,linear-gradient(90deg,#3d4ea7 0%,#3d4ba6 .6%,#3767b3 .7%,#3b5cae 1.8%,#3b419e 2%,#3b409e 3.1%,#3c5aad 3.2%,#3962b1 4.3%,#3d50a9 4.5%,#3c55ab 4.9%,#3b43a0 5%,#3d50a9 5.7%,#3d4ea8 6.1%,#3a60b0 6.3%,#3b5cae 6.8%,#3669b4 7%,#3865b2 8.1%,#3c54ab 8.2%,#3c56ab 8.6%,#3c46a2 8.8%,#3b409e 9.5%,#3b419f 9.9%,#3d4ea7 10%,#3d4da7 10.6%,#3b5daf 10.7%,#3c57ac 11.2%,#3a5fb0 11.3%,#3b5bae 12.4%,#3d4fa8 12.6%,#3c53aa 13.1%,#3c45a2 13.2%,#3a3c9b 13.9%,#3c46a3 14.9%,#3c54ab 15.2%,#3c53aa 15.6%,#3a5eaf 15.8%,#3c58ac 18.1%,#3961b0 18.7%,#3b5bae 18.8%,#3865b2 19.2%,#3c5aad 19.4%,#3c52aa 19.9%,#3a3b9a 20.4%,#393897 20.8%,#3c45a2 21.9%,#98bc6d 22%,#8cbc72 22.2%,#77bb7a 22.3%,#58b789 22.5%,#30b19d 22.6%,#16abb4 22.7%,#14a1ca 22.9%,#2191ce 23%,#356cb6 23.3%,#3c55ab 23.6%,#3b42a0 24%,#3a3c9b 24.5%,#3d51a9 27.2%,#3d50a9 28.2%,#3b3f9d 29.4%,#3a3e9c 31%,#3d50a9 31.7%,#356bb6 32.1%,#2290cd 32.5%,#3c44a1 32.6%,#3c55ab 33.9%,#3c55ab 38.5%,#393a99 40.9%,#393a99 46.9%,#3c55ab 49.8%,#3c55ab 57.6%,#393a99 61.6%,#393a99 72.2%,#3c55ab 77.8%,#3c55ab 93.2%,#3a3e9d 100%)"></i>
<i style="top:699.2px;height:8.16px;background:repeating-linear-gradient(90deg,rgba(52,118,190,.27) 0 3px,transparent 3px 15.1px,rgba(52,118,190,.27) 15.1px 24.1px) 0px 0/49.3px 100% no-repeat,repeating-linear-gradient(90deg,rgba(52,118,190,.48) 0 1.7px,transparent 1.7px 19px,rgba(52,118,190,.48) 19px 34.6px) 49.3px 0/53.8px 100% no-repeat,repeating-linear-gradient(90deg,transparent 0 1.9px,rgba(52,118,190,.47) 1.9px 10.4px,transparent 10.4px 17px) 103px 0/52.9px 100% no-repeat,linear-gradient(90deg,#3767b3 0%,#3669b4 .6%,#3c59ad .7%,#3c56ac 1.1%,#3b3f9d 1.3%,#3c48a4 2.4%,#3a5faf 2.5%,#3c5aae 3.1%,#3961b1 3.2%,#3a5eaf 3.6%,#3d4ea7 3.8%,#3d4ba6 4.3%,#393796 4.5%,#393796 5%,#3b42a0 5.6%,#3c54ab 5.7%,#3c58ad 6.1%,#3669b4 6.3%,#3a5eaf 6.8%,#3a5eaf 7.4%,#3c54ab 7.5%,#3a5fb0 8.1%,#3c53aa 8.2%,#3c58ac 8.6%,#3d4ea7 8.8%,#3d4ea7 9.9%,#3c59ad 10%,#3c52aa 10.6%,#3961b0 10.7%,#2d7dc1 12%,#3865b2 13.1%,#3c58ad 13.2%,#3b5bae 13.7%,#3d4fa8 13.8%,#393897 15.1%,#3b409e 16.2%,#3d4ba6 16.3%,#3d4ba6 16.7%,#3c56ac 16.9%,#3c57ac 17.4%,#3a5faf 17.6%,#3c59ad 18%,#3768b4 19.2%,#3865b2 19.9%,#3b5cae 20.1%,#3c5aad 20.5%,#3d51a9 20.6%,#3c55ab 21.2%,#3d4ea7 21.9%,#13a5c4 22%,#1c99d0 22.2%,#3767b3 22.6%,#3d52a9 22.9%,#3b419f 23.3%,#3a3d9c 23.7%,#3c45a1 24.5%,#3c55ab 25.1%,#356cb6 25.5%,#228fcd 25.9%,#1a9bcf 26.1%,#12a5c6 26.2%,#16abb5 26.4%,#27afa4 26.5%,#7abc79 26.9%,#9fbc6a 27.2%,#acbb65 27.5%,#aabb66 27.8%,#93bc6f 28%,#67b982 28.3%,#2bb0a0 28.6%,#19acb1 28.7%,#13a6c2 28.9%,#189ecd 29%,#336fb8 29.1%,#3d4da7 30%,#3b409e 30.7%,#3a3d9c 31.5%,#3c44a1 32.1%,#3c55ab 32.5%,#393a99 32.6%,#393a99 37.9%,#3c55ab 40.6%,#3c55ab 47.3%,#393a99 50.8%,#393a99 51.9%,#393a99 60.1%,#3c55ab 65%,#3c55ab 78.4%,#393a99 85.6%,#393a99 100%)"></i>
<i style="top:706.76px;height:8.16px;background:repeating-linear-gradient(90deg,transparent 0 7px,rgba(52,118,190,.29) 7px 21.1px,transparent 21.1px 28.1px) 0px 0/49.3px 100% no-repeat,repeating-linear-gradient(90deg,transparent 0 10.9px,rgba(52,118,190,.5) 10.9px 22.5px,transparent 22.5px 23.2px) 49.3px 0/53.8px 100% no-repeat,repeating-linear-gradient(90deg,transparent 0 5.2px,rgba(52,118,190,.5) 5.2px 16px,transparent 16px 21.7px) 103px 0/52.9px 100% no-repeat,linear-gradient(90deg,#3d4ea7 0%,#3c47a3 1.1%,#3c58ac 1.3%,#3d4fa8 1.8%,#3960b0 2%,#3c57ac 3.1%,#3c45a2 3.2%,#3c46a2 3.6%,#383493 3.8%,#373392 3.9%,#393a99 4.9%,#3d49a5 5%,#3d4da7 5.6%,#3a5eaf 5.7%,#3b5cae 6.1%,#3864b2 6.3%,#3c55ab 7%,#3c55ab 7.4%,#3d49a4 7.5%,#3d4aa5 8.1%,#393a99 8.2%,#36308f 8.9%,#393a99 9.9%,#3b43a0 10%,#3b43a0 10.6%,#3d50a8 10.7%,#3c53aa 11.2%,#3961b0 11.3%,#3766b2 11.9%,#3370b9 12%,#3272ba 12.3%,#3371b9 13.1%,#3767b3 13.2%,#3766b3 13.7%,#3b5cae 13.8%,#3c59ad 14.4%,#3d50a8 14.5%,#3d49a5 15.6%,#3b429f 15.8%,#393998 16.5%,#393998 16.7%,#3864b2 18.1%,#3b5bae 18.7%,#3962b1 18.8%,#3b5daf 19.2%,#3766b2 20.8%,#3962b1 21.8%,#3c44a1 22.5%,#3a3d9c 22.9%,#3b43a0 23.4%,#3c56ab 24%,#3766b3 24.3%,#2191ce 24.7%,#16a0cb 24.8%,#15a9b9 25%,#2bb0a0 25.1%,#89bc73 25.4%,#d1b955 25.7%,#ecb846 25.8%,#f9bb3c 25.9%,#f7e028 26.5%,#f3ee2b 27.2%,#f4ea2a 28.3%,#f6e229 28.6%,#fdc632 29%,#4db68e 29.1%,#24aea7 29.4%,#16abb5 29.6%,#13a6c3 29.7%,#2094cf 30%,#3767b3 30.5%,#3c52aa 31%,#3b43a0 31.5%,#3a3d9c 32.2%,#3b3f9d 32.5%,#3c55ab 32.6%,#3c55ab 37%,#393a99 40%,#393a99 48%,#3c55ab 52.9%,#3c55ab 63.7%,#393a99 69.9%,#393a99 88%,#3c55ab 100%)"></i>
<i style="top:714.32px;height:4.38px;background:repeating-linear-gradient(90deg,rgba(52,118,190,.51) 0 12.6px,transparent 12.6px 29.5px,rgba(52,118,190,.51) 29.5px 33.7px) 0px 0/49.3px 100% no-repeat,repeating-linear-gradient(90deg,transparent 0 14.5px,rgba(52,118,190,.37) 14.5px 32.9px,transparent 32.9px 36.9px) 49.3px 0/53.8px 100% no-repeat,repeating-linear-gradient(90deg,transparent 0 6.9px,rgba(52,118,190,.34) 6.9px 16.4px,transparent 16.4px 18.9px) 103px 0/52.9px 100% no-repeat,linear-gradient(90deg,#3d52a9 0%,#3c53aa .6%,#3669b4 .7%,#3767b3 1.1%,#3273bb 1.8%,#3766b2 2%,#3668b4 2.4%,#3c58ad 2.5%,#3c5aae 3.1%,#3d50a9 3.2%,#3d52a9 3.8%,#3d49a5 4.3%,#3c54aa 4.5%,#3d4da7 4.9%,#3b5cae 5%,#3b5daf 5.6%,#3668b4 5.7%,#346db7 6.3%,#3b5bae 7.4%,#3d4fa8 7.5%,#3c55ab 8.1%,#3d4ba6 8.2%,#3d51a9 8.6%,#3d4da7 9.6%,#3a3c9b 10.6%,#3c45a2 10.7%,#3c45a1 11.2%,#3d51a9 11.3%,#3c56ab 11.9%,#3a5eaf 12%,#336fb8 13.7%,#3865b2 14.9%,#3b5bae 15.1%,#3c58ad 15.6%,#3d50a9 15.8%,#3c52aa 16.7%,#3b3f9d 18%,#3c54ab 19.4%,#3d4ba6 20.5%,#3d50a9 20.6%,#3c44a1 21.2%,#3c45a1 21.8%,#3d4ca7 21.9%,#3b3f9d 22%,#3b3f9d 22.2%,#3d49a4 22.7%,#3b5bae 23.2%,#3371b9 23.4%,#2191cd 23.7%,#15a0cb 23.8%,#16aab6 24%,#32b19c 24.1%,#94bc6f 24.4%,#baba60 24.5%,#f2b843 24.8%,#fbbc3a 25%,#f9d92a 25.5%,#f7df28 25.9%,#f9d72a 26.2%,#fbbc3a 26.6%,#f1b843 26.8%,#bcba5f 27.1%,#bcba5f 27.3%,#a6bc67 27.6%,#92bc6f 27.8%,#8dbc71 27.9%,#d1b955 28.2%,#ebb846 28.3%,#fdc334 28.6%,#f8dc29 29%,#82bc76 29.1%,#7cbc78 29.6%,#6eba7f 29.8%,#51b68c 30.1%,#28afa3 30.4%,#14a7bf 30.7%,#1e96d0 31%,#3a5eaf 31.7%,#393a99 32.6%,#393a99 35.8%,#3c55ab 39.3%,#3c55ab 49%,#393a99 55.1%,#393a99 69.2%,#3c55ab 77.7%,#3c55ab 100%)"></i>
<b style="left:159.7px;width:71.4px;top:-3.78px;height:721.9px;background:linear-gradient(90deg,transparent 0% 3.2%,transparent 3.2% 6.5%,transparent 6.5% 9.7%,transparent 9.7% 12.9%,rgba(74,182,150,.6) 12.9% 16.1%,transparent 16.1% 19.4%,rgba(40,165,200,.46) 19.4% 22.6%,transparent 22.6% 25.8%,transparent 25.8% 29%,rgba(54,50,146,.23) 29% 32.3%,transparent 32.3% 35.5%,transparent 35.5% 38.7%,transparent 38.7% 41.9%,rgba(54,50,146,.29) 41.9% 45.2%,transparent 45.2% 48.4%,transparent 48.4% 51.6%,rgba(74,182,150,.3) 51.6% 54.8%,transparent 54.8% 58.1%,rgba(54,50,146,.44) 58.1% 61.3%,rgba(74,182,150,.48) 61.3% 64.5%,rgba(74,182,150,.53) 64.5% 67.7%,rgba(54,50,146,.35) 67.7% 71%,transparent 71% 74.2%,transparent 74.2% 77.4%,transparent 77.4% 80.6%,transparent 80.6% 83.9%,rgba(74,182,150,.53) 83.9% 87.1%,transparent 87.1% 90.3%,rgba(74,182,150,.48) 90.3% 93.5%,transparent 93.5% 96.8%,transparent 96.8% 100%);-webkit-mask-image:repeating-linear-gradient(180deg,#000 0 7.56px,transparent 7.56px 30.24px);mask-image:repeating-linear-gradient(180deg,#000 0 7.56px,transparent 7.56px 30.24px)"></b>
<b style="left:159.7px;width:71.4px;top:3.78px;height:714.3px;background:linear-gradient(90deg,rgba(74,182,150,.55) 0% 3.2%,transparent 3.2% 6.5%,transparent 6.5% 9.7%,transparent 9.7% 12.9%,rgba(54,50,146,.28) 12.9% 16.1%,rgba(40,165,200,.39) 16.1% 19.4%,rgba(74,182,150,.36) 19.4% 22.6%,rgba(54,50,146,.46) 22.6% 25.8%,rgba(54,50,146,.39) 25.8% 29%,transparent 29% 32.3%,rgba(54,50,146,.22) 32.3% 35.5%,rgba(54,50,146,.33) 35.5% 38.7%,transparent 38.7% 41.9%,transparent 41.9% 45.2%,transparent 45.2% 48.4%,transparent 48.4% 51.6%,transparent 51.6% 54.8%,rgba(40,165,200,.57) 54.8% 58.1%,transparent 58.1% 61.3%,rgba(54,50,146,.47) 61.3% 64.5%,rgba(54,50,146,.5) 64.5% 67.7%,transparent 67.7% 71%,rgba(74,182,150,.46) 71% 74.2%,rgba(54,50,146,.43) 74.2% 77.4%,rgba(40,165,200,.55) 77.4% 80.6%,transparent 80.6% 83.9%,transparent 83.9% 87.1%,rgba(54,50,146,.21) 87.1% 90.3%,rgba(40,165,200,.48) 90.3% 93.5%,rgba(54,50,146,.39) 93.5% 96.8%,transparent 96.8% 100%);-webkit-mask-image:repeating-linear-gradient(180deg,#000 0 7.56px,transparent 7.56px 30.24px);mask-image:repeating-linear-gradient(180deg,#000 0 7.56px,transparent 7.56px 30.24px)"></b>
<b style="left:159.7px;width:71.4px;top:11.34px;height:706.8px;background:linear-gradient(90deg,rgba(40,165,200,.5) 0% 3.2%,transparent 3.2% 6.5%,transparent 6.5% 9.7%,transparent 9.7% 12.9%,transparent 12.9% 16.1%,rgba(54,50,146,.4) 16.1% 19.4%,transparent 19.4% 22.6%,transparent 22.6% 25.8%,transparent 25.8% 29%,transparent 29% 32.3%,transparent 32.3% 35.5%,transparent 35.5% 38.7%,transparent 38.7% 41.9%,transparent 41.9% 45.2%,transparent 45.2% 48.4%,transparent 48.4% 51.6%,rgba(54,50,146,.34) 51.6% 54.8%,rgba(74,182,150,.54) 54.8% 58.1%,transparent 58.1% 61.3%,transparent 61.3% 64.5%,rgba(54,50,146,.45) 64.5% 67.7%,transparent 67.7% 71%,transparent 71% 74.2%,rgba(74,182,150,.41) 74.2% 77.4%,transparent 77.4% 80.6%,transparent 80.6% 83.9%,transparent 83.9% 87.1%,transparent 87.1% 90.3%,transparent 90.3% 93.5%,transparent 93.5% 96.8%,transparent 96.8% 100%);-webkit-mask-image:repeating-linear-gradient(180deg,#000 0 7.56px,transparent 7.56px 30.24px);mask-image:repeating-linear-gradient(180deg,#000 0 7.56px,transparent 7.56px 30.24px)"></b>
<b style="left:159.7px;width:71.4px;top:18.90px;height:699.2px;background:linear-gradient(90deg,transparent 0% 3.2%,transparent 3.2% 6.5%,transparent 6.5% 9.7%,transparent 9.7% 12.9%,rgba(74,182,150,.31) 12.9% 16.1%,rgba(54,50,146,.33) 16.1% 19.4%,transparent 19.4% 22.6%,rgba(54,50,146,.3) 22.6% 25.8%,transparent 25.8% 29%,transparent 29% 32.3%,rgba(40,165,200,.43) 32.3% 35.5%,transparent 35.5% 38.7%,transparent 38.7% 41.9%,rgba(74,182,150,.34) 41.9% 45.2%,rgba(54,50,146,.39) 45.2% 48.4%,rgba(74,182,150,.31) 48.4% 51.6%,transparent 51.6% 54.8%,rgba(74,182,150,.27) 54.8% 58.1%,transparent 58.1% 61.3%,transparent 61.3% 64.5%,transparent 64.5% 67.7%,transparent 67.7% 71%,rgba(40,165,200,.52) 71% 74.2%,transparent 74.2% 77.4%,rgba(54,50,146,.35) 77.4% 80.6%,transparent 80.6% 83.9%,transparent 83.9% 87.1%,rgba(74,182,150,.3) 87.1% 90.3%,transparent 90.3% 93.5%,transparent 93.5% 96.8%,transparent 96.8% 100%);-webkit-mask-image:repeating-linear-gradient(180deg,#000 0 7.56px,transparent 7.56px 30.24px);mask-image:repeating-linear-gradient(180deg,#000 0 7.56px,transparent 7.56px 30.24px)"></b>
</div>
<div style="position:absolute;left:1951.3px;top:65.9px;width:50.3px;height:719.2px;background:linear-gradient(0deg,#362f8e 0.00%,#362f8e 1.56%,#373392 1.56%,#373392 3.12%,#393796 3.12%,#393796 4.69%,#3a3b9a 4.69%,#3a3b9a 6.25%,#3b409e 6.25%,#3b409e 7.81%,#3c45a1 7.81%,#3c45a1 9.38%,#3d4aa5 9.38%,#3d4aa5 10.94%,#3d4ea8 10.94%,#3d4ea8 12.50%,#3c53aa 12.50%,#3c53aa 14.06%,#3c57ac 14.06%,#3c57ac 15.62%,#3b5bae 15.62%,#3b5bae 17.19%,#3a60b0 17.19%,#3a60b0 18.75%,#3864b2 18.75%,#3864b2 20.31%,#3669b4 20.31%,#3669b4 21.88%,#346eb7 21.88%,#346eb7 23.44%,#3273bb 23.44%,#3273bb 25.00%,#2f78be 25.00%,#2f78be 26.56%,#2c7ec2 26.56%,#2c7ec2 28.12%,#2a83c6 28.12%,#2a83c6 29.69%,#2789c9 29.69%,#2789c9 31.25%,#248ecc 31.25%,#248ecc 32.81%,#2093ce 32.81%,#2093ce 34.38%,#1d98d1 34.38%,#1d98d1 35.94%,#1a9cce 35.94%,#1a9cce 37.50%,#169fcb 37.50%,#169fcb 39.06%,#13a3c9 39.06%,#13a3c9 40.62%,#13a6c3 40.62%,#13a6c3 42.19%,#14a8bd 42.19%,#14a8bd 43.75%,#16aab6 43.75%,#16aab6 45.31%,#1bacb0 45.31%,#1bacb0 46.88%,#22aea9 46.88%,#22aea9 48.44%,#29afa2 48.44%,#29afa2 50.00%,#33b19c 50.00%,#33b19c 51.56%,#40b395 51.56%,#40b395 53.12%,#4db68e 53.12%,#4db68e 54.69%,#59b888 54.69%,#59b888 56.25%,#66b982 56.25%,#66b982 57.81%,#72bb7d 57.81%,#72bb7d 59.38%,#7ebc77 59.38%,#7ebc77 60.94%,#89bc73 60.94%,#89bc73 62.50%,#94bc6e 62.50%,#94bc6e 64.06%,#9fbc6a 64.06%,#9fbc6a 65.62%,#a9bb66 65.62%,#a9bb66 67.19%,#b3bb62 67.19%,#b3bb62 68.75%,#bdba5e 68.75%,#bdba5e 70.31%,#c6b95a 70.31%,#c6b95a 71.88%,#cfb956 71.88%,#cfb956 73.44%,#d9b851 73.44%,#d9b851 75.00%,#e1b84d 75.00%,#e1b84d 76.56%,#e8b848 76.56%,#e8b848 78.12%,#f0b844 78.12%,#f0b844 79.69%,#f5b940 79.69%,#f5b940 81.25%,#f8bb3d 81.25%,#f8bb3d 82.81%,#fbbc3a 82.81%,#fbbc3a 84.38%,#fdbf37 84.38%,#fdbf37 85.94%,#fdc334 85.94%,#fdc334 87.50%,#fdc831 87.50%,#fdc831 89.06%,#fccd2e 89.06%,#fccd2e 90.62%,#fbd32c 90.62%,#fbd32c 92.19%,#f9d92a 92.19%,#f9d92a 93.75%,#f7df28 93.75%,#f7df28 95.31%,#f6e429 95.31%,#f6e429 96.88%,#f4ea2a 96.88%,#f4ea2a 98.44%,#f3ef2b 98.44%,#f3ef2b 100.00%)"></div>
<svg width="2070" height="918" viewBox="0 0 2070 918">
<path d="M221.2 66.2v10.3M221.2 784.3v-10.3M266.0 66.2v10.3M266.0 784.3v-10.3M310.8 66.2v10.3M310.8 784.3v-10.3M355.6 66.2v17.9M355.6 784.3v-17.9M400.4 66.2v10.3M400.4 784.3v-10.3M445.2 66.2v10.3M445.2 784.3v-10.3M490.0 66.2v10.3M490.0 784.3v-10.3M534.8 66.2v17.9M534.8 784.3v-17.9M579.6 66.2v10.3M579.6 784.3v-10.3M624.4 66.2v10.3M624.4 784.3v-10.3M669.2 66.2v10.3M669.2 784.3v-10.3M714.0 66.2v17.9M714.0 784.3v-17.9M758.8 66.2v10.3M758.8 784.3v-10.3M803.6 66.2v10.3M803.6 784.3v-10.3M848.4 66.2v10.3M848.4 784.3v-10.3M176.4 773.4h17.9M893.2 773.4h-17.9M176.4 719.1h10.3M893.2 719.1h-10.3M176.4 664.8h17.9M893.2 664.8h-17.9M176.4 610.4h10.3M893.2 610.4h-10.3M176.4 556.1h17.9M893.2 556.1h-17.9M176.4 501.8h10.3M893.2 501.8h-10.3M176.4 447.4h17.9M893.2 447.4h-17.9M176.4 393.1h10.3M893.2 393.1h-10.3M176.4 338.8h17.9M893.2 338.8h-17.9M176.4 284.5h10.3M893.2 284.5h-10.3M176.4 230.1h17.9M893.2 230.1h-17.9M176.4 175.8h10.3M893.2 175.8h-10.3M176.4 121.5h17.9M893.2 121.5h-17.9M1210.6 66.2v10.3M1210.6 784.3v-10.3M1255.4 66.2v10.3M1255.4 784.3v-10.3M1300.2 66.2v10.3M1300.2 784.3v-10.3M1345.0 66.2v17.9M1345.0 784.3v-17.9M1389.8 66.2v10.3M1389.8 784.3v-10.3M1434.6 66.2v10.3M1434.6 784.3v-10.3M1479.4 66.2v10.3M1479.4 784.3v-10.3M1524.2 66.2v17.9M1524.2 784.3v-17.9M1569.0 66.2v10.3M1569.0 784.3v-10.3M1613.8 66.2v10.3M1613.8 784.3v-10.3M1658.6 66.2v10.3M1658.6 784.3v-10.3M1703.4 66.2v17.9M1703.4 784.3v-17.9M1748.2 66.2v10.3M1748.2 784.3v-10.3M1793.0 66.2v10.3M1793.0 784.3v-10.3M1837.8 66.2v10.3M1837.8 784.3v-10.3M1165.8 746.5h10.3M1882.9 746.5h-10.3M1165.8 708.7h10.3M1882.9 708.7h-10.3M1165.8 670.9h17.9M1882.9 670.9h-17.9M1165.8 633.1h10.3M1882.9 633.1h-10.3M1165.8 595.3h10.3M1882.9 595.3h-10.3M1165.8 557.5h10.3M1882.9 557.5h-10.3M1165.8 519.7h17.9M1882.9 519.7h-17.9M1165.8 481.9h10.3M1882.9 481.9h-10.3M1165.8 444.1h10.3M1882.9 444.1h-10.3M1165.8 406.4h10.3M1882.9 406.4h-10.3M1165.8 368.6h17.9M1882.9 368.6h-17.9M1165.8 330.8h10.3M1882.9 330.8h-10.3M1165.8 293.0h10.3M1882.9 293.0h-10.3M1165.8 255.2h10.3M1882.9 255.2h-10.3M1165.8 217.4h17.9M1882.9 217.4h-17.9M1165.8 179.6h10.3M1882.9 179.6h-10.3M1165.8 141.8h10.3M1882.9 141.8h-10.3M1165.8 104.0h10.3M1882.9 104.0h-10.3" stroke="#fff" stroke-width="4.6" fill="none"/>
<clipPath id="ca"><rect x="176.4" y="66.2" width="716.8" height="718.1"/></clipPath>
<clipPath id="c1"><polygon points="176.4,66.2 893.2,66.2 893.2,150.8 176.4,731.0"/></clipPath>
<g clip-path="url(#c1)" stroke="#3f7fc4" fill="none" stroke-linecap="round"><path d="M378.0 458.2L646.8 143.6" stroke-opacity="0.27" stroke-width="3.0"/><path d="M310.8 395.4L490.0 59.9" stroke-opacity="0.24" stroke-width="3.0"/><path d="M283.9 374.8L449.7 59.2" stroke-opacity="0.17" stroke-width="3.0"/><path d="M248.1 398.6L404.9 65.8" stroke-opacity="0.12" stroke-width="4.0"/><path d="M248.1 456.1L382.5 65.0" stroke-opacity="0.10" stroke-width="4.0"/></g>
<g clip-path="url(#ca)" fill="none" stroke="#fff" stroke-width="5"><path d="M176.4 737.0 L893.2 156.8" stroke-dasharray="22.5 8.3 6 8.8"/><path d="M269.9 787.6L271.8 786.1L273.8 784.5L275.8 783.0L277.8 781.5L279.8 780.1L281.9 778.6L283.9 777.2L285.9 775.7L288.0 774.3L290.0 772.8M304.9 758.6L306.6 756.8L308.3 754.9L310.0 753.1L311.8 751.4L313.7 749.8L315.6 748.1L317.4 746.4L319.1 744.6L320.8 742.7L322.4 740.8M336.4 725.7L337.8 723.6L339.4 721.6L340.9 719.7L342.5 717.8L344.2 715.9L345.9 714.1L347.5 712.2L349.0 710.1L350.3 708.0L351.5 705.8M363.1 688.8L364.1 686.4L365.3 684.2L366.7 682.1L368.3 680.2L370.0 678.4L371.7 676.5L373.3 674.5L374.6 672.4L375.7 670.1L376.6 667.7M387.2 650.1L387.9 647.6L388.8 645.2L390.1 643.1L391.7 641.1L393.5 639.2L395.3 637.4L396.8 635.4L398.1 633.3L399.0 630.9L399.8 628.4M410.2 610.7L411.0 608.2L411.9 605.8L413.3 603.7L415.0 601.9L417.1 600.2L419.1 598.6L420.8 596.7L422.2 594.6L423.2 592.3L424.0 589.8M436.4 573.4L437.4 570.9L438.6 568.7L440.2 566.8L442.2 565.2L444.5 563.9L446.7 562.5L448.8 560.9L450.4 559.0L451.6 556.8L452.6 554.3M465.8 538.6L466.8 536.1L468.0 533.9L469.6 532.0L471.6 530.4L473.9 529.1L476.2 527.8L478.3 526.3L480.0 524.4L481.3 522.2L482.3 519.8M496.2 504.5L497.2 502.1L498.6 499.9L500.2 498.1L502.5 496.7L505.0 495.7L507.4 494.7L509.7 493.5L511.6 491.9L513.2 489.9L514.5 487.7M530.3 474.4L531.7 472.2L533.3 470.2L535.2 468.6L537.4 467.3L539.9 466.4L542.3 465.4L544.6 464.2L546.5 462.6L548.1 460.6L549.4 458.3M565.1 444.9L566.5 442.7L568.0 440.7L569.9 439.0L572.1 437.8L574.6 436.8L577.0 435.8L579.2 434.5L581.1 432.9L582.7 430.8L584.0 428.6M599.6 415.1L601.0 412.9L602.5 410.8L604.4 409.2L606.6 407.9L609.1 406.9L611.5 405.9L613.7 404.7L615.6 403.0L617.2 401.0L618.5 398.8M634.2 385.4L635.6 383.2L637.2 381.2L639.1 379.6L641.3 378.4L643.8 377.4L646.2 376.4L648.5 375.2L650.4 373.6L652.0 371.6L653.3 369.3M669.1 356.1L670.5 353.8L672.1 351.8L674.0 350.2L676.2 349.0L678.7 348.0L681.1 347.1L683.4 345.8L685.3 344.2L686.9 342.2L688.3 340.0M704.1 326.8L705.5 324.6L707.1 322.6L709.0 321.0L711.2 319.8L713.7 318.8L716.1 317.8L718.4 316.6L720.3 315.0L721.9 313.0L723.3 310.8M739.1 297.6L740.5 295.4L742.1 293.4L744.0 291.8L746.3 290.6L748.7 289.6L751.2 288.6L753.4 287.4L755.3 285.8L756.9 283.8L758.3 281.6M774.0 268.3L775.4 266.0L777.0 264.0L778.9 262.4L781.1 261.2L783.6 260.2L786.0 259.2L788.2 258.0L790.1 256.4L791.7 254.4L793.1 252.1M808.8 238.8L810.2 236.5L811.7 234.5L813.7 232.9L815.9 231.7L818.3 230.7L820.8 229.7L823.0 228.5L824.9 226.8L826.5 224.8L827.9 222.6M843.6 209.3L844.9 207.0L846.5 205.0L848.4 203.4L850.7 202.2L853.1 201.2L855.5 200.2L857.8 199.0L859.7 197.3L861.2 195.3L862.6 193.1M878.3 179.8L879.7 177.5L881.3 175.5L883.2 173.9L885.4 172.7L887.9 171.7L890.3 170.7L892.5 169.4L894.1 168.1L893.7 167.8L893.2 167.1" stroke-linejoin="round"/></g>
<g fill="none" stroke="#fff" stroke-width="5"><path d="M1323.0 66.2V784.3" stroke-dasharray="22.5 8.3 6 8.8" stroke-dashoffset="-12.5"/><path d="M1399.4 66.2V784.3" stroke-dasharray="25 20.6" stroke-dashoffset="-8.5"/></g>
<g fill="none" stroke="#000" stroke-width="4.7" stroke-linejoin="round"><rect x="176.4" y="66.2" width="716.8" height="718.1"/><rect x="1165.8" y="66.2" width="717.1" height="718.1"/></g>
<rect x="1951.3" y="65.9" width="50.3" height="719.2" fill="none" stroke="#565a5f" stroke-width="2.4"/>
<path d="M2001.6 641.3h-5M2001.6 497.4h-5M2001.6 353.6h-5M2001.6 209.7h-5" stroke="#565a5f" stroke-width="2.4"/>
<text class="ti" x="535" y="36" text-anchor="middle">(a) Reflectance - in membrane</text>
<text class="ti" x="1524.5" y="36" text-anchor="middle">(b) Reflectance - in membrane</text>
<text class="ti" x="536" y="905.9" text-anchor="middle">Wavelength (nm)</text>
<text class="ti" x="1525.5" y="905.9" text-anchor="middle">Wavelength (nm)</text>
<text class="ti" transform="translate(36.5 400.5) rotate(-90)" text-anchor="middle">Pitch, p (nm)</text>
<text class="ti" transform="translate(1003 399.5) rotate(-90)" text-anchor="middle">Length, L (nm)</text>
<text class="tk" x="173.4" y="844.3" text-anchor="middle">400</text>
<text class="tk" x="1162.8" y="844.3" text-anchor="middle">400</text>
<text class="tk" x="352.6" y="844.3" text-anchor="middle">800</text>
<text class="tk" x="1342.0" y="844.3" text-anchor="middle">800</text>
<text class="tk" x="531.8" y="844.3" text-anchor="middle">1200</text>
<text class="tk" x="1521.2" y="844.3" text-anchor="middle">1200</text>
<text class="tk" x="711.0" y="844.3" text-anchor="middle">1600</text>
<text class="tk" x="1700.4" y="844.3" text-anchor="middle">1600</text>
<text class="tk" x="890.2" y="844.3" text-anchor="middle">2000</text>
<text class="tk" x="1879.6" y="844.3" text-anchor="middle">2000</text>
<text class="tk" x="151.5" y="787.9" text-anchor="end">200</text>
<text class="tk" x="151.5" y="679.2" text-anchor="end">400</text>
<text class="tk" x="151.5" y="570.6" text-anchor="end">600</text>
<text class="tk" x="151.5" y="461.9" text-anchor="end">800</text>
<text class="tk" x="151.5" y="353.3" text-anchor="end">1000</text>
<text class="tk" x="151.5" y="244.6" text-anchor="end">1200</text>
<text class="tk" x="151.5" y="136.0" text-anchor="end">1400</text>
<text class="tk" x="1141" y="685.4" text-anchor="end">2000</text>
<text class="tk" x="1141" y="534.2" text-anchor="end">4000</text>
<text class="tk" x="1141" y="383.1" text-anchor="end">6000</text>
<text class="tk" x="1141" y="231.9" text-anchor="end">8000</text>
<text class="tk" x="1141" y="80.7" text-anchor="end">10000</text>
<text class="cb" x="2011" y="795.6">0</text>
<text class="cb" x="2011" y="651.8">0.2</text>
<text class="cb" x="2011" y="507.9">0.4</text>
<text class="cb" x="2011" y="364.1">0.6</text>
<text class="cb" x="2011" y="220.2">0.8</text>
<text class="cb" x="2011" y="76.4">1</text>
</svg>
</body></html>
